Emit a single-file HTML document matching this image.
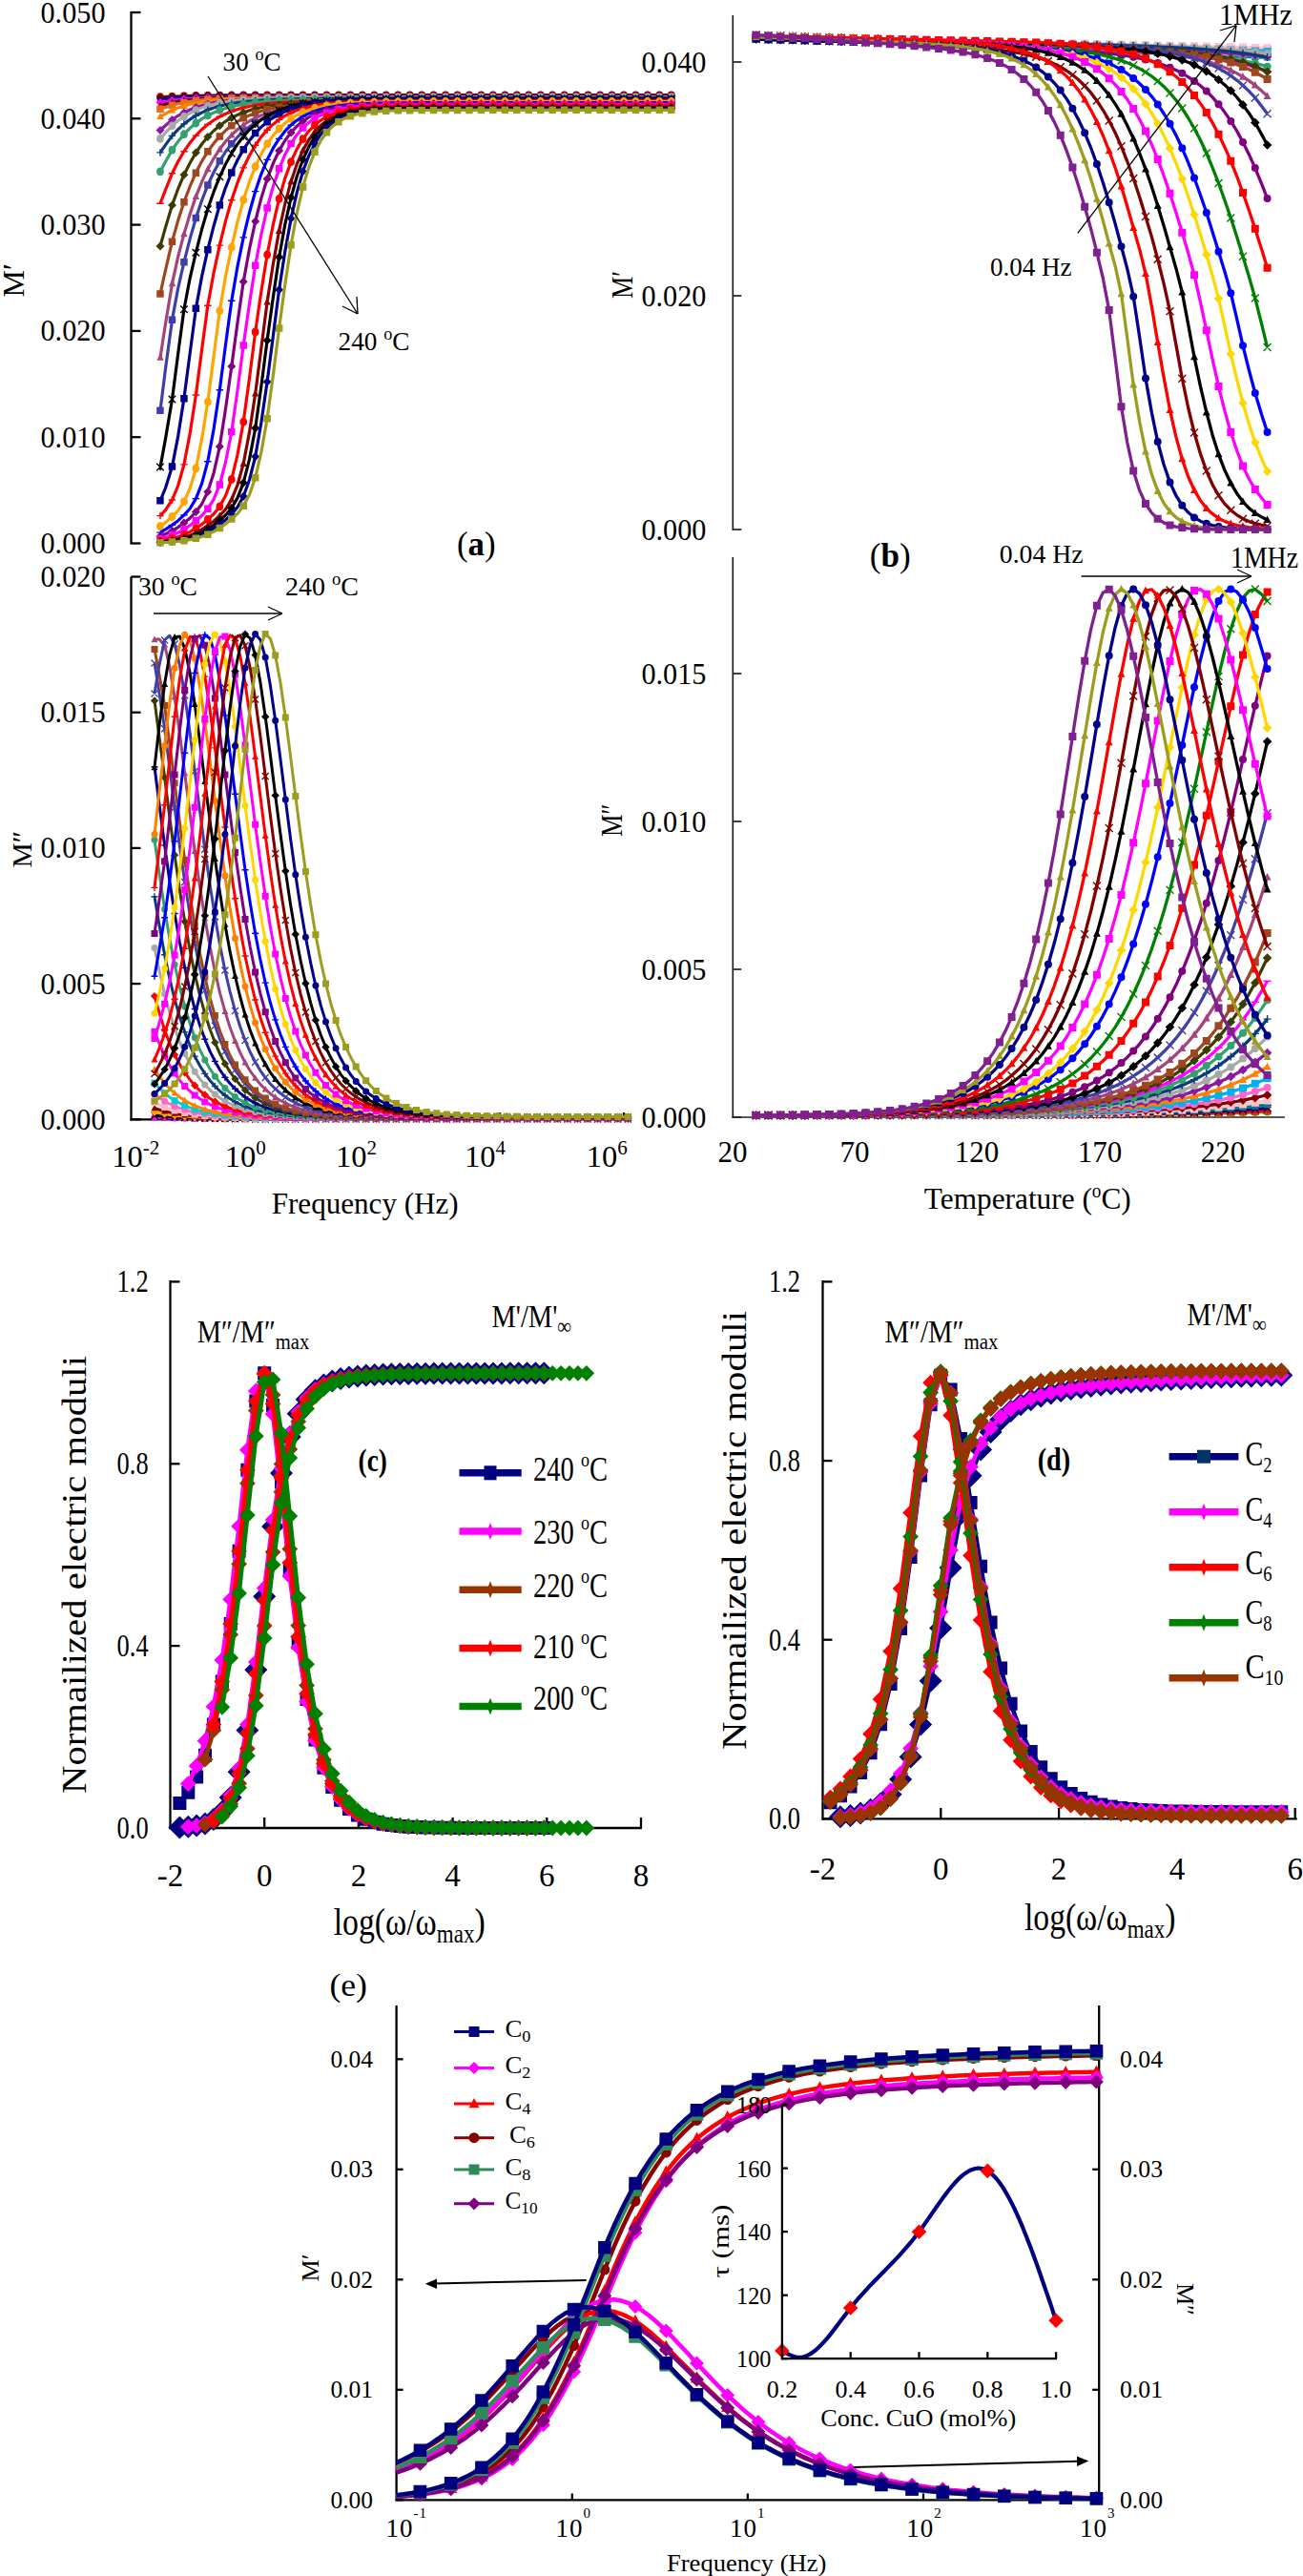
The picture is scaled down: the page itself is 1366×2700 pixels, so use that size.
<!DOCTYPE html>
<html><head><meta charset="utf-8"><title>Electric modulus figure</title>
<style>html,body{margin:0;padding:0;background:#fff;}svg{display:block;}text{font-family:"Liberation Serif", serif;}</style>
</head><body>
<svg width="1366" height="2700" viewBox="0 0 1366 2700" font-family='"Liberation Serif", serif'>
<rect width="1366" height="2700" fill="#fff"/>
<path d="M168 100.9l5.5 -0.2 7 -0.2 6.2 -0.1 6.2 -0.1 6.3 -0.1 6.2 -0.1 6.2 0 6.2 -0.1 6.3 0 6.2 -0.1 6.2 0 6.3 0 6.2 0 6.2 0 6.3 0 6.2 -0.1 6.2 0 6.2 0 6.3 0 6.2 0 6.2 0 6.3 0 6.2 0 6.2 0 6.3 0 6.2 0 6.2 0 6.2 0 6.3 0 6.2 0 6.2 0 6.3 0 6.2 0 6.2 0 6.3 0 6.2 0 6.2 0 6.2 0 6.3 0 6.2 0 6.2 0 6.3 0 6.2 0 6.2 0 6.3 0 6.2 0 6.2 0 6.3 0 6.2 0 6.2 0 6.2 0 6.3 0 6.2 0 6.2 0 6.3 0 6.2 0 6.2 0 6.3 0 6.2 0 6.2 0 6.2 0 6.3 0 6.2 0 6.2 0 6.3 0 6.2 0 6.2 0 6.3 0 6.2 0 6.2 0 6.2 0 6.3 0 6.2 0 6.2 0 6.3 0 6.2 0 6.2 0 6.3 0 6.2 0 6.2 0 6.2 0 6.3 0 6.2 0 6.2 0 7 0 5.5 0" fill="none" stroke="#FFC896" stroke-width="3.2" stroke-linejoin="round"/>
<path d="M164.2 97.2h7.5v7.5h-7.5zM176.7 96.8h7.5v7.5h-7.5zM189.2 96.5h7.5v7.5h-7.5zM201.6 96.4h7.5v7.5h-7.5zM214.1 96.3h7.5v7.5h-7.5zM226.6 96.2h7.5v7.5h-7.5zM239 96.1h7.5v7.5h-7.5zM251.5 96.1h7.5v7.5h-7.5zM263.9 96.1h7.5v7.5h-7.5zM276.4 96.1h7.5v7.5h-7.5zM288.9 96.1h7.5v7.5h-7.5zM301.3 96.1h7.5v7.5h-7.5zM313.8 96.1h7.5v7.5h-7.5zM326.2 96.1h7.5v7.5h-7.5zM338.7 96.1h7.5v7.5h-7.5zM351.2 96.1h7.5v7.5h-7.5zM363.6 96.1h7.5v7.5h-7.5zM376.1 96.1h7.5v7.5h-7.5zM388.5 96.1h7.5v7.5h-7.5zM401 96.1h7.5v7.5h-7.5zM413.5 96.1h7.5v7.5h-7.5zM425.9 96.1h7.5v7.5h-7.5zM438.4 96.1h7.5v7.5h-7.5zM450.8 96.1h7.5v7.5h-7.5zM463.3 96.1h7.5v7.5h-7.5zM475.8 96.1h7.5v7.5h-7.5zM488.2 96.1h7.5v7.5h-7.5zM500.7 96.1h7.5v7.5h-7.5zM513.1 96.1h7.5v7.5h-7.5zM525.6 96.1h7.5v7.5h-7.5zM538.1 96.1h7.5v7.5h-7.5zM550.5 96.1h7.5v7.5h-7.5zM563 96.1h7.5v7.5h-7.5zM575.4 96.1h7.5v7.5h-7.5zM587.9 96.1h7.5v7.5h-7.5zM600.4 96.1h7.5v7.5h-7.5zM612.8 96.1h7.5v7.5h-7.5zM625.3 96.1h7.5v7.5h-7.5zM637.7 96.1h7.5v7.5h-7.5zM650.2 96.1h7.5v7.5h-7.5zM662.7 96.1h7.5v7.5h-7.5zM675.1 96.1h7.5v7.5h-7.5zM687.6 96.1h7.5v7.5h-7.5zM700 96.1h7.5v7.5h-7.5z" fill="#FFC896"/>
<path d="M168 102l5.5 -0.3 7 -0.4 6.2 -0.3 6.2 -0.2 6.3 -0.2 6.2 -0.2 6.2 -0.1 6.2 -0.1 6.3 -0.1 6.2 0 6.2 -0.1 6.3 0 6.2 0 6.2 -0.1 6.3 0 6.2 0 6.2 0 6.2 0 6.3 0 6.2 -0.1 6.2 0 6.3 0 6.2 0 6.2 0 6.3 0 6.2 0 6.2 0 6.2 0 6.3 0 6.2 0 6.2 0 6.3 0 6.2 0 6.2 0 6.3 0 6.2 0 6.2 0 6.2 0 6.3 0 6.2 0 6.2 0 6.3 0 6.2 0 6.2 0 6.3 0 6.2 0 6.2 0 6.3 0 6.2 0 6.2 0 6.2 0 6.3 0 6.2 0 6.2 0 6.3 0 6.2 0 6.2 0 6.3 0 6.2 0 6.2 0 6.2 0 6.3 0 6.2 0 6.2 0 6.3 0 6.2 0 6.2 0 6.3 0 6.2 0 6.2 0 6.2 0 6.3 0 6.2 0 6.2 0 6.3 0 6.2 0 6.2 0 6.3 0 6.2 0 6.2 0 6.2 0 6.3 0 6.2 0 6.2 0 7 0 5.5 0" fill="none" stroke="#800000" stroke-width="3.2" stroke-linejoin="round"/>
<path d="M164.2 102a3.8 3.8 0 1 0 7.5 0a3.8 3.8 0 1 0 -7.5 0M176.7 101.3a3.8 3.8 0 1 0 7.5 0a3.8 3.8 0 1 0 -7.5 0M189.2 100.8a3.8 3.8 0 1 0 7.5 0a3.8 3.8 0 1 0 -7.5 0M201.6 100.4a3.8 3.8 0 1 0 7.5 0a3.8 3.8 0 1 0 -7.5 0M214.1 100.2a3.8 3.8 0 1 0 7.5 0a3.8 3.8 0 1 0 -7.5 0M226.6 100.1a3.8 3.8 0 1 0 7.5 0a3.8 3.8 0 1 0 -7.5 0M239 100a3.8 3.8 0 1 0 7.5 0a3.8 3.8 0 1 0 -7.5 0M251.5 99.9a3.8 3.8 0 1 0 7.5 0a3.8 3.8 0 1 0 -7.5 0M263.9 99.9a3.8 3.8 0 1 0 7.5 0a3.8 3.8 0 1 0 -7.5 0M276.4 99.9a3.8 3.8 0 1 0 7.5 0a3.8 3.8 0 1 0 -7.5 0M288.9 99.8a3.8 3.8 0 1 0 7.5 0a3.8 3.8 0 1 0 -7.5 0M301.3 99.8a3.8 3.8 0 1 0 7.5 0a3.8 3.8 0 1 0 -7.5 0M313.8 99.8a3.8 3.8 0 1 0 7.5 0a3.8 3.8 0 1 0 -7.5 0M326.2 99.8a3.8 3.8 0 1 0 7.5 0a3.8 3.8 0 1 0 -7.5 0M338.7 99.8a3.8 3.8 0 1 0 7.5 0a3.8 3.8 0 1 0 -7.5 0M351.2 99.8a3.8 3.8 0 1 0 7.5 0a3.8 3.8 0 1 0 -7.5 0M363.6 99.8a3.8 3.8 0 1 0 7.5 0a3.8 3.8 0 1 0 -7.5 0M376.1 99.8a3.8 3.8 0 1 0 7.5 0a3.8 3.8 0 1 0 -7.5 0M388.5 99.8a3.8 3.8 0 1 0 7.5 0a3.8 3.8 0 1 0 -7.5 0M401 99.8a3.8 3.8 0 1 0 7.5 0a3.8 3.8 0 1 0 -7.5 0M413.5 99.8a3.8 3.8 0 1 0 7.5 0a3.8 3.8 0 1 0 -7.5 0M425.9 99.8a3.8 3.8 0 1 0 7.5 0a3.8 3.8 0 1 0 -7.5 0M438.4 99.8a3.8 3.8 0 1 0 7.5 0a3.8 3.8 0 1 0 -7.5 0M450.8 99.8a3.8 3.8 0 1 0 7.5 0a3.8 3.8 0 1 0 -7.5 0M463.3 99.8a3.8 3.8 0 1 0 7.5 0a3.8 3.8 0 1 0 -7.5 0M475.8 99.8a3.8 3.8 0 1 0 7.5 0a3.8 3.8 0 1 0 -7.5 0M488.2 99.8a3.8 3.8 0 1 0 7.5 0a3.8 3.8 0 1 0 -7.5 0M500.7 99.8a3.8 3.8 0 1 0 7.5 0a3.8 3.8 0 1 0 -7.5 0M513.1 99.8a3.8 3.8 0 1 0 7.5 0a3.8 3.8 0 1 0 -7.5 0M525.6 99.8a3.8 3.8 0 1 0 7.5 0a3.8 3.8 0 1 0 -7.5 0M538.1 99.8a3.8 3.8 0 1 0 7.5 0a3.8 3.8 0 1 0 -7.5 0M550.5 99.8a3.8 3.8 0 1 0 7.5 0a3.8 3.8 0 1 0 -7.5 0M563 99.8a3.8 3.8 0 1 0 7.5 0a3.8 3.8 0 1 0 -7.5 0M575.4 99.8a3.8 3.8 0 1 0 7.5 0a3.8 3.8 0 1 0 -7.5 0M587.9 99.8a3.8 3.8 0 1 0 7.5 0a3.8 3.8 0 1 0 -7.5 0M600.4 99.8a3.8 3.8 0 1 0 7.5 0a3.8 3.8 0 1 0 -7.5 0M612.8 99.8a3.8 3.8 0 1 0 7.5 0a3.8 3.8 0 1 0 -7.5 0M625.3 99.8a3.8 3.8 0 1 0 7.5 0a3.8 3.8 0 1 0 -7.5 0M637.7 99.8a3.8 3.8 0 1 0 7.5 0a3.8 3.8 0 1 0 -7.5 0M650.2 99.8a3.8 3.8 0 1 0 7.5 0a3.8 3.8 0 1 0 -7.5 0M662.7 99.8a3.8 3.8 0 1 0 7.5 0a3.8 3.8 0 1 0 -7.5 0M675.1 99.8a3.8 3.8 0 1 0 7.5 0a3.8 3.8 0 1 0 -7.5 0M687.6 99.8a3.8 3.8 0 1 0 7.5 0a3.8 3.8 0 1 0 -7.5 0M700 99.8a3.8 3.8 0 1 0 7.5 0a3.8 3.8 0 1 0 -7.5 0" fill="#800000"/>
<path d="M168 104.3l5.5 -0.7 7 -0.9 6.2 -0.5 6.2 -0.5 6.3 -0.3 6.2 -0.3 6.2 -0.3 6.2 -0.2 6.3 -0.1 6.2 -0.2 6.2 -0.1 6.3 0 6.2 -0.1 6.2 -0.1 6.3 0 6.2 0 6.2 -0.1 6.2 0 6.3 0 6.2 0 6.2 0 6.3 0 6.2 -0.1 6.2 0 6.3 0 6.2 0 6.2 0 6.2 0 6.3 0 6.2 0 6.2 0 6.3 0 6.2 0 6.2 0 6.3 0 6.2 0 6.2 0 6.2 0 6.3 0 6.2 0 6.2 0 6.3 0 6.2 0 6.2 0 6.3 0 6.2 0 6.2 0 6.3 0 6.2 0 6.2 0 6.2 0 6.3 0 6.2 0 6.2 0 6.3 0 6.2 0 6.2 0 6.3 0 6.2 0 6.2 0 6.2 0 6.3 0 6.2 0 6.2 0 6.3 0 6.2 0 6.2 0 6.3 0 6.2 0 6.2 0 6.2 0 6.3 0 6.2 0 6.2 0 6.3 0 6.2 0 6.2 0 6.3 0 6.2 0 6.2 0 6.2 0 6.3 0 6.2 0 6.2 0 7 0 5.5 0" fill="none" stroke="#000080" stroke-width="3.2" stroke-linejoin="round"/>
<path d="M168 100.1l3.8 7.1h-7.5zM180.5 98.6l3.8 7.1h-7.5zM192.9 97.6l3.8 7.1h-7.5zM205.4 96.9l3.8 7.1h-7.5zM217.8 96.5l3.8 7.1h-7.5zM230.3 96.2l3.8 7.1h-7.5zM242.8 96l3.8 7.1h-7.5zM255.2 95.9l3.8 7.1h-7.5zM267.7 95.8l3.8 7.1h-7.5zM280.1 95.8l3.8 7.1h-7.5zM292.6 95.8l3.8 7.1h-7.5zM305.1 95.7l3.8 7.1h-7.5zM317.5 95.7l3.8 7.1h-7.5zM330 95.7l3.8 7.1h-7.5zM342.4 95.7l3.8 7.1h-7.5zM354.9 95.7l3.8 7.1h-7.5zM367.4 95.7l3.8 7.1h-7.5zM379.8 95.7l3.8 7.1h-7.5zM392.3 95.7l3.8 7.1h-7.5zM404.7 95.7l3.8 7.1h-7.5zM417.2 95.7l3.8 7.1h-7.5zM429.7 95.7l3.8 7.1h-7.5zM442.1 95.7l3.8 7.1h-7.5zM454.6 95.7l3.8 7.1h-7.5zM467.1 95.7l3.8 7.1h-7.5zM479.5 95.7l3.8 7.1h-7.5zM492 95.7l3.8 7.1h-7.5zM504.4 95.7l3.8 7.1h-7.5zM516.9 95.7l3.8 7.1h-7.5zM529.4 95.7l3.8 7.1h-7.5zM541.8 95.7l3.8 7.1h-7.5zM554.3 95.7l3.8 7.1h-7.5zM566.7 95.7l3.8 7.1h-7.5zM579.2 95.7l3.8 7.1h-7.5zM591.7 95.7l3.8 7.1h-7.5zM604.1 95.7l3.8 7.1h-7.5zM616.6 95.7l3.8 7.1h-7.5zM629 95.7l3.8 7.1h-7.5zM641.5 95.7l3.8 7.1h-7.5zM654 95.7l3.8 7.1h-7.5zM666.4 95.7l3.8 7.1h-7.5zM678.9 95.7l3.8 7.1h-7.5zM691.3 95.7l3.8 7.1h-7.5zM703.8 95.7l3.8 7.1h-7.5z" fill="#000080"/>
<path d="M168 107.6l5.5 -1 7 -1.3 6.2 -0.8 6.2 -0.7 6.3 -0.5 6.2 -0.5 6.2 -0.3 6.2 -0.3 6.3 -0.3 6.2 -0.2 6.2 -0.1 6.3 -0.1 6.2 -0.1 6.2 -0.1 6.3 -0.1 6.2 0 6.2 -0.1 6.2 0 6.3 -0.1 6.2 0 6.2 0 6.3 0 6.2 0 6.2 0 6.3 0 6.2 0 6.2 -0.1 6.2 0 6.3 0 6.2 0 6.2 0 6.3 0 6.2 0 6.2 0 6.3 0 6.2 0 6.2 0 6.2 0 6.3 0 6.2 0 6.2 0 6.3 0 6.2 0 6.2 0 6.3 0 6.2 0 6.2 0 6.3 0 6.2 0 6.2 0 6.2 0 6.3 0 6.2 0 6.2 0 6.3 0 6.2 0 6.2 0 6.3 0 6.2 0 6.2 0 6.2 0 6.3 0 6.2 0 6.2 0 6.3 0 6.2 0 6.2 0 6.3 0 6.2 0 6.2 0 6.2 0 6.3 0 6.2 0 6.2 0 6.3 0 6.2 0 6.2 0 6.3 0 6.2 0 6.2 0 6.2 0 6.3 0 6.2 0 6.2 0 7 0 5.5 0" fill="none" stroke="#FF00FF" stroke-width="3.2" stroke-linejoin="round"/>
<path d="M168 103.1l4.5 4.5l-4.5 4.5l-4.5 -4.5zM180.5 100.8l4.5 4.5l-4.5 4.5l-4.5 -4.5zM192.9 99.3l4.5 4.5l-4.5 4.5l-4.5 -4.5zM205.4 98.3l4.5 4.5l-4.5 4.5l-4.5 -4.5zM217.8 97.7l4.5 4.5l-4.5 4.5l-4.5 -4.5zM230.3 97.2l4.5 4.5l-4.5 4.5l-4.5 -4.5zM242.8 97l4.5 4.5l-4.5 4.5l-4.5 -4.5zM255.2 96.8l4.5 4.5l-4.5 4.5l-4.5 -4.5zM267.7 96.7l4.5 4.5l-4.5 4.5l-4.5 -4.5zM280.1 96.6l4.5 4.5l-4.5 4.5l-4.5 -4.5zM292.6 96.5l4.5 4.5l-4.5 4.5l-4.5 -4.5zM305.1 96.5l4.5 4.5l-4.5 4.5l-4.5 -4.5zM317.5 96.5l4.5 4.5l-4.5 4.5l-4.5 -4.5zM330 96.5l4.5 4.5l-4.5 4.5l-4.5 -4.5zM342.4 96.4l4.5 4.5l-4.5 4.5l-4.5 -4.5zM354.9 96.4l4.5 4.5l-4.5 4.5l-4.5 -4.5zM367.4 96.4l4.5 4.5l-4.5 4.5l-4.5 -4.5zM379.8 96.4l4.5 4.5l-4.5 4.5l-4.5 -4.5zM392.3 96.4l4.5 4.5l-4.5 4.5l-4.5 -4.5zM404.7 96.4l4.5 4.5l-4.5 4.5l-4.5 -4.5zM417.2 96.4l4.5 4.5l-4.5 4.5l-4.5 -4.5zM429.7 96.4l4.5 4.5l-4.5 4.5l-4.5 -4.5zM442.1 96.4l4.5 4.5l-4.5 4.5l-4.5 -4.5zM454.6 96.4l4.5 4.5l-4.5 4.5l-4.5 -4.5zM467.1 96.4l4.5 4.5l-4.5 4.5l-4.5 -4.5zM479.5 96.4l4.5 4.5l-4.5 4.5l-4.5 -4.5zM492 96.4l4.5 4.5l-4.5 4.5l-4.5 -4.5zM504.4 96.4l4.5 4.5l-4.5 4.5l-4.5 -4.5zM516.9 96.4l4.5 4.5l-4.5 4.5l-4.5 -4.5zM529.4 96.4l4.5 4.5l-4.5 4.5l-4.5 -4.5zM541.8 96.4l4.5 4.5l-4.5 4.5l-4.5 -4.5zM554.3 96.4l4.5 4.5l-4.5 4.5l-4.5 -4.5zM566.7 96.4l4.5 4.5l-4.5 4.5l-4.5 -4.5zM579.2 96.4l4.5 4.5l-4.5 4.5l-4.5 -4.5zM591.7 96.4l4.5 4.5l-4.5 4.5l-4.5 -4.5zM604.1 96.4l4.5 4.5l-4.5 4.5l-4.5 -4.5zM616.6 96.4l4.5 4.5l-4.5 4.5l-4.5 -4.5zM629 96.4l4.5 4.5l-4.5 4.5l-4.5 -4.5zM641.5 96.4l4.5 4.5l-4.5 4.5l-4.5 -4.5zM654 96.4l4.5 4.5l-4.5 4.5l-4.5 -4.5zM666.4 96.4l4.5 4.5l-4.5 4.5l-4.5 -4.5zM678.9 96.4l4.5 4.5l-4.5 4.5l-4.5 -4.5zM691.3 96.4l4.5 4.5l-4.5 4.5l-4.5 -4.5zM703.8 96.4l4.5 4.5l-4.5 4.5l-4.5 -4.5z" fill="#FF00FF"/>
<path d="M168 110.9l5.5 -1.5 7 -1.8 6.2 -1.3 6.2 -1 6.3 -0.8 6.2 -0.7 6.2 -0.5 6.2 -0.5 6.3 -0.3 6.2 -0.3 6.2 -0.3 6.3 -0.2 6.2 -0.1 6.2 -0.1 6.3 -0.2 6.2 0 6.2 -0.1 6.2 -0.1 6.3 0 6.2 0 6.2 -0.1 6.3 0 6.2 0 6.2 0 6.3 0 6.2 0 6.2 0 6.2 0 6.3 -0.1 6.2 0 6.2 0 6.3 0 6.2 0 6.2 0 6.3 0 6.2 0 6.2 0 6.2 0 6.3 0 6.2 0 6.2 0 6.3 0 6.2 0 6.2 0 6.3 0 6.2 0 6.2 0 6.3 0 6.2 0 6.2 0 6.2 0 6.3 0 6.2 0 6.2 0 6.3 0 6.2 0 6.2 0 6.3 0 6.2 0 6.2 0 6.2 0 6.3 0 6.2 0 6.2 0 6.3 0 6.2 0 6.2 0 6.3 0 6.2 0 6.2 0 6.2 0 6.3 0 6.2 0 6.2 0 6.3 0 6.2 0 6.2 0 6.3 0 6.2 0 6.2 0 6.2 0 6.3 0 6.2 0 6.2 0 7 0 5.5 0" fill="none" stroke="#6A0000" stroke-width="3.2" stroke-linejoin="round"/>
<path d="M168 106.8l3.8 7.1h-7.5zM180.5 103.4l3.8 7.1h-7.5zM192.9 101.2l3.8 7.1h-7.5zM205.4 99.7l3.8 7.1h-7.5zM217.8 98.7l3.8 7.1h-7.5zM230.3 98l3.8 7.1h-7.5zM242.8 97.6l3.8 7.1h-7.5zM255.2 97.3l3.8 7.1h-7.5zM267.7 97.1l3.8 7.1h-7.5zM280.1 97l3.8 7.1h-7.5zM292.6 96.9l3.8 7.1h-7.5zM305.1 96.9l3.8 7.1h-7.5zM317.5 96.9l3.8 7.1h-7.5zM330 96.8l3.8 7.1h-7.5zM342.4 96.8l3.8 7.1h-7.5zM354.9 96.8l3.8 7.1h-7.5zM367.4 96.8l3.8 7.1h-7.5zM379.8 96.8l3.8 7.1h-7.5zM392.3 96.8l3.8 7.1h-7.5zM404.7 96.8l3.8 7.1h-7.5zM417.2 96.8l3.8 7.1h-7.5zM429.7 96.8l3.8 7.1h-7.5zM442.1 96.8l3.8 7.1h-7.5zM454.6 96.8l3.8 7.1h-7.5zM467.1 96.8l3.8 7.1h-7.5zM479.5 96.8l3.8 7.1h-7.5zM492 96.8l3.8 7.1h-7.5zM504.4 96.8l3.8 7.1h-7.5zM516.9 96.8l3.8 7.1h-7.5zM529.4 96.8l3.8 7.1h-7.5zM541.8 96.8l3.8 7.1h-7.5zM554.3 96.8l3.8 7.1h-7.5zM566.7 96.8l3.8 7.1h-7.5zM579.2 96.8l3.8 7.1h-7.5zM591.7 96.8l3.8 7.1h-7.5zM604.1 96.8l3.8 7.1h-7.5zM616.6 96.8l3.8 7.1h-7.5zM629 96.8l3.8 7.1h-7.5zM641.5 96.8l3.8 7.1h-7.5zM654 96.8l3.8 7.1h-7.5zM666.4 96.8l3.8 7.1h-7.5zM678.9 96.8l3.8 7.1h-7.5zM691.3 96.8l3.8 7.1h-7.5zM703.8 96.8l3.8 7.1h-7.5z" fill="#6A0000"/>
<path d="M168 114.3l5.5 -1.9 7 -2.2 6.2 -1.5 6.2 -1.3 6.3 -1 6.2 -0.8 6.2 -0.7 6.2 -0.5 6.3 -0.5 6.2 -0.3 6.2 -0.3 6.3 -0.3 6.2 -0.2 6.2 -0.1 6.3 -0.1 6.2 -0.1 6.2 -0.1 6.2 -0.1 6.3 0 6.2 -0.1 6.2 0 6.3 0 6.2 -0.1 6.2 0 6.3 0 6.2 0 6.2 0 6.2 0 6.3 0 6.2 0 6.2 0 6.3 0 6.2 0 6.2 -0.1 6.3 0 6.2 0 6.2 0 6.2 0 6.3 0 6.2 0 6.2 0 6.3 0 6.2 0 6.2 0 6.3 0 6.2 0 6.2 0 6.3 0 6.2 0 6.2 0 6.2 0 6.3 0 6.2 0 6.2 0 6.3 0 6.2 0 6.2 0 6.3 0 6.2 0 6.2 0 6.2 0 6.3 0 6.2 0 6.2 0 6.3 0 6.2 0 6.2 0 6.3 0 6.2 0 6.2 0 6.2 0 6.3 0 6.2 0 6.2 0 6.3 0 6.2 0 6.2 0 6.3 0 6.2 0 6.2 0 6.2 0 6.3 0 6.2 0 6.2 0 7 0 5.5 0" fill="none" stroke="#E07020" stroke-width="3.2" stroke-linejoin="round"/>
<path d="M164.2 110.5h7.5v7.5h-7.5zM176.7 106.4h7.5v7.5h-7.5zM189.2 103.7h7.5v7.5h-7.5zM201.6 101.8h7.5v7.5h-7.5zM214.1 100.6h7.5v7.5h-7.5zM226.6 99.8h7.5v7.5h-7.5zM239 99.3h7.5v7.5h-7.5zM251.5 98.9h7.5v7.5h-7.5zM263.9 98.7h7.5v7.5h-7.5zM276.4 98.6h7.5v7.5h-7.5zM288.9 98.5h7.5v7.5h-7.5zM301.3 98.4h7.5v7.5h-7.5zM313.8 98.4h7.5v7.5h-7.5zM326.2 98.3h7.5v7.5h-7.5zM338.7 98.3h7.5v7.5h-7.5zM351.2 98.3h7.5v7.5h-7.5zM363.6 98.3h7.5v7.5h-7.5zM376.1 98.3h7.5v7.5h-7.5zM388.5 98.3h7.5v7.5h-7.5zM401 98.3h7.5v7.5h-7.5zM413.5 98.3h7.5v7.5h-7.5zM425.9 98.3h7.5v7.5h-7.5zM438.4 98.3h7.5v7.5h-7.5zM450.8 98.3h7.5v7.5h-7.5zM463.3 98.3h7.5v7.5h-7.5zM475.8 98.3h7.5v7.5h-7.5zM488.2 98.3h7.5v7.5h-7.5zM500.7 98.3h7.5v7.5h-7.5zM513.1 98.3h7.5v7.5h-7.5zM525.6 98.3h7.5v7.5h-7.5zM538.1 98.3h7.5v7.5h-7.5zM550.5 98.3h7.5v7.5h-7.5zM563 98.3h7.5v7.5h-7.5zM575.4 98.3h7.5v7.5h-7.5zM587.9 98.3h7.5v7.5h-7.5zM600.4 98.3h7.5v7.5h-7.5zM612.8 98.3h7.5v7.5h-7.5zM625.3 98.3h7.5v7.5h-7.5zM637.7 98.3h7.5v7.5h-7.5zM650.2 98.3h7.5v7.5h-7.5zM662.7 98.3h7.5v7.5h-7.5zM675.1 98.3h7.5v7.5h-7.5zM687.6 98.3h7.5v7.5h-7.5zM700 98.3h7.5v7.5h-7.5z" fill="#E07020"/>
<path d="M168 122.1l5.5 -3 7 -3.6 6.2 -2.5 6.2 -2 6.3 -1.7 6.2 -1.3 6.2 -1.1 6.2 -0.9 6.3 -0.8 6.2 -0.6 6.2 -0.5 6.3 -0.4 6.2 -0.3 6.2 -0.3 6.3 -0.2 6.2 -0.1 6.2 -0.2 6.2 -0.1 6.3 -0.1 6.2 -0.1 6.2 0 6.3 -0.1 6.2 0 6.2 0 6.3 -0.1 6.2 0 6.2 0 6.2 0 6.3 0 6.2 0 6.2 0 6.3 0 6.2 0 6.2 0 6.3 0 6.2 -0.1 6.2 0 6.2 0 6.3 0 6.2 0 6.2 0 6.3 0 6.2 0 6.2 0 6.3 0 6.2 0 6.2 0 6.3 0 6.2 0 6.2 0 6.2 0 6.3 0 6.2 0 6.2 0 6.3 0 6.2 0 6.2 0 6.3 0 6.2 0 6.2 0 6.2 0 6.3 0 6.2 0 6.2 0 6.3 0 6.2 0 6.2 0 6.3 0 6.2 0 6.2 0 6.2 0 6.3 0 6.2 0 6.2 0 6.3 0 6.2 0 6.2 0 6.3 0 6.2 0 6.2 0 6.2 0 6.3 0 6.2 0 6.2 0 7 0 5.5 0" fill="none" stroke="#FF7F00" stroke-width="3.2" stroke-linejoin="round"/>
<path d="M168 117.9l3.8 7.1h-7.5zM180.5 111.4l3.8 7.1h-7.5zM192.9 106.9l3.8 7.1h-7.5zM205.4 103.8l3.8 7.1h-7.5zM217.8 101.8l3.8 7.1h-7.5zM230.3 100.5l3.8 7.1h-7.5zM242.8 99.6l3.8 7.1h-7.5zM255.2 99l3.8 7.1h-7.5zM267.7 98.6l3.8 7.1h-7.5zM280.1 98.4l3.8 7.1h-7.5zM292.6 98.2l3.8 7.1h-7.5zM305.1 98.1l3.8 7.1h-7.5zM317.5 98l3.8 7.1h-7.5zM330 98l3.8 7.1h-7.5zM342.4 98l3.8 7.1h-7.5zM354.9 98l3.8 7.1h-7.5zM367.4 97.9l3.8 7.1h-7.5zM379.8 97.9l3.8 7.1h-7.5zM392.3 97.9l3.8 7.1h-7.5zM404.7 97.9l3.8 7.1h-7.5zM417.2 97.9l3.8 7.1h-7.5zM429.7 97.9l3.8 7.1h-7.5zM442.1 97.9l3.8 7.1h-7.5zM454.6 97.9l3.8 7.1h-7.5zM467.1 97.9l3.8 7.1h-7.5zM479.5 97.9l3.8 7.1h-7.5zM492 97.9l3.8 7.1h-7.5zM504.4 97.9l3.8 7.1h-7.5zM516.9 97.9l3.8 7.1h-7.5zM529.4 97.9l3.8 7.1h-7.5zM541.8 97.9l3.8 7.1h-7.5zM554.3 97.9l3.8 7.1h-7.5zM566.7 97.9l3.8 7.1h-7.5zM579.2 97.9l3.8 7.1h-7.5zM591.7 97.9l3.8 7.1h-7.5zM604.1 97.9l3.8 7.1h-7.5zM616.6 97.9l3.8 7.1h-7.5zM629 97.9l3.8 7.1h-7.5zM641.5 97.9l3.8 7.1h-7.5zM654 97.9l3.8 7.1h-7.5zM666.4 97.9l3.8 7.1h-7.5zM678.9 97.9l3.8 7.1h-7.5zM691.3 97.9l3.8 7.1h-7.5zM703.8 97.9l3.8 7.1h-7.5z" fill="#FF7F00"/>
<path d="M168 136.5l5.5 -5 7 -6 6.2 -4.2 6.2 -3.4 6.3 -2.9 6.2 -2.4 6.2 -2 6.2 -1.5 6.3 -1.4 6.2 -1 6.2 -0.9 6.3 -0.7 6.2 -0.6 6.2 -0.5 6.3 -0.3 6.2 -0.4 6.2 -0.2 6.2 -0.2 6.3 -0.2 6.2 -0.1 6.2 -0.1 6.3 -0.1 6.2 -0.1 6.2 0 6.3 -0.1 6.2 0 6.2 0 6.2 -0.1 6.3 0 6.2 0 6.2 0 6.3 0 6.2 0 6.2 0 6.3 0 6.2 0 6.2 0 6.2 0 6.3 -0.1 6.2 0 6.2 0 6.3 0 6.2 0 6.2 0 6.3 0 6.2 0 6.2 0 6.3 0 6.2 0 6.2 0 6.2 0 6.3 0 6.2 0 6.2 0 6.3 0 6.2 0 6.2 0 6.3 0 6.2 0 6.2 0 6.2 0 6.3 0 6.2 0 6.2 0 6.3 0 6.2 0 6.2 0 6.3 0 6.2 0 6.2 0 6.2 0 6.3 0 6.2 0 6.2 0 6.3 0 6.2 0 6.2 0 6.3 0 6.2 0 6.2 0 6.2 0 6.3 0 6.2 0 6.2 0 7 0 5.5 0" fill="none" stroke="#8A1AA0" stroke-width="3.2" stroke-linejoin="round"/>
<path d="M168 132l4.5 4.5l-4.5 4.5l-4.5 -4.5zM180.5 121l4.5 4.5l-4.5 4.5l-4.5 -4.5zM192.9 113.4l4.5 4.5l-4.5 4.5l-4.5 -4.5zM205.4 108.1l4.5 4.5l-4.5 4.5l-4.5 -4.5zM217.8 104.6l4.5 4.5l-4.5 4.5l-4.5 -4.5zM230.3 102.2l4.5 4.5l-4.5 4.5l-4.5 -4.5zM242.8 100.6l4.5 4.5l-4.5 4.5l-4.5 -4.5zM255.2 99.5l4.5 4.5l-4.5 4.5l-4.5 -4.5zM267.7 98.8l4.5 4.5l-4.5 4.5l-4.5 -4.5zM280.1 98.4l4.5 4.5l-4.5 4.5l-4.5 -4.5zM292.6 98.1l4.5 4.5l-4.5 4.5l-4.5 -4.5zM305.1 97.9l4.5 4.5l-4.5 4.5l-4.5 -4.5zM317.5 97.8l4.5 4.5l-4.5 4.5l-4.5 -4.5zM330 97.7l4.5 4.5l-4.5 4.5l-4.5 -4.5zM342.4 97.6l4.5 4.5l-4.5 4.5l-4.5 -4.5zM354.9 97.6l4.5 4.5l-4.5 4.5l-4.5 -4.5zM367.4 97.6l4.5 4.5l-4.5 4.5l-4.5 -4.5zM379.8 97.6l4.5 4.5l-4.5 4.5l-4.5 -4.5zM392.3 97.6l4.5 4.5l-4.5 4.5l-4.5 -4.5zM404.7 97.6l4.5 4.5l-4.5 4.5l-4.5 -4.5zM417.2 97.5l4.5 4.5l-4.5 4.5l-4.5 -4.5zM429.7 97.5l4.5 4.5l-4.5 4.5l-4.5 -4.5zM442.1 97.5l4.5 4.5l-4.5 4.5l-4.5 -4.5zM454.6 97.5l4.5 4.5l-4.5 4.5l-4.5 -4.5zM467.1 97.5l4.5 4.5l-4.5 4.5l-4.5 -4.5zM479.5 97.5l4.5 4.5l-4.5 4.5l-4.5 -4.5zM492 97.5l4.5 4.5l-4.5 4.5l-4.5 -4.5zM504.4 97.5l4.5 4.5l-4.5 4.5l-4.5 -4.5zM516.9 97.5l4.5 4.5l-4.5 4.5l-4.5 -4.5zM529.4 97.5l4.5 4.5l-4.5 4.5l-4.5 -4.5zM541.8 97.5l4.5 4.5l-4.5 4.5l-4.5 -4.5zM554.3 97.5l4.5 4.5l-4.5 4.5l-4.5 -4.5zM566.7 97.5l4.5 4.5l-4.5 4.5l-4.5 -4.5zM579.2 97.5l4.5 4.5l-4.5 4.5l-4.5 -4.5zM591.7 97.5l4.5 4.5l-4.5 4.5l-4.5 -4.5zM604.1 97.5l4.5 4.5l-4.5 4.5l-4.5 -4.5zM616.6 97.5l4.5 4.5l-4.5 4.5l-4.5 -4.5zM629 97.5l4.5 4.5l-4.5 4.5l-4.5 -4.5zM641.5 97.5l4.5 4.5l-4.5 4.5l-4.5 -4.5zM654 97.5l4.5 4.5l-4.5 4.5l-4.5 -4.5zM666.4 97.5l4.5 4.5l-4.5 4.5l-4.5 -4.5zM678.9 97.5l4.5 4.5l-4.5 4.5l-4.5 -4.5zM691.3 97.5l4.5 4.5l-4.5 4.5l-4.5 -4.5zM703.8 97.5l4.5 4.5l-4.5 4.5l-4.5 -4.5z" fill="#8A1AA0"/>
<path d="M168 145.4l5.5 -6.2 7 -7.4 6.2 -5.3 6.2 -4.3 6.3 -3.6 6.2 -3 6.2 -2.5 6.2 -2.1 6.3 -1.6 6.2 -1.4 6.2 -1.1 6.3 -0.9 6.2 -0.8 6.2 -0.6 6.3 -0.5 6.2 -0.4 6.2 -0.3 6.2 -0.3 6.3 -0.2 6.2 -0.1 6.2 -0.2 6.3 -0.1 6.2 -0.1 6.2 -0.1 6.3 0 6.2 -0.1 6.2 0 6.2 0 6.3 -0.1 6.2 0 6.2 0 6.3 0 6.2 0 6.2 0 6.3 0 6.2 0 6.2 0 6.2 0 6.3 0 6.2 -0.1 6.2 0 6.3 0 6.2 0 6.2 0 6.3 0 6.2 0 6.2 0 6.3 0 6.2 0 6.2 0 6.2 0 6.3 0 6.2 0 6.2 0 6.3 0 6.2 0 6.2 0 6.3 0 6.2 0 6.2 0 6.2 0 6.3 0 6.2 0 6.2 0 6.3 0 6.2 0 6.2 0 6.3 0 6.2 0 6.2 0 6.2 0 6.3 0 6.2 0 6.2 0 6.3 0 6.2 0 6.2 0 6.3 0 6.2 0 6.2 0 6.2 0 6.3 0 6.2 0 6.2 0 7 0 5.5 0" fill="none" stroke="#A8A8A8" stroke-width="3.2" stroke-linejoin="round"/>
<path d="M164.2 145.4a3.8 3.8 0 1 0 7.5 0a3.8 3.8 0 1 0 -7.5 0M176.7 131.8a3.8 3.8 0 1 0 7.5 0a3.8 3.8 0 1 0 -7.5 0M189.2 122.2a3.8 3.8 0 1 0 7.5 0a3.8 3.8 0 1 0 -7.5 0M201.6 115.6a3.8 3.8 0 1 0 7.5 0a3.8 3.8 0 1 0 -7.5 0M214.1 111a3.8 3.8 0 1 0 7.5 0a3.8 3.8 0 1 0 -7.5 0M226.6 108a3.8 3.8 0 1 0 7.5 0a3.8 3.8 0 1 0 -7.5 0M239 106a3.8 3.8 0 1 0 7.5 0a3.8 3.8 0 1 0 -7.5 0M251.5 104.6a3.8 3.8 0 1 0 7.5 0a3.8 3.8 0 1 0 -7.5 0M263.9 103.7a3.8 3.8 0 1 0 7.5 0a3.8 3.8 0 1 0 -7.5 0M276.4 103.1a3.8 3.8 0 1 0 7.5 0a3.8 3.8 0 1 0 -7.5 0M288.9 102.8a3.8 3.8 0 1 0 7.5 0a3.8 3.8 0 1 0 -7.5 0M301.3 102.5a3.8 3.8 0 1 0 7.5 0a3.8 3.8 0 1 0 -7.5 0M313.8 102.3a3.8 3.8 0 1 0 7.5 0a3.8 3.8 0 1 0 -7.5 0M326.2 102.2a3.8 3.8 0 1 0 7.5 0a3.8 3.8 0 1 0 -7.5 0M338.7 102.2a3.8 3.8 0 1 0 7.5 0a3.8 3.8 0 1 0 -7.5 0M351.2 102.1a3.8 3.8 0 1 0 7.5 0a3.8 3.8 0 1 0 -7.5 0M363.6 102.1a3.8 3.8 0 1 0 7.5 0a3.8 3.8 0 1 0 -7.5 0M376.1 102.1a3.8 3.8 0 1 0 7.5 0a3.8 3.8 0 1 0 -7.5 0M388.5 102.1a3.8 3.8 0 1 0 7.5 0a3.8 3.8 0 1 0 -7.5 0M401 102.1a3.8 3.8 0 1 0 7.5 0a3.8 3.8 0 1 0 -7.5 0M413.5 102a3.8 3.8 0 1 0 7.5 0a3.8 3.8 0 1 0 -7.5 0M425.9 102a3.8 3.8 0 1 0 7.5 0a3.8 3.8 0 1 0 -7.5 0M438.4 102a3.8 3.8 0 1 0 7.5 0a3.8 3.8 0 1 0 -7.5 0M450.8 102a3.8 3.8 0 1 0 7.5 0a3.8 3.8 0 1 0 -7.5 0M463.3 102a3.8 3.8 0 1 0 7.5 0a3.8 3.8 0 1 0 -7.5 0M475.8 102a3.8 3.8 0 1 0 7.5 0a3.8 3.8 0 1 0 -7.5 0M488.2 102a3.8 3.8 0 1 0 7.5 0a3.8 3.8 0 1 0 -7.5 0M500.7 102a3.8 3.8 0 1 0 7.5 0a3.8 3.8 0 1 0 -7.5 0M513.1 102a3.8 3.8 0 1 0 7.5 0a3.8 3.8 0 1 0 -7.5 0M525.6 102a3.8 3.8 0 1 0 7.5 0a3.8 3.8 0 1 0 -7.5 0M538.1 102a3.8 3.8 0 1 0 7.5 0a3.8 3.8 0 1 0 -7.5 0M550.5 102a3.8 3.8 0 1 0 7.5 0a3.8 3.8 0 1 0 -7.5 0M563 102a3.8 3.8 0 1 0 7.5 0a3.8 3.8 0 1 0 -7.5 0M575.4 102a3.8 3.8 0 1 0 7.5 0a3.8 3.8 0 1 0 -7.5 0M587.9 102a3.8 3.8 0 1 0 7.5 0a3.8 3.8 0 1 0 -7.5 0M600.4 102a3.8 3.8 0 1 0 7.5 0a3.8 3.8 0 1 0 -7.5 0M612.8 102a3.8 3.8 0 1 0 7.5 0a3.8 3.8 0 1 0 -7.5 0M625.3 102a3.8 3.8 0 1 0 7.5 0a3.8 3.8 0 1 0 -7.5 0M637.7 102a3.8 3.8 0 1 0 7.5 0a3.8 3.8 0 1 0 -7.5 0M650.2 102a3.8 3.8 0 1 0 7.5 0a3.8 3.8 0 1 0 -7.5 0M662.7 102a3.8 3.8 0 1 0 7.5 0a3.8 3.8 0 1 0 -7.5 0M675.1 102a3.8 3.8 0 1 0 7.5 0a3.8 3.8 0 1 0 -7.5 0M687.6 102a3.8 3.8 0 1 0 7.5 0a3.8 3.8 0 1 0 -7.5 0M700 102a3.8 3.8 0 1 0 7.5 0a3.8 3.8 0 1 0 -7.5 0" fill="#A8A8A8"/>
<path d="M168 159.9l5.5 -8 7 -9.5 6.2 -6.8 6.2 -5.7 6.3 -4.7 6.2 -4 6.2 -3.2 6.2 -2.7 6.3 -2.3 6.2 -1.8 6.2 -1.5 6.3 -1.2 6.2 -1 6.2 -0.8 6.3 -0.7 6.2 -0.5 6.2 -0.5 6.2 -0.3 6.3 -0.3 6.2 -0.3 6.2 -0.2 6.3 -0.1 6.2 -0.1 6.2 -0.1 6.3 -0.1 6.2 -0.1 6.2 0 6.2 -0.1 6.3 0 6.2 0 6.2 -0.1 6.3 0 6.2 0 6.2 0 6.3 0 6.2 0 6.2 0 6.2 0 6.3 0 6.2 0 6.2 0 6.3 0 6.2 0 6.2 0 6.3 0 6.2 0 6.2 0 6.3 0 6.2 0 6.2 0 6.2 0 6.3 0 6.2 0 6.2 0 6.3 0 6.2 0 6.2 0 6.3 0 6.2 0 6.2 0 6.2 0 6.3 0 6.2 0 6.2 0 6.3 0 6.2 0 6.2 0 6.3 0 6.2 0 6.2 0 6.2 0 6.3 0 6.2 0 6.2 0 6.3 0 6.2 0 6.2 0 6.3 0 6.2 0 6.2 0 6.2 0 6.3 0 6.2 0 6.2 0 7 0 5.5 0" fill="none" stroke="#0A3C7C" stroke-width="3.2" stroke-linejoin="round"/>
<path d="M164.2 159.9h7.5M168 156.2v7.5M176.7 142.4h7.5M180.5 138.6v7.5M189.2 129.9h7.5M192.9 126.2v7.5M201.6 121.2h7.5M205.4 117.5v7.5M214.1 115.3h7.5M217.8 111.5v7.5M226.6 111.2h7.5M230.3 107.5v7.5M239 108.5h7.5M242.8 104.7v7.5M251.5 106.7h7.5M255.2 102.9v7.5M263.9 105.5h7.5M267.7 101.7v7.5M276.4 104.7h7.5M280.1 100.9v7.5M288.9 104.1h7.5M292.6 100.4v7.5M301.3 103.8h7.5M305.1 100v7.5M313.8 103.6h7.5M317.5 99.8v7.5M326.2 103.4h7.5M330 99.7v7.5M338.7 103.3h7.5M342.4 99.6v7.5M351.2 103.3h7.5M354.9 99.5v7.5M363.6 103.2h7.5M367.4 99.5v7.5M376.1 103.2h7.5M379.8 99.5v7.5M388.5 103.2h7.5M392.3 99.4v7.5M401 103.2h7.5M404.7 99.4v7.5M413.5 103.2h7.5M417.2 99.4v7.5M425.9 103.2h7.5M429.7 99.4v7.5M438.4 103.2h7.5M442.1 99.4v7.5M450.8 103.2h7.5M454.6 99.4v7.5M463.3 103.2h7.5M467.1 99.4v7.5M475.8 103.2h7.5M479.5 99.4v7.5M488.2 103.2h7.5M492 99.4v7.5M500.7 103.2h7.5M504.4 99.4v7.5M513.1 103.2h7.5M516.9 99.4v7.5M525.6 103.2h7.5M529.4 99.4v7.5M538.1 103.2h7.5M541.8 99.4v7.5M550.5 103.2h7.5M554.3 99.4v7.5M563 103.2h7.5M566.7 99.4v7.5M575.4 103.2h7.5M579.2 99.4v7.5M587.9 103.2h7.5M591.7 99.4v7.5M600.4 103.2h7.5M604.1 99.4v7.5M612.8 103.2h7.5M616.6 99.4v7.5M625.3 103.2h7.5M629 99.4v7.5M637.7 103.2h7.5M641.5 99.4v7.5M650.2 103.2h7.5M654 99.4v7.5M662.7 103.2h7.5M666.4 99.4v7.5M675.1 103.2h7.5M678.9 99.4v7.5M687.6 103.2h7.5M691.3 99.4v7.5M700 103.2h7.5M703.8 99.4v7.5" stroke="#0A3C7C" stroke-width="1.4" fill="none"/>
<path d="M168 180l5.5 -10.5 7 -12.4 6.2 -8.9 6.2 -7.5 6.3 -6.4 6.2 -5.2 6.2 -4.5 6.2 -3.6 6.3 -3 6.2 -2.5 6.2 -2.1 6.3 -1.7 6.2 -1.4 6.2 -1.1 6.3 -1 6.2 -0.7 6.2 -0.6 6.2 -0.5 6.3 -0.4 6.2 -0.3 6.2 -0.3 6.3 -0.2 6.2 -0.2 6.2 -0.1 6.3 -0.2 6.2 0 6.2 -0.1 6.2 -0.1 6.3 0 6.2 -0.1 6.2 0 6.3 0 6.2 0 6.2 -0.1 6.3 0 6.2 0 6.2 0 6.2 0 6.3 0 6.2 0 6.2 0 6.3 0 6.2 0 6.2 0 6.3 0 6.2 0 6.2 0 6.3 0 6.2 0 6.2 0 6.2 0 6.3 0 6.2 0 6.2 0 6.3 0 6.2 0 6.2 0 6.3 0 6.2 0 6.2 0 6.2 0 6.3 0 6.2 0 6.2 0 6.3 0 6.2 0 6.2 0 6.3 0 6.2 0 6.2 0 6.2 0 6.3 0 6.2 0 6.2 0 6.3 0 6.2 0 6.2 0 6.3 0 6.2 0 6.2 0 6.2 0 6.3 0 6.2 0 6.2 0 7 0 5.5 0" fill="none" stroke="#33A070" stroke-width="3.2" stroke-linejoin="round"/>
<path d="M164.2 179.9a3.8 3.8 0 1 0 7.5 0a3.8 3.8 0 1 0 -7.5 0M176.7 157.1a3.8 3.8 0 1 0 7.5 0a3.8 3.8 0 1 0 -7.5 0M189.2 140.7a3.8 3.8 0 1 0 7.5 0a3.8 3.8 0 1 0 -7.5 0M201.6 129.1a3.8 3.8 0 1 0 7.5 0a3.8 3.8 0 1 0 -7.5 0M214.1 121a3.8 3.8 0 1 0 7.5 0a3.8 3.8 0 1 0 -7.5 0M226.6 115.5a3.8 3.8 0 1 0 7.5 0a3.8 3.8 0 1 0 -7.5 0M239 111.7a3.8 3.8 0 1 0 7.5 0a3.8 3.8 0 1 0 -7.5 0M251.5 109.2a3.8 3.8 0 1 0 7.5 0a3.8 3.8 0 1 0 -7.5 0M263.9 107.5a3.8 3.8 0 1 0 7.5 0a3.8 3.8 0 1 0 -7.5 0M276.4 106.4a3.8 3.8 0 1 0 7.5 0a3.8 3.8 0 1 0 -7.5 0M288.9 105.7a3.8 3.8 0 1 0 7.5 0a3.8 3.8 0 1 0 -7.5 0M301.3 105.2a3.8 3.8 0 1 0 7.5 0a3.8 3.8 0 1 0 -7.5 0M313.8 104.9a3.8 3.8 0 1 0 7.5 0a3.8 3.8 0 1 0 -7.5 0M326.2 104.7a3.8 3.8 0 1 0 7.5 0a3.8 3.8 0 1 0 -7.5 0M338.7 104.5a3.8 3.8 0 1 0 7.5 0a3.8 3.8 0 1 0 -7.5 0M351.2 104.4a3.8 3.8 0 1 0 7.5 0a3.8 3.8 0 1 0 -7.5 0M363.6 104.4a3.8 3.8 0 1 0 7.5 0a3.8 3.8 0 1 0 -7.5 0M376.1 104.3a3.8 3.8 0 1 0 7.5 0a3.8 3.8 0 1 0 -7.5 0M388.5 104.3a3.8 3.8 0 1 0 7.5 0a3.8 3.8 0 1 0 -7.5 0M401 104.3a3.8 3.8 0 1 0 7.5 0a3.8 3.8 0 1 0 -7.5 0M413.5 104.3a3.8 3.8 0 1 0 7.5 0a3.8 3.8 0 1 0 -7.5 0M425.9 104.3a3.8 3.8 0 1 0 7.5 0a3.8 3.8 0 1 0 -7.5 0M438.4 104.3a3.8 3.8 0 1 0 7.5 0a3.8 3.8 0 1 0 -7.5 0M450.8 104.3a3.8 3.8 0 1 0 7.5 0a3.8 3.8 0 1 0 -7.5 0M463.3 104.3a3.8 3.8 0 1 0 7.5 0a3.8 3.8 0 1 0 -7.5 0M475.8 104.3a3.8 3.8 0 1 0 7.5 0a3.8 3.8 0 1 0 -7.5 0M488.2 104.3a3.8 3.8 0 1 0 7.5 0a3.8 3.8 0 1 0 -7.5 0M500.7 104.3a3.8 3.8 0 1 0 7.5 0a3.8 3.8 0 1 0 -7.5 0M513.1 104.3a3.8 3.8 0 1 0 7.5 0a3.8 3.8 0 1 0 -7.5 0M525.6 104.3a3.8 3.8 0 1 0 7.5 0a3.8 3.8 0 1 0 -7.5 0M538.1 104.3a3.8 3.8 0 1 0 7.5 0a3.8 3.8 0 1 0 -7.5 0M550.5 104.3a3.8 3.8 0 1 0 7.5 0a3.8 3.8 0 1 0 -7.5 0M563 104.3a3.8 3.8 0 1 0 7.5 0a3.8 3.8 0 1 0 -7.5 0M575.4 104.3a3.8 3.8 0 1 0 7.5 0a3.8 3.8 0 1 0 -7.5 0M587.9 104.3a3.8 3.8 0 1 0 7.5 0a3.8 3.8 0 1 0 -7.5 0M600.4 104.3a3.8 3.8 0 1 0 7.5 0a3.8 3.8 0 1 0 -7.5 0M612.8 104.3a3.8 3.8 0 1 0 7.5 0a3.8 3.8 0 1 0 -7.5 0M625.3 104.3a3.8 3.8 0 1 0 7.5 0a3.8 3.8 0 1 0 -7.5 0M637.7 104.3a3.8 3.8 0 1 0 7.5 0a3.8 3.8 0 1 0 -7.5 0M650.2 104.3a3.8 3.8 0 1 0 7.5 0a3.8 3.8 0 1 0 -7.5 0M662.7 104.3a3.8 3.8 0 1 0 7.5 0a3.8 3.8 0 1 0 -7.5 0M675.1 104.3a3.8 3.8 0 1 0 7.5 0a3.8 3.8 0 1 0 -7.5 0M687.6 104.3a3.8 3.8 0 1 0 7.5 0a3.8 3.8 0 1 0 -7.5 0M700 104.3a3.8 3.8 0 1 0 7.5 0a3.8 3.8 0 1 0 -7.5 0" fill="#33A070"/>
<path d="M168 213.3l5.5 -14.3 7 -17.3 6.2 -12.5 6.2 -10.5 6.3 -9 6.2 -7.6 6.2 -6.4 6.2 -5.3 6.3 -4.4 6.2 -3.7 6.2 -3.1 6.3 -2.5 6.2 -2.1 6.2 -1.7 6.3 -1.4 6.2 -1.2 6.2 -0.9 6.2 -0.8 6.3 -0.6 6.2 -0.5 6.2 -0.4 6.3 -0.3 6.2 -0.3 6.2 -0.2 6.3 -0.2 6.2 -0.1 6.2 -0.1 6.2 -0.1 6.3 -0.1 6.2 -0.1 6.2 0 6.3 -0.1 6.2 0 6.2 0 6.3 0 6.2 -0.1 6.2 0 6.2 0 6.3 0 6.2 0 6.2 0 6.3 0 6.2 0 6.2 0 6.3 0 6.2 0 6.2 0 6.3 0 6.2 0 6.2 0 6.2 0 6.3 0 6.2 0 6.2 0 6.3 0 6.2 0 6.2 0 6.3 0 6.2 0 6.2 0 6.2 0 6.3 0 6.2 0 6.2 0 6.3 0 6.2 0 6.2 0 6.3 0 6.2 0 6.2 0 6.2 0 6.3 0 6.2 0 6.2 0 6.3 0 6.2 0 6.2 0 6.3 0 6.2 0 6.2 0 6.2 0 6.3 0 6.2 0 6.2 0 7 0 5.5 0" fill="none" stroke="#FF0000" stroke-width="3.2" stroke-linejoin="round"/>
<path d="M164.2 213.3h7.5M176.7 181.7h7.5M189.2 158.7h7.5M201.6 142.1h7.5M214.1 130.4h7.5M226.6 122.3h7.5M239 116.7h7.5M251.5 112.9h7.5M263.9 110.3h7.5M276.4 108.6h7.5M288.9 107.5h7.5M301.3 106.8h7.5M313.8 106.3h7.5M326.2 106h7.5M338.7 105.8h7.5M351.2 105.6h7.5M363.6 105.5h7.5M376.1 105.5h7.5M388.5 105.4h7.5M401 105.4h7.5M413.5 105.4h7.5M425.9 105.4h7.5M438.4 105.4h7.5M450.8 105.4h7.5M463.3 105.4h7.5M475.8 105.4h7.5M488.2 105.4h7.5M500.7 105.4h7.5M513.1 105.4h7.5M525.6 105.4h7.5M538.1 105.4h7.5M550.5 105.4h7.5M563 105.4h7.5M575.4 105.4h7.5M587.9 105.4h7.5M600.4 105.4h7.5M612.8 105.4h7.5M625.3 105.4h7.5M637.7 105.4h7.5M650.2 105.4h7.5M662.7 105.4h7.5M675.1 105.4h7.5M687.6 105.4h7.5M700 105.4h7.5" stroke="#FF0000" stroke-width="1.4" fill="none"/>
<path d="M168 257.9l5.5 -19.5 7 -23.4 6.2 -17.2 6.2 -14.6 6.3 -12.5 6.2 -10.7 6.2 -9 6.2 -7.6 6.3 -6.4 6.2 -5.3 6.2 -4.5 6.3 -3.7 6.2 -3.1 6.2 -2.5 6.3 -2.1 6.2 -1.8 6.2 -1.4 6.2 -1.1 6.3 -1 6.2 -0.7 6.2 -0.6 6.3 -0.6 6.2 -0.4 6.2 -0.3 6.3 -0.3 6.2 -0.2 6.2 -0.2 6.2 -0.1 6.3 -0.1 6.2 -0.1 6.2 -0.1 6.3 -0.1 6.2 0 6.2 0 6.3 -0.1 6.2 0 6.2 0 6.2 0 6.3 -0.1 6.2 0 6.2 0 6.3 0 6.2 0 6.2 0 6.3 0 6.2 0 6.2 0 6.3 0 6.2 0 6.2 0 6.2 0 6.3 0 6.2 0 6.2 0 6.3 0 6.2 0 6.2 0 6.3 0 6.2 0 6.2 0 6.2 0 6.3 0 6.2 0 6.2 0 6.3 0 6.2 0 6.2 0 6.3 0 6.2 0 6.2 0 6.2 0 6.3 0 6.2 0 6.2 0 6.3 0 6.2 0 6.2 0 6.3 0 6.2 0 6.2 0 6.2 0 6.3 0 6.2 0 6.2 0 7 0 5.5 0" fill="none" stroke="#3C3C00" stroke-width="3.2" stroke-linejoin="round"/>
<path d="M168 253.4l4.5 4.5l-4.5 4.5l-4.5 -4.5zM180.5 210.5l4.5 4.5l-4.5 4.5l-4.5 -4.5zM192.9 178.7l4.5 4.5l-4.5 4.5l-4.5 -4.5zM205.4 155.5l4.5 4.5l-4.5 4.5l-4.5 -4.5zM217.8 138.9l4.5 4.5l-4.5 4.5l-4.5 -4.5zM230.3 127.2l4.5 4.5l-4.5 4.5l-4.5 -4.5zM242.8 119l4.5 4.5l-4.5 4.5l-4.5 -4.5zM255.2 113.4l4.5 4.5l-4.5 4.5l-4.5 -4.5zM267.7 109.5l4.5 4.5l-4.5 4.5l-4.5 -4.5zM280.1 107l4.5 4.5l-4.5 4.5l-4.5 -4.5zM292.6 105.3l4.5 4.5l-4.5 4.5l-4.5 -4.5zM305.1 104.1l4.5 4.5l-4.5 4.5l-4.5 -4.5zM317.5 103.4l4.5 4.5l-4.5 4.5l-4.5 -4.5zM330 102.9l4.5 4.5l-4.5 4.5l-4.5 -4.5zM342.4 102.6l4.5 4.5l-4.5 4.5l-4.5 -4.5zM354.9 102.4l4.5 4.5l-4.5 4.5l-4.5 -4.5zM367.4 102.2l4.5 4.5l-4.5 4.5l-4.5 -4.5zM379.8 102.2l4.5 4.5l-4.5 4.5l-4.5 -4.5zM392.3 102.1l4.5 4.5l-4.5 4.5l-4.5 -4.5zM404.7 102.1l4.5 4.5l-4.5 4.5l-4.5 -4.5zM417.2 102l4.5 4.5l-4.5 4.5l-4.5 -4.5zM429.7 102l4.5 4.5l-4.5 4.5l-4.5 -4.5zM442.1 102l4.5 4.5l-4.5 4.5l-4.5 -4.5zM454.6 102l4.5 4.5l-4.5 4.5l-4.5 -4.5zM467.1 102l4.5 4.5l-4.5 4.5l-4.5 -4.5zM479.5 102l4.5 4.5l-4.5 4.5l-4.5 -4.5zM492 102l4.5 4.5l-4.5 4.5l-4.5 -4.5zM504.4 102l4.5 4.5l-4.5 4.5l-4.5 -4.5zM516.9 102l4.5 4.5l-4.5 4.5l-4.5 -4.5zM529.4 102l4.5 4.5l-4.5 4.5l-4.5 -4.5zM541.8 102l4.5 4.5l-4.5 4.5l-4.5 -4.5zM554.3 102l4.5 4.5l-4.5 4.5l-4.5 -4.5zM566.7 102l4.5 4.5l-4.5 4.5l-4.5 -4.5zM579.2 102l4.5 4.5l-4.5 4.5l-4.5 -4.5zM591.7 102l4.5 4.5l-4.5 4.5l-4.5 -4.5zM604.1 102l4.5 4.5l-4.5 4.5l-4.5 -4.5zM616.6 102l4.5 4.5l-4.5 4.5l-4.5 -4.5zM629 102l4.5 4.5l-4.5 4.5l-4.5 -4.5zM641.5 102l4.5 4.5l-4.5 4.5l-4.5 -4.5zM654 102l4.5 4.5l-4.5 4.5l-4.5 -4.5zM666.4 102l4.5 4.5l-4.5 4.5l-4.5 -4.5zM678.9 102l4.5 4.5l-4.5 4.5l-4.5 -4.5zM691.3 102l4.5 4.5l-4.5 4.5l-4.5 -4.5zM703.8 102l4.5 4.5l-4.5 4.5l-4.5 -4.5z" fill="#3C3C00"/>
<path d="M168 307.9l5.5 -24.8 7 -30 6.2 -22.2 6.2 -19.2 6.3 -16.5 6.2 -14.1 6.2 -12 6.2 -10.2 6.3 -8.7 6.2 -7.3 6.2 -6.1 6.3 -5.2 6.2 -4.2 6.2 -3.6 6.3 -2.9 6.2 -2.5 6.2 -2 6.2 -1.6 6.3 -1.3 6.2 -1.1 6.2 -0.9 6.3 -0.8 6.2 -0.6 6.2 -0.4 6.3 -0.4 6.2 -0.4 6.2 -0.2 6.2 -0.2 6.3 -0.2 6.2 -0.1 6.2 -0.1 6.3 -0.1 6.2 -0.1 6.2 -0.1 6.3 0 6.2 0 6.2 -0.1 6.2 0 6.3 0 6.2 0 6.2 0 6.3 -0.1 6.2 0 6.2 0 6.3 0 6.2 0 6.2 0 6.3 0 6.2 0 6.2 0 6.2 0 6.3 0 6.2 0 6.2 0 6.3 0 6.2 0 6.2 0 6.3 0 6.2 0 6.2 0 6.2 0 6.3 0 6.2 0 6.2 0 6.3 0 6.2 0 6.2 0 6.3 0 6.2 0 6.2 0 6.2 0 6.3 0 6.2 0 6.2 0 6.3 0 6.2 0 6.2 0 6.3 0 6.2 0 6.2 0 6.2 0 6.3 0 6.2 0 6.2 0 7 0 5.5 0" fill="none" stroke="#A0461E" stroke-width="3.2" stroke-linejoin="round"/>
<path d="M164.2 304.2h7.5v7.5h-7.5zM176.7 249.4h7.5v7.5h-7.5zM189.2 208h7.5v7.5h-7.5zM201.6 177.4h7.5v7.5h-7.5zM214.1 155.1h7.5v7.5h-7.5zM226.6 139.2h7.5v7.5h-7.5zM239 127.9h7.5v7.5h-7.5zM251.5 120.1h7.5v7.5h-7.5zM263.9 114.7h7.5v7.5h-7.5zM276.4 111.1h7.5v7.5h-7.5zM288.9 108.6h7.5v7.5h-7.5zM301.3 107h7.5v7.5h-7.5zM313.8 105.9h7.5v7.5h-7.5zM326.2 105.2h7.5v7.5h-7.5zM338.7 104.7h7.5v7.5h-7.5zM351.2 104.4h7.5v7.5h-7.5zM363.6 104.2h7.5v7.5h-7.5zM376.1 104.1h7.5v7.5h-7.5zM388.5 104h7.5v7.5h-7.5zM401 104h7.5v7.5h-7.5zM413.5 103.9h7.5v7.5h-7.5zM425.9 103.9h7.5v7.5h-7.5zM438.4 103.9h7.5v7.5h-7.5zM450.8 103.9h7.5v7.5h-7.5zM463.3 103.9h7.5v7.5h-7.5zM475.8 103.9h7.5v7.5h-7.5zM488.2 103.9h7.5v7.5h-7.5zM500.7 103.9h7.5v7.5h-7.5zM513.1 103.9h7.5v7.5h-7.5zM525.6 103.9h7.5v7.5h-7.5zM538.1 103.9h7.5v7.5h-7.5zM550.5 103.9h7.5v7.5h-7.5zM563 103.9h7.5v7.5h-7.5zM575.4 103.9h7.5v7.5h-7.5zM587.9 103.9h7.5v7.5h-7.5zM600.4 103.9h7.5v7.5h-7.5zM612.8 103.9h7.5v7.5h-7.5zM625.3 103.9h7.5v7.5h-7.5zM637.7 103.9h7.5v7.5h-7.5zM650.2 103.9h7.5v7.5h-7.5zM662.7 103.9h7.5v7.5h-7.5zM675.1 103.9h7.5v7.5h-7.5zM687.6 103.9h7.5v7.5h-7.5zM700 103.9h7.5v7.5h-7.5z" fill="#A0461E"/>
<path d="M168 374.7l5.5 -35.5 7 -42 6.2 -28.4 6.2 -23.6 6.3 -21 6.2 -18.1 6.2 -15.5 6.2 -13.3 6.3 -11.3 6.2 -9.6 6.2 -8.1 6.3 -6.8 6.2 -5.7 6.2 -4.8 6.3 -4 6.2 -3.3 6.2 -2.7 6.2 -2.3 6.3 -1.8 6.2 -1.5 6.2 -1.3 6.3 -1 6.2 -0.8 6.2 -0.7 6.3 -0.5 6.2 -0.5 6.2 -0.4 6.2 -0.2 6.3 -0.3 6.2 -0.2 6.2 -0.1 6.3 -0.2 6.2 -0.1 6.2 0 6.3 -0.1 6.2 -0.1 6.2 0 6.2 0 6.3 -0.1 6.2 0 6.2 0 6.3 0 6.2 0 6.2 0 6.3 -0.1 6.2 0 6.2 0 6.3 0 6.2 0 6.2 0 6.2 0 6.3 0 6.2 0 6.2 0 6.3 0 6.2 0 6.2 0 6.3 0 6.2 0 6.2 0 6.2 0 6.3 0 6.2 0 6.2 0 6.3 0 6.2 0 6.2 0 6.3 0 6.2 0 6.2 0 6.2 0 6.3 0 6.2 0 6.2 0 6.3 0 6.2 0 6.2 0 6.3 0 6.2 0 6.2 0 6.2 0 6.3 0 6.2 0 6.2 0 7 0 5.5 0" fill="none" stroke="#A3447A" stroke-width="3.2" stroke-linejoin="round"/>
<path d="M168 370.6l3.8 7.1h-7.5zM180.5 293.1l3.8 7.1h-7.5zM192.9 241.1l3.8 7.1h-7.5zM205.4 202l3.8 7.1h-7.5zM217.8 173.2l3.8 7.1h-7.5zM230.3 152.3l3.8 7.1h-7.5zM242.8 137.4l3.8 7.1h-7.5zM255.2 126.9l3.8 7.1h-7.5zM267.7 119.6l3.8 7.1h-7.5zM280.1 114.6l3.8 7.1h-7.5zM292.6 111.2l3.8 7.1h-7.5zM305.1 109l3.8 7.1h-7.5zM317.5 107.5l3.8 7.1h-7.5zM330 106.5l3.8 7.1h-7.5zM342.4 105.8l3.8 7.1h-7.5zM354.9 105.4l3.8 7.1h-7.5zM367.4 105.1l3.8 7.1h-7.5zM379.8 104.9l3.8 7.1h-7.5zM392.3 104.8l3.8 7.1h-7.5zM404.7 104.7l3.8 7.1h-7.5zM417.2 104.7l3.8 7.1h-7.5zM429.7 104.7l3.8 7.1h-7.5zM442.1 104.6l3.8 7.1h-7.5zM454.6 104.6l3.8 7.1h-7.5zM467.1 104.6l3.8 7.1h-7.5zM479.5 104.6l3.8 7.1h-7.5zM492 104.6l3.8 7.1h-7.5zM504.4 104.6l3.8 7.1h-7.5zM516.9 104.6l3.8 7.1h-7.5zM529.4 104.6l3.8 7.1h-7.5zM541.8 104.6l3.8 7.1h-7.5zM554.3 104.6l3.8 7.1h-7.5zM566.7 104.6l3.8 7.1h-7.5zM579.2 104.6l3.8 7.1h-7.5zM591.7 104.6l3.8 7.1h-7.5zM604.1 104.6l3.8 7.1h-7.5zM616.6 104.6l3.8 7.1h-7.5zM629 104.6l3.8 7.1h-7.5zM641.5 104.6l3.8 7.1h-7.5zM654 104.6l3.8 7.1h-7.5zM666.4 104.6l3.8 7.1h-7.5zM678.9 104.6l3.8 7.1h-7.5zM691.3 104.6l3.8 7.1h-7.5zM703.8 104.6l3.8 7.1h-7.5z" fill="#A3447A"/>
<path d="M168 430.4l5.5 -43.9 7 -51.4 6.2 -33.2 6.2 -27.1 6.3 -24.7 6.2 -21.6 6.2 -18.5 6.2 -15.9 6.3 -13.6 6.2 -11.6 6.2 -9.9 6.3 -8.3 6.2 -7 6.2 -5.9 6.3 -5 6.2 -4.1 6.2 -3.4 6.2 -2.8 6.3 -2.3 6.2 -1.9 6.2 -1.6 6.3 -1.3 6.2 -1 6.2 -0.9 6.3 -0.7 6.2 -0.6 6.2 -0.4 6.2 -0.4 6.3 -0.3 6.2 -0.2 6.2 -0.2 6.3 -0.2 6.2 -0.1 6.2 -0.1 6.3 -0.1 6.2 -0.1 6.2 0 6.2 -0.1 6.3 0 6.2 0 6.2 -0.1 6.3 0 6.2 0 6.2 0 6.3 0 6.2 0 6.2 0 6.3 0 6.2 -0.1 6.2 0 6.2 0 6.3 0 6.2 0 6.2 0 6.3 0 6.2 0 6.2 0 6.3 0 6.2 0 6.2 0 6.2 0 6.3 0 6.2 0 6.2 0 6.3 0 6.2 0 6.2 0 6.3 0 6.2 0 6.2 0 6.2 0 6.3 0 6.2 0 6.2 0 6.3 0 6.2 0 6.2 0 6.3 0 6.2 0 6.2 0 6.2 0 6.3 0 6.2 0 6.2 0 7 0 5.5 0" fill="none" stroke="#3F3FA8" stroke-width="3.2" stroke-linejoin="round"/>
<path d="M164.2 426.6h7.5v7.5h-7.5zM176.7 331.4h7.5v7.5h-7.5zM189.2 271.1h7.5v7.5h-7.5zM201.6 224.8h7.5v7.5h-7.5zM214.1 190.3h7.5v7.5h-7.5zM226.6 165.1h7.5v7.5h-7.5zM239 146.9h7.5v7.5h-7.5zM251.5 134h7.5v7.5h-7.5zM263.9 125h7.5v7.5h-7.5zM276.4 118.8h7.5v7.5h-7.5zM288.9 114.5h7.5v7.5h-7.5zM301.3 111.7h7.5v7.5h-7.5zM313.8 109.8h7.5v7.5h-7.5zM326.2 108.5h7.5v7.5h-7.5zM338.7 107.7h7.5v7.5h-7.5zM351.2 107.1h7.5v7.5h-7.5zM363.6 106.8h7.5v7.5h-7.5zM376.1 106.5h7.5v7.5h-7.5zM388.5 106.4h7.5v7.5h-7.5zM401 106.3h7.5v7.5h-7.5zM413.5 106.2h7.5v7.5h-7.5zM425.9 106.2h7.5v7.5h-7.5zM438.4 106.1h7.5v7.5h-7.5zM450.8 106.1h7.5v7.5h-7.5zM463.3 106.1h7.5v7.5h-7.5zM475.8 106.1h7.5v7.5h-7.5zM488.2 106.1h7.5v7.5h-7.5zM500.7 106.1h7.5v7.5h-7.5zM513.1 106.1h7.5v7.5h-7.5zM525.6 106.1h7.5v7.5h-7.5zM538.1 106.1h7.5v7.5h-7.5zM550.5 106.1h7.5v7.5h-7.5zM563 106.1h7.5v7.5h-7.5zM575.4 106.1h7.5v7.5h-7.5zM587.9 106.1h7.5v7.5h-7.5zM600.4 106.1h7.5v7.5h-7.5zM612.8 106.1h7.5v7.5h-7.5zM625.3 106.1h7.5v7.5h-7.5zM637.7 106.1h7.5v7.5h-7.5zM650.2 106.1h7.5v7.5h-7.5zM662.7 106.1h7.5v7.5h-7.5zM675.1 106.1h7.5v7.5h-7.5zM687.6 106.1h7.5v7.5h-7.5zM700 106.1h7.5v7.5h-7.5z" fill="#3F3FA8"/>
<path d="M168 489.6l5.5 -29.7 7 -41.4 6.2 -47.9 6.2 -46.4 6.3 -32.9 6.2 -26.7 6.2 -24.3 6.2 -21.2 6.3 -18.2 6.2 -15.5 6.2 -13.4 6.3 -11.3 6.2 -9.7 6.2 -8.1 6.3 -6.9 6.2 -5.7 6.2 -4.8 6.2 -4 6.3 -3.3 6.2 -2.7 6.2 -2.3 6.3 -1.9 6.2 -1.5 6.2 -1.2 6.3 -1.1 6.2 -0.8 6.2 -0.7 6.2 -0.5 6.3 -0.5 6.2 -0.3 6.2 -0.3 6.3 -0.2 6.2 -0.2 6.2 -0.2 6.3 -0.1 6.2 -0.1 6.2 -0.1 6.2 -0.1 6.3 0 6.2 -0.1 6.2 0 6.3 0 6.2 -0.1 6.2 0 6.3 0 6.2 0 6.2 0 6.3 0 6.2 0 6.2 0 6.2 0 6.3 0 6.2 0 6.2 0 6.3 0 6.2 0 6.2 0 6.3 0 6.2 0 6.2 0 6.2 0 6.3 0 6.2 0 6.2 0 6.3 0 6.2 0 6.2 0 6.3 0 6.2 0 6.2 0 6.2 0 6.3 0 6.2 0 6.2 0 6.3 0 6.2 0 6.2 0 6.3 0 6.2 0 6.2 0 6.2 0 6.3 0 6.2 0 6.2 0 7 0 5.5 0" fill="none" stroke="#000000" stroke-width="3.2" stroke-linejoin="round"/>
<path d="M164.2 485.8l7.5 7.5m0 -7.5l-7.5 7.5M168 485.8v7.5M176.7 414.8l7.5 7.5m0 -7.5l-7.5 7.5M180.5 414.8v7.5M189.2 320.4l7.5 7.5m0 -7.5l-7.5 7.5M192.9 320.4v7.5M201.6 260.9l7.5 7.5m0 -7.5l-7.5 7.5M205.4 260.9v7.5M214.1 215.4l7.5 7.5m0 -7.5l-7.5 7.5M217.8 215.4v7.5M226.6 181.6l7.5 7.5m0 -7.5l-7.5 7.5M230.3 181.6v7.5M239 156.9l7.5 7.5m0 -7.5l-7.5 7.5M242.8 156.9v7.5M251.5 139.2l7.5 7.5m0 -7.5l-7.5 7.5M255.2 139.2v7.5M263.9 126.6l7.5 7.5m0 -7.5l-7.5 7.5M267.7 126.6v7.5M276.4 117.8l7.5 7.5m0 -7.5l-7.5 7.5M280.1 117.8v7.5M288.9 111.7l7.5 7.5m0 -7.5l-7.5 7.5M292.6 111.7v7.5M301.3 107.6l7.5 7.5m0 -7.5l-7.5 7.5M305.1 107.6v7.5M313.8 104.8l7.5 7.5m0 -7.5l-7.5 7.5M317.5 104.8v7.5M326.2 103l7.5 7.5m0 -7.5l-7.5 7.5M330 103v7.5M338.7 101.7l7.5 7.5m0 -7.5l-7.5 7.5M342.4 101.7v7.5M351.2 100.9l7.5 7.5m0 -7.5l-7.5 7.5M354.9 100.9v7.5M363.6 100.4l7.5 7.5m0 -7.5l-7.5 7.5M367.4 100.4v7.5M376.1 100.1l7.5 7.5m0 -7.5l-7.5 7.5M379.8 100.1v7.5M388.5 99.8l7.5 7.5m0 -7.5l-7.5 7.5M392.3 99.8v7.5M401 99.7l7.5 7.5m0 -7.5l-7.5 7.5M404.7 99.7v7.5M413.5 99.6l7.5 7.5m0 -7.5l-7.5 7.5M417.2 99.6v7.5M425.9 99.5l7.5 7.5m0 -7.5l-7.5 7.5M429.7 99.5v7.5M438.4 99.5l7.5 7.5m0 -7.5l-7.5 7.5M442.1 99.5v7.5M450.8 99.5l7.5 7.5m0 -7.5l-7.5 7.5M454.6 99.5v7.5M463.3 99.4l7.5 7.5m0 -7.5l-7.5 7.5M467.1 99.4v7.5M475.8 99.4l7.5 7.5m0 -7.5l-7.5 7.5M479.5 99.4v7.5M488.2 99.4l7.5 7.5m0 -7.5l-7.5 7.5M492 99.4v7.5M500.7 99.4l7.5 7.5m0 -7.5l-7.5 7.5M504.4 99.4v7.5M513.1 99.4l7.5 7.5m0 -7.5l-7.5 7.5M516.9 99.4v7.5M525.6 99.4l7.5 7.5m0 -7.5l-7.5 7.5M529.4 99.4v7.5M538.1 99.4l7.5 7.5m0 -7.5l-7.5 7.5M541.8 99.4v7.5M550.5 99.4l7.5 7.5m0 -7.5l-7.5 7.5M554.3 99.4v7.5M563 99.4l7.5 7.5m0 -7.5l-7.5 7.5M566.7 99.4v7.5M575.4 99.4l7.5 7.5m0 -7.5l-7.5 7.5M579.2 99.4v7.5M587.9 99.4l7.5 7.5m0 -7.5l-7.5 7.5M591.7 99.4v7.5M600.4 99.4l7.5 7.5m0 -7.5l-7.5 7.5M604.1 99.4v7.5M612.8 99.4l7.5 7.5m0 -7.5l-7.5 7.5M616.6 99.4v7.5M625.3 99.4l7.5 7.5m0 -7.5l-7.5 7.5M629 99.4v7.5M637.7 99.4l7.5 7.5m0 -7.5l-7.5 7.5M641.5 99.4v7.5M650.2 99.4l7.5 7.5m0 -7.5l-7.5 7.5M654 99.4v7.5M662.7 99.4l7.5 7.5m0 -7.5l-7.5 7.5M666.4 99.4v7.5M675.1 99.4l7.5 7.5m0 -7.5l-7.5 7.5M678.9 99.4v7.5M687.6 99.4l7.5 7.5m0 -7.5l-7.5 7.5M691.3 99.4v7.5M700 99.4l7.5 7.5m0 -7.5l-7.5 7.5M703.8 99.4v7.5" stroke="#000000" stroke-width="1.4" fill="none"/>
<path d="M168 524.9l5.5 -13.4 7 -22.4 6.2 -32 6.2 -39.4 6.3 -47.8 6.2 -46.5 6.2 -33.8 6.2 -27.9 6.3 -25 6.2 -21.7 6.2 -18.4 6.3 -15.6 6.2 -13.3 6.2 -11.1 6.3 -9.3 6.2 -7.8 6.2 -6.4 6.2 -5.4 6.3 -4.4 6.2 -3.6 6.2 -2.9 6.3 -2.4 6.2 -2 6.2 -1.6 6.3 -1.3 6.2 -1 6.2 -0.8 6.2 -0.7 6.3 -0.6 6.2 -0.4 6.2 -0.3 6.3 -0.3 6.2 -0.2 6.2 -0.2 6.3 -0.2 6.2 -0.1 6.2 -0.1 6.2 0 6.3 -0.1 6.2 -0.1 6.2 0 6.3 0 6.2 0 6.2 -0.1 6.3 0 6.2 0 6.2 0 6.3 0 6.2 0 6.2 0 6.2 0 6.3 0 6.2 0 6.2 0 6.3 0 6.2 0 6.2 0 6.3 0 6.2 0 6.2 0 6.2 0 6.3 0 6.2 0 6.2 0 6.3 0 6.2 0 6.2 0 6.3 0 6.2 0 6.2 0 6.2 0 6.3 0 6.2 0 6.2 0 6.3 0 6.2 0 6.2 0 6.3 0 6.2 0 6.2 0 6.2 0 6.3 0 6.2 0 6.2 0 7 0 5.5 0" fill="none" stroke="#00008B" stroke-width="3.2" stroke-linejoin="round"/>
<path d="M164.2 521.1h7.5v7.5h-7.5zM176.7 485.3h7.5v7.5h-7.5zM189.2 414h7.5v7.5h-7.5zM201.6 319.6h7.5v7.5h-7.5zM214.1 258h7.5v7.5h-7.5zM226.6 211.3h7.5v7.5h-7.5zM239 177.2h7.5v7.5h-7.5zM251.5 152.9h7.5v7.5h-7.5zM263.9 135.8h7.5v7.5h-7.5zM276.4 124h7.5v7.5h-7.5zM288.9 116h7.5v7.5h-7.5zM301.3 110.6h7.5v7.5h-7.5zM313.8 107.1h7.5v7.5h-7.5zM326.2 104.7h7.5v7.5h-7.5zM338.7 103.2h7.5v7.5h-7.5zM351.2 102.3h7.5v7.5h-7.5zM363.6 101.6h7.5v7.5h-7.5zM376.1 101.2h7.5v7.5h-7.5zM388.5 101h7.5v7.5h-7.5zM401 100.8h7.5v7.5h-7.5zM413.5 100.7h7.5v7.5h-7.5zM425.9 100.6h7.5v7.5h-7.5zM438.4 100.6h7.5v7.5h-7.5zM450.8 100.6h7.5v7.5h-7.5zM463.3 100.5h7.5v7.5h-7.5zM475.8 100.5h7.5v7.5h-7.5zM488.2 100.5h7.5v7.5h-7.5zM500.7 100.5h7.5v7.5h-7.5zM513.1 100.5h7.5v7.5h-7.5zM525.6 100.5h7.5v7.5h-7.5zM538.1 100.5h7.5v7.5h-7.5zM550.5 100.5h7.5v7.5h-7.5zM563 100.5h7.5v7.5h-7.5zM575.4 100.5h7.5v7.5h-7.5zM587.9 100.5h7.5v7.5h-7.5zM600.4 100.5h7.5v7.5h-7.5zM612.8 100.5h7.5v7.5h-7.5zM625.3 100.5h7.5v7.5h-7.5zM637.7 100.5h7.5v7.5h-7.5zM650.2 100.5h7.5v7.5h-7.5zM662.7 100.5h7.5v7.5h-7.5zM675.1 100.5h7.5v7.5h-7.5zM687.6 100.5h7.5v7.5h-7.5zM700 100.5h7.5v7.5h-7.5z" fill="#00008B"/>
<path d="M168 540.6l5.5 -6 7 -10.6 6.2 -15 6.2 -22.1 6.3 -32.9 6.2 -40 6.2 -47.5 6.2 -46.3 6.3 -34.5 6.2 -28.6 6.2 -25.5 6.3 -21.8 6.2 -18.4 6.2 -15.5 6.3 -12.9 6.2 -10.7 6.2 -8.9 6.2 -7.2 6.3 -6 6.2 -4.8 6.2 -4 6.3 -3.2 6.2 -2.6 6.2 -2 6.3 -1.7 6.2 -1.3 6.2 -1.1 6.2 -0.9 6.3 -0.6 6.2 -0.6 6.2 -0.4 6.3 -0.3 6.2 -0.3 6.2 -0.2 6.3 -0.2 6.2 -0.1 6.2 -0.1 6.2 -0.1 6.3 -0.1 6.2 0 6.2 -0.1 6.3 0 6.2 0 6.2 0 6.3 -0.1 6.2 0 6.2 0 6.3 0 6.2 0 6.2 0 6.2 0 6.3 0 6.2 0 6.2 0 6.3 0 6.2 0 6.2 0 6.3 0 6.2 0 6.2 0 6.2 0 6.3 0 6.2 0 6.2 0 6.3 0 6.2 0 6.2 0 6.3 0 6.2 0 6.2 0 6.2 0 6.3 0 6.2 0 6.2 0 6.3 0 6.2 0 6.2 0 6.3 0 6.2 0 6.2 0 6.2 0 6.3 0 6.2 0 6.2 0 7 0 5.5 0" fill="none" stroke="#FF0000" stroke-width="3.2" stroke-linejoin="round"/>
<path d="M164.2 540.6h7.5M168 536.8v7.5M176.7 524h7.5M180.5 520.2v7.5M189.2 486.9h7.5M192.9 483.2v7.5M201.6 414h7.5M205.4 410.2v7.5M214.1 320.2h7.5M217.8 316.5v7.5M226.6 257.1h7.5M230.3 253.3v7.5M239 209.8h7.5M242.8 206v7.5M251.5 175.9h7.5M255.2 172.2v7.5M263.9 152.3h7.5M267.7 148.6v7.5M276.4 136.2h7.5M280.1 132.4v7.5M288.9 125.4h7.5M292.6 121.6v7.5M301.3 118.2h7.5M305.1 114.5v7.5M313.8 113.6h7.5M317.5 109.8v7.5M326.2 110.6h7.5M330 106.8v7.5M338.7 108.6h7.5M342.4 104.9v7.5M351.2 107.4h7.5M354.9 103.7v7.5M363.6 106.7h7.5M367.4 102.9v7.5M376.1 106.2h7.5M379.8 102.4v7.5M388.5 105.9h7.5M392.3 102.1v7.5M401 105.7h7.5M404.7 101.9v7.5M413.5 105.6h7.5M417.2 101.8v7.5M425.9 105.5h7.5M429.7 101.7v7.5M438.4 105.5h7.5M442.1 101.7v7.5M450.8 105.4h7.5M454.6 101.7v7.5M463.3 105.4h7.5M467.1 101.7v7.5M475.8 105.4h7.5M479.5 101.6v7.5M488.2 105.4h7.5M492 101.6v7.5M500.7 105.4h7.5M504.4 101.6v7.5M513.1 105.4h7.5M516.9 101.6v7.5M525.6 105.4h7.5M529.4 101.6v7.5M538.1 105.4h7.5M541.8 101.6v7.5M550.5 105.4h7.5M554.3 101.6v7.5M563 105.4h7.5M566.7 101.6v7.5M575.4 105.4h7.5M579.2 101.6v7.5M587.9 105.4h7.5M591.7 101.6v7.5M600.4 105.4h7.5M604.1 101.6v7.5M612.8 105.4h7.5M616.6 101.6v7.5M625.3 105.4h7.5M629 101.6v7.5M637.7 105.4h7.5M641.5 101.6v7.5M650.2 105.4h7.5M654 101.6v7.5M662.7 105.4h7.5M666.4 101.6v7.5M675.1 105.4h7.5M678.9 101.6v7.5M687.6 105.4h7.5M691.3 101.6v7.5M700 105.4h7.5M703.8 101.6v7.5" stroke="#FF0000" stroke-width="1.4" fill="none"/>
<path d="M168 551.6l5.5 -4 7 -6.1 6.2 -6.3 6.2 -9.4 6.3 -14 6.2 -20.8 6.2 -31.1 6.2 -38.7 6.3 -47.9 6.2 -47.5 6.2 -36.2 6.3 -30.4 6.2 -26.8 6.2 -22.9 6.3 -19.1 6.2 -15.8 6.2 -13.2 6.2 -10.7 6.3 -8.8 6.2 -7.1 6.2 -5.8 6.3 -4.6 6.2 -3.7 6.2 -3 6.3 -2.4 6.2 -1.8 6.2 -1.5 6.2 -1.2 6.3 -0.9 6.2 -0.8 6.2 -0.5 6.3 -0.5 6.2 -0.3 6.2 -0.3 6.3 -0.2 6.2 -0.2 6.2 -0.1 6.2 -0.1 6.3 -0.1 6.2 -0.1 6.2 0 6.3 -0.1 6.2 0 6.2 0 6.3 0 6.2 -0.1 6.2 0 6.3 0 6.2 0 6.2 0 6.2 0 6.3 0 6.2 0 6.2 0 6.3 0 6.2 0 6.2 0 6.3 0 6.2 0 6.2 0 6.2 0 6.3 0 6.2 0 6.2 0 6.3 0 6.2 0 6.2 0 6.3 0 6.2 0 6.2 0 6.2 0 6.3 0 6.2 0 6.2 0 6.3 0 6.2 0 6.2 0 6.3 0 6.2 0 6.2 0 6.2 0 6.3 0 6.2 0 6.2 0 7 0 5.5 0" fill="none" stroke="#FFA500" stroke-width="3.2" stroke-linejoin="round"/>
<path d="M164.2 551.6a3.8 3.8 0 1 0 7.5 0a3.8 3.8 0 1 0 -7.5 0M176.7 541.5a3.8 3.8 0 1 0 7.5 0a3.8 3.8 0 1 0 -7.5 0M189.2 525.8a3.8 3.8 0 1 0 7.5 0a3.8 3.8 0 1 0 -7.5 0M201.6 491a3.8 3.8 0 1 0 7.5 0a3.8 3.8 0 1 0 -7.5 0M214.1 421.2a3.8 3.8 0 1 0 7.5 0a3.8 3.8 0 1 0 -7.5 0M226.6 325.8a3.8 3.8 0 1 0 7.5 0a3.8 3.8 0 1 0 -7.5 0M239 259.2a3.8 3.8 0 1 0 7.5 0a3.8 3.8 0 1 0 -7.5 0M251.5 209.5a3.8 3.8 0 1 0 7.5 0a3.8 3.8 0 1 0 -7.5 0M263.9 174.6a3.8 3.8 0 1 0 7.5 0a3.8 3.8 0 1 0 -7.5 0M276.4 150.7a3.8 3.8 0 1 0 7.5 0a3.8 3.8 0 1 0 -7.5 0M288.9 134.8a3.8 3.8 0 1 0 7.5 0a3.8 3.8 0 1 0 -7.5 0M301.3 124.4a3.8 3.8 0 1 0 7.5 0a3.8 3.8 0 1 0 -7.5 0M313.8 117.7a3.8 3.8 0 1 0 7.5 0a3.8 3.8 0 1 0 -7.5 0M326.2 113.5a3.8 3.8 0 1 0 7.5 0a3.8 3.8 0 1 0 -7.5 0M338.7 110.8a3.8 3.8 0 1 0 7.5 0a3.8 3.8 0 1 0 -7.5 0M351.2 109.1a3.8 3.8 0 1 0 7.5 0a3.8 3.8 0 1 0 -7.5 0M363.6 108.1a3.8 3.8 0 1 0 7.5 0a3.8 3.8 0 1 0 -7.5 0M376.1 107.5a3.8 3.8 0 1 0 7.5 0a3.8 3.8 0 1 0 -7.5 0M388.5 107.1a3.8 3.8 0 1 0 7.5 0a3.8 3.8 0 1 0 -7.5 0M401 106.9a3.8 3.8 0 1 0 7.5 0a3.8 3.8 0 1 0 -7.5 0M413.5 106.7a3.8 3.8 0 1 0 7.5 0a3.8 3.8 0 1 0 -7.5 0M425.9 106.6a3.8 3.8 0 1 0 7.5 0a3.8 3.8 0 1 0 -7.5 0M438.4 106.6a3.8 3.8 0 1 0 7.5 0a3.8 3.8 0 1 0 -7.5 0M450.8 106.5a3.8 3.8 0 1 0 7.5 0a3.8 3.8 0 1 0 -7.5 0M463.3 106.5a3.8 3.8 0 1 0 7.5 0a3.8 3.8 0 1 0 -7.5 0M475.8 106.5a3.8 3.8 0 1 0 7.5 0a3.8 3.8 0 1 0 -7.5 0M488.2 106.5a3.8 3.8 0 1 0 7.5 0a3.8 3.8 0 1 0 -7.5 0M500.7 106.5a3.8 3.8 0 1 0 7.5 0a3.8 3.8 0 1 0 -7.5 0M513.1 106.5a3.8 3.8 0 1 0 7.5 0a3.8 3.8 0 1 0 -7.5 0M525.6 106.5a3.8 3.8 0 1 0 7.5 0a3.8 3.8 0 1 0 -7.5 0M538.1 106.5a3.8 3.8 0 1 0 7.5 0a3.8 3.8 0 1 0 -7.5 0M550.5 106.5a3.8 3.8 0 1 0 7.5 0a3.8 3.8 0 1 0 -7.5 0M563 106.5a3.8 3.8 0 1 0 7.5 0a3.8 3.8 0 1 0 -7.5 0M575.4 106.5a3.8 3.8 0 1 0 7.5 0a3.8 3.8 0 1 0 -7.5 0M587.9 106.5a3.8 3.8 0 1 0 7.5 0a3.8 3.8 0 1 0 -7.5 0M600.4 106.5a3.8 3.8 0 1 0 7.5 0a3.8 3.8 0 1 0 -7.5 0M612.8 106.5a3.8 3.8 0 1 0 7.5 0a3.8 3.8 0 1 0 -7.5 0M625.3 106.5a3.8 3.8 0 1 0 7.5 0a3.8 3.8 0 1 0 -7.5 0M637.7 106.5a3.8 3.8 0 1 0 7.5 0a3.8 3.8 0 1 0 -7.5 0M650.2 106.5a3.8 3.8 0 1 0 7.5 0a3.8 3.8 0 1 0 -7.5 0M662.7 106.5a3.8 3.8 0 1 0 7.5 0a3.8 3.8 0 1 0 -7.5 0M675.1 106.5a3.8 3.8 0 1 0 7.5 0a3.8 3.8 0 1 0 -7.5 0M687.6 106.5a3.8 3.8 0 1 0 7.5 0a3.8 3.8 0 1 0 -7.5 0M700 106.5a3.8 3.8 0 1 0 7.5 0a3.8 3.8 0 1 0 -7.5 0" fill="#FFA500"/>
<path d="M168 558.1l5.5 -3.2 7 -4.5 6.2 -4.7 6.2 -5.8 6.3 -6.9 6.2 -10.4 6.2 -15.8 6.2 -23.1 6.3 -34.1 6.2 -40.9 6.2 -47.3 6.3 -46.2 6.2 -36 6.2 -30.3 6.3 -26.2 6.2 -22.1 6.2 -18.3 6.2 -14.9 6.3 -12.2 6.2 -9.8 6.2 -8 6.3 -6.3 6.2 -5 6.2 -4 6.3 -3.2 6.2 -2.4 6.2 -2 6.2 -1.5 6.3 -1.2 6.2 -1 6.2 -0.7 6.3 -0.6 6.2 -0.4 6.2 -0.3 6.3 -0.3 6.2 -0.2 6.2 -0.2 6.2 -0.1 6.3 -0.1 6.2 -0.1 6.2 0 6.3 -0.1 6.2 0 6.2 0 6.3 0 6.2 0 6.2 -0.1 6.3 0 6.2 0 6.2 0 6.2 0 6.3 0 6.2 0 6.2 0 6.3 0 6.2 0 6.2 0 6.3 0 6.2 0 6.2 0 6.2 0 6.3 0 6.2 0 6.2 0 6.3 0 6.2 0 6.2 0 6.3 0 6.2 0 6.2 0 6.2 0 6.3 0 6.2 0 6.2 0 6.3 0 6.2 0 6.2 0 6.3 0 6.2 0 6.2 0 6.2 0 6.3 0 6.2 0 6.2 0 7 0 5.5 0" fill="none" stroke="#0000FF" stroke-width="3.2" stroke-linejoin="round"/>
<path d="M164.2 558.1h7.5M176.7 550.4h7.5M189.2 539.9h7.5M201.6 522.6h7.5M214.1 483.7h7.5M226.6 408.7h7.5M239 315.2h7.5M251.5 248.9h7.5M263.9 200.6h7.5M276.4 167.4h7.5M288.9 145.4h7.5M301.3 131.1h7.5M313.8 122.1h7.5M326.2 116.5h7.5M338.7 113h7.5M351.2 110.8h7.5M363.6 109.5h7.5M376.1 108.8h7.5M388.5 108.3h7.5M401 108h7.5M413.5 107.8h7.5M425.9 107.7h7.5M438.4 107.7h7.5M450.8 107.7h7.5M463.3 107.6h7.5M475.8 107.6h7.5M488.2 107.6h7.5M500.7 107.6h7.5M513.1 107.6h7.5M525.6 107.6h7.5M538.1 107.6h7.5M550.5 107.6h7.5M563 107.6h7.5M575.4 107.6h7.5M587.9 107.6h7.5M600.4 107.6h7.5M612.8 107.6h7.5M625.3 107.6h7.5M637.7 107.6h7.5M650.2 107.6h7.5M662.7 107.6h7.5M675.1 107.6h7.5M687.6 107.6h7.5M700 107.6h7.5" stroke="#0000FF" stroke-width="1.4" fill="none"/>
<path d="M168 562.1l5.5 -2.3 7 -3.4 6.2 -3.8 6.2 -4.6 6.3 -5 6.2 -6.5 6.2 -8.3 6.2 -12.8 6.3 -19.7 6.2 -27.6 6.2 -39.6 6.3 -44.6 6.2 -45.6 6.2 -43 6.3 -34.4 6.2 -28.9 6.2 -24.4 6.2 -20.1 6.3 -16.4 6.2 -13.2 6.2 -10.6 6.3 -8.4 6.2 -6.7 6.2 -5.2 6.3 -4.1 6.2 -3.2 6.2 -2.6 6.2 -1.9 6.3 -1.5 6.2 -1.1 6.2 -0.9 6.3 -0.7 6.2 -0.6 6.2 -0.4 6.3 -0.3 6.2 -0.2 6.2 -0.2 6.2 -0.1 6.3 -0.1 6.2 -0.1 6.2 -0.1 6.3 0 6.2 -0.1 6.2 0 6.3 0 6.2 0 6.2 0 6.3 -0.1 6.2 0 6.2 0 6.2 0 6.3 0 6.2 0 6.2 0 6.3 0 6.2 0 6.2 0 6.3 0 6.2 0 6.2 0 6.2 0 6.3 0 6.2 0 6.2 0 6.3 0 6.2 0 6.2 0 6.3 0 6.2 0 6.2 0 6.2 0 6.3 0 6.2 0 6.2 0 6.3 0 6.2 0 6.2 0 6.3 0 6.2 0 6.2 0 6.2 0 6.3 0 6.2 0 6.2 0 7 0 5.5 0" fill="none" stroke="#800080" stroke-width="3.2" stroke-linejoin="round"/>
<path d="M168 557.6l4.5 4.5l-4.5 4.5l-4.5 -4.5zM180.5 551.9l4.5 4.5l-4.5 4.5l-4.5 -4.5zM192.9 543.5l4.5 4.5l-4.5 4.5l-4.5 -4.5zM205.4 532l4.5 4.5l-4.5 4.5l-4.5 -4.5zM217.8 510.9l4.5 4.5l-4.5 4.5l-4.5 -4.5zM230.3 463.6l4.5 4.5l-4.5 4.5l-4.5 -4.5zM242.8 379.4l4.5 4.5l-4.5 4.5l-4.5 -4.5zM255.2 290.8l4.5 4.5l-4.5 4.5l-4.5 -4.5zM267.7 227.5l4.5 4.5l-4.5 4.5l-4.5 -4.5zM280.1 183l4.5 4.5l-4.5 4.5l-4.5 -4.5zM292.6 153.4l4.5 4.5l-4.5 4.5l-4.5 -4.5zM305.1 134.4l4.5 4.5l-4.5 4.5l-4.5 -4.5zM317.5 122.5l4.5 4.5l-4.5 4.5l-4.5 -4.5zM330 115.2l4.5 4.5l-4.5 4.5l-4.5 -4.5zM342.4 110.7l4.5 4.5l-4.5 4.5l-4.5 -4.5zM354.9 108.1l4.5 4.5l-4.5 4.5l-4.5 -4.5zM367.4 106.5l4.5 4.5l-4.5 4.5l-4.5 -4.5zM379.8 105.5l4.5 4.5l-4.5 4.5l-4.5 -4.5zM392.3 105l4.5 4.5l-4.5 4.5l-4.5 -4.5zM404.7 104.7l4.5 4.5l-4.5 4.5l-4.5 -4.5zM417.2 104.5l4.5 4.5l-4.5 4.5l-4.5 -4.5zM429.7 104.4l4.5 4.5l-4.5 4.5l-4.5 -4.5zM442.1 104.3l4.5 4.5l-4.5 4.5l-4.5 -4.5zM454.6 104.3l4.5 4.5l-4.5 4.5l-4.5 -4.5zM467.1 104.2l4.5 4.5l-4.5 4.5l-4.5 -4.5zM479.5 104.2l4.5 4.5l-4.5 4.5l-4.5 -4.5zM492 104.2l4.5 4.5l-4.5 4.5l-4.5 -4.5zM504.4 104.2l4.5 4.5l-4.5 4.5l-4.5 -4.5zM516.9 104.2l4.5 4.5l-4.5 4.5l-4.5 -4.5zM529.4 104.2l4.5 4.5l-4.5 4.5l-4.5 -4.5zM541.8 104.2l4.5 4.5l-4.5 4.5l-4.5 -4.5zM554.3 104.2l4.5 4.5l-4.5 4.5l-4.5 -4.5zM566.7 104.2l4.5 4.5l-4.5 4.5l-4.5 -4.5zM579.2 104.2l4.5 4.5l-4.5 4.5l-4.5 -4.5zM591.7 104.2l4.5 4.5l-4.5 4.5l-4.5 -4.5zM604.1 104.2l4.5 4.5l-4.5 4.5l-4.5 -4.5zM616.6 104.2l4.5 4.5l-4.5 4.5l-4.5 -4.5zM629 104.2l4.5 4.5l-4.5 4.5l-4.5 -4.5zM641.5 104.2l4.5 4.5l-4.5 4.5l-4.5 -4.5zM654 104.2l4.5 4.5l-4.5 4.5l-4.5 -4.5zM666.4 104.2l4.5 4.5l-4.5 4.5l-4.5 -4.5zM678.9 104.2l4.5 4.5l-4.5 4.5l-4.5 -4.5zM691.3 104.2l4.5 4.5l-4.5 4.5l-4.5 -4.5zM703.8 104.2l4.5 4.5l-4.5 4.5l-4.5 -4.5z" fill="#800080"/>
<path d="M168 564.9l5.5 -1.5 7 -2.3 6.2 -2.8 6.2 -3.5 6.3 -4.1 6.2 -4.9 6.2 -5.3 6.2 -7.3 6.3 -9.9 6.2 -15.3 6.2 -23.5 6.3 -31.7 6.2 -43.7 6.2 -47.2 6.3 -43.7 6.2 -39.9 6.2 -32.8 6.2 -27.5 6.3 -22.7 6.2 -18.4 6.2 -14.8 6.3 -11.6 6.2 -9.3 6.2 -7.2 6.3 -5.6 6.2 -4.3 6.2 -3.4 6.2 -2.6 6.3 -1.9 6.2 -1.6 6.2 -1.1 6.3 -0.9 6.2 -0.7 6.2 -0.5 6.3 -0.4 6.2 -0.3 6.2 -0.2 6.2 -0.2 6.3 -0.1 6.2 -0.1 6.2 0 6.3 -0.1 6.2 0 6.2 -0.1 6.3 0 6.2 0 6.2 0 6.3 0 6.2 0 6.2 -0.1 6.2 0 6.3 0 6.2 0 6.2 0 6.3 0 6.2 0 6.2 0 6.3 0 6.2 0 6.2 0 6.2 0 6.3 0 6.2 0 6.2 0 6.3 0 6.2 0 6.2 0 6.3 0 6.2 0 6.2 0 6.2 0 6.3 0 6.2 0 6.2 0 6.3 0 6.2 0 6.2 0 6.3 0 6.2 0 6.2 0 6.2 0 6.3 0 6.2 0 6.2 0 7 0 5.5 0" fill="none" stroke="#FF00FF" stroke-width="3.2" stroke-linejoin="round"/>
<path d="M164.2 561.1h7.5v7.5h-7.5zM176.7 557.3h7.5v7.5h-7.5zM189.2 551.1h7.5v7.5h-7.5zM201.6 542.1h7.5v7.5h-7.5zM214.1 529.5h7.5v7.5h-7.5zM226.6 504.2h7.5v7.5h-7.5zM239 449.1h7.5v7.5h-7.5zM251.5 358.2h7.5v7.5h-7.5zM263.9 274.5h7.5v7.5h-7.5zM276.4 214.2h7.5v7.5h-7.5zM288.9 173.1h7.5v7.5h-7.5zM301.3 146.7h7.5v7.5h-7.5zM313.8 130.3h7.5v7.5h-7.5zM326.2 120.3h7.5v7.5h-7.5zM338.7 114.4h7.5v7.5h-7.5zM351.2 110.9h7.5v7.5h-7.5zM363.6 108.9h7.5v7.5h-7.5zM376.1 107.7h7.5v7.5h-7.5zM388.5 107h7.5v7.5h-7.5zM401 106.6h7.5v7.5h-7.5zM413.5 106.4h7.5v7.5h-7.5zM425.9 106.2h7.5v7.5h-7.5zM438.4 106.2h7.5v7.5h-7.5zM450.8 106.1h7.5v7.5h-7.5zM463.3 106.1h7.5v7.5h-7.5zM475.8 106.1h7.5v7.5h-7.5zM488.2 106.1h7.5v7.5h-7.5zM500.7 106.1h7.5v7.5h-7.5zM513.1 106.1h7.5v7.5h-7.5zM525.6 106.1h7.5v7.5h-7.5zM538.1 106.1h7.5v7.5h-7.5zM550.5 106.1h7.5v7.5h-7.5zM563 106.1h7.5v7.5h-7.5zM575.4 106.1h7.5v7.5h-7.5zM587.9 106.1h7.5v7.5h-7.5zM600.4 106.1h7.5v7.5h-7.5zM612.8 106.1h7.5v7.5h-7.5zM625.3 106.1h7.5v7.5h-7.5zM637.7 106.1h7.5v7.5h-7.5zM650.2 106.1h7.5v7.5h-7.5zM662.7 106.1h7.5v7.5h-7.5zM675.1 106.1h7.5v7.5h-7.5zM687.6 106.1h7.5v7.5h-7.5zM700 106.1h7.5v7.5h-7.5z" fill="#FF00FF"/>
<path d="M168 566.8l5.5 -0.9 7 -1.4 6.2 -1.8 6.2 -2.3 6.3 -3 6.2 -3.7 6.2 -4.2 6.2 -5.1 6.3 -5.6 6.2 -7.9 6.2 -11.3 6.3 -17.1 6.2 -26 6.2 -34.3 6.3 -45.9 6.2 -48.4 6.2 -42.7 6.2 -38.2 6.3 -31.9 6.2 -26.7 6.2 -21.5 6.3 -17.2 6.2 -13.6 6.2 -10.5 6.3 -8.3 6.2 -6.3 6.2 -4.9 6.2 -3.6 6.3 -2.9 6.2 -2.1 6.2 -1.6 6.3 -1.3 6.2 -0.9 6.2 -0.7 6.3 -0.5 6.2 -0.4 6.2 -0.3 6.2 -0.2 6.3 -0.2 6.2 -0.1 6.2 -0.1 6.3 -0.1 6.2 0 6.2 0 6.3 -0.1 6.2 0 6.2 0 6.3 0 6.2 0 6.2 0 6.2 0 6.3 0 6.2 0 6.2 -0.1 6.3 0 6.2 0 6.2 0 6.3 0 6.2 0 6.2 0 6.2 0 6.3 0 6.2 0 6.2 0 6.3 0 6.2 0 6.2 0 6.3 0 6.2 0 6.2 0 6.2 0 6.3 0 6.2 0 6.2 0 6.3 0 6.2 0 6.2 0 6.3 0 6.2 0 6.2 0 6.2 0 6.3 0 6.2 0 6.2 0 7 0 5.5 0" fill="none" stroke="#FF0000" stroke-width="3.2" stroke-linejoin="round"/>
<path d="M164.2 566.8a3.8 3.8 0 1 0 7.5 0a3.8 3.8 0 1 0 -7.5 0M176.7 564.5a3.8 3.8 0 1 0 7.5 0a3.8 3.8 0 1 0 -7.5 0M189.2 560.4a3.8 3.8 0 1 0 7.5 0a3.8 3.8 0 1 0 -7.5 0M201.6 553.7a3.8 3.8 0 1 0 7.5 0a3.8 3.8 0 1 0 -7.5 0M214.1 544.4a3.8 3.8 0 1 0 7.5 0a3.8 3.8 0 1 0 -7.5 0M226.6 530.9a3.8 3.8 0 1 0 7.5 0a3.8 3.8 0 1 0 -7.5 0M239 502.5a3.8 3.8 0 1 0 7.5 0a3.8 3.8 0 1 0 -7.5 0M251.5 442.2a3.8 3.8 0 1 0 7.5 0a3.8 3.8 0 1 0 -7.5 0M263.9 347.9a3.8 3.8 0 1 0 7.5 0a3.8 3.8 0 1 0 -7.5 0M276.4 267a3.8 3.8 0 1 0 7.5 0a3.8 3.8 0 1 0 -7.5 0M288.9 208.4a3.8 3.8 0 1 0 7.5 0a3.8 3.8 0 1 0 -7.5 0M301.3 169.7a3.8 3.8 0 1 0 7.5 0a3.8 3.8 0 1 0 -7.5 0M313.8 145.6a3.8 3.8 0 1 0 7.5 0a3.8 3.8 0 1 0 -7.5 0M326.2 131a3.8 3.8 0 1 0 7.5 0a3.8 3.8 0 1 0 -7.5 0M338.7 122.5a3.8 3.8 0 1 0 7.5 0a3.8 3.8 0 1 0 -7.5 0M351.2 117.5a3.8 3.8 0 1 0 7.5 0a3.8 3.8 0 1 0 -7.5 0M363.6 114.6a3.8 3.8 0 1 0 7.5 0a3.8 3.8 0 1 0 -7.5 0M376.1 113a3.8 3.8 0 1 0 7.5 0a3.8 3.8 0 1 0 -7.5 0M388.5 112.1a3.8 3.8 0 1 0 7.5 0a3.8 3.8 0 1 0 -7.5 0M401 111.6a3.8 3.8 0 1 0 7.5 0a3.8 3.8 0 1 0 -7.5 0M413.5 111.3a3.8 3.8 0 1 0 7.5 0a3.8 3.8 0 1 0 -7.5 0M425.9 111.1a3.8 3.8 0 1 0 7.5 0a3.8 3.8 0 1 0 -7.5 0M438.4 111.1a3.8 3.8 0 1 0 7.5 0a3.8 3.8 0 1 0 -7.5 0M450.8 111a3.8 3.8 0 1 0 7.5 0a3.8 3.8 0 1 0 -7.5 0M463.3 111a3.8 3.8 0 1 0 7.5 0a3.8 3.8 0 1 0 -7.5 0M475.8 111a3.8 3.8 0 1 0 7.5 0a3.8 3.8 0 1 0 -7.5 0M488.2 111a3.8 3.8 0 1 0 7.5 0a3.8 3.8 0 1 0 -7.5 0M500.7 110.9a3.8 3.8 0 1 0 7.5 0a3.8 3.8 0 1 0 -7.5 0M513.1 110.9a3.8 3.8 0 1 0 7.5 0a3.8 3.8 0 1 0 -7.5 0M525.6 110.9a3.8 3.8 0 1 0 7.5 0a3.8 3.8 0 1 0 -7.5 0M538.1 110.9a3.8 3.8 0 1 0 7.5 0a3.8 3.8 0 1 0 -7.5 0M550.5 110.9a3.8 3.8 0 1 0 7.5 0a3.8 3.8 0 1 0 -7.5 0M563 110.9a3.8 3.8 0 1 0 7.5 0a3.8 3.8 0 1 0 -7.5 0M575.4 110.9a3.8 3.8 0 1 0 7.5 0a3.8 3.8 0 1 0 -7.5 0M587.9 110.9a3.8 3.8 0 1 0 7.5 0a3.8 3.8 0 1 0 -7.5 0M600.4 110.9a3.8 3.8 0 1 0 7.5 0a3.8 3.8 0 1 0 -7.5 0M612.8 110.9a3.8 3.8 0 1 0 7.5 0a3.8 3.8 0 1 0 -7.5 0M625.3 110.9a3.8 3.8 0 1 0 7.5 0a3.8 3.8 0 1 0 -7.5 0M637.7 110.9a3.8 3.8 0 1 0 7.5 0a3.8 3.8 0 1 0 -7.5 0M650.2 110.9a3.8 3.8 0 1 0 7.5 0a3.8 3.8 0 1 0 -7.5 0M662.7 110.9a3.8 3.8 0 1 0 7.5 0a3.8 3.8 0 1 0 -7.5 0M675.1 110.9a3.8 3.8 0 1 0 7.5 0a3.8 3.8 0 1 0 -7.5 0M687.6 110.9a3.8 3.8 0 1 0 7.5 0a3.8 3.8 0 1 0 -7.5 0M700 110.9a3.8 3.8 0 1 0 7.5 0a3.8 3.8 0 1 0 -7.5 0" fill="#FF0000"/>
<path d="M168 567.7l5.5 -0.6 7 -0.9 6.2 -1.3 6.2 -1.6 6.3 -2.1 6.2 -2.8 6.2 -3.5 6.2 -4.1 6.3 -4.6 6.2 -5.7 6.2 -6.7 6.3 -10.1 6.2 -15.4 6.2 -22.3 6.3 -33.1 6.2 -40.3 6.2 -48 6.2 -48 6.3 -40.1 6.2 -34.6 6.2 -28.4 6.3 -23.3 6.2 -18.3 6.2 -14.3 6.3 -11.1 6.2 -8.5 6.2 -6.4 6.2 -4.9 6.3 -3.7 6.2 -2.8 6.2 -2.1 6.3 -1.5 6.2 -1.2 6.2 -0.9 6.3 -0.6 6.2 -0.5 6.2 -0.3 6.2 -0.3 6.3 -0.2 6.2 -0.1 6.2 -0.1 6.3 -0.1 6.2 -0.1 6.2 0 6.3 -0.1 6.2 0 6.2 0 6.3 0 6.2 0 6.2 0 6.2 0 6.3 0 6.2 0 6.2 0 6.3 0 6.2 0 6.2 0 6.3 0 6.2 0 6.2 0 6.2 0 6.3 0 6.2 0 6.2 0 6.3 0 6.2 0 6.2 0 6.3 0 6.2 0 6.2 0 6.2 0 6.3 0 6.2 0 6.2 0 6.3 0 6.2 0 6.2 0 6.3 0 6.2 0 6.2 0 6.2 0 6.3 0 6.2 0 6.2 0 7 0 5.5 0" fill="none" stroke="#8B0000" stroke-width="3.2" stroke-linejoin="round"/>
<path d="M168 563.6l3.8 7.1h-7.5zM180.5 562l3.8 7.1h-7.5zM192.9 559.2l3.8 7.1h-7.5zM205.4 554.3l3.8 7.1h-7.5zM217.8 546.7l3.8 7.1h-7.5zM230.3 536.4l3.8 7.1h-7.5zM242.8 519.5l3.8 7.1h-7.5zM255.2 481.8l3.8 7.1h-7.5zM267.7 408.4l3.8 7.1h-7.5zM280.1 312.4l3.8 7.1h-7.5zM292.6 237.8l3.8 7.1h-7.5zM305.1 186.1l3.8 7.1h-7.5zM317.5 153.5l3.8 7.1h-7.5zM330 133.9l3.8 7.1h-7.5zM342.4 122.6l3.8 7.1h-7.5zM354.9 116.1l3.8 7.1h-7.5zM367.4 112.4l3.8 7.1h-7.5zM379.8 110.4l3.8 7.1h-7.5zM392.3 109.3l3.8 7.1h-7.5zM404.7 108.7l3.8 7.1h-7.5zM417.2 108.3l3.8 7.1h-7.5zM429.7 108.1l3.8 7.1h-7.5zM442.1 108l3.8 7.1h-7.5zM454.6 108l3.8 7.1h-7.5zM467.1 108l3.8 7.1h-7.5zM479.5 108l3.8 7.1h-7.5zM492 107.9l3.8 7.1h-7.5zM504.4 107.9l3.8 7.1h-7.5zM516.9 107.9l3.8 7.1h-7.5zM529.4 107.9l3.8 7.1h-7.5zM541.8 107.9l3.8 7.1h-7.5zM554.3 107.9l3.8 7.1h-7.5zM566.7 107.9l3.8 7.1h-7.5zM579.2 107.9l3.8 7.1h-7.5zM591.7 107.9l3.8 7.1h-7.5zM604.1 107.9l3.8 7.1h-7.5zM616.6 107.9l3.8 7.1h-7.5zM629 107.9l3.8 7.1h-7.5zM641.5 107.9l3.8 7.1h-7.5zM654 107.9l3.8 7.1h-7.5zM666.4 107.9l3.8 7.1h-7.5zM678.9 107.9l3.8 7.1h-7.5zM691.3 107.9l3.8 7.1h-7.5zM703.8 107.9l3.8 7.1h-7.5z" fill="#8B0000"/>
<path d="M168 568.1l5.5 -0.4 7 -0.8 6.2 -0.9 6.2 -1.3 6.3 -1.7 6.2 -2.2 6.2 -2.9 6.2 -3.5 6.3 -4.1 6.2 -5 6.2 -5.3 6.3 -7.6 6.2 -10.5 6.2 -16 6.3 -24.5 6.2 -32.7 6.2 -44.1 6.2 -47.9 6.3 -45.4 6.2 -41.7 6.2 -34.2 6.3 -28.3 6.2 -22.3 6.2 -17.6 6.3 -13.5 6.2 -10.2 6.2 -7.8 6.2 -5.8 6.3 -4.4 6.2 -3.2 6.2 -2.4 6.3 -1.8 6.2 -1.3 6.2 -1 6.3 -0.7 6.2 -0.5 6.2 -0.4 6.2 -0.3 6.3 -0.2 6.2 -0.1 6.2 -0.1 6.3 -0.1 6.2 -0.1 6.2 0 6.3 0 6.2 -0.1 6.2 0 6.3 0 6.2 0 6.2 0 6.2 0 6.3 0 6.2 0 6.2 0 6.3 0 6.2 0 6.2 0 6.3 0 6.2 0 6.2 0 6.2 0 6.3 0 6.2 0 6.2 0 6.3 0 6.2 0 6.2 0 6.3 0 6.2 0 6.2 0 6.2 0 6.3 0 6.2 0 6.2 0 6.3 0 6.2 0 6.2 0 6.3 0 6.2 0 6.2 0 6.2 0 6.3 0 6.2 0 6.2 0 7 0 5.5 0" fill="none" stroke="#000000" stroke-width="3.2" stroke-linejoin="round"/>
<path d="M168 563.6l4.5 4.5l-4.5 4.5l-4.5 -4.5zM180.5 562.4l4.5 4.5l-4.5 4.5l-4.5 -4.5zM192.9 560.2l4.5 4.5l-4.5 4.5l-4.5 -4.5zM205.4 556.3l4.5 4.5l-4.5 4.5l-4.5 -4.5zM217.8 549.9l4.5 4.5l-4.5 4.5l-4.5 -4.5zM230.3 540.8l4.5 4.5l-4.5 4.5l-4.5 -4.5zM242.8 527.9l4.5 4.5l-4.5 4.5l-4.5 -4.5zM255.2 501.4l4.5 4.5l-4.5 4.5l-4.5 -4.5zM267.7 444.2l4.5 4.5l-4.5 4.5l-4.5 -4.5zM280.1 352.2l4.5 4.5l-4.5 4.5l-4.5 -4.5zM292.6 265.1l4.5 4.5l-4.5 4.5l-4.5 -4.5zM305.1 202.6l4.5 4.5l-4.5 4.5l-4.5 -4.5zM317.5 162.7l4.5 4.5l-4.5 4.5l-4.5 -4.5zM330 139l4.5 4.5l-4.5 4.5l-4.5 -4.5zM342.4 125.4l4.5 4.5l-4.5 4.5l-4.5 -4.5zM354.9 117.8l4.5 4.5l-4.5 4.5l-4.5 -4.5zM367.4 113.6l4.5 4.5l-4.5 4.5l-4.5 -4.5zM379.8 111.3l4.5 4.5l-4.5 4.5l-4.5 -4.5zM392.3 110.1l4.5 4.5l-4.5 4.5l-4.5 -4.5zM404.7 109.4l4.5 4.5l-4.5 4.5l-4.5 -4.5zM417.2 109.1l4.5 4.5l-4.5 4.5l-4.5 -4.5zM429.7 108.9l4.5 4.5l-4.5 4.5l-4.5 -4.5zM442.1 108.8l4.5 4.5l-4.5 4.5l-4.5 -4.5zM454.6 108.7l4.5 4.5l-4.5 4.5l-4.5 -4.5zM467.1 108.7l4.5 4.5l-4.5 4.5l-4.5 -4.5zM479.5 108.7l4.5 4.5l-4.5 4.5l-4.5 -4.5zM492 108.7l4.5 4.5l-4.5 4.5l-4.5 -4.5zM504.4 108.7l4.5 4.5l-4.5 4.5l-4.5 -4.5zM516.9 108.7l4.5 4.5l-4.5 4.5l-4.5 -4.5zM529.4 108.7l4.5 4.5l-4.5 4.5l-4.5 -4.5zM541.8 108.7l4.5 4.5l-4.5 4.5l-4.5 -4.5zM554.3 108.7l4.5 4.5l-4.5 4.5l-4.5 -4.5zM566.7 108.7l4.5 4.5l-4.5 4.5l-4.5 -4.5zM579.2 108.7l4.5 4.5l-4.5 4.5l-4.5 -4.5zM591.7 108.7l4.5 4.5l-4.5 4.5l-4.5 -4.5zM604.1 108.7l4.5 4.5l-4.5 4.5l-4.5 -4.5zM616.6 108.7l4.5 4.5l-4.5 4.5l-4.5 -4.5zM629 108.7l4.5 4.5l-4.5 4.5l-4.5 -4.5zM641.5 108.7l4.5 4.5l-4.5 4.5l-4.5 -4.5zM654 108.7l4.5 4.5l-4.5 4.5l-4.5 -4.5zM666.4 108.7l4.5 4.5l-4.5 4.5l-4.5 -4.5zM678.9 108.7l4.5 4.5l-4.5 4.5l-4.5 -4.5zM691.3 108.7l4.5 4.5l-4.5 4.5l-4.5 -4.5zM703.8 108.7l4.5 4.5l-4.5 4.5l-4.5 -4.5z" fill="#000000"/>
<path d="M168 568.5l5.5 -0.4 7 -0.5 6.2 -0.8 6.2 -0.9 6.3 -1.3 6.2 -1.8 6.2 -2.3 6.2 -2.9 6.3 -3.7 6.2 -4.3 6.2 -4.7 6.3 -6 6.2 -7.4 6.2 -11.2 6.3 -17.3 6.2 -24.6 6.2 -35.7 6.2 -42.5 6.3 -48.4 6.2 -48 6.2 -40.3 6.3 -34.4 6.2 -27.5 6.2 -21.8 6.3 -16.7 6.2 -12.7 6.2 -9.5 6.2 -7 6.3 -5.3 6.2 -3.9 6.2 -2.8 6.3 -2.1 6.2 -1.5 6.2 -1.1 6.3 -0.8 6.2 -0.6 6.2 -0.4 6.2 -0.3 6.3 -0.2 6.2 -0.2 6.2 -0.1 6.3 -0.1 6.2 -0.1 6.2 0 6.3 0 6.2 -0.1 6.2 0 6.3 0 6.2 0 6.2 0 6.2 0 6.3 0 6.2 0 6.2 0 6.3 0 6.2 0 6.2 0 6.3 0 6.2 0 6.2 0 6.2 0 6.3 0 6.2 0 6.2 0 6.3 0 6.2 0 6.2 0 6.3 0 6.2 0 6.2 0 6.2 0 6.3 0 6.2 0 6.2 0 6.3 0 6.2 0 6.2 0 6.3 0 6.2 0 6.2 0 6.2 0 6.3 0 6.2 0 6.2 0 7 0 5.5 0" fill="none" stroke="#00008B" stroke-width="3.2" stroke-linejoin="round"/>
<path d="M168 564l4.5 4.5l-4.5 4.5l-4.5 -4.5zM180.5 563.1l4.5 4.5l-4.5 4.5l-4.5 -4.5zM192.9 561.4l4.5 4.5l-4.5 4.5l-4.5 -4.5zM205.4 558.3l4.5 4.5l-4.5 4.5l-4.5 -4.5zM217.8 553.1l4.5 4.5l-4.5 4.5l-4.5 -4.5zM230.3 545.1l4.5 4.5l-4.5 4.5l-4.5 -4.5zM242.8 534.4l4.5 4.5l-4.5 4.5l-4.5 -4.5zM255.2 515.8l4.5 4.5l-4.5 4.5l-4.5 -4.5zM267.7 473.9l4.5 4.5l-4.5 4.5l-4.5 -4.5zM280.1 395.7l4.5 4.5l-4.5 4.5l-4.5 -4.5zM292.6 299.3l4.5 4.5l-4.5 4.5l-4.5 -4.5zM305.1 224.6l4.5 4.5l-4.5 4.5l-4.5 -4.5zM317.5 175.3l4.5 4.5l-4.5 4.5l-4.5 -4.5zM330 145.9l4.5 4.5l-4.5 4.5l-4.5 -4.5zM342.4 129.4l4.5 4.5l-4.5 4.5l-4.5 -4.5zM354.9 120.2l4.5 4.5l-4.5 4.5l-4.5 -4.5zM367.4 115.3l4.5 4.5l-4.5 4.5l-4.5 -4.5zM379.8 112.7l4.5 4.5l-4.5 4.5l-4.5 -4.5zM392.3 111.3l4.5 4.5l-4.5 4.5l-4.5 -4.5zM404.7 110.6l4.5 4.5l-4.5 4.5l-4.5 -4.5zM417.2 110.2l4.5 4.5l-4.5 4.5l-4.5 -4.5zM429.7 110l4.5 4.5l-4.5 4.5l-4.5 -4.5zM442.1 109.9l4.5 4.5l-4.5 4.5l-4.5 -4.5zM454.6 109.8l4.5 4.5l-4.5 4.5l-4.5 -4.5zM467.1 109.8l4.5 4.5l-4.5 4.5l-4.5 -4.5zM479.5 109.8l4.5 4.5l-4.5 4.5l-4.5 -4.5zM492 109.8l4.5 4.5l-4.5 4.5l-4.5 -4.5zM504.4 109.8l4.5 4.5l-4.5 4.5l-4.5 -4.5zM516.9 109.8l4.5 4.5l-4.5 4.5l-4.5 -4.5zM529.4 109.8l4.5 4.5l-4.5 4.5l-4.5 -4.5zM541.8 109.8l4.5 4.5l-4.5 4.5l-4.5 -4.5zM554.3 109.8l4.5 4.5l-4.5 4.5l-4.5 -4.5zM566.7 109.8l4.5 4.5l-4.5 4.5l-4.5 -4.5zM579.2 109.8l4.5 4.5l-4.5 4.5l-4.5 -4.5zM591.7 109.8l4.5 4.5l-4.5 4.5l-4.5 -4.5zM604.1 109.8l4.5 4.5l-4.5 4.5l-4.5 -4.5zM616.6 109.8l4.5 4.5l-4.5 4.5l-4.5 -4.5zM629 109.8l4.5 4.5l-4.5 4.5l-4.5 -4.5zM641.5 109.8l4.5 4.5l-4.5 4.5l-4.5 -4.5zM654 109.8l4.5 4.5l-4.5 4.5l-4.5 -4.5zM666.4 109.8l4.5 4.5l-4.5 4.5l-4.5 -4.5zM678.9 109.8l4.5 4.5l-4.5 4.5l-4.5 -4.5zM691.3 109.8l4.5 4.5l-4.5 4.5l-4.5 -4.5zM703.8 109.8l4.5 4.5l-4.5 4.5l-4.5 -4.5z" fill="#00008B"/>
<path d="M168 568.7l5.5 -0.2 7 -0.5 6.2 -0.5 6.2 -0.8 6.3 -1 6.2 -1.3 6.2 -1.9 6.2 -2.3 6.3 -3.1 6.2 -3.7 6.2 -4.2 6.3 -5.2 6.2 -5.6 6.2 -8.2 6.3 -11.7 6.2 -17.8 6.2 -26.8 6.2 -35.1 6.3 -45.8 6.2 -48.9 6.2 -45.8 6.3 -41.6 6.2 -33.5 6.2 -27.2 6.3 -20.8 6.2 -15.9 6.2 -11.9 6.2 -8.7 6.3 -6.4 6.2 -4.7 6.2 -3.4 6.3 -2.5 6.2 -1.8 6.2 -1.2 6.3 -1 6.2 -0.6 6.2 -0.5 6.2 -0.4 6.3 -0.2 6.2 -0.2 6.2 -0.1 6.3 -0.1 6.2 0 6.2 -0.1 6.3 0 6.2 0 6.2 -0.1 6.3 0 6.2 0 6.2 0 6.2 0 6.3 0 6.2 0 6.2 0 6.3 0 6.2 0 6.2 0 6.3 0 6.2 0 6.2 0 6.2 0 6.3 0 6.2 0 6.2 0 6.3 0 6.2 0 6.2 0 6.3 0 6.2 0 6.2 0 6.2 0 6.3 0 6.2 0 6.2 0 6.3 0 6.2 0 6.2 0 6.3 0 6.2 0 6.2 0 6.2 0 6.3 0 6.2 0 6.2 0 7 0 5.5 0" fill="none" stroke="#9C9C1E" stroke-width="3.2" stroke-linejoin="round"/>
<path d="M164.2 565h7.5v7.5h-7.5zM176.7 564.3h7.5v7.5h-7.5zM189.2 563h7.5v7.5h-7.5zM201.6 560.6h7.5v7.5h-7.5zM214.1 556.4h7.5v7.5h-7.5zM226.6 549.7h7.5v7.5h-7.5zM239 540.3h7.5v7.5h-7.5zM251.5 526.5h7.5v7.5h-7.5zM263.9 497h7.5v7.5h-7.5zM276.4 435.1h7.5v7.5h-7.5zM288.9 340.3h7.5v7.5h-7.5zM301.3 253h7.5v7.5h-7.5zM313.8 192.3h7.5v7.5h-7.5zM326.2 155.6h7.5v7.5h-7.5zM338.7 135h7.5v7.5h-7.5zM351.2 123.9h7.5v7.5h-7.5zM363.6 118h7.5v7.5h-7.5zM376.1 114.9h7.5v7.5h-7.5zM388.5 113.3h7.5v7.5h-7.5zM401 112.5h7.5v7.5h-7.5zM413.5 112.1h7.5v7.5h-7.5zM425.9 111.9h7.5v7.5h-7.5zM438.4 111.8h7.5v7.5h-7.5zM450.8 111.7h7.5v7.5h-7.5zM463.3 111.7h7.5v7.5h-7.5zM475.8 111.7h7.5v7.5h-7.5zM488.2 111.7h7.5v7.5h-7.5zM500.7 111.6h7.5v7.5h-7.5zM513.1 111.6h7.5v7.5h-7.5zM525.6 111.6h7.5v7.5h-7.5zM538.1 111.6h7.5v7.5h-7.5zM550.5 111.6h7.5v7.5h-7.5zM563 111.6h7.5v7.5h-7.5zM575.4 111.6h7.5v7.5h-7.5zM587.9 111.6h7.5v7.5h-7.5zM600.4 111.6h7.5v7.5h-7.5zM612.8 111.6h7.5v7.5h-7.5zM625.3 111.6h7.5v7.5h-7.5zM637.7 111.6h7.5v7.5h-7.5zM650.2 111.6h7.5v7.5h-7.5zM662.7 111.6h7.5v7.5h-7.5zM675.1 111.6h7.5v7.5h-7.5zM687.6 111.6h7.5v7.5h-7.5zM700 111.6h7.5v7.5h-7.5z" fill="#9C9C1E"/>
<line x1="137.5" y1="12" x2="137.5" y2="570.5" stroke="#000" stroke-width="2.3"/>
<line x1="137.5" y1="13" x2="147.5" y2="13" stroke="#000" stroke-width="2.3"/>
<text x="110.5" y="23.5" font-size="32" text-anchor="end" textLength="68" lengthAdjust="spacingAndGlyphs">0.050</text>
<line x1="137.5" y1="124.3" x2="147.5" y2="124.3" stroke="#000" stroke-width="2.3"/>
<text x="110.5" y="134.8" font-size="32" text-anchor="end" textLength="68" lengthAdjust="spacingAndGlyphs">0.040</text>
<line x1="137.5" y1="235.6" x2="147.5" y2="235.6" stroke="#000" stroke-width="2.3"/>
<text x="110.5" y="246.1" font-size="32" text-anchor="end" textLength="68" lengthAdjust="spacingAndGlyphs">0.030</text>
<line x1="137.5" y1="346.9" x2="147.5" y2="346.9" stroke="#000" stroke-width="2.3"/>
<text x="110.5" y="357.4" font-size="32" text-anchor="end" textLength="68" lengthAdjust="spacingAndGlyphs">0.020</text>
<line x1="137.5" y1="458.2" x2="147.5" y2="458.2" stroke="#000" stroke-width="2.3"/>
<text x="110.5" y="468.7" font-size="32" text-anchor="end" textLength="68" lengthAdjust="spacingAndGlyphs">0.010</text>
<line x1="137.5" y1="569.5" x2="147.5" y2="569.5" stroke="#000" stroke-width="2.3"/>
<text x="110.5" y="580" font-size="32" text-anchor="end" textLength="68" lengthAdjust="spacingAndGlyphs">0.000</text>
<text x="24.5" y="311.5" font-size="32" transform="rotate(-90 24.5 311.5)">M&#8242;</text>
<text x="233.6" y="73.5" font-size="27" textLength="61" lengthAdjust="spacingAndGlyphs">30 <tspan font-size="18" dy="-11">o</tspan><tspan dy="11">C</tspan></text>
<text x="354.5" y="366.5" font-size="27" textLength="75" lengthAdjust="spacingAndGlyphs">240 <tspan font-size="18" dy="-11">o</tspan><tspan dy="11">C</tspan></text>
<line x1="218" y1="80" x2="375" y2="329" stroke="#000" stroke-width="1.3"/>
<line x1="375" y1="329" x2="359" y2="321" stroke="#000" stroke-width="1.3"/>
<line x1="375" y1="329" x2="374" y2="311" stroke="#000" stroke-width="1.3"/>
<text x="479" y="582" font-size="35" textLength="40.6" lengthAdjust="spacingAndGlyphs">(<tspan font-weight="bold">a</tspan>)</text>
<line x1="137.5" y1="604.5" x2="137.5" y2="1174.5" stroke="#000" stroke-width="2.3"/>
<line x1="136.5" y1="1173.4" x2="658" y2="1173.4" stroke="#000" stroke-width="2.3"/>
<line x1="137.5" y1="604.5" x2="147.5" y2="604.5" stroke="#000" stroke-width="2.3"/>
<text x="110.5" y="615" font-size="32" text-anchor="end" textLength="68" lengthAdjust="spacingAndGlyphs">0.020</text>
<line x1="137.5" y1="746.7" x2="147.5" y2="746.7" stroke="#000" stroke-width="2.3"/>
<text x="110.5" y="757.2" font-size="32" text-anchor="end" textLength="68" lengthAdjust="spacingAndGlyphs">0.015</text>
<line x1="137.5" y1="888.9" x2="147.5" y2="888.9" stroke="#000" stroke-width="2.3"/>
<text x="110.5" y="899.4" font-size="32" text-anchor="end" textLength="68" lengthAdjust="spacingAndGlyphs">0.010</text>
<line x1="137.5" y1="1031.1" x2="147.5" y2="1031.1" stroke="#000" stroke-width="2.3"/>
<text x="110.5" y="1041.6" font-size="32" text-anchor="end" textLength="68" lengthAdjust="spacingAndGlyphs">0.005</text>
<line x1="137.5" y1="1173.3" x2="147.5" y2="1173.3" stroke="#000" stroke-width="2.3"/>
<text x="110.5" y="1183.8" font-size="32" text-anchor="end" textLength="68" lengthAdjust="spacingAndGlyphs">0.000</text>
<line x1="264" y1="1173.4" x2="264" y2="1166" stroke="#000" stroke-width="2.3"/>
<line x1="394" y1="1173.4" x2="394" y2="1166" stroke="#000" stroke-width="2.3"/>
<line x1="524" y1="1173.4" x2="524" y2="1166" stroke="#000" stroke-width="2.3"/>
<line x1="654" y1="1173.4" x2="654" y2="1166" stroke="#000" stroke-width="2.3"/>
<path d="M162 1171l4.6 0.2 6 0.4 5.2 0.2 5.3 0.2 5.3 0.2 5.3 0.1 5.3 0.1 5.2 0.1 5.3 0.1 5.3 0.1 5.3 0.1 5.3 0 5.2 0.1 5.3 0 5.3 0 5.3 0.1 5.3 0 5.2 0 5.3 0 5.3 0 5.3 0 5.3 0.1 5.2 0 5.3 0 5.3 0 5.3 0 5.2 0 5.3 0 5.3 0 5.3 0 5.3 0 5.2 0 5.3 0 5.3 0 5.3 0 5.3 0 5.2 0 5.3 0 5.3 0 5.3 0 5.3 0 5.2 0 5.3 0 5.3 0 5.3 0 5.3 0 5.2 0 5.3 0 5.3 0 5.3 0 5.3 0 5.2 0 5.3 0 5.3 0 5.3 0 5.3 0 5.2 0 5.3 0 5.3 0 5.3 0 5.3 0 5.2 0 5.3 0 5.3 0 5.3 0 5.3 0 5.2 0 5.3 0 5.3 0 5.3 0 5.2 0 5.3 0 5.3 0 5.3 0 5.3 0 5.2 0 5.3 0 5.3 0 5.3 0 5.3 0 5.2 0 5.3 0 5.3 0 5.3 0 5.3 0 5.2 0 5.3 0 5.3 0 5.3 0 5.3 0 5.2 0 5.3 0 6 0 4.6 0" fill="none" stroke="#FF00FF" stroke-width="3.0" stroke-linejoin="round"/>
<path d="M158.5 1171a3.5 3.5 0 1 0 7 0a3.5 3.5 0 1 0 -7 0M169.1 1171.6a3.5 3.5 0 1 0 7 0a3.5 3.5 0 1 0 -7 0M179.6 1172a3.5 3.5 0 1 0 7 0a3.5 3.5 0 1 0 -7 0M190.2 1172.3a3.5 3.5 0 1 0 7 0a3.5 3.5 0 1 0 -7 0M200.7 1172.5a3.5 3.5 0 1 0 7 0a3.5 3.5 0 1 0 -7 0M211.3 1172.7a3.5 3.5 0 1 0 7 0a3.5 3.5 0 1 0 -7 0M221.9 1172.8a3.5 3.5 0 1 0 7 0a3.5 3.5 0 1 0 -7 0M232.4 1172.9a3.5 3.5 0 1 0 7 0a3.5 3.5 0 1 0 -7 0M243 1173a3.5 3.5 0 1 0 7 0a3.5 3.5 0 1 0 -7 0M253.5 1173a3.5 3.5 0 1 0 7 0a3.5 3.5 0 1 0 -7 0M264.1 1173a3.5 3.5 0 1 0 7 0a3.5 3.5 0 1 0 -7 0M274.7 1173.1a3.5 3.5 0 1 0 7 0a3.5 3.5 0 1 0 -7 0M285.2 1173.1a3.5 3.5 0 1 0 7 0a3.5 3.5 0 1 0 -7 0M295.8 1173.1a3.5 3.5 0 1 0 7 0a3.5 3.5 0 1 0 -7 0M306.3 1173.1a3.5 3.5 0 1 0 7 0a3.5 3.5 0 1 0 -7 0M316.9 1173.1a3.5 3.5 0 1 0 7 0a3.5 3.5 0 1 0 -7 0M327.4 1173.1a3.5 3.5 0 1 0 7 0a3.5 3.5 0 1 0 -7 0M338 1173.1a3.5 3.5 0 1 0 7 0a3.5 3.5 0 1 0 -7 0M348.6 1173.1a3.5 3.5 0 1 0 7 0a3.5 3.5 0 1 0 -7 0M359.1 1173.1a3.5 3.5 0 1 0 7 0a3.5 3.5 0 1 0 -7 0M369.7 1173.1a3.5 3.5 0 1 0 7 0a3.5 3.5 0 1 0 -7 0M380.2 1173.1a3.5 3.5 0 1 0 7 0a3.5 3.5 0 1 0 -7 0M390.8 1173.1a3.5 3.5 0 1 0 7 0a3.5 3.5 0 1 0 -7 0M401.4 1173.1a3.5 3.5 0 1 0 7 0a3.5 3.5 0 1 0 -7 0M411.9 1173.1a3.5 3.5 0 1 0 7 0a3.5 3.5 0 1 0 -7 0M422.5 1173.1a3.5 3.5 0 1 0 7 0a3.5 3.5 0 1 0 -7 0M433 1173.1a3.5 3.5 0 1 0 7 0a3.5 3.5 0 1 0 -7 0M443.6 1173.1a3.5 3.5 0 1 0 7 0a3.5 3.5 0 1 0 -7 0M454.2 1173.1a3.5 3.5 0 1 0 7 0a3.5 3.5 0 1 0 -7 0M464.7 1173.1a3.5 3.5 0 1 0 7 0a3.5 3.5 0 1 0 -7 0M475.3 1173.1a3.5 3.5 0 1 0 7 0a3.5 3.5 0 1 0 -7 0M485.8 1173.1a3.5 3.5 0 1 0 7 0a3.5 3.5 0 1 0 -7 0M496.4 1173.1a3.5 3.5 0 1 0 7 0a3.5 3.5 0 1 0 -7 0M507 1173.1a3.5 3.5 0 1 0 7 0a3.5 3.5 0 1 0 -7 0M517.5 1173.1a3.5 3.5 0 1 0 7 0a3.5 3.5 0 1 0 -7 0M528.1 1173.1a3.5 3.5 0 1 0 7 0a3.5 3.5 0 1 0 -7 0M538.6 1173.1a3.5 3.5 0 1 0 7 0a3.5 3.5 0 1 0 -7 0M549.2 1173.1a3.5 3.5 0 1 0 7 0a3.5 3.5 0 1 0 -7 0M559.7 1173.1a3.5 3.5 0 1 0 7 0a3.5 3.5 0 1 0 -7 0M570.3 1173.1a3.5 3.5 0 1 0 7 0a3.5 3.5 0 1 0 -7 0M580.9 1173.1a3.5 3.5 0 1 0 7 0a3.5 3.5 0 1 0 -7 0M591.4 1173.1a3.5 3.5 0 1 0 7 0a3.5 3.5 0 1 0 -7 0M602 1173.1a3.5 3.5 0 1 0 7 0a3.5 3.5 0 1 0 -7 0M612.5 1173.1a3.5 3.5 0 1 0 7 0a3.5 3.5 0 1 0 -7 0M623.1 1173.1a3.5 3.5 0 1 0 7 0a3.5 3.5 0 1 0 -7 0M633.7 1173.1a3.5 3.5 0 1 0 7 0a3.5 3.5 0 1 0 -7 0M644.2 1173.1a3.5 3.5 0 1 0 7 0a3.5 3.5 0 1 0 -7 0M654.8 1173.1a3.5 3.5 0 1 0 7 0a3.5 3.5 0 1 0 -7 0" fill="#FF00FF"/>
<path d="M162 1169l4.6 0.5 6 0.7 5.2 0.4 5.3 0.4 5.3 0.3 5.3 0.3 5.3 0.2 5.2 0.2 5.3 0.1 5.3 0.2 5.3 0.1 5.3 0.1 5.2 0.1 5.3 0 5.3 0.1 5.3 0 5.3 0.1 5.2 0 5.3 0.1 5.3 0 5.3 0 5.3 0 5.2 0 5.3 0.1 5.3 0 5.3 0 5.2 0 5.3 0 5.3 0 5.3 0 5.3 0 5.2 0 5.3 0 5.3 0 5.3 0 5.3 0 5.2 0 5.3 0 5.3 0 5.3 0 5.3 0 5.2 0 5.3 0 5.3 0 5.3 0 5.3 0 5.2 0 5.3 0 5.3 0 5.3 0 5.3 0 5.2 0 5.3 0 5.3 0 5.3 0 5.3 0 5.2 0 5.3 0 5.3 0 5.3 0 5.3 0 5.2 0 5.3 0 5.3 0 5.3 0 5.3 0 5.2 0 5.3 0 5.3 0 5.3 0 5.2 0 5.3 0 5.3 0 5.3 0 5.3 0 5.2 0 5.3 0 5.3 0 5.3 0 5.3 0 5.2 0 5.3 0 5.3 0 5.3 0 5.3 0 5.2 0 5.3 0 5.3 0 5.3 0 5.3 0 5.2 0 5.3 0 6 0 4.6 0" fill="none" stroke="#000000" stroke-width="3.0" stroke-linejoin="round"/>
<path d="M158.5 1165.5l7 7m0 -7l-7 7M169.1 1166.7l7 7m0 -7l-7 7M179.6 1167.5l7 7m0 -7l-7 7M190.2 1168.1l7 7m0 -7l-7 7M200.7 1168.5l7 7m0 -7l-7 7M211.3 1168.8l7 7m0 -7l-7 7M221.9 1169l7 7m0 -7l-7 7M232.4 1169.1l7 7m0 -7l-7 7M243 1169.2l7 7m0 -7l-7 7M253.5 1169.3l7 7m0 -7l-7 7M264.1 1169.4l7 7m0 -7l-7 7M274.7 1169.4l7 7m0 -7l-7 7M285.2 1169.5l7 7m0 -7l-7 7M295.8 1169.5l7 7m0 -7l-7 7M306.3 1169.5l7 7m0 -7l-7 7M316.9 1169.5l7 7m0 -7l-7 7M327.4 1169.5l7 7m0 -7l-7 7M338 1169.5l7 7m0 -7l-7 7M348.6 1169.5l7 7m0 -7l-7 7M359.1 1169.5l7 7m0 -7l-7 7M369.7 1169.5l7 7m0 -7l-7 7M380.2 1169.5l7 7m0 -7l-7 7M390.8 1169.5l7 7m0 -7l-7 7M401.4 1169.5l7 7m0 -7l-7 7M411.9 1169.5l7 7m0 -7l-7 7M422.5 1169.5l7 7m0 -7l-7 7M433 1169.5l7 7m0 -7l-7 7M443.6 1169.5l7 7m0 -7l-7 7M454.2 1169.5l7 7m0 -7l-7 7M464.7 1169.5l7 7m0 -7l-7 7M475.3 1169.5l7 7m0 -7l-7 7M485.8 1169.5l7 7m0 -7l-7 7M496.4 1169.5l7 7m0 -7l-7 7M507 1169.5l7 7m0 -7l-7 7M517.5 1169.5l7 7m0 -7l-7 7M528.1 1169.5l7 7m0 -7l-7 7M538.6 1169.5l7 7m0 -7l-7 7M549.2 1169.5l7 7m0 -7l-7 7M559.7 1169.5l7 7m0 -7l-7 7M570.3 1169.5l7 7m0 -7l-7 7M580.9 1169.5l7 7m0 -7l-7 7M591.4 1169.5l7 7m0 -7l-7 7M602 1169.5l7 7m0 -7l-7 7M612.5 1169.5l7 7m0 -7l-7 7M623.1 1169.5l7 7m0 -7l-7 7M633.7 1169.5l7 7m0 -7l-7 7M644.2 1169.5l7 7m0 -7l-7 7M654.8 1169.5l7 7m0 -7l-7 7" stroke="#000000" stroke-width="1.4" fill="none"/>
<path d="M162 1165.6l4.6 0.9 6 1.1 5.2 0.9 5.3 0.6 5.3 0.6 5.3 0.5 5.3 0.4 5.2 0.4 5.3 0.3 5.3 0.2 5.3 0.3 5.3 0.1 5.2 0.2 5.3 0.1 5.3 0.1 5.3 0.1 5.3 0.1 5.2 0.1 5.3 0 5.3 0.1 5.3 0 5.3 0.1 5.2 0 5.3 0 5.3 0 5.3 0 5.2 0.1 5.3 0 5.3 0 5.3 0 5.3 0 5.2 0 5.3 0 5.3 0 5.3 0 5.3 0 5.2 0 5.3 0 5.3 0 5.3 0 5.3 0 5.2 0 5.3 0 5.3 0 5.3 0 5.3 0 5.2 0 5.3 0 5.3 0 5.3 0 5.3 0 5.2 0 5.3 0 5.3 0 5.3 0 5.3 0 5.2 0 5.3 0 5.3 0 5.3 0 5.3 0 5.2 0 5.3 0 5.3 0 5.3 0 5.3 0 5.2 0 5.3 0 5.3 0 5.3 0 5.2 0 5.3 0 5.3 0 5.3 0 5.3 0 5.2 0 5.3 0 5.3 0 5.3 0 5.3 0 5.2 0 5.3 0 5.3 0 5.3 0 5.3 0 5.2 0 5.3 0 5.3 0 5.3 0 5.3 0 5.2 0 5.3 0 6 0 4.6 0" fill="none" stroke="#FFA500" stroke-width="3.0" stroke-linejoin="round"/>
<path d="M162 1161.4l4.2 4.2l-4.2 4.2l-4.2 -4.2zM172.6 1163.4l4.2 4.2l-4.2 4.2l-4.2 -4.2zM183.1 1164.9l4.2 4.2l-4.2 4.2l-4.2 -4.2zM193.7 1166l4.2 4.2l-4.2 4.2l-4.2 -4.2zM204.2 1166.8l4.2 4.2l-4.2 4.2l-4.2 -4.2zM214.8 1167.3l4.2 4.2l-4.2 4.2l-4.2 -4.2zM225.4 1167.7l4.2 4.2l-4.2 4.2l-4.2 -4.2zM235.9 1168l4.2 4.2l-4.2 4.2l-4.2 -4.2zM246.5 1168.2l4.2 4.2l-4.2 4.2l-4.2 -4.2zM257 1168.4l4.2 4.2l-4.2 4.2l-4.2 -4.2zM267.6 1168.5l4.2 4.2l-4.2 4.2l-4.2 -4.2zM278.2 1168.6l4.2 4.2l-4.2 4.2l-4.2 -4.2zM288.7 1168.6l4.2 4.2l-4.2 4.2l-4.2 -4.2zM299.3 1168.6l4.2 4.2l-4.2 4.2l-4.2 -4.2zM309.8 1168.7l4.2 4.2l-4.2 4.2l-4.2 -4.2zM320.4 1168.7l4.2 4.2l-4.2 4.2l-4.2 -4.2zM330.9 1168.7l4.2 4.2l-4.2 4.2l-4.2 -4.2zM341.5 1168.7l4.2 4.2l-4.2 4.2l-4.2 -4.2zM352.1 1168.7l4.2 4.2l-4.2 4.2l-4.2 -4.2zM362.6 1168.7l4.2 4.2l-4.2 4.2l-4.2 -4.2zM373.2 1168.7l4.2 4.2l-4.2 4.2l-4.2 -4.2zM383.7 1168.7l4.2 4.2l-4.2 4.2l-4.2 -4.2zM394.3 1168.7l4.2 4.2l-4.2 4.2l-4.2 -4.2zM404.9 1168.7l4.2 4.2l-4.2 4.2l-4.2 -4.2zM415.4 1168.7l4.2 4.2l-4.2 4.2l-4.2 -4.2zM426 1168.7l4.2 4.2l-4.2 4.2l-4.2 -4.2zM436.5 1168.7l4.2 4.2l-4.2 4.2l-4.2 -4.2zM447.1 1168.7l4.2 4.2l-4.2 4.2l-4.2 -4.2zM457.7 1168.7l4.2 4.2l-4.2 4.2l-4.2 -4.2zM468.2 1168.7l4.2 4.2l-4.2 4.2l-4.2 -4.2zM478.8 1168.7l4.2 4.2l-4.2 4.2l-4.2 -4.2zM489.3 1168.7l4.2 4.2l-4.2 4.2l-4.2 -4.2zM499.9 1168.7l4.2 4.2l-4.2 4.2l-4.2 -4.2zM510.5 1168.7l4.2 4.2l-4.2 4.2l-4.2 -4.2zM521 1168.7l4.2 4.2l-4.2 4.2l-4.2 -4.2zM531.6 1168.7l4.2 4.2l-4.2 4.2l-4.2 -4.2zM542.1 1168.7l4.2 4.2l-4.2 4.2l-4.2 -4.2zM552.7 1168.7l4.2 4.2l-4.2 4.2l-4.2 -4.2zM563.2 1168.7l4.2 4.2l-4.2 4.2l-4.2 -4.2zM573.8 1168.7l4.2 4.2l-4.2 4.2l-4.2 -4.2zM584.4 1168.7l4.2 4.2l-4.2 4.2l-4.2 -4.2zM594.9 1168.7l4.2 4.2l-4.2 4.2l-4.2 -4.2zM605.5 1168.7l4.2 4.2l-4.2 4.2l-4.2 -4.2zM616 1168.7l4.2 4.2l-4.2 4.2l-4.2 -4.2zM626.6 1168.7l4.2 4.2l-4.2 4.2l-4.2 -4.2zM637.2 1168.7l4.2 4.2l-4.2 4.2l-4.2 -4.2zM647.7 1168.7l4.2 4.2l-4.2 4.2l-4.2 -4.2zM658.3 1168.7l4.2 4.2l-4.2 4.2l-4.2 -4.2z" fill="#FFA500"/>
<path d="M162 1161.5l4.6 1.5 6 1.7 5.2 1.2 5.3 1.1 5.3 0.9 5.3 0.8 5.3 0.6 5.2 0.5 5.3 0.5 5.3 0.4 5.3 0.3 5.3 0.3 5.2 0.2 5.3 0.2 5.3 0.2 5.3 0.2 5.3 0.1 5.2 0.1 5.3 0.1 5.3 0 5.3 0.1 5.3 0.1 5.2 0 5.3 0 5.3 0.1 5.3 0 5.2 0 5.3 0 5.3 0.1 5.3 0 5.3 0 5.2 0 5.3 0 5.3 0 5.3 0 5.3 0 5.2 0 5.3 0 5.3 0 5.3 0 5.3 0 5.2 0 5.3 0.1 5.3 0 5.3 0 5.3 0 5.2 0 5.3 0 5.3 0 5.3 0 5.3 0 5.2 0 5.3 0 5.3 0 5.3 0 5.3 0 5.2 0 5.3 0 5.3 0 5.3 0 5.3 0 5.2 0 5.3 0 5.3 0 5.3 0 5.3 0 5.2 0 5.3 0 5.3 0 5.3 0 5.2 0 5.3 0 5.3 0 5.3 0 5.3 0 5.2 0 5.3 0 5.3 0 5.3 0 5.3 0 5.2 0 5.3 0 5.3 0 5.3 0 5.3 0 5.2 0 5.3 0 5.3 0 5.3 0 5.3 0 5.2 0 5.3 0 6 0 4.6 0" fill="none" stroke="#800000" stroke-width="3.0" stroke-linejoin="round"/>
<path d="M162 1157.6l3.5 6.6h-7zM172.6 1160.9l3.5 6.6h-7zM183.1 1163.2l3.5 6.6h-7zM193.7 1164.8l3.5 6.6h-7zM204.2 1166l3.5 6.6h-7zM214.8 1166.8l3.5 6.6h-7zM225.4 1167.5l3.5 6.6h-7zM235.9 1167.9l3.5 6.6h-7zM246.5 1168.2l3.5 6.6h-7zM257 1168.4l3.5 6.6h-7zM267.6 1168.6l3.5 6.6h-7zM278.2 1168.7l3.5 6.6h-7zM288.7 1168.8l3.5 6.6h-7zM299.3 1168.9l3.5 6.6h-7zM309.8 1168.9l3.5 6.6h-7zM320.4 1168.9l3.5 6.6h-7zM330.9 1169l3.5 6.6h-7zM341.5 1169l3.5 6.6h-7zM352.1 1169l3.5 6.6h-7zM362.6 1169l3.5 6.6h-7zM373.2 1169l3.5 6.6h-7zM383.7 1169l3.5 6.6h-7zM394.3 1169l3.5 6.6h-7zM404.9 1169l3.5 6.6h-7zM415.4 1169l3.5 6.6h-7zM426 1169l3.5 6.6h-7zM436.5 1169l3.5 6.6h-7zM447.1 1169l3.5 6.6h-7zM457.7 1169l3.5 6.6h-7zM468.2 1169l3.5 6.6h-7zM478.8 1169l3.5 6.6h-7zM489.3 1169l3.5 6.6h-7zM499.9 1169l3.5 6.6h-7zM510.5 1169l3.5 6.6h-7zM521 1169l3.5 6.6h-7zM531.6 1169l3.5 6.6h-7zM542.1 1169l3.5 6.6h-7zM552.7 1169l3.5 6.6h-7zM563.2 1169l3.5 6.6h-7zM573.8 1169l3.5 6.6h-7zM584.4 1169l3.5 6.6h-7zM594.9 1169l3.5 6.6h-7zM605.5 1169l3.5 6.6h-7zM616 1169l3.5 6.6h-7zM626.6 1169l3.5 6.6h-7zM637.2 1169l3.5 6.6h-7zM647.7 1169l3.5 6.6h-7zM658.3 1169l3.5 6.6h-7z" fill="#800000"/>
<path d="M162 1155.7l4.6 2.2 6 2.6 5.2 1.9 5.3 1.5 5.3 1.4 5.3 1.1 5.3 1 5.2 0.8 5.3 0.7 5.3 0.6 5.3 0.5 5.3 0.4 5.2 0.4 5.3 0.3 5.3 0.2 5.3 0.3 5.3 0.2 5.2 0.1 5.3 0.1 5.3 0.2 5.3 0 5.3 0.1 5.2 0.1 5.3 0.1 5.3 0 5.3 0 5.2 0.1 5.3 0 5.3 0 5.3 0.1 5.3 0 5.2 0 5.3 0 5.3 0 5.3 0 5.3 0 5.2 0 5.3 0 5.3 0 5.3 0.1 5.3 0 5.2 0 5.3 0 5.3 0 5.3 0 5.3 0 5.2 0 5.3 0 5.3 0 5.3 0 5.3 0 5.2 0 5.3 0 5.3 0 5.3 0 5.3 0 5.2 0 5.3 0 5.3 0 5.3 0 5.3 0 5.2 0 5.3 0 5.3 0 5.3 0 5.3 0 5.2 0 5.3 0 5.3 0 5.3 0 5.2 0 5.3 0 5.3 0 5.3 0 5.3 0 5.2 0 5.3 0 5.3 0 5.3 0 5.3 0 5.2 0 5.3 0 5.3 0 5.3 0 5.3 0 5.2 0 5.3 0 5.3 0 5.3 0 5.3 0 5.2 0 5.3 0 6 0 4.6 0" fill="none" stroke="#FFB6C1" stroke-width="3.0" stroke-linejoin="round"/>
<path d="M158.5 1152.2h7v7h-7zM169.1 1157h7v7h-7zM179.6 1160.4h7v7h-7zM190.2 1162.9h7v7h-7zM200.7 1164.7h7v7h-7zM211.3 1166h7v7h-7zM221.9 1166.9h7v7h-7zM232.4 1167.6h7v7h-7zM243 1168.1h7v7h-7zM253.5 1168.4h7v7h-7zM264.1 1168.7h7v7h-7zM274.7 1168.8h7v7h-7zM285.2 1169h7v7h-7zM295.8 1169h7v7h-7zM306.3 1169.1h7v7h-7zM316.9 1169.2h7v7h-7zM327.4 1169.2h7v7h-7zM338 1169.2h7v7h-7zM348.6 1169.2h7v7h-7zM359.1 1169.2h7v7h-7zM369.7 1169.3h7v7h-7zM380.2 1169.3h7v7h-7zM390.8 1169.3h7v7h-7zM401.4 1169.3h7v7h-7zM411.9 1169.3h7v7h-7zM422.5 1169.3h7v7h-7zM433 1169.3h7v7h-7zM443.6 1169.3h7v7h-7zM454.2 1169.3h7v7h-7zM464.7 1169.3h7v7h-7zM475.3 1169.3h7v7h-7zM485.8 1169.3h7v7h-7zM496.4 1169.3h7v7h-7zM507 1169.3h7v7h-7zM517.5 1169.3h7v7h-7zM528.1 1169.3h7v7h-7zM538.6 1169.3h7v7h-7zM549.2 1169.3h7v7h-7zM559.7 1169.3h7v7h-7zM570.3 1169.3h7v7h-7zM580.9 1169.3h7v7h-7zM591.4 1169.3h7v7h-7zM602 1169.3h7v7h-7zM612.5 1169.3h7v7h-7zM623.1 1169.3h7v7h-7zM633.7 1169.3h7v7h-7zM644.2 1169.3h7v7h-7zM654.8 1169.3h7v7h-7z" fill="#FFB6C1"/>
<path d="M162 1146.9l4.6 3.3 6 4 5.2 2.8 5.3 2.4 5.3 2 5.3 1.7 5.3 1.5 5.2 1.2 5.3 1.1 5.3 0.9 5.3 0.7 5.3 0.7 5.2 0.5 5.3 0.5 5.3 0.3 5.3 0.4 5.3 0.2 5.2 0.3 5.3 0.2 5.3 0.2 5.3 0.1 5.3 0.1 5.2 0.1 5.3 0.1 5.3 0.1 5.3 0 5.2 0.1 5.3 0 5.3 0.1 5.3 0 5.3 0 5.2 0.1 5.3 0 5.3 0 5.3 0 5.3 0 5.2 0 5.3 0 5.3 0 5.3 0.1 5.3 0 5.2 0 5.3 0 5.3 0 5.3 0 5.3 0 5.2 0 5.3 0 5.3 0 5.3 0 5.3 0 5.2 0 5.3 0 5.3 0 5.3 0 5.3 0 5.2 0 5.3 0 5.3 0 5.3 0 5.3 0 5.2 0 5.3 0 5.3 0 5.3 0 5.3 0 5.2 0 5.3 0 5.3 0 5.3 0 5.2 0 5.3 0 5.3 0 5.3 0 5.3 0 5.2 0 5.3 0 5.3 0 5.3 0 5.3 0 5.2 0 5.3 0 5.3 0 5.3 0 5.3 0 5.2 0 5.3 0 5.3 0 5.3 0 5.3 0 5.2 0 5.3 0 6 0 4.6 0" fill="none" stroke="#FF66CC" stroke-width="3.0" stroke-linejoin="round"/>
<path d="M158.5 1146.9a3.5 3.5 0 1 0 7 0a3.5 3.5 0 1 0 -7 0M169.1 1154.2a3.5 3.5 0 1 0 7 0a3.5 3.5 0 1 0 -7 0M179.6 1159.4a3.5 3.5 0 1 0 7 0a3.5 3.5 0 1 0 -7 0M190.2 1163.1a3.5 3.5 0 1 0 7 0a3.5 3.5 0 1 0 -7 0M200.7 1165.8a3.5 3.5 0 1 0 7 0a3.5 3.5 0 1 0 -7 0M211.3 1167.8a3.5 3.5 0 1 0 7 0a3.5 3.5 0 1 0 -7 0M221.9 1169.2a3.5 3.5 0 1 0 7 0a3.5 3.5 0 1 0 -7 0M232.4 1170.2a3.5 3.5 0 1 0 7 0a3.5 3.5 0 1 0 -7 0M243 1170.9a3.5 3.5 0 1 0 7 0a3.5 3.5 0 1 0 -7 0M253.5 1171.4a3.5 3.5 0 1 0 7 0a3.5 3.5 0 1 0 -7 0M264.1 1171.8a3.5 3.5 0 1 0 7 0a3.5 3.5 0 1 0 -7 0M274.7 1172a3.5 3.5 0 1 0 7 0a3.5 3.5 0 1 0 -7 0M285.2 1172.2a3.5 3.5 0 1 0 7 0a3.5 3.5 0 1 0 -7 0M295.8 1172.3a3.5 3.5 0 1 0 7 0a3.5 3.5 0 1 0 -7 0M306.3 1172.4a3.5 3.5 0 1 0 7 0a3.5 3.5 0 1 0 -7 0M316.9 1172.5a3.5 3.5 0 1 0 7 0a3.5 3.5 0 1 0 -7 0M327.4 1172.6a3.5 3.5 0 1 0 7 0a3.5 3.5 0 1 0 -7 0M338 1172.6a3.5 3.5 0 1 0 7 0a3.5 3.5 0 1 0 -7 0M348.6 1172.6a3.5 3.5 0 1 0 7 0a3.5 3.5 0 1 0 -7 0M359.1 1172.6a3.5 3.5 0 1 0 7 0a3.5 3.5 0 1 0 -7 0M369.7 1172.7a3.5 3.5 0 1 0 7 0a3.5 3.5 0 1 0 -7 0M380.2 1172.7a3.5 3.5 0 1 0 7 0a3.5 3.5 0 1 0 -7 0M390.8 1172.7a3.5 3.5 0 1 0 7 0a3.5 3.5 0 1 0 -7 0M401.4 1172.7a3.5 3.5 0 1 0 7 0a3.5 3.5 0 1 0 -7 0M411.9 1172.7a3.5 3.5 0 1 0 7 0a3.5 3.5 0 1 0 -7 0M422.5 1172.7a3.5 3.5 0 1 0 7 0a3.5 3.5 0 1 0 -7 0M433 1172.7a3.5 3.5 0 1 0 7 0a3.5 3.5 0 1 0 -7 0M443.6 1172.7a3.5 3.5 0 1 0 7 0a3.5 3.5 0 1 0 -7 0M454.2 1172.7a3.5 3.5 0 1 0 7 0a3.5 3.5 0 1 0 -7 0M464.7 1172.7a3.5 3.5 0 1 0 7 0a3.5 3.5 0 1 0 -7 0M475.3 1172.7a3.5 3.5 0 1 0 7 0a3.5 3.5 0 1 0 -7 0M485.8 1172.7a3.5 3.5 0 1 0 7 0a3.5 3.5 0 1 0 -7 0M496.4 1172.7a3.5 3.5 0 1 0 7 0a3.5 3.5 0 1 0 -7 0M507 1172.7a3.5 3.5 0 1 0 7 0a3.5 3.5 0 1 0 -7 0M517.5 1172.7a3.5 3.5 0 1 0 7 0a3.5 3.5 0 1 0 -7 0M528.1 1172.7a3.5 3.5 0 1 0 7 0a3.5 3.5 0 1 0 -7 0M538.6 1172.7a3.5 3.5 0 1 0 7 0a3.5 3.5 0 1 0 -7 0M549.2 1172.7a3.5 3.5 0 1 0 7 0a3.5 3.5 0 1 0 -7 0M559.7 1172.7a3.5 3.5 0 1 0 7 0a3.5 3.5 0 1 0 -7 0M570.3 1172.7a3.5 3.5 0 1 0 7 0a3.5 3.5 0 1 0 -7 0M580.9 1172.7a3.5 3.5 0 1 0 7 0a3.5 3.5 0 1 0 -7 0M591.4 1172.7a3.5 3.5 0 1 0 7 0a3.5 3.5 0 1 0 -7 0M602 1172.7a3.5 3.5 0 1 0 7 0a3.5 3.5 0 1 0 -7 0M612.5 1172.7a3.5 3.5 0 1 0 7 0a3.5 3.5 0 1 0 -7 0M623.1 1172.7a3.5 3.5 0 1 0 7 0a3.5 3.5 0 1 0 -7 0M633.7 1172.7a3.5 3.5 0 1 0 7 0a3.5 3.5 0 1 0 -7 0M644.2 1172.7a3.5 3.5 0 1 0 7 0a3.5 3.5 0 1 0 -7 0M654.8 1172.7a3.5 3.5 0 1 0 7 0a3.5 3.5 0 1 0 -7 0" fill="#FF66CC"/>
<path d="M162 1135.3l4.6 4.8 6 5.7 5.2 4.1 5.3 3.5 5.3 2.9 5.3 2.5 5.3 2.1 5.2 1.8 5.3 1.5 5.3 1.3 5.3 1.1 5.3 0.9 5.2 0.8 5.3 0.6 5.3 0.6 5.3 0.5 5.3 0.4 5.2 0.3 5.3 0.3 5.3 0.2 5.3 0.3 5.3 0.1 5.2 0.2 5.3 0.1 5.3 0.1 5.3 0.1 5.2 0.1 5.3 0 5.3 0.1 5.3 0 5.3 0.1 5.2 0 5.3 0 5.3 0.1 5.3 0 5.3 0 5.2 0 5.3 0 5.3 0 5.3 0.1 5.3 0 5.2 0 5.3 0 5.3 0 5.3 0 5.3 0 5.2 0 5.3 0 5.3 0 5.3 0 5.3 0 5.2 0 5.3 0 5.3 0 5.3 0 5.3 0 5.2 0 5.3 0 5.3 0 5.3 0 5.3 0 5.2 0 5.3 0 5.3 0 5.3 0 5.3 0 5.2 0 5.3 0 5.3 0 5.3 0 5.2 0 5.3 0 5.3 0 5.3 0 5.3 0 5.2 0 5.3 0 5.3 0 5.3 0 5.3 0 5.2 0 5.3 0 5.3 0 5.3 0 5.3 0 5.2 0 5.3 0 5.3 0 5.3 0 5.3 0 5.2 0 5.3 0 6 0 4.6 0" fill="none" stroke="#00CED1" stroke-width="3.0" stroke-linejoin="round"/>
<path d="M158.5 1131.8h7v7h-7zM169.1 1142.3h7v7h-7zM179.6 1149.9h7v7h-7zM190.2 1155.3h7v7h-7zM200.7 1159.2h7v7h-7zM211.3 1162h7v7h-7zM221.9 1164h7v7h-7zM232.4 1165.4h7v7h-7zM243 1166.5h7v7h-7zM253.5 1167.2h7v7h-7zM264.1 1167.7h7v7h-7zM274.7 1168.1h7v7h-7zM285.2 1168.4h7v7h-7zM295.8 1168.6h7v7h-7zM306.3 1168.7h7v7h-7zM316.9 1168.8h7v7h-7zM327.4 1168.9h7v7h-7zM338 1169h7v7h-7zM348.6 1169h7v7h-7zM359.1 1169h7v7h-7zM369.7 1169.1h7v7h-7zM380.2 1169.1h7v7h-7zM390.8 1169.1h7v7h-7zM401.4 1169.1h7v7h-7zM411.9 1169.1h7v7h-7zM422.5 1169.1h7v7h-7zM433 1169.1h7v7h-7zM443.6 1169.1h7v7h-7zM454.2 1169.1h7v7h-7zM464.7 1169.1h7v7h-7zM475.3 1169.1h7v7h-7zM485.8 1169.1h7v7h-7zM496.4 1169.1h7v7h-7zM507 1169.1h7v7h-7zM517.5 1169.1h7v7h-7zM528.1 1169.1h7v7h-7zM538.6 1169.1h7v7h-7zM549.2 1169.1h7v7h-7zM559.7 1169.1h7v7h-7zM570.3 1169.1h7v7h-7zM580.9 1169.1h7v7h-7zM591.4 1169.1h7v7h-7zM602 1169.1h7v7h-7zM612.5 1169.1h7v7h-7zM623.1 1169.1h7v7h-7zM633.7 1169.1h7v7h-7zM644.2 1169.1h7v7h-7zM654.8 1169.1h7v7h-7z" fill="#00CED1"/>
<path d="M162 1120.8l4.6 6.7 6 7.9 5.2 5.6 5.3 4.8 5.3 4.1 5.3 3.5 5.3 2.9 5.2 2.5 5.3 2.1 5.3 1.7 5.3 1.6 5.3 1.2 5.2 1.1 5.3 0.9 5.3 0.8 5.3 0.7 5.3 0.5 5.2 0.5 5.3 0.4 5.3 0.3 5.3 0.3 5.3 0.3 5.2 0.2 5.3 0.1 5.3 0.2 5.3 0.1 5.2 0.1 5.3 0.1 5.3 0.1 5.3 0.1 5.3 0 5.2 0.1 5.3 0 5.3 0 5.3 0.1 5.3 0 5.2 0 5.3 0 5.3 0 5.3 0 5.3 0.1 5.2 0 5.3 0 5.3 0 5.3 0 5.3 0 5.2 0 5.3 0 5.3 0 5.3 0 5.3 0 5.2 0 5.3 0 5.3 0 5.3 0 5.3 0 5.2 0 5.3 0 5.3 0 5.3 0 5.3 0 5.2 0 5.3 0 5.3 0 5.3 0 5.3 0 5.2 0 5.3 0 5.3 0 5.3 0 5.2 0 5.3 0 5.3 0 5.3 0 5.3 0 5.2 0 5.3 0 5.3 0 5.3 0 5.3 0 5.2 0 5.3 0 5.3 0 5.3 0 5.3 0 5.2 0 5.3 0 5.3 0 5.3 0 5.3 0 5.2 0 5.3 0 6 0 4.6 0" fill="none" stroke="#FF7F00" stroke-width="3.0" stroke-linejoin="round"/>
<path d="M162 1117l3.5 6.6h-7zM172.6 1131.5l3.5 6.6h-7zM183.1 1142l3.5 6.6h-7zM193.7 1149.5l3.5 6.6h-7zM204.2 1154.9l3.5 6.6h-7zM214.8 1158.8l3.5 6.6h-7zM225.4 1161.6l3.5 6.6h-7zM235.9 1163.6l3.5 6.6h-7zM246.5 1165l3.5 6.6h-7zM257 1166l3.5 6.6h-7zM267.6 1166.8l3.5 6.6h-7zM278.2 1167.3l3.5 6.6h-7zM288.7 1167.7l3.5 6.6h-7zM299.3 1168l3.5 6.6h-7zM309.8 1168.2l3.5 6.6h-7zM320.4 1168.3l3.5 6.6h-7zM330.9 1168.4l3.5 6.6h-7zM341.5 1168.5l3.5 6.6h-7zM352.1 1168.5l3.5 6.6h-7zM362.6 1168.6l3.5 6.6h-7zM373.2 1168.6l3.5 6.6h-7zM383.7 1168.6l3.5 6.6h-7zM394.3 1168.6l3.5 6.6h-7zM404.9 1168.6l3.5 6.6h-7zM415.4 1168.7l3.5 6.6h-7zM426 1168.7l3.5 6.6h-7zM436.5 1168.7l3.5 6.6h-7zM447.1 1168.7l3.5 6.6h-7zM457.7 1168.7l3.5 6.6h-7zM468.2 1168.7l3.5 6.6h-7zM478.8 1168.7l3.5 6.6h-7zM489.3 1168.7l3.5 6.6h-7zM499.9 1168.7l3.5 6.6h-7zM510.5 1168.7l3.5 6.6h-7zM521 1168.7l3.5 6.6h-7zM531.6 1168.7l3.5 6.6h-7zM542.1 1168.7l3.5 6.6h-7zM552.7 1168.7l3.5 6.6h-7zM563.2 1168.7l3.5 6.6h-7zM573.8 1168.7l3.5 6.6h-7zM584.4 1168.7l3.5 6.6h-7zM594.9 1168.7l3.5 6.6h-7zM605.5 1168.7l3.5 6.6h-7zM616 1168.7l3.5 6.6h-7zM626.6 1168.7l3.5 6.6h-7zM637.2 1168.7l3.5 6.6h-7zM647.7 1168.7l3.5 6.6h-7zM658.3 1168.7l3.5 6.6h-7z" fill="#FF7F00"/>
<path d="M162 1081.2l4.6 11.6 6 13.9 5.2 10 5.3 8.4 5.3 7.2 5.3 6.1 5.3 5.2 5.2 4.4 5.3 3.8 5.3 3.1 5.3 2.7 5.3 2.2 5.2 2 5.3 1.6 5.3 1.4 5.3 1.1 5.3 1 5.2 0.9 5.3 0.7 5.3 0.6 5.3 0.5 5.3 0.4 5.2 0.4 5.3 0.3 5.3 0.3 5.3 0.2 5.2 0.2 5.3 0.1 5.3 0.2 5.3 0.1 5.3 0.1 5.2 0.1 5.3 0 5.3 0.1 5.3 0.1 5.3 0 5.2 0 5.3 0.1 5.3 0 5.3 0 5.3 0 5.2 0 5.3 0.1 5.3 0 5.3 0 5.3 0 5.2 0 5.3 0 5.3 0 5.3 0 5.3 0 5.2 0 5.3 0 5.3 0 5.3 0 5.3 0 5.2 0 5.3 0 5.3 0 5.3 0 5.3 0 5.2 0 5.3 0 5.3 0 5.3 0 5.3 0 5.2 0 5.3 0 5.3 0 5.3 0 5.2 0 5.3 0 5.3 0 5.3 0 5.3 0 5.2 0 5.3 0 5.3 0 5.3 0 5.3 0 5.2 0 5.3 0 5.3 0 5.3 0 5.3 0 5.2 0 5.3 0 5.3 0 5.3 0 5.3 0 5.2 0 5.3 0 6 0 4.6 0" fill="none" stroke="#FF00FF" stroke-width="3.0" stroke-linejoin="round"/>
<path d="M158.5 1077.7h7v7h-7zM169.1 1103.2h7v7h-7zM179.6 1121.6h7v7h-7zM190.2 1134.9h7v7h-7zM200.7 1144.5h7v7h-7zM211.3 1151.4h7v7h-7zM221.9 1156.3h7v7h-7zM232.4 1159.9h7v7h-7zM243 1162.4h7v7h-7zM253.5 1164.3h7v7h-7zM264.1 1165.6h7v7h-7zM274.7 1166.5h7v7h-7zM285.2 1167.2h7v7h-7zM295.8 1167.7h7v7h-7zM306.3 1168h7v7h-7zM316.9 1168.3h7v7h-7zM327.4 1168.5h7v7h-7zM338 1168.6h7v7h-7zM348.6 1168.7h7v7h-7zM359.1 1168.8h7v7h-7zM369.7 1168.8h7v7h-7zM380.2 1168.8h7v7h-7zM390.8 1168.9h7v7h-7zM401.4 1168.9h7v7h-7zM411.9 1168.9h7v7h-7zM422.5 1168.9h7v7h-7zM433 1168.9h7v7h-7zM443.6 1168.9h7v7h-7zM454.2 1168.9h7v7h-7zM464.7 1168.9h7v7h-7zM475.3 1168.9h7v7h-7zM485.8 1168.9h7v7h-7zM496.4 1168.9h7v7h-7zM507 1168.9h7v7h-7zM517.5 1168.9h7v7h-7zM528.1 1168.9h7v7h-7zM538.6 1168.9h7v7h-7zM549.2 1168.9h7v7h-7zM559.7 1168.9h7v7h-7zM570.3 1168.9h7v7h-7zM580.9 1168.9h7v7h-7zM591.4 1168.9h7v7h-7zM602 1168.9h7v7h-7zM612.5 1168.9h7v7h-7zM623.1 1168.9h7v7h-7zM633.7 1168.9h7v7h-7zM644.2 1168.9h7v7h-7zM654.8 1168.9h7v7h-7z" fill="#FF00FF"/>
<path d="M162 1044.1l4.6 16.1 6 19.4 5.2 14 5.3 11.9 5.3 10.1 5.3 8.6 5.3 7.4 5.2 6.2 5.3 5.3 5.3 4.4 5.3 3.8 5.3 3.2 5.2 2.7 5.3 2.3 5.3 2 5.3 1.7 5.3 1.4 5.2 1.2 5.3 1 5.3 0.8 5.3 0.7 5.3 0.6 5.2 0.6 5.3 0.4 5.3 0.4 5.3 0.3 5.2 0.3 5.3 0.2 5.3 0.2 5.3 0.1 5.3 0.2 5.2 0.1 5.3 0.1 5.3 0.1 5.3 0.1 5.3 0 5.2 0.1 5.3 0 5.3 0 5.3 0.1 5.3 0 5.2 0 5.3 0 5.3 0.1 5.3 0 5.3 0 5.2 0 5.3 0 5.3 0 5.3 0 5.3 0 5.2 0 5.3 0 5.3 0 5.3 0 5.3 0 5.2 0 5.3 0 5.3 0 5.3 0 5.3 0 5.2 0 5.3 0 5.3 0 5.3 0 5.3 0 5.2 0 5.3 0 5.3 0 5.3 0 5.2 0 5.3 0 5.3 0 5.3 0 5.3 0 5.2 0 5.3 0 5.3 0 5.3 0 5.3 0 5.2 0 5.3 0 5.3 0 5.3 0 5.3 0 5.2 0 5.3 0 5.3 0 5.3 0 5.3 0 5.2 0 5.3 0 6 0 4.6 0" fill="none" stroke="#FF0000" stroke-width="3.0" stroke-linejoin="round"/>
<path d="M162 1039.9l4.2 4.2l-4.2 4.2l-4.2 -4.2zM172.6 1075.4l4.2 4.2l-4.2 4.2l-4.2 -4.2zM183.1 1101.3l4.2 4.2l-4.2 4.2l-4.2 -4.2zM193.7 1120l4.2 4.2l-4.2 4.2l-4.2 -4.2zM204.2 1133.6l4.2 4.2l-4.2 4.2l-4.2 -4.2zM214.8 1143.3l4.2 4.2l-4.2 4.2l-4.2 -4.2zM225.4 1150.3l4.2 4.2l-4.2 4.2l-4.2 -4.2zM235.9 1155.3l4.2 4.2l-4.2 4.2l-4.2 -4.2zM246.5 1159l4.2 4.2l-4.2 4.2l-4.2 -4.2zM257 1161.6l4.2 4.2l-4.2 4.2l-4.2 -4.2zM267.6 1163.4l4.2 4.2l-4.2 4.2l-4.2 -4.2zM278.2 1164.7l4.2 4.2l-4.2 4.2l-4.2 -4.2zM288.7 1165.7l4.2 4.2l-4.2 4.2l-4.2 -4.2zM299.3 1166.4l4.2 4.2l-4.2 4.2l-4.2 -4.2zM309.8 1166.9l4.2 4.2l-4.2 4.2l-4.2 -4.2zM320.4 1167.2l4.2 4.2l-4.2 4.2l-4.2 -4.2zM330.9 1167.5l4.2 4.2l-4.2 4.2l-4.2 -4.2zM341.5 1167.7l4.2 4.2l-4.2 4.2l-4.2 -4.2zM352.1 1167.8l4.2 4.2l-4.2 4.2l-4.2 -4.2zM362.6 1167.9l4.2 4.2l-4.2 4.2l-4.2 -4.2zM373.2 1168l4.2 4.2l-4.2 4.2l-4.2 -4.2zM383.7 1168l4.2 4.2l-4.2 4.2l-4.2 -4.2zM394.3 1168.1l4.2 4.2l-4.2 4.2l-4.2 -4.2zM404.9 1168.1l4.2 4.2l-4.2 4.2l-4.2 -4.2zM415.4 1168.1l4.2 4.2l-4.2 4.2l-4.2 -4.2zM426 1168.1l4.2 4.2l-4.2 4.2l-4.2 -4.2zM436.5 1168.1l4.2 4.2l-4.2 4.2l-4.2 -4.2zM447.1 1168.1l4.2 4.2l-4.2 4.2l-4.2 -4.2zM457.7 1168.1l4.2 4.2l-4.2 4.2l-4.2 -4.2zM468.2 1168.1l4.2 4.2l-4.2 4.2l-4.2 -4.2zM478.8 1168.1l4.2 4.2l-4.2 4.2l-4.2 -4.2zM489.3 1168.1l4.2 4.2l-4.2 4.2l-4.2 -4.2zM499.9 1168.1l4.2 4.2l-4.2 4.2l-4.2 -4.2zM510.5 1168.1l4.2 4.2l-4.2 4.2l-4.2 -4.2zM521 1168.1l4.2 4.2l-4.2 4.2l-4.2 -4.2zM531.6 1168.1l4.2 4.2l-4.2 4.2l-4.2 -4.2zM542.1 1168.1l4.2 4.2l-4.2 4.2l-4.2 -4.2zM552.7 1168.1l4.2 4.2l-4.2 4.2l-4.2 -4.2zM563.2 1168.1l4.2 4.2l-4.2 4.2l-4.2 -4.2zM573.8 1168.1l4.2 4.2l-4.2 4.2l-4.2 -4.2zM584.4 1168.1l4.2 4.2l-4.2 4.2l-4.2 -4.2zM594.9 1168.1l4.2 4.2l-4.2 4.2l-4.2 -4.2zM605.5 1168.1l4.2 4.2l-4.2 4.2l-4.2 -4.2zM616 1168.1l4.2 4.2l-4.2 4.2l-4.2 -4.2zM626.6 1168.1l4.2 4.2l-4.2 4.2l-4.2 -4.2zM637.2 1168.1l4.2 4.2l-4.2 4.2l-4.2 -4.2zM647.7 1168.1l4.2 4.2l-4.2 4.2l-4.2 -4.2zM658.3 1168.1l4.2 4.2l-4.2 4.2l-4.2 -4.2z" fill="#FF0000"/>
<path d="M162 993.5l4.6 22 6 26.4 5.2 19.4 5.3 16.6 5.3 14.2 5.3 12.2 5.3 10.3 5.2 8.7 5.3 7.5 5.3 6.3 5.3 5.4 5.3 4.5 5.2 3.9 5.3 3.2 5.3 2.8 5.3 2.3 5.3 2 5.2 1.7 5.3 1.4 5.3 1.3 5.3 1 5.3 0.8 5.2 0.8 5.3 0.6 5.3 0.5 5.3 0.5 5.2 0.4 5.3 0.3 5.3 0.3 5.3 0.2 5.3 0.2 5.2 0.1 5.3 0.2 5.3 0.1 5.3 0.1 5.3 0.1 5.2 0.1 5.3 0 5.3 0.1 5.3 0 5.3 0.1 5.2 0 5.3 0 5.3 0 5.3 0.1 5.3 0 5.2 0 5.3 0 5.3 0 5.3 0 5.3 0 5.2 0 5.3 0 5.3 0 5.3 0 5.3 0 5.2 0 5.3 0.1 5.3 0 5.3 0 5.3 0 5.2 0 5.3 0 5.3 0 5.3 0 5.3 0 5.2 0 5.3 0 5.3 0 5.3 0 5.2 0 5.3 0 5.3 0 5.3 0 5.3 0 5.2 0 5.3 0 5.3 0 5.3 0 5.3 0 5.2 0 5.3 0 5.3 0 5.3 0 5.3 0 5.2 0 5.3 0 5.3 0 5.3 0 5.3 0 5.2 0 5.3 0 6 0 4.6 0" fill="none" stroke="#A8A8A8" stroke-width="3.0" stroke-linejoin="round"/>
<path d="M158.5 993.5a3.5 3.5 0 1 0 7 0a3.5 3.5 0 1 0 -7 0M169.1 1041.9a3.5 3.5 0 1 0 7 0a3.5 3.5 0 1 0 -7 0M179.6 1077.9a3.5 3.5 0 1 0 7 0a3.5 3.5 0 1 0 -7 0M190.2 1104.3a3.5 3.5 0 1 0 7 0a3.5 3.5 0 1 0 -7 0M200.7 1123.3a3.5 3.5 0 1 0 7 0a3.5 3.5 0 1 0 -7 0M211.3 1137.1a3.5 3.5 0 1 0 7 0a3.5 3.5 0 1 0 -7 0M221.9 1147a3.5 3.5 0 1 0 7 0a3.5 3.5 0 1 0 -7 0M232.4 1154.1a3.5 3.5 0 1 0 7 0a3.5 3.5 0 1 0 -7 0M243 1159.2a3.5 3.5 0 1 0 7 0a3.5 3.5 0 1 0 -7 0M253.5 1162.9a3.5 3.5 0 1 0 7 0a3.5 3.5 0 1 0 -7 0M264.1 1165.6a3.5 3.5 0 1 0 7 0a3.5 3.5 0 1 0 -7 0M274.7 1167.4a3.5 3.5 0 1 0 7 0a3.5 3.5 0 1 0 -7 0M285.2 1168.8a3.5 3.5 0 1 0 7 0a3.5 3.5 0 1 0 -7 0M295.8 1169.8a3.5 3.5 0 1 0 7 0a3.5 3.5 0 1 0 -7 0M306.3 1170.5a3.5 3.5 0 1 0 7 0a3.5 3.5 0 1 0 -7 0M316.9 1171a3.5 3.5 0 1 0 7 0a3.5 3.5 0 1 0 -7 0M327.4 1171.3a3.5 3.5 0 1 0 7 0a3.5 3.5 0 1 0 -7 0M338 1171.6a3.5 3.5 0 1 0 7 0a3.5 3.5 0 1 0 -7 0M348.6 1171.8a3.5 3.5 0 1 0 7 0a3.5 3.5 0 1 0 -7 0M359.1 1171.9a3.5 3.5 0 1 0 7 0a3.5 3.5 0 1 0 -7 0M369.7 1172a3.5 3.5 0 1 0 7 0a3.5 3.5 0 1 0 -7 0M380.2 1172.1a3.5 3.5 0 1 0 7 0a3.5 3.5 0 1 0 -7 0M390.8 1172.1a3.5 3.5 0 1 0 7 0a3.5 3.5 0 1 0 -7 0M401.4 1172.2a3.5 3.5 0 1 0 7 0a3.5 3.5 0 1 0 -7 0M411.9 1172.2a3.5 3.5 0 1 0 7 0a3.5 3.5 0 1 0 -7 0M422.5 1172.2a3.5 3.5 0 1 0 7 0a3.5 3.5 0 1 0 -7 0M433 1172.2a3.5 3.5 0 1 0 7 0a3.5 3.5 0 1 0 -7 0M443.6 1172.2a3.5 3.5 0 1 0 7 0a3.5 3.5 0 1 0 -7 0M454.2 1172.2a3.5 3.5 0 1 0 7 0a3.5 3.5 0 1 0 -7 0M464.7 1172.3a3.5 3.5 0 1 0 7 0a3.5 3.5 0 1 0 -7 0M475.3 1172.3a3.5 3.5 0 1 0 7 0a3.5 3.5 0 1 0 -7 0M485.8 1172.3a3.5 3.5 0 1 0 7 0a3.5 3.5 0 1 0 -7 0M496.4 1172.3a3.5 3.5 0 1 0 7 0a3.5 3.5 0 1 0 -7 0M507 1172.3a3.5 3.5 0 1 0 7 0a3.5 3.5 0 1 0 -7 0M517.5 1172.3a3.5 3.5 0 1 0 7 0a3.5 3.5 0 1 0 -7 0M528.1 1172.3a3.5 3.5 0 1 0 7 0a3.5 3.5 0 1 0 -7 0M538.6 1172.3a3.5 3.5 0 1 0 7 0a3.5 3.5 0 1 0 -7 0M549.2 1172.3a3.5 3.5 0 1 0 7 0a3.5 3.5 0 1 0 -7 0M559.7 1172.3a3.5 3.5 0 1 0 7 0a3.5 3.5 0 1 0 -7 0M570.3 1172.3a3.5 3.5 0 1 0 7 0a3.5 3.5 0 1 0 -7 0M580.9 1172.3a3.5 3.5 0 1 0 7 0a3.5 3.5 0 1 0 -7 0M591.4 1172.3a3.5 3.5 0 1 0 7 0a3.5 3.5 0 1 0 -7 0M602 1172.3a3.5 3.5 0 1 0 7 0a3.5 3.5 0 1 0 -7 0M612.5 1172.3a3.5 3.5 0 1 0 7 0a3.5 3.5 0 1 0 -7 0M623.1 1172.3a3.5 3.5 0 1 0 7 0a3.5 3.5 0 1 0 -7 0M633.7 1172.3a3.5 3.5 0 1 0 7 0a3.5 3.5 0 1 0 -7 0M644.2 1172.3a3.5 3.5 0 1 0 7 0a3.5 3.5 0 1 0 -7 0M654.8 1172.3a3.5 3.5 0 1 0 7 0a3.5 3.5 0 1 0 -7 0" fill="#A8A8A8"/>
<path d="M162 939.8l4.6 27.6 6 33.3 5.2 25 5.3 21.6 5.3 18.6 5.3 16 5.3 13.6 5.2 11.6 5.3 9.9 5.3 8.4 5.3 7.1 5.3 6 5.2 5.2 5.3 4.3 5.3 3.7 5.3 3.1 5.3 2.7 5.2 2.2 5.3 1.9 5.3 1.6 5.3 1.4 5.3 1.2 5.2 0.9 5.3 0.9 5.3 0.7 5.3 0.6 5.2 0.5 5.3 0.4 5.3 0.4 5.3 0.3 5.3 0.2 5.2 0.3 5.3 0.1 5.3 0.2 5.3 0.1 5.3 0.1 5.2 0.1 5.3 0.1 5.3 0.1 5.3 0.1 5.3 0 5.2 0 5.3 0.1 5.3 0 5.3 0 5.3 0.1 5.2 0 5.3 0 5.3 0 5.3 0 5.3 0 5.2 0 5.3 0 5.3 0 5.3 0.1 5.3 0 5.2 0 5.3 0 5.3 0 5.3 0 5.3 0 5.2 0 5.3 0 5.3 0 5.3 0 5.3 0 5.2 0 5.3 0 5.3 0 5.3 0 5.2 0 5.3 0 5.3 0 5.3 0 5.3 0 5.2 0 5.3 0 5.3 0 5.3 0 5.3 0 5.2 0 5.3 0 5.3 0 5.3 0 5.3 0 5.2 0 5.3 0 5.3 0 5.3 0 5.3 0 5.2 0 5.3 0 6 0 4.6 0" fill="none" stroke="#0A3C7C" stroke-width="3.0" stroke-linejoin="round"/>
<path d="M158.5 939.8h7M162 936.3v7M169.1 1000.7h7M172.6 997.2v7M179.6 1047.3h7M183.1 1043.8v7M190.2 1081.9h7M193.7 1078.4v7M200.7 1107.1h7M204.2 1103.6v7M211.3 1125.4h7M214.8 1121.9v7M221.9 1138.5h7M225.4 1135v7M232.4 1148h7M235.9 1144.5v7M243 1154.8h7M246.5 1151.3v7M253.5 1159.7h7M257 1156.2v7M264.1 1163.2h7M267.6 1159.7v7M274.7 1165.8h7M278.2 1162.3v7M285.2 1167.6h7M288.7 1164.1v7M295.8 1168.9h7M299.3 1165.4v7M306.3 1169.8h7M309.8 1166.3v7M316.9 1170.5h7M320.4 1167v7M327.4 1171h7M330.9 1167.5v7M338 1171.3h7M341.5 1167.8v7M348.6 1171.5h7M352.1 1168v7M359.1 1171.7h7M362.6 1168.2v7M369.7 1171.9h7M373.2 1168.4v7M380.2 1171.9h7M383.7 1168.4v7M390.8 1172h7M394.3 1168.5v7M401.4 1172.1h7M404.9 1168.6v7M411.9 1172.1h7M415.4 1168.6v7M422.5 1172.1h7M426 1168.6v7M433 1172.1h7M436.5 1168.6v7M443.6 1172.1h7M447.1 1168.6v7M454.2 1172.2h7M457.7 1168.7v7M464.7 1172.2h7M468.2 1168.7v7M475.3 1172.2h7M478.8 1168.7v7M485.8 1172.2h7M489.3 1168.7v7M496.4 1172.2h7M499.9 1168.7v7M507 1172.2h7M510.5 1168.7v7M517.5 1172.2h7M521 1168.7v7M528.1 1172.2h7M531.6 1168.7v7M538.6 1172.2h7M542.1 1168.7v7M549.2 1172.2h7M552.7 1168.7v7M559.7 1172.2h7M563.2 1168.7v7M570.3 1172.2h7M573.8 1168.7v7M580.9 1172.2h7M584.4 1168.7v7M591.4 1172.2h7M594.9 1168.7v7M602 1172.2h7M605.5 1168.7v7M612.5 1172.2h7M616 1168.7v7M623.1 1172.2h7M626.6 1168.7v7M633.7 1172.2h7M637.2 1168.7v7M644.2 1172.2h7M647.7 1168.7v7M654.8 1172.2h7M658.3 1168.7v7" stroke="#0A3C7C" stroke-width="1.4" fill="none"/>
<path d="M162 880.2l4.6 32.7 6 40 5.2 30.8 5.3 27.2 5.3 23.6 5.3 20.4 5.3 17.5 5.2 15 5.3 12.8 5.3 10.9 5.3 9.3 5.3 7.8 5.2 6.7 5.3 5.7 5.3 4.8 5.3 4.1 5.3 3.4 5.2 2.9 5.3 2.5 5.3 2.1 5.3 1.8 5.3 1.5 5.2 1.3 5.3 1.1 5.3 0.9 5.3 0.8 5.2 0.6 5.3 0.6 5.3 0.5 5.3 0.4 5.3 0.3 5.2 0.3 5.3 0.2 5.3 0.2 5.3 0.2 5.3 0.2 5.2 0.1 5.3 0.1 5.3 0.1 5.3 0.1 5.3 0 5.2 0.1 5.3 0 5.3 0.1 5.3 0 5.3 0 5.2 0.1 5.3 0 5.3 0 5.3 0 5.3 0 5.2 0 5.3 0 5.3 0.1 5.3 0 5.3 0 5.2 0 5.3 0 5.3 0 5.3 0 5.3 0 5.2 0 5.3 0 5.3 0 5.3 0 5.3 0 5.2 0 5.3 0 5.3 0 5.3 0 5.2 0 5.3 0 5.3 0 5.3 0 5.3 0 5.2 0 5.3 0 5.3 0 5.3 0 5.3 0 5.2 0 5.3 0 5.3 0 5.3 0 5.3 0 5.2 0 5.3 0 5.3 0 5.3 0 5.3 0 5.2 0 5.3 0 6 0 4.6 0" fill="none" stroke="#33A070" stroke-width="3.0" stroke-linejoin="round"/>
<path d="M158.5 880.2a3.5 3.5 0 1 0 7 0a3.5 3.5 0 1 0 -7 0M169.1 952.9a3.5 3.5 0 1 0 7 0a3.5 3.5 0 1 0 -7 0M179.6 1010.9a3.5 3.5 0 1 0 7 0a3.5 3.5 0 1 0 -7 0M190.2 1054.9a3.5 3.5 0 1 0 7 0a3.5 3.5 0 1 0 -7 0M200.7 1087.4a3.5 3.5 0 1 0 7 0a3.5 3.5 0 1 0 -7 0M211.3 1111.1a3.5 3.5 0 1 0 7 0a3.5 3.5 0 1 0 -7 0M221.9 1128.2a3.5 3.5 0 1 0 7 0a3.5 3.5 0 1 0 -7 0M232.4 1140.6a3.5 3.5 0 1 0 7 0a3.5 3.5 0 1 0 -7 0M243 1149.5a3.5 3.5 0 1 0 7 0a3.5 3.5 0 1 0 -7 0M253.5 1155.8a3.5 3.5 0 1 0 7 0a3.5 3.5 0 1 0 -7 0M264.1 1160.4a3.5 3.5 0 1 0 7 0a3.5 3.5 0 1 0 -7 0M274.7 1163.7a3.5 3.5 0 1 0 7 0a3.5 3.5 0 1 0 -7 0M285.2 1166.1a3.5 3.5 0 1 0 7 0a3.5 3.5 0 1 0 -7 0M295.8 1167.8a3.5 3.5 0 1 0 7 0a3.5 3.5 0 1 0 -7 0M306.3 1169a3.5 3.5 0 1 0 7 0a3.5 3.5 0 1 0 -7 0M316.9 1169.9a3.5 3.5 0 1 0 7 0a3.5 3.5 0 1 0 -7 0M327.4 1170.5a3.5 3.5 0 1 0 7 0a3.5 3.5 0 1 0 -7 0M338 1170.9a3.5 3.5 0 1 0 7 0a3.5 3.5 0 1 0 -7 0M348.6 1171.3a3.5 3.5 0 1 0 7 0a3.5 3.5 0 1 0 -7 0M359.1 1171.5a3.5 3.5 0 1 0 7 0a3.5 3.5 0 1 0 -7 0M369.7 1171.7a3.5 3.5 0 1 0 7 0a3.5 3.5 0 1 0 -7 0M380.2 1171.8a3.5 3.5 0 1 0 7 0a3.5 3.5 0 1 0 -7 0M390.8 1171.9a3.5 3.5 0 1 0 7 0a3.5 3.5 0 1 0 -7 0M401.4 1171.9a3.5 3.5 0 1 0 7 0a3.5 3.5 0 1 0 -7 0M411.9 1172a3.5 3.5 0 1 0 7 0a3.5 3.5 0 1 0 -7 0M422.5 1172a3.5 3.5 0 1 0 7 0a3.5 3.5 0 1 0 -7 0M433 1172a3.5 3.5 0 1 0 7 0a3.5 3.5 0 1 0 -7 0M443.6 1172.1a3.5 3.5 0 1 0 7 0a3.5 3.5 0 1 0 -7 0M454.2 1172.1a3.5 3.5 0 1 0 7 0a3.5 3.5 0 1 0 -7 0M464.7 1172.1a3.5 3.5 0 1 0 7 0a3.5 3.5 0 1 0 -7 0M475.3 1172.1a3.5 3.5 0 1 0 7 0a3.5 3.5 0 1 0 -7 0M485.8 1172.1a3.5 3.5 0 1 0 7 0a3.5 3.5 0 1 0 -7 0M496.4 1172.1a3.5 3.5 0 1 0 7 0a3.5 3.5 0 1 0 -7 0M507 1172.1a3.5 3.5 0 1 0 7 0a3.5 3.5 0 1 0 -7 0M517.5 1172.1a3.5 3.5 0 1 0 7 0a3.5 3.5 0 1 0 -7 0M528.1 1172.1a3.5 3.5 0 1 0 7 0a3.5 3.5 0 1 0 -7 0M538.6 1172.1a3.5 3.5 0 1 0 7 0a3.5 3.5 0 1 0 -7 0M549.2 1172.1a3.5 3.5 0 1 0 7 0a3.5 3.5 0 1 0 -7 0M559.7 1172.1a3.5 3.5 0 1 0 7 0a3.5 3.5 0 1 0 -7 0M570.3 1172.1a3.5 3.5 0 1 0 7 0a3.5 3.5 0 1 0 -7 0M580.9 1172.1a3.5 3.5 0 1 0 7 0a3.5 3.5 0 1 0 -7 0M591.4 1172.1a3.5 3.5 0 1 0 7 0a3.5 3.5 0 1 0 -7 0M602 1172.1a3.5 3.5 0 1 0 7 0a3.5 3.5 0 1 0 -7 0M612.5 1172.1a3.5 3.5 0 1 0 7 0a3.5 3.5 0 1 0 -7 0M623.1 1172.1a3.5 3.5 0 1 0 7 0a3.5 3.5 0 1 0 -7 0M633.7 1172.1a3.5 3.5 0 1 0 7 0a3.5 3.5 0 1 0 -7 0M644.2 1172.1a3.5 3.5 0 1 0 7 0a3.5 3.5 0 1 0 -7 0M654.8 1172.1a3.5 3.5 0 1 0 7 0a3.5 3.5 0 1 0 -7 0" fill="#33A070"/>
<path d="M162 803.7l4.6 36.6 6 45.6 5.2 37.3 5.3 34.3 5.3 30.2 5.3 26.7 5.3 23.1 5.2 20 5.3 17.1 5.3 14.7 5.3 12.5 5.3 10.6 5.2 9.1 5.3 7.7 5.3 6.5 5.3 5.5 5.3 4.7 5.2 4 5.3 3.4 5.3 2.8 5.3 2.5 5.3 2 5.2 1.8 5.3 1.4 5.3 1.3 5.3 1 5.2 0.9 5.3 0.8 5.3 0.6 5.3 0.6 5.3 0.4 5.2 0.4 5.3 0.4 5.3 0.2 5.3 0.3 5.3 0.2 5.2 0.2 5.3 0.1 5.3 0.1 5.3 0.1 5.3 0.1 5.2 0.1 5.3 0.1 5.3 0 5.3 0.1 5.3 0 5.2 0 5.3 0.1 5.3 0 5.3 0 5.3 0 5.2 0 5.3 0 5.3 0 5.3 0.1 5.3 0 5.2 0 5.3 0 5.3 0 5.3 0 5.3 0 5.2 0 5.3 0 5.3 0 5.3 0 5.3 0 5.2 0 5.3 0 5.3 0 5.3 0 5.2 0 5.3 0 5.3 0 5.3 0 5.3 0 5.2 0 5.3 0 5.3 0 5.3 0 5.3 0 5.2 0 5.3 0 5.3 0 5.3 0 5.3 0 5.2 0 5.3 0 5.3 0 5.3 0 5.3 0 5.2 0 5.3 0 6 0 4.6 0" fill="none" stroke="#00008B" stroke-width="3.0" stroke-linejoin="round"/>
<path d="M158.5 803.7h7M162 800.2v7M169.1 885.9h7M172.6 882.4v7M179.6 957.5h7M183.1 954v7M190.2 1014.4h7M193.7 1010.9v7M200.7 1057.5h7M204.2 1054v7M211.3 1089.3h7M214.8 1085.8v7M221.9 1112.4h7M225.4 1108.9v7M232.4 1129.2h7M235.9 1125.7v7M243 1141.2h7M246.5 1137.7v7M253.5 1149.9h7M257 1146.4v7M264.1 1156.1h7M267.6 1152.6v7M274.7 1160.6h7M278.2 1157.1v7M285.2 1163.8h7M288.7 1160.3v7M295.8 1166.1h7M299.3 1162.6v7M306.3 1167.8h7M309.8 1164.3v7M316.9 1169h7M320.4 1165.5v7M327.4 1169.8h7M330.9 1166.3v7M338 1170.4h7M341.5 1166.9v7M348.6 1170.9h7M352.1 1167.4v7M359.1 1171.2h7M362.6 1167.7v7M369.7 1171.4h7M373.2 1167.9v7M380.2 1171.6h7M383.7 1168.1v7M390.8 1171.7h7M394.3 1168.2v7M401.4 1171.8h7M404.9 1168.3v7M411.9 1171.9h7M415.4 1168.4v7M422.5 1171.9h7M426 1168.4v7M433 1171.9h7M436.5 1168.4v7M443.6 1171.9h7M447.1 1168.4v7M454.2 1172h7M457.7 1168.5v7M464.7 1172h7M468.2 1168.5v7M475.3 1172h7M478.8 1168.5v7M485.8 1172h7M489.3 1168.5v7M496.4 1172h7M499.9 1168.5v7M507 1172h7M510.5 1168.5v7M517.5 1172h7M521 1168.5v7M528.1 1172h7M531.6 1168.5v7M538.6 1172h7M542.1 1168.5v7M549.2 1172h7M552.7 1168.5v7M559.7 1172h7M563.2 1168.5v7M570.3 1172h7M573.8 1168.5v7M580.9 1172h7M584.4 1168.5v7M591.4 1172h7M594.9 1168.5v7M602 1172h7M605.5 1168.5v7M612.5 1172h7M616 1168.5v7M623.1 1172h7M626.6 1168.5v7M633.7 1172h7M637.2 1168.5v7M644.2 1172h7M647.7 1168.5v7M654.8 1172h7M658.3 1168.5v7" stroke="#00008B" stroke-width="1.4" fill="none"/>
<path d="M162 734.4l4.6 35.2 6 45.3 5.2 41.3 5.3 40 5.3 36.5 5.3 33.2 5.3 29.3 5.2 25.7 5.3 22.2 5.3 19.2 5.3 16.4 5.3 14.1 5.2 11.9 5.3 10.2 5.3 8.7 5.3 7.3 5.3 6.3 5.2 5.3 5.3 4.5 5.3 3.8 5.3 3.2 5.3 2.7 5.2 2.4 5.3 1.9 5.3 1.7 5.3 1.4 5.2 1.2 5.3 1 5.3 0.9 5.3 0.7 5.3 0.6 5.2 0.5 5.3 0.5 5.3 0.3 5.3 0.4 5.3 0.2 5.2 0.3 5.3 0.2 5.3 0.1 5.3 0.2 5.3 0.1 5.2 0.1 5.3 0.1 5.3 0 5.3 0.1 5.3 0 5.2 0.1 5.3 0 5.3 0 5.3 0.1 5.3 0 5.2 0 5.3 0 5.3 0 5.3 0.1 5.3 0 5.2 0 5.3 0 5.3 0 5.3 0 5.3 0 5.2 0 5.3 0 5.3 0 5.3 0 5.3 0 5.2 0 5.3 0 5.3 0 5.3 0 5.2 0 5.3 0 5.3 0 5.3 0 5.3 0 5.2 0 5.3 0 5.3 0 5.3 0 5.3 0 5.2 0 5.3 0 5.3 0 5.3 0 5.3 0 5.2 0 5.3 0 5.3 0 5.3 0 5.3 0 5.2 0 5.3 0 6 0 4.6 0" fill="none" stroke="#3C3C00" stroke-width="3.0" stroke-linejoin="round"/>
<path d="M162 730.2l4.2 4.2l-4.2 4.2l-4.2 -4.2zM172.6 810.7l4.2 4.2l-4.2 4.2l-4.2 -4.2zM183.1 892l4.2 4.2l-4.2 4.2l-4.2 -4.2zM193.7 961.7l4.2 4.2l-4.2 4.2l-4.2 -4.2zM204.2 1016.7l4.2 4.2l-4.2 4.2l-4.2 -4.2zM214.8 1058.1l4.2 4.2l-4.2 4.2l-4.2 -4.2zM225.4 1088.6l4.2 4.2l-4.2 4.2l-4.2 -4.2zM235.9 1110.7l4.2 4.2l-4.2 4.2l-4.2 -4.2zM246.5 1126.7l4.2 4.2l-4.2 4.2l-4.2 -4.2zM257 1138.3l4.2 4.2l-4.2 4.2l-4.2 -4.2zM267.6 1146.6l4.2 4.2l-4.2 4.2l-4.2 -4.2zM278.2 1152.5l4.2 4.2l-4.2 4.2l-4.2 -4.2zM288.7 1156.8l4.2 4.2l-4.2 4.2l-4.2 -4.2zM299.3 1159.9l4.2 4.2l-4.2 4.2l-4.2 -4.2zM309.8 1162.1l4.2 4.2l-4.2 4.2l-4.2 -4.2zM320.4 1163.7l4.2 4.2l-4.2 4.2l-4.2 -4.2zM330.9 1164.8l4.2 4.2l-4.2 4.2l-4.2 -4.2zM341.5 1165.6l4.2 4.2l-4.2 4.2l-4.2 -4.2zM352.1 1166.2l4.2 4.2l-4.2 4.2l-4.2 -4.2zM362.6 1166.7l4.2 4.2l-4.2 4.2l-4.2 -4.2zM373.2 1167l4.2 4.2l-4.2 4.2l-4.2 -4.2zM383.7 1167.2l4.2 4.2l-4.2 4.2l-4.2 -4.2zM394.3 1167.3l4.2 4.2l-4.2 4.2l-4.2 -4.2zM404.9 1167.4l4.2 4.2l-4.2 4.2l-4.2 -4.2zM415.4 1167.5l4.2 4.2l-4.2 4.2l-4.2 -4.2zM426 1167.6l4.2 4.2l-4.2 4.2l-4.2 -4.2zM436.5 1167.6l4.2 4.2l-4.2 4.2l-4.2 -4.2zM447.1 1167.6l4.2 4.2l-4.2 4.2l-4.2 -4.2zM457.7 1167.7l4.2 4.2l-4.2 4.2l-4.2 -4.2zM468.2 1167.7l4.2 4.2l-4.2 4.2l-4.2 -4.2zM478.8 1167.7l4.2 4.2l-4.2 4.2l-4.2 -4.2zM489.3 1167.7l4.2 4.2l-4.2 4.2l-4.2 -4.2zM499.9 1167.7l4.2 4.2l-4.2 4.2l-4.2 -4.2zM510.5 1167.7l4.2 4.2l-4.2 4.2l-4.2 -4.2zM521 1167.7l4.2 4.2l-4.2 4.2l-4.2 -4.2zM531.6 1167.7l4.2 4.2l-4.2 4.2l-4.2 -4.2zM542.1 1167.7l4.2 4.2l-4.2 4.2l-4.2 -4.2zM552.7 1167.7l4.2 4.2l-4.2 4.2l-4.2 -4.2zM563.2 1167.7l4.2 4.2l-4.2 4.2l-4.2 -4.2zM573.8 1167.7l4.2 4.2l-4.2 4.2l-4.2 -4.2zM584.4 1167.7l4.2 4.2l-4.2 4.2l-4.2 -4.2zM594.9 1167.7l4.2 4.2l-4.2 4.2l-4.2 -4.2zM605.5 1167.7l4.2 4.2l-4.2 4.2l-4.2 -4.2zM616 1167.7l4.2 4.2l-4.2 4.2l-4.2 -4.2zM626.6 1167.7l4.2 4.2l-4.2 4.2l-4.2 -4.2zM637.2 1167.7l4.2 4.2l-4.2 4.2l-4.2 -4.2zM647.7 1167.7l4.2 4.2l-4.2 4.2l-4.2 -4.2zM658.3 1167.7l4.2 4.2l-4.2 4.2l-4.2 -4.2z" fill="#3C3C00"/>
<path d="M162 694.9l4.6 29.2 6 39.6 5.2 40.9 5.3 42 5.3 40.1 5.3 37.7 5.3 33.8 5.2 30.3 5.3 26.5 5.3 23 5.3 19.9 5.3 17.1 5.2 14.6 5.3 12.4 5.3 10.6 5.3 9 5.3 7.6 5.2 6.5 5.3 5.5 5.3 4.7 5.3 4 5.3 3.3 5.2 2.9 5.3 2.4 5.3 2 5.3 1.7 5.2 1.5 5.3 1.2 5.3 1.1 5.3 0.9 5.3 0.7 5.2 0.7 5.3 0.5 5.3 0.5 5.3 0.4 5.3 0.3 5.2 0.3 5.3 0.2 5.3 0.2 5.3 0.2 5.3 0.1 5.2 0.2 5.3 0.1 5.3 0 5.3 0.1 5.3 0.1 5.2 0 5.3 0.1 5.3 0 5.3 0.1 5.3 0 5.2 0 5.3 0 5.3 0 5.3 0.1 5.3 0 5.2 0 5.3 0 5.3 0 5.3 0 5.3 0 5.2 0 5.3 0 5.3 0 5.3 0 5.3 0 5.2 0 5.3 0 5.3 0 5.3 0 5.2 0 5.3 0 5.3 0 5.3 0 5.3 0 5.2 0 5.3 0 5.3 0 5.3 0 5.3 0 5.2 0 5.3 0 5.3 0 5.3 0 5.3 0 5.2 0 5.3 0 5.3 0 5.3 0 5.3 0 5.2 0 5.3 0 6 0 4.6 0" fill="none" stroke="#4040A8" stroke-width="3.0" stroke-linejoin="round"/>
<path d="M158.5 691.4l7 7m0 -7l-7 7M169.1 760.2l7 7m0 -7l-7 7M179.6 843.1l7 7m0 -7l-7 7M190.2 920.9l7 7m0 -7l-7 7M200.7 985l7 7m0 -7l-7 7M211.3 1034.5l7 7m0 -7l-7 7M221.9 1071.5l7 7m0 -7l-7 7M232.4 1098.5l7 7m0 -7l-7 7M243 1118.1l7 7m0 -7l-7 7M253.5 1132.2l7 7m0 -7l-7 7M264.1 1142.4l7 7m0 -7l-7 7M274.7 1149.7l7 7m0 -7l-7 7M285.2 1155l7 7m0 -7l-7 7M295.8 1158.7l7 7m0 -7l-7 7M306.3 1161.4l7 7m0 -7l-7 7M316.9 1163.4l7 7m0 -7l-7 7M327.4 1164.8l7 7m0 -7l-7 7M338 1165.8l7 7m0 -7l-7 7M348.6 1166.5l7 7m0 -7l-7 7M359.1 1167l7 7m0 -7l-7 7M369.7 1167.4l7 7m0 -7l-7 7M380.2 1167.7l7 7m0 -7l-7 7M390.8 1167.8l7 7m0 -7l-7 7M401.4 1168l7 7m0 -7l-7 7M411.9 1168.1l7 7m0 -7l-7 7M422.5 1168.2l7 7m0 -7l-7 7M433 1168.2l7 7m0 -7l-7 7M443.6 1168.2l7 7m0 -7l-7 7M454.2 1168.3l7 7m0 -7l-7 7M464.7 1168.3l7 7m0 -7l-7 7M475.3 1168.3l7 7m0 -7l-7 7M485.8 1168.3l7 7m0 -7l-7 7M496.4 1168.3l7 7m0 -7l-7 7M507 1168.3l7 7m0 -7l-7 7M517.5 1168.3l7 7m0 -7l-7 7M528.1 1168.3l7 7m0 -7l-7 7M538.6 1168.3l7 7m0 -7l-7 7M549.2 1168.3l7 7m0 -7l-7 7M559.7 1168.3l7 7m0 -7l-7 7M570.3 1168.3l7 7m0 -7l-7 7M580.9 1168.3l7 7m0 -7l-7 7M591.4 1168.3l7 7m0 -7l-7 7M602 1168.3l7 7m0 -7l-7 7M612.5 1168.3l7 7m0 -7l-7 7M623.1 1168.3l7 7m0 -7l-7 7M633.7 1168.3l7 7m0 -7l-7 7M644.2 1168.3l7 7m0 -7l-7 7M654.8 1168.3l7 7m0 -7l-7 7" stroke="#4040A8" stroke-width="1.4" fill="none"/>
<path d="M162 680.5l4.6 24.5 6 34.6 5.2 39.2 5.3 42 5.3 41.1 5.3 39.6 5.3 36 5.2 32.7 5.3 28.7 5.3 25.2 5.3 21.8 5.3 18.7 5.2 16.1 5.3 13.7 5.3 11.8 5.3 9.9 5.3 8.5 5.2 7.1 5.3 6.1 5.3 5.2 5.3 4.4 5.3 3.7 5.2 3.2 5.3 2.6 5.3 2.3 5.3 1.9 5.2 1.6 5.3 1.4 5.3 1.2 5.3 1 5.3 0.8 5.2 0.7 5.3 0.6 5.3 0.5 5.3 0.5 5.3 0.3 5.2 0.3 5.3 0.3 5.3 0.2 5.3 0.2 5.3 0.2 5.2 0.1 5.3 0.1 5.3 0.1 5.3 0.1 5.3 0.1 5.2 0 5.3 0.1 5.3 0 5.3 0.1 5.3 0 5.2 0 5.3 0 5.3 0 5.3 0.1 5.3 0 5.2 0 5.3 0 5.3 0 5.3 0 5.3 0 5.2 0 5.3 0 5.3 0 5.3 0 5.3 0 5.2 0 5.3 0 5.3 0 5.3 0 5.2 0 5.3 0 5.3 0 5.3 0 5.3 0 5.2 0 5.3 0 5.3 0 5.3 0 5.3 0 5.2 0 5.3 0 5.3 0 5.3 0 5.3 0 5.2 0 5.3 0.1 5.3 0 5.3 0 5.3 0 5.2 0 5.3 0 6 0 4.6 0" fill="none" stroke="#A0461E" stroke-width="3.0" stroke-linejoin="round"/>
<path d="M158.5 677h7v7h-7zM169.1 736.1h7v7h-7zM179.6 817.3h7v7h-7zM190.2 898h7v7h-7zM200.7 966.7h7v7h-7zM211.3 1020.6h7v7h-7zM221.9 1061.1h7v7h-7zM232.4 1090.9h7v7h-7zM243 1112.6h7v7h-7zM253.5 1128.2h7v7h-7zM264.1 1139.5h7v7h-7zM274.7 1147.6h7v7h-7zM285.2 1153.4h7v7h-7zM295.8 1157.6h7v7h-7zM306.3 1160.6h7v7h-7zM316.9 1162.8h7v7h-7zM327.4 1164.3h7v7h-7zM338 1165.4h7v7h-7zM348.6 1166.2h7v7h-7zM359.1 1166.8h7v7h-7zM369.7 1167.2h7v7h-7zM380.2 1167.5h7v7h-7zM390.8 1167.7h7v7h-7zM401.4 1167.9h7v7h-7zM411.9 1168h7v7h-7zM422.5 1168.1h7v7h-7zM433 1168.1h7v7h-7zM443.6 1168.1h7v7h-7zM454.2 1168.2h7v7h-7zM464.7 1168.2h7v7h-7zM475.3 1168.2h7v7h-7zM485.8 1168.2h7v7h-7zM496.4 1168.2h7v7h-7zM507 1168.2h7v7h-7zM517.5 1168.2h7v7h-7zM528.1 1168.2h7v7h-7zM538.6 1168.2h7v7h-7zM549.2 1168.2h7v7h-7zM559.7 1168.2h7v7h-7zM570.3 1168.2h7v7h-7zM580.9 1168.2h7v7h-7zM591.4 1168.2h7v7h-7zM602 1168.2h7v7h-7zM612.5 1168.2h7v7h-7zM623.1 1168.3h7v7h-7zM633.7 1168.3h7v7h-7zM644.2 1168.3h7v7h-7zM654.8 1168.3h7v7h-7z" fill="#A0461E"/>
<path d="M162 670.4l4.6 -0.6 6 6.2 5.2 22.7 5.3 32 5.3 38.2 5.3 41.6 5.3 41.4 5.2 40.3 5.3 36.8 5.3 33.6 5.3 29.6 5.3 26.1 5.2 22.5 5.3 19.5 5.3 16.7 5.3 14.2 5.3 12.2 5.2 10.3 5.3 8.9 5.3 7.4 5.3 6.4 5.3 5.3 5.2 4.6 5.3 3.9 5.3 3.3 5.3 2.7 5.2 2.4 5.3 2 5.3 1.7 5.3 1.4 5.3 1.2 5.2 1.1 5.3 0.8 5.3 0.8 5.3 0.6 5.3 0.5 5.2 0.5 5.3 0.4 5.3 0.3 5.3 0.2 5.3 0.3 5.2 0.2 5.3 0.1 5.3 0.2 5.3 0.1 5.3 0.1 5.2 0.1 5.3 0.1 5.3 0 5.3 0.1 5.3 0 5.2 0.1 5.3 0 5.3 0 5.3 0 5.3 0.1 5.2 0 5.3 0 5.3 0 5.3 0 5.3 0 5.2 0 5.3 0 5.3 0 5.3 0 5.3 0 5.2 0 5.3 0.1 5.3 0 5.3 0 5.2 0 5.3 0 5.3 0 5.3 0 5.3 0 5.2 0 5.3 0 5.3 0 5.3 0 5.3 0 5.2 0 5.3 0 5.3 0 5.3 0 5.3 0 5.2 0 5.3 0 5.3 0 5.3 0 5.3 0 5.2 0 5.3 0 6 0 4.6 0" fill="none" stroke="#A3447A" stroke-width="3.0" stroke-linejoin="round"/>
<path d="M162 666.6l3.5 6.6h-7zM172.6 672.1l3.5 6.6h-7zM183.1 726.8l3.5 6.6h-7zM193.7 806.7l3.5 6.6h-7zM204.2 888.3l3.5 6.6h-7zM214.8 958.8l3.5 6.6h-7zM225.4 1014.4l3.5 6.6h-7zM235.9 1056.4l3.5 6.6h-7zM246.5 1087.4l3.5 6.6h-7zM257 1109.9l3.5 6.6h-7zM267.6 1126.2l3.5 6.6h-7zM278.2 1137.9l3.5 6.6h-7zM288.7 1146.3l3.5 6.6h-7zM299.3 1152.4l3.5 6.6h-7zM309.8 1156.7l3.5 6.6h-7zM320.4 1159.9l3.5 6.6h-7zM330.9 1162.1l3.5 6.6h-7zM341.5 1163.7l3.5 6.6h-7zM352.1 1164.9l3.5 6.6h-7zM362.6 1165.7l3.5 6.6h-7zM373.2 1166.3l3.5 6.6h-7zM383.7 1166.7l3.5 6.6h-7zM394.3 1167l3.5 6.6h-7zM404.9 1167.3l3.5 6.6h-7zM415.4 1167.4l3.5 6.6h-7zM426 1167.5l3.5 6.6h-7zM436.5 1167.6l3.5 6.6h-7zM447.1 1167.7l3.5 6.6h-7zM457.7 1167.7l3.5 6.6h-7zM468.2 1167.7l3.5 6.6h-7zM478.8 1167.8l3.5 6.6h-7zM489.3 1167.8l3.5 6.6h-7zM499.9 1167.8l3.5 6.6h-7zM510.5 1167.8l3.5 6.6h-7zM521 1167.8l3.5 6.6h-7zM531.6 1167.8l3.5 6.6h-7zM542.1 1167.8l3.5 6.6h-7zM552.7 1167.8l3.5 6.6h-7zM563.2 1167.8l3.5 6.6h-7zM573.8 1167.8l3.5 6.6h-7zM584.4 1167.8l3.5 6.6h-7zM594.9 1167.8l3.5 6.6h-7zM605.5 1167.8l3.5 6.6h-7zM616 1167.8l3.5 6.6h-7zM626.6 1167.8l3.5 6.6h-7zM637.2 1167.8l3.5 6.6h-7zM647.7 1167.8l3.5 6.6h-7zM658.3 1167.8l3.5 6.6h-7z" fill="#A3447A"/>
<path d="M162 727.1l4.6 -28.3 6 -27.9 5.2 -4.7 5.3 8.9 5.3 22.2 5.3 31.6 5.3 38.1 5.2 41.5 5.3 41.5 5.3 40.3 5.3 37 5.3 33.8 5.2 29.8 5.3 26.2 5.3 22.7 5.3 19.6 5.3 16.8 5.2 14.3 5.3 12.3 5.3 10.4 5.3 8.9 5.3 7.5 5.2 6.4 5.3 5.4 5.3 4.6 5.3 3.9 5.2 3.3 5.3 2.8 5.3 2.4 5.3 2 5.3 1.7 5.2 1.5 5.3 1.2 5.3 1 5.3 0.9 5.3 0.8 5.2 0.6 5.3 0.5 5.3 0.5 5.3 0.4 5.3 0.3 5.2 0.3 5.3 0.2 5.3 0.2 5.3 0.2 5.3 0.1 5.2 0.1 5.3 0.1 5.3 0.1 5.3 0.1 5.3 0 5.2 0.1 5.3 0 5.3 0.1 5.3 0 5.3 0 5.2 0.1 5.3 0 5.3 0 5.3 0 5.3 0 5.2 0 5.3 0 5.3 0 5.3 0 5.3 0.1 5.2 0 5.3 0 5.3 0 5.3 0 5.2 0 5.3 0 5.3 0 5.3 0 5.3 0 5.2 0 5.3 0 5.3 0 5.3 0 5.3 0 5.2 0 5.3 0 5.3 0 5.3 0 5.3 0 5.2 0 5.3 0 5.3 0 5.3 0 5.3 0 5.2 0 5.3 0 6 0 4.6 0" fill="none" stroke="#4040A8" stroke-width="3.0" stroke-linejoin="round"/>
<path d="M158.5 723.6l7 7m0 -7l-7 7M169.1 667.4l7 7m0 -7l-7 7M179.6 671.6l7 7m0 -7l-7 7M190.2 725.4l7 7m0 -7l-7 7M200.7 805l7 7m0 -7l-7 7M211.3 886.8l7 7m0 -7l-7 7M221.9 957.6l7 7m0 -7l-7 7M232.4 1013.6l7 7m0 -7l-7 7M243 1055.9l7 7m0 -7l-7 7M253.5 1087l7 7m0 -7l-7 7M264.1 1109.7l7 7m0 -7l-7 7M274.7 1126.1l7 7m0 -7l-7 7M285.2 1137.9l7 7m0 -7l-7 7M295.8 1146.4l7 7m0 -7l-7 7M306.3 1152.5l7 7m0 -7l-7 7M316.9 1156.9l7 7m0 -7l-7 7M327.4 1160.1l7 7m0 -7l-7 7M338 1162.3l7 7m0 -7l-7 7M348.6 1164l7 7m0 -7l-7 7M359.1 1165.1l7 7m0 -7l-7 7M369.7 1166l7 7m0 -7l-7 7M380.2 1166.6l7 7m0 -7l-7 7M390.8 1167l7 7m0 -7l-7 7M401.4 1167.3l7 7m0 -7l-7 7M411.9 1167.5l7 7m0 -7l-7 7M422.5 1167.7l7 7m0 -7l-7 7M433 1167.8l7 7m0 -7l-7 7M443.6 1167.9l7 7m0 -7l-7 7M454.2 1167.9l7 7m0 -7l-7 7M464.7 1168l7 7m0 -7l-7 7M475.3 1168l7 7m0 -7l-7 7M485.8 1168l7 7m0 -7l-7 7M496.4 1168l7 7m0 -7l-7 7M507 1168.1l7 7m0 -7l-7 7M517.5 1168.1l7 7m0 -7l-7 7M528.1 1168.1l7 7m0 -7l-7 7M538.6 1168.1l7 7m0 -7l-7 7M549.2 1168.1l7 7m0 -7l-7 7M559.7 1168.1l7 7m0 -7l-7 7M570.3 1168.1l7 7m0 -7l-7 7M580.9 1168.1l7 7m0 -7l-7 7M591.4 1168.1l7 7m0 -7l-7 7M602 1168.1l7 7m0 -7l-7 7M612.5 1168.1l7 7m0 -7l-7 7M623.1 1168.1l7 7m0 -7l-7 7M633.7 1168.1l7 7m0 -7l-7 7M644.2 1168.1l7 7m0 -7l-7 7M654.8 1168.1l7 7m0 -7l-7 7" stroke="#4040A8" stroke-width="1.4" fill="none"/>
<path d="M162 804.4l4.6 -40.5 6 -46.8 5.2 -30.8 5.3 -18.4 5.3 -0.9 5.3 12.6 5.3 25 5.2 33.6 5.3 39.2 5.3 41.9 5.3 41.1 5.3 39.7 5.2 36.1 5.3 32.8 5.3 28.9 5.3 25.3 5.3 21.8 5.2 18.9 5.3 16.1 5.3 13.8 5.3 11.8 5.3 10 5.2 8.5 5.3 7.2 5.3 6.1 5.3 5.2 5.2 4.4 5.3 3.7 5.3 3.2 5.3 2.7 5.3 2.3 5.2 1.9 5.3 1.6 5.3 1.4 5.3 1.2 5.3 1 5.2 0.8 5.3 0.7 5.3 0.6 5.3 0.6 5.3 0.4 5.2 0.4 5.3 0.3 5.3 0.2 5.3 0.3 5.3 0.1 5.2 0.2 5.3 0.1 5.3 0.2 5.3 0.1 5.3 0 5.2 0.1 5.3 0.1 5.3 0 5.3 0.1 5.3 0 5.2 0 5.3 0.1 5.3 0 5.3 0 5.3 0 5.2 0 5.3 0 5.3 0 5.3 0 5.3 0.1 5.2 0 5.3 0 5.3 0 5.3 0 5.2 0 5.3 0 5.3 0 5.3 0 5.3 0 5.2 0 5.3 0 5.3 0 5.3 0 5.3 0 5.2 0 5.3 0 5.3 0 5.3 0 5.3 0 5.2 0 5.3 0 5.3 0 5.3 0 5.3 0 5.2 0 5.3 0 6 0 4.6 0" fill="none" stroke="#000000" stroke-width="3.0" stroke-linejoin="round"/>
<path d="M162 800.6l3.5 6.6h-7zM172.6 713.3l3.5 6.6h-7zM183.1 664l3.5 6.6h-7zM193.7 675.8l3.5 6.6h-7zM204.2 734.4l3.5 6.6h-7zM214.8 815.4l3.5 6.6h-7zM225.4 896.3l3.5 6.6h-7zM235.9 965.2l3.5 6.6h-7zM246.5 1019.3l3.5 6.6h-7zM257 1060l3.5 6.6h-7zM267.6 1090l3.5 6.6h-7zM278.2 1111.7l3.5 6.6h-7zM288.7 1127.4l3.5 6.6h-7zM299.3 1138.8l3.5 6.6h-7zM309.8 1146.9l3.5 6.6h-7zM320.4 1152.7l3.5 6.6h-7zM330.9 1157l3.5 6.6h-7zM341.5 1160l3.5 6.6h-7zM352.1 1162.1l3.5 6.6h-7zM362.6 1163.7l3.5 6.6h-7zM373.2 1164.8l3.5 6.6h-7zM383.7 1165.6l3.5 6.6h-7zM394.3 1166.2l3.5 6.6h-7zM404.9 1166.6l3.5 6.6h-7zM415.4 1166.9l3.5 6.6h-7zM426 1167.1l3.5 6.6h-7zM436.5 1167.3l3.5 6.6h-7zM447.1 1167.4l3.5 6.6h-7zM457.7 1167.4l3.5 6.6h-7zM468.2 1167.5l3.5 6.6h-7zM478.8 1167.5l3.5 6.6h-7zM489.3 1167.6l3.5 6.6h-7zM499.9 1167.6l3.5 6.6h-7zM510.5 1167.6l3.5 6.6h-7zM521 1167.6l3.5 6.6h-7zM531.6 1167.6l3.5 6.6h-7zM542.1 1167.6l3.5 6.6h-7zM552.7 1167.6l3.5 6.6h-7zM563.2 1167.6l3.5 6.6h-7zM573.8 1167.6l3.5 6.6h-7zM584.4 1167.6l3.5 6.6h-7zM594.9 1167.6l3.5 6.6h-7zM605.5 1167.6l3.5 6.6h-7zM616 1167.6l3.5 6.6h-7zM626.6 1167.6l3.5 6.6h-7zM637.2 1167.6l3.5 6.6h-7zM647.7 1167.6l3.5 6.6h-7zM658.3 1167.6l3.5 6.6h-7z" fill="#000000"/>
<path d="M162 874.6l4.6 -41.4 6 -51.5 5.2 -44.4 5.3 -37.1 5.3 -24.1 5.3 -10.9 5.3 6.2 5.2 18.8 5.3 29.7 5.3 36.8 5.3 40.6 5.3 42.1 5.2 40.4 5.3 38.2 5.3 34.5 5.3 30.9 5.3 27.1 5.2 23.6 5.3 20.3 5.3 17.5 5.3 15 5.3 12.8 5.2 10.8 5.3 9.3 5.3 7.8 5.3 6.7 5.2 5.7 5.3 4.7 5.3 4.1 5.3 3.5 5.3 2.9 5.2 2.5 5.3 2.1 5.3 1.7 5.3 1.6 5.3 1.2 5.2 1.1 5.3 0.9 5.3 0.8 5.3 0.7 5.3 0.5 5.2 0.5 5.3 0.4 5.3 0.3 5.3 0.3 5.3 0.3 5.2 0.2 5.3 0.1 5.3 0.2 5.3 0.1 5.3 0.1 5.2 0.1 5.3 0.1 5.3 0.1 5.3 0 5.3 0.1 5.2 0 5.3 0 5.3 0.1 5.3 0 5.3 0 5.2 0 5.3 0 5.3 0 5.3 0.1 5.3 0 5.2 0 5.3 0 5.3 0 5.3 0 5.2 0 5.3 0 5.3 0 5.3 0 5.3 0 5.2 0 5.3 0 5.3 0 5.3 0 5.3 0 5.2 0 5.3 0 5.3 0 5.3 0 5.3 0 5.2 0 5.3 0 5.3 0 5.3 0 5.3 0 5.2 0 5.3 0 6 0 4.6 0" fill="none" stroke="#FF7F00" stroke-width="3.0" stroke-linejoin="round"/>
<path d="M158.5 874.6a3.5 3.5 0 1 0 7 0a3.5 3.5 0 1 0 -7 0M169.1 781.7a3.5 3.5 0 1 0 7 0a3.5 3.5 0 1 0 -7 0M179.6 700.2a3.5 3.5 0 1 0 7 0a3.5 3.5 0 1 0 -7 0M190.2 665.2a3.5 3.5 0 1 0 7 0a3.5 3.5 0 1 0 -7 0M200.7 690.2a3.5 3.5 0 1 0 7 0a3.5 3.5 0 1 0 -7 0M211.3 756.7a3.5 3.5 0 1 0 7 0a3.5 3.5 0 1 0 -7 0M221.9 839.4a3.5 3.5 0 1 0 7 0a3.5 3.5 0 1 0 -7 0M232.4 918a3.5 3.5 0 1 0 7 0a3.5 3.5 0 1 0 -7 0M243 983.4a3.5 3.5 0 1 0 7 0a3.5 3.5 0 1 0 -7 0M253.5 1034.1a3.5 3.5 0 1 0 7 0a3.5 3.5 0 1 0 -7 0M264.1 1071.9a3.5 3.5 0 1 0 7 0a3.5 3.5 0 1 0 -7 0M274.7 1099.7a3.5 3.5 0 1 0 7 0a3.5 3.5 0 1 0 -7 0M285.2 1119.8a3.5 3.5 0 1 0 7 0a3.5 3.5 0 1 0 -7 0M295.8 1134.3a3.5 3.5 0 1 0 7 0a3.5 3.5 0 1 0 -7 0M306.3 1144.7a3.5 3.5 0 1 0 7 0a3.5 3.5 0 1 0 -7 0M316.9 1152.3a3.5 3.5 0 1 0 7 0a3.5 3.5 0 1 0 -7 0M327.4 1157.7a3.5 3.5 0 1 0 7 0a3.5 3.5 0 1 0 -7 0M338 1161.5a3.5 3.5 0 1 0 7 0a3.5 3.5 0 1 0 -7 0M348.6 1164.3a3.5 3.5 0 1 0 7 0a3.5 3.5 0 1 0 -7 0M359.1 1166.3a3.5 3.5 0 1 0 7 0a3.5 3.5 0 1 0 -7 0M369.7 1167.8a3.5 3.5 0 1 0 7 0a3.5 3.5 0 1 0 -7 0M380.2 1168.8a3.5 3.5 0 1 0 7 0a3.5 3.5 0 1 0 -7 0M390.8 1169.5a3.5 3.5 0 1 0 7 0a3.5 3.5 0 1 0 -7 0M401.4 1170.1a3.5 3.5 0 1 0 7 0a3.5 3.5 0 1 0 -7 0M411.9 1170.4a3.5 3.5 0 1 0 7 0a3.5 3.5 0 1 0 -7 0M422.5 1170.7a3.5 3.5 0 1 0 7 0a3.5 3.5 0 1 0 -7 0M433 1170.9a3.5 3.5 0 1 0 7 0a3.5 3.5 0 1 0 -7 0M443.6 1171.1a3.5 3.5 0 1 0 7 0a3.5 3.5 0 1 0 -7 0M454.2 1171.2a3.5 3.5 0 1 0 7 0a3.5 3.5 0 1 0 -7 0M464.7 1171.2a3.5 3.5 0 1 0 7 0a3.5 3.5 0 1 0 -7 0M475.3 1171.3a3.5 3.5 0 1 0 7 0a3.5 3.5 0 1 0 -7 0M485.8 1171.3a3.5 3.5 0 1 0 7 0a3.5 3.5 0 1 0 -7 0M496.4 1171.3a3.5 3.5 0 1 0 7 0a3.5 3.5 0 1 0 -7 0M507 1171.4a3.5 3.5 0 1 0 7 0a3.5 3.5 0 1 0 -7 0M517.5 1171.4a3.5 3.5 0 1 0 7 0a3.5 3.5 0 1 0 -7 0M528.1 1171.4a3.5 3.5 0 1 0 7 0a3.5 3.5 0 1 0 -7 0M538.6 1171.4a3.5 3.5 0 1 0 7 0a3.5 3.5 0 1 0 -7 0M549.2 1171.4a3.5 3.5 0 1 0 7 0a3.5 3.5 0 1 0 -7 0M559.7 1171.4a3.5 3.5 0 1 0 7 0a3.5 3.5 0 1 0 -7 0M570.3 1171.4a3.5 3.5 0 1 0 7 0a3.5 3.5 0 1 0 -7 0M580.9 1171.4a3.5 3.5 0 1 0 7 0a3.5 3.5 0 1 0 -7 0M591.4 1171.4a3.5 3.5 0 1 0 7 0a3.5 3.5 0 1 0 -7 0M602 1171.4a3.5 3.5 0 1 0 7 0a3.5 3.5 0 1 0 -7 0M612.5 1171.4a3.5 3.5 0 1 0 7 0a3.5 3.5 0 1 0 -7 0M623.1 1171.4a3.5 3.5 0 1 0 7 0a3.5 3.5 0 1 0 -7 0M633.7 1171.4a3.5 3.5 0 1 0 7 0a3.5 3.5 0 1 0 -7 0M644.2 1171.4a3.5 3.5 0 1 0 7 0a3.5 3.5 0 1 0 -7 0M654.8 1171.4a3.5 3.5 0 1 0 7 0a3.5 3.5 0 1 0 -7 0" fill="#FF7F00"/>
<path d="M162 930.4l4.6 -37.6 6 -49.1 5.2 -47.3 5.3 -45.2 5.3 -39.8 5.3 -29.9 5.3 -13.9 5.2 0.1 5.3 15.2 5.3 26.2 5.3 34.8 5.3 40 5.2 41.6 5.3 41.5 5.3 38.7 5.3 36 5.3 31.9 5.2 28.4 5.3 24.7 5.3 21.3 5.3 18.4 5.3 15.8 5.2 13.4 5.3 11.5 5.3 9.7 5.3 8.3 5.2 7.1 5.3 5.9 5.3 5.1 5.3 4.3 5.3 3.6 5.2 3.1 5.3 2.6 5.3 2.2 5.3 1.9 5.3 1.6 5.2 1.3 5.3 1.2 5.3 1 5.3 0.8 5.3 0.7 5.2 0.6 5.3 0.5 5.3 0.4 5.3 0.3 5.3 0.3 5.2 0.3 5.3 0.2 5.3 0.2 5.3 0.2 5.3 0.1 5.2 0.1 5.3 0.1 5.3 0.1 5.3 0 5.3 0.1 5.2 0.1 5.3 0 5.3 0 5.3 0.1 5.3 0 5.2 0 5.3 0 5.3 0 5.3 0.1 5.3 0 5.2 0 5.3 0 5.3 0 5.3 0 5.2 0 5.3 0 5.3 0 5.3 0 5.3 0 5.2 0 5.3 0 5.3 0 5.3 0 5.3 0 5.2 0 5.3 0 5.3 0 5.3 0 5.3 0 5.2 0 5.3 0 5.3 0 5.3 0 5.3 0 5.2 0 5.3 0 6 0 4.6 0" fill="none" stroke="#FF0000" stroke-width="3.0" stroke-linejoin="round"/>
<path d="M158.5 930.4h7M162 926.9v7M169.1 843.7h7M172.6 840.2v7M179.6 751.2h7M183.1 747.7v7M190.2 681.5h7M193.7 678v7M200.7 667.7h7M204.2 664.2v7M211.3 709.1h7M214.8 705.6v7M221.9 783.9h7M225.4 780.4v7M232.4 867h7M235.9 863.5v7M243 941.7h7M246.5 938.2v7M253.5 1002h7M257 998.5v7M264.1 1048h7M267.6 1044.5v7M274.7 1082.2h7M278.2 1078.7v7M285.2 1107.1h7M288.7 1103.6v7M295.8 1125.1h7M299.3 1121.6v7M306.3 1138.1h7M309.8 1134.6v7M316.9 1147.5h7M320.4 1144v7M327.4 1154.2h7M330.9 1150.7v7M338 1159h7M341.5 1155.5v7M348.6 1162.5h7M352.1 1159v7M359.1 1165h7M362.6 1161.5v7M369.7 1166.8h7M373.2 1163.3v7M380.2 1168.1h7M383.7 1164.6v7M390.8 1169h7M394.3 1165.5v7M401.4 1169.6h7M404.9 1166.1v7M411.9 1170.1h7M415.4 1166.6v7M422.5 1170.5h7M426 1167v7M433 1170.7h7M436.5 1167.2v7M443.6 1170.9h7M447.1 1167.4v7M454.2 1171h7M457.7 1167.5v7M464.7 1171.1h7M468.2 1167.6v7M475.3 1171.2h7M478.8 1167.7v7M485.8 1171.2h7M489.3 1167.7v7M496.4 1171.2h7M499.9 1167.7v7M507 1171.3h7M510.5 1167.8v7M517.5 1171.3h7M521 1167.8v7M528.1 1171.3h7M531.6 1167.8v7M538.6 1171.3h7M542.1 1167.8v7M549.2 1171.3h7M552.7 1167.8v7M559.7 1171.3h7M563.2 1167.8v7M570.3 1171.3h7M573.8 1167.8v7M580.9 1171.3h7M584.4 1167.8v7M591.4 1171.3h7M594.9 1167.8v7M602 1171.3h7M605.5 1167.8v7M612.5 1171.3h7M616 1167.8v7M623.1 1171.3h7M626.6 1167.8v7M633.7 1171.3h7M637.2 1167.8v7M644.2 1171.3h7M647.7 1167.8v7M654.8 1171.3h7M658.3 1167.8v7" stroke="#FF0000" stroke-width="1.4" fill="none"/>
<path d="M162 978.5l4.6 -32.2 6 -43.5 5.2 -44.6 5.3 -46.2 5.3 -46.7 5.3 -42.1 5.3 -32.9 5.2 -20.9 5.3 -3.4 5.3 10.3 5.3 23.2 5.3 32.4 5.2 38.4 5.3 41.7 5.3 41.4 5.3 40.1 5.3 36.7 5.2 33.4 5.3 29.4 5.3 25.9 5.3 22.4 5.3 19.4 5.2 16.5 5.3 14.2 5.3 12.1 5.3 10.2 5.2 8.8 5.3 7.4 5.3 6.3 5.3 5.3 5.3 4.6 5.2 3.8 5.3 3.3 5.3 2.7 5.3 2.4 5.3 1.9 5.2 1.7 5.3 1.4 5.3 1.3 5.3 1 5.3 0.8 5.2 0.8 5.3 0.6 5.3 0.5 5.3 0.5 5.3 0.3 5.2 0.4 5.3 0.2 5.3 0.3 5.3 0.2 5.3 0.1 5.2 0.2 5.3 0.1 5.3 0.1 5.3 0.1 5.3 0 5.2 0.1 5.3 0.1 5.3 0 5.3 0 5.3 0.1 5.2 0 5.3 0 5.3 0 5.3 0 5.3 0.1 5.2 0 5.3 0 5.3 0 5.3 0 5.2 0 5.3 0 5.3 0 5.3 0 5.3 0 5.2 0 5.3 0 5.3 0 5.3 0 5.3 0 5.2 0 5.3 0 5.3 0 5.3 0 5.3 0 5.2 0 5.3 0 5.3 0 5.3 0 5.3 0 5.2 0 5.3 0 6 0 4.6 0" fill="none" stroke="#800080" stroke-width="3.0" stroke-linejoin="round"/>
<path d="M158.5 975h7v7h-7zM169.1 899.3h7v7h-7zM179.6 808.5h7v7h-7zM190.2 719.7h7v7h-7zM200.7 665.9h7v7h-7zM211.3 672.8h7v7h-7zM221.9 728.4h7v7h-7zM232.4 808.5h7v7h-7zM243 890h7v7h-7zM253.5 960.1h7v7h-7zM264.1 1015.4h7v7h-7zM274.7 1057.2h7v7h-7zM285.2 1087.9h7v7h-7zM295.8 1110.2h7v7h-7zM306.3 1126.4h7v7h-7zM316.9 1138h7v7h-7zM327.4 1146.4h7v7h-7zM338 1152.4h7v7h-7zM348.6 1156.7h7v7h-7zM359.1 1159.8h7v7h-7zM369.7 1162.1h7v7h-7zM380.2 1163.7h7v7h-7zM390.8 1164.8h7v7h-7zM401.4 1165.6h7v7h-7zM411.9 1166.2h7v7h-7zM422.5 1166.7h7v7h-7zM433 1167h7v7h-7zM443.6 1167.2h7v7h-7zM454.2 1167.3h7v7h-7zM464.7 1167.5h7v7h-7zM475.3 1167.5h7v7h-7zM485.8 1167.6h7v7h-7zM496.4 1167.6h7v7h-7zM507 1167.7h7v7h-7zM517.5 1167.7h7v7h-7zM528.1 1167.7h7v7h-7zM538.6 1167.7h7v7h-7zM549.2 1167.7h7v7h-7zM559.7 1167.7h7v7h-7zM570.3 1167.7h7v7h-7zM580.9 1167.7h7v7h-7zM591.4 1167.7h7v7h-7zM602 1167.7h7v7h-7zM612.5 1167.7h7v7h-7zM623.1 1167.7h7v7h-7zM633.7 1167.7h7v7h-7zM644.2 1167.7h7v7h-7zM654.8 1167.7h7v7h-7z" fill="#800080"/>
<path d="M162 1023.3l4.6 -25.8 6 -35.7 5.2 -38.1 5.3 -42 5.3 -46 5.3 -46.5 5.3 -45.1 5.2 -38.6 5.3 -26.6 5.3 -13.5 5.3 3.8 5.3 16.8 5.2 28.1 5.3 35.8 5.3 40.2 5.3 42.1 5.3 40.7 5.2 38.8 5.3 35 5.3 31.6 5.3 27.6 5.3 24.2 5.2 20.9 5.3 17.9 5.3 15.4 5.3 13.1 5.2 11.2 5.3 9.5 5.3 8.1 5.3 6.8 5.3 5.8 5.2 4.9 5.3 4.2 5.3 3.6 5.3 3 5.3 2.5 5.2 2.2 5.3 1.8 5.3 1.6 5.3 1.3 5.3 1.1 5.2 0.9 5.3 0.8 5.3 0.7 5.3 0.6 5.3 0.5 5.2 0.4 5.3 0.3 5.3 0.3 5.3 0.3 5.3 0.2 5.2 0.2 5.3 0.1 5.3 0.1 5.3 0.1 5.3 0.1 5.2 0.1 5.3 0.1 5.3 0 5.3 0.1 5.3 0 5.2 0.1 5.3 0 5.3 0 5.3 0 5.3 0.1 5.2 0 5.3 0 5.3 0 5.3 0 5.2 0 5.3 0 5.3 0 5.3 0 5.3 0 5.2 0 5.3 0 5.3 0 5.3 0 5.3 0 5.2 0 5.3 0 5.3 0 5.3 0 5.3 0 5.2 0 5.3 0.1 5.3 0 5.3 0 5.3 0 5.2 0 5.3 0 6 0 4.6 0" fill="none" stroke="#0000FF" stroke-width="3.0" stroke-linejoin="round"/>
<path d="M158.5 1023.3h7M162 1019.8v7M169.1 961.8h7M172.6 958.3v7M179.6 881.7h7M183.1 878.2v7M190.2 789.2h7M193.7 785.7v7M200.7 705.5h7M204.2 702v7M211.3 665.4h7M214.8 661.9v7M221.9 686h7M225.4 682.5v7M232.4 749.9h7M235.9 746.4v7M243 832.2h7M246.5 828.7v7M253.5 911.7h7M257 908.2v7M264.1 978.3h7M267.6 974.8v7M274.7 1030.1h7M278.2 1026.6v7M285.2 1068.9h7M288.7 1065.4v7M295.8 1097.4h7M299.3 1093.9v7M306.3 1118.1h7M309.8 1114.6v7M316.9 1133h7M320.4 1129.5v7M327.4 1143.7h7M330.9 1140.2v7M338 1151.5h7M341.5 1148v7M348.6 1157h7M352.1 1153.5v7M359.1 1161h7M362.6 1157.5v7M369.7 1163.9h7M373.2 1160.4v7M380.2 1165.9h7M383.7 1162.4v7M390.8 1167.4h7M394.3 1163.9v7M401.4 1168.5h7M404.9 1165v7M411.9 1169.2h7M415.4 1165.7v7M422.5 1169.8h7M426 1166.3v7M433 1170.2h7M436.5 1166.7v7M443.6 1170.4h7M447.1 1166.9v7M454.2 1170.6h7M457.7 1167.1v7M464.7 1170.8h7M468.2 1167.3v7M475.3 1170.9h7M478.8 1167.4v7M485.8 1171h7M489.3 1167.5v7M496.4 1171h7M499.9 1167.5v7M507 1171.1h7M510.5 1167.6v7M517.5 1171.1h7M521 1167.6v7M528.1 1171.1h7M531.6 1167.6v7M538.6 1171.1h7M542.1 1167.6v7M549.2 1171.1h7M552.7 1167.6v7M559.7 1171.1h7M563.2 1167.6v7M570.3 1171.1h7M573.8 1167.6v7M580.9 1171.1h7M584.4 1167.6v7M591.4 1171.1h7M594.9 1167.6v7M602 1171.1h7M605.5 1167.6v7M612.5 1171.1h7M616 1167.6v7M623.1 1171.2h7M626.6 1167.7v7M633.7 1171.2h7M637.2 1167.7v7M644.2 1171.2h7M647.7 1167.7v7M654.8 1171.2h7M658.3 1167.7v7" stroke="#0000FF" stroke-width="1.4" fill="none"/>
<path d="M162 1062.3l4.6 -19.5 6 -27.5 5.2 -29.9 5.3 -34.4 5.3 -39.5 5.3 -43 5.3 -46.7 5.2 -46.4 5.3 -43.6 5.3 -35.9 5.3 -22.3 5.3 -8.7 5.2 7.9 5.3 20.4 5.3 30.7 5.3 37.6 5.3 40.8 5.2 42.1 5.3 40.1 5.3 37.8 5.3 34 5.3 30.5 5.2 26.5 5.3 23.2 5.3 20 5.3 17.1 5.2 14.7 5.3 12.5 5.3 10.7 5.3 9 5.3 7.7 5.2 6.5 5.3 5.6 5.3 4.7 5.3 4 5.3 3.3 5.2 2.9 5.3 2.4 5.3 2.1 5.3 1.7 5.3 1.5 5.2 1.2 5.3 1.1 5.3 0.9 5.3 0.8 5.3 0.6 5.2 0.5 5.3 0.5 5.3 0.4 5.3 0.3 5.3 0.3 5.2 0.2 5.3 0.2 5.3 0.2 5.3 0.2 5.3 0.1 5.2 0.1 5.3 0.1 5.3 0.1 5.3 0 5.3 0.1 5.2 0 5.3 0.1 5.3 0 5.3 0 5.3 0 5.2 0.1 5.3 0 5.3 0 5.3 0 5.2 0 5.3 0 5.3 0 5.3 0 5.3 0 5.2 0 5.3 0 5.3 0.1 5.3 0 5.3 0 5.2 0 5.3 0 5.3 0 5.3 0 5.3 0 5.2 0 5.3 0 5.3 0 5.3 0 5.3 0 5.2 0 5.3 0 6 0 4.6 0" fill="none" stroke="#FFD700" stroke-width="3.0" stroke-linejoin="round"/>
<path d="M158.5 1062.3a3.5 3.5 0 1 0 7 0a3.5 3.5 0 1 0 -7 0M169.1 1015.3a3.5 3.5 0 1 0 7 0a3.5 3.5 0 1 0 -7 0M179.6 951a3.5 3.5 0 1 0 7 0a3.5 3.5 0 1 0 -7 0M190.2 868.5a3.5 3.5 0 1 0 7 0a3.5 3.5 0 1 0 -7 0M200.7 775.4a3.5 3.5 0 1 0 7 0a3.5 3.5 0 1 0 -7 0M211.3 695.9a3.5 3.5 0 1 0 7 0a3.5 3.5 0 1 0 -7 0M221.9 664.9a3.5 3.5 0 1 0 7 0a3.5 3.5 0 1 0 -7 0M232.4 693.2a3.5 3.5 0 1 0 7 0a3.5 3.5 0 1 0 -7 0M243 761.5a3.5 3.5 0 1 0 7 0a3.5 3.5 0 1 0 -7 0M253.5 844.4a3.5 3.5 0 1 0 7 0a3.5 3.5 0 1 0 -7 0M264.1 922.3a3.5 3.5 0 1 0 7 0a3.5 3.5 0 1 0 -7 0M274.7 986.8a3.5 3.5 0 1 0 7 0a3.5 3.5 0 1 0 -7 0M285.2 1036.5a3.5 3.5 0 1 0 7 0a3.5 3.5 0 1 0 -7 0M295.8 1073.6a3.5 3.5 0 1 0 7 0a3.5 3.5 0 1 0 -7 0M306.3 1100.8a3.5 3.5 0 1 0 7 0a3.5 3.5 0 1 0 -7 0M316.9 1120.5a3.5 3.5 0 1 0 7 0a3.5 3.5 0 1 0 -7 0M327.4 1134.7a3.5 3.5 0 1 0 7 0a3.5 3.5 0 1 0 -7 0M338 1145a3.5 3.5 0 1 0 7 0a3.5 3.5 0 1 0 -7 0M348.6 1152.3a3.5 3.5 0 1 0 7 0a3.5 3.5 0 1 0 -7 0M359.1 1157.6a3.5 3.5 0 1 0 7 0a3.5 3.5 0 1 0 -7 0M369.7 1161.4a3.5 3.5 0 1 0 7 0a3.5 3.5 0 1 0 -7 0M380.2 1164.1a3.5 3.5 0 1 0 7 0a3.5 3.5 0 1 0 -7 0M390.8 1166.1a3.5 3.5 0 1 0 7 0a3.5 3.5 0 1 0 -7 0M401.4 1167.5a3.5 3.5 0 1 0 7 0a3.5 3.5 0 1 0 -7 0M411.9 1168.5a3.5 3.5 0 1 0 7 0a3.5 3.5 0 1 0 -7 0M422.5 1169.2a3.5 3.5 0 1 0 7 0a3.5 3.5 0 1 0 -7 0M433 1169.7a3.5 3.5 0 1 0 7 0a3.5 3.5 0 1 0 -7 0M443.6 1170.1a3.5 3.5 0 1 0 7 0a3.5 3.5 0 1 0 -7 0M454.2 1170.4a3.5 3.5 0 1 0 7 0a3.5 3.5 0 1 0 -7 0M464.7 1170.6a3.5 3.5 0 1 0 7 0a3.5 3.5 0 1 0 -7 0M475.3 1170.7a3.5 3.5 0 1 0 7 0a3.5 3.5 0 1 0 -7 0M485.8 1170.8a3.5 3.5 0 1 0 7 0a3.5 3.5 0 1 0 -7 0M496.4 1170.9a3.5 3.5 0 1 0 7 0a3.5 3.5 0 1 0 -7 0M507 1170.9a3.5 3.5 0 1 0 7 0a3.5 3.5 0 1 0 -7 0M517.5 1171a3.5 3.5 0 1 0 7 0a3.5 3.5 0 1 0 -7 0M528.1 1171a3.5 3.5 0 1 0 7 0a3.5 3.5 0 1 0 -7 0M538.6 1171a3.5 3.5 0 1 0 7 0a3.5 3.5 0 1 0 -7 0M549.2 1171a3.5 3.5 0 1 0 7 0a3.5 3.5 0 1 0 -7 0M559.7 1171a3.5 3.5 0 1 0 7 0a3.5 3.5 0 1 0 -7 0M570.3 1171.1a3.5 3.5 0 1 0 7 0a3.5 3.5 0 1 0 -7 0M580.9 1171.1a3.5 3.5 0 1 0 7 0a3.5 3.5 0 1 0 -7 0M591.4 1171.1a3.5 3.5 0 1 0 7 0a3.5 3.5 0 1 0 -7 0M602 1171.1a3.5 3.5 0 1 0 7 0a3.5 3.5 0 1 0 -7 0M612.5 1171.1a3.5 3.5 0 1 0 7 0a3.5 3.5 0 1 0 -7 0M623.1 1171.1a3.5 3.5 0 1 0 7 0a3.5 3.5 0 1 0 -7 0M633.7 1171.1a3.5 3.5 0 1 0 7 0a3.5 3.5 0 1 0 -7 0M644.2 1171.1a3.5 3.5 0 1 0 7 0a3.5 3.5 0 1 0 -7 0M654.8 1171.1a3.5 3.5 0 1 0 7 0a3.5 3.5 0 1 0 -7 0" fill="#FFD700"/>
<path d="M162 1088.5l4.6 -15 6 -21.3 5.2 -23.4 5.3 -27.5 5.3 -32.2 5.3 -36.6 5.3 -41.7 5.2 -44.6 5.3 -47.3 5.3 -45.4 5.3 -40.3 5.3 -30.6 5.2 -14.8 5.3 -0.9 5.3 14.4 5.3 25.6 5.3 34.4 5.2 39.8 5.3 41.5 5.3 41.6 5.3 38.9 5.3 36.1 5.2 32.2 5.3 28.6 5.3 24.9 5.3 21.6 5.2 18.5 5.3 15.9 5.3 13.6 5.3 11.6 5.3 9.9 5.2 8.3 5.3 7.1 5.3 6 5.3 5.2 5.3 4.3 5.2 3.7 5.3 3.1 5.3 2.6 5.3 2.3 5.3 1.9 5.2 1.6 5.3 1.3 5.3 1.2 5.3 1 5.3 0.8 5.2 0.7 5.3 0.6 5.3 0.5 5.3 0.4 5.3 0.4 5.2 0.3 5.3 0.2 5.3 0.3 5.3 0.1 5.3 0.2 5.2 0.1 5.3 0.2 5.3 0.1 5.3 0 5.3 0.1 5.2 0.1 5.3 0 5.3 0.1 5.3 0 5.3 0 5.2 0 5.3 0.1 5.3 0 5.3 0 5.2 0 5.3 0 5.3 0 5.3 0 5.3 0 5.2 0.1 5.3 0 5.3 0 5.3 0 5.3 0 5.2 0 5.3 0 5.3 0 5.3 0 5.3 0 5.2 0 5.3 0 5.3 0 5.3 0 5.3 0 5.2 0 5.3 0 6 0 4.6 0" fill="none" stroke="#FF00FF" stroke-width="3.0" stroke-linejoin="round"/>
<path d="M158.5 1085h7v7h-7zM169.1 1048.7h7v7h-7zM179.6 997.8h7v7h-7zM190.2 929h7v7h-7zM200.7 842.7h7v7h-7zM211.3 750h7v7h-7zM221.9 679.1h7v7h-7zM232.4 663.4h7v7h-7zM243 703.4h7v7h-7zM253.5 777.6h7v7h-7zM264.1 860.7h7v7h-7zM274.7 935.7h7v7h-7zM285.2 996.5h7v7h-7zM295.8 1043h7v7h-7zM306.3 1077.4h7v7h-7zM316.9 1102.6h7v7h-7zM327.4 1120.8h7v7h-7zM338 1133.9h7v7h-7zM348.6 1143.4h7v7h-7zM359.1 1150.2h7v7h-7zM369.7 1155.1h7v7h-7zM380.2 1158.6h7v7h-7zM390.8 1161.1h7v7h-7zM401.4 1162.9h7v7h-7zM411.9 1164.2h7v7h-7zM422.5 1165.1h7v7h-7zM433 1165.8h7v7h-7zM443.6 1166.3h7v7h-7zM454.2 1166.6h7v7h-7zM464.7 1166.9h7v7h-7zM475.3 1167h7v7h-7zM485.8 1167.2h7v7h-7zM496.4 1167.3h7v7h-7zM507 1167.3h7v7h-7zM517.5 1167.4h7v7h-7zM528.1 1167.4h7v7h-7zM538.6 1167.4h7v7h-7zM549.2 1167.4h7v7h-7zM559.7 1167.5h7v7h-7zM570.3 1167.5h7v7h-7zM580.9 1167.5h7v7h-7zM591.4 1167.5h7v7h-7zM602 1167.5h7v7h-7zM612.5 1167.5h7v7h-7zM623.1 1167.5h7v7h-7zM633.7 1167.5h7v7h-7zM644.2 1167.5h7v7h-7zM654.8 1167.5h7v7h-7z" fill="#FF00FF"/>
<path d="M162 1110.6l4.6 -11 6 -15.8 5.2 -17.4 5.3 -20.8 5.3 -24.6 5.3 -28.8 5.3 -33.6 5.2 -37.9 5.3 -43 5.3 -45.4 5.3 -47.2 5.3 -44.4 5.2 -37.6 5.3 -27 5.3 -10.2 5.3 3.7 5.3 18.1 5.2 28.5 5.3 36.3 5.3 40.7 5.3 41.6 5.3 41.1 5.2 38.1 5.3 35.1 5.3 31.1 5.3 27.5 5.2 23.8 5.3 20.7 5.3 17.7 5.3 15.2 5.3 13 5.2 11 5.3 9.4 5.3 7.9 5.3 6.8 5.3 5.8 5.2 4.8 5.3 4.2 5.3 3.5 5.3 2.9 5.3 2.5 5.2 2.2 5.3 1.8 5.3 1.5 5.3 1.3 5.3 1.1 5.2 0.9 5.3 0.8 5.3 0.7 5.3 0.6 5.3 0.4 5.2 0.4 5.3 0.4 5.3 0.3 5.3 0.2 5.3 0.2 5.2 0.2 5.3 0.2 5.3 0.1 5.3 0.1 5.3 0.1 5.2 0.1 5.3 0 5.3 0.1 5.3 0 5.3 0.1 5.2 0 5.3 0 5.3 0.1 5.3 0 5.2 0 5.3 0 5.3 0 5.3 0 5.3 0 5.2 0.1 5.3 0 5.3 0 5.3 0 5.3 0 5.2 0 5.3 0 5.3 0 5.3 0 5.3 0 5.2 0 5.3 0 5.3 0 5.3 0 5.3 0 5.2 0 5.3 0 6 0 4.6 0" fill="none" stroke="#FF0000" stroke-width="3.0" stroke-linejoin="round"/>
<path d="M162 1106.8l3.5 6.6h-7zM172.6 1080l3.5 6.6h-7zM183.1 1041.8l3.5 6.6h-7zM193.7 988.4l3.5 6.6h-7zM204.2 916.8l3.5 6.6h-7zM214.8 828.5l3.5 6.6h-7zM225.4 736.9l3.5 6.6h-7zM235.9 672.2l3.5 6.6h-7zM246.5 665.8l3.5 6.6h-7zM257 712.4l3.5 6.6h-7zM267.6 789.4l3.5 6.6h-7zM278.2 872.1l3.5 6.6h-7zM288.7 945.2l3.5 6.6h-7zM299.3 1003.8l3.5 6.6h-7zM309.8 1048.3l3.5 6.6h-7zM320.4 1081.2l3.5 6.6h-7zM330.9 1105.2l3.5 6.6h-7zM341.5 1122.6l3.5 6.6h-7zM352.1 1135.1l3.5 6.6h-7zM362.6 1144.1l3.5 6.6h-7zM373.2 1150.6l3.5 6.6h-7zM383.7 1155.2l3.5 6.6h-7zM394.3 1158.6l3.5 6.6h-7zM404.9 1161l3.5 6.6h-7zM415.4 1162.7l3.5 6.6h-7zM426 1163.9l3.5 6.6h-7zM436.5 1164.8l3.5 6.6h-7zM447.1 1165.4l3.5 6.6h-7zM457.7 1165.9l3.5 6.6h-7zM468.2 1166.2l3.5 6.6h-7zM478.8 1166.4l3.5 6.6h-7zM489.3 1166.6l3.5 6.6h-7zM499.9 1166.7l3.5 6.6h-7zM510.5 1166.8l3.5 6.6h-7zM521 1166.9l3.5 6.6h-7zM531.6 1166.9l3.5 6.6h-7zM542.1 1167l3.5 6.6h-7zM552.7 1167l3.5 6.6h-7zM563.2 1167l3.5 6.6h-7zM573.8 1167l3.5 6.6h-7zM584.4 1167l3.5 6.6h-7zM594.9 1167l3.5 6.6h-7zM605.5 1167l3.5 6.6h-7zM616 1167l3.5 6.6h-7zM626.6 1167l3.5 6.6h-7zM637.2 1167l3.5 6.6h-7zM647.7 1167l3.5 6.6h-7zM658.3 1167l3.5 6.6h-7z" fill="#FF0000"/>
<path d="M162 1125.3l4.6 -8.4 6 -12 5.2 -13.3 5.3 -15.9 5.3 -19 5.3 -22.6 5.3 -26.6 5.2 -31 5.3 -35.9 5.3 -40.1 5.3 -44.8 5.3 -46.2 5.2 -46.6 5.3 -41.8 5.3 -32.4 5.3 -20.2 5.3 -2.7 5.2 10.9 5.3 23.6 5.3 32.8 5.3 38.6 5.3 41.8 5.2 41.3 5.3 40 5.3 36.5 5.3 33.3 5.2 29.2 5.3 25.8 5.3 22.2 5.3 19.2 5.3 16.5 5.2 14 5.3 12.1 5.3 10.1 5.3 8.7 5.3 7.4 5.2 6.2 5.3 5.3 5.3 4.5 5.3 3.8 5.3 3.3 5.2 2.7 5.3 2.3 5.3 2 5.3 1.7 5.3 1.4 5.2 1.2 5.3 1 5.3 0.8 5.3 0.8 5.3 0.6 5.2 0.5 5.3 0.5 5.3 0.3 5.3 0.3 5.3 0.3 5.2 0.2 5.3 0.2 5.3 0.2 5.3 0.1 5.3 0.2 5.2 0.1 5.3 0 5.3 0.1 5.3 0.1 5.3 0 5.2 0.1 5.3 0 5.3 0 5.3 0.1 5.2 0 5.3 0 5.3 0 5.3 0 5.3 0 5.2 0.1 5.3 0 5.3 0 5.3 0 5.3 0 5.2 0 5.3 0 5.3 0 5.3 0 5.3 0 5.2 0 5.3 0 5.3 0 5.3 0 5.3 0 5.2 0 5.3 0 6 0 4.6 0" fill="none" stroke="#800000" stroke-width="3.0" stroke-linejoin="round"/>
<path d="M158.5 1121.8l7 7m0 -7l-7 7M169.1 1101.4l7 7m0 -7l-7 7M179.6 1072.2l7 7m0 -7l-7 7M190.2 1030.6l7 7m0 -7l-7 7M200.7 973l7 7m0 -7l-7 7M211.3 897l7 7m0 -7l-7 7M221.9 806l7 7m0 -7l-7 7M232.4 717.6l7 7m0 -7l-7 7M243 665l7 7m0 -7l-7 7M253.5 673.2l7 7m0 -7l-7 7M264.1 729.6l7 7m0 -7l-7 7M274.7 810l7 7m0 -7l-7 7M285.2 891.3l7 7m0 -7l-7 7M295.8 961.1l7 7m0 -7l-7 7M306.3 1016.1l7 7m0 -7l-7 7M316.9 1057.5l7 7m0 -7l-7 7M327.4 1088l7 7m0 -7l-7 7M338 1110.2l7 7m0 -7l-7 7M348.6 1126.3l7 7m0 -7l-7 7M359.1 1137.8l7 7m0 -7l-7 7M369.7 1146.1l7 7m0 -7l-7 7M380.2 1152.1l7 7m0 -7l-7 7M390.8 1156.4l7 7m0 -7l-7 7M401.4 1159.5l7 7m0 -7l-7 7M411.9 1161.7l7 7m0 -7l-7 7M422.5 1163.3l7 7m0 -7l-7 7M433 1164.4l7 7m0 -7l-7 7M443.6 1165.2l7 7m0 -7l-7 7M454.2 1165.8l7 7m0 -7l-7 7M464.7 1166.2l7 7m0 -7l-7 7M475.3 1166.5l7 7m0 -7l-7 7M485.8 1166.8l7 7m0 -7l-7 7M496.4 1166.9l7 7m0 -7l-7 7M507 1167l7 7m0 -7l-7 7M517.5 1167.1l7 7m0 -7l-7 7M528.1 1167.2l7 7m0 -7l-7 7M538.6 1167.2l7 7m0 -7l-7 7M549.2 1167.2l7 7m0 -7l-7 7M559.7 1167.3l7 7m0 -7l-7 7M570.3 1167.3l7 7m0 -7l-7 7M580.9 1167.3l7 7m0 -7l-7 7M591.4 1167.3l7 7m0 -7l-7 7M602 1167.3l7 7m0 -7l-7 7M612.5 1167.3l7 7m0 -7l-7 7M623.1 1167.3l7 7m0 -7l-7 7M633.7 1167.3l7 7m0 -7l-7 7M644.2 1167.3l7 7m0 -7l-7 7M654.8 1167.3l7 7m0 -7l-7 7" stroke="#800000" stroke-width="1.4" fill="none"/>
<path d="M162 1136.3l4.6 -6.3 6 -9.1 5.2 -10.1 5.3 -12.1 5.3 -14.6 5.3 -17.3 5.3 -20.7 5.2 -24.4 5.3 -28.8 5.3 -33.2 5.3 -38.3 5.3 -42.1 5.2 -46.1 5.3 -46.5 5.3 -45 5.3 -38.2 5.3 -25.9 5.2 -12.8 5.3 4.4 5.3 17.4 5.3 28.5 5.3 36.2 5.2 40.2 5.3 42.2 5.3 40.6 5.3 38.6 5.2 34.9 5.3 31.4 5.3 27.5 5.3 24 5.3 20.7 5.2 17.8 5.3 15.3 5.3 13 5.3 11.1 5.3 9.4 5.2 8.1 5.3 6.8 5.3 5.7 5.3 4.9 5.3 4.2 5.2 3.5 5.3 3 5.3 2.5 5.3 2.1 5.3 1.9 5.2 1.5 5.3 1.3 5.3 1.1 5.3 0.9 5.3 0.8 5.2 0.7 5.3 0.6 5.3 0.5 5.3 0.4 5.3 0.3 5.2 0.3 5.3 0.2 5.3 0.3 5.3 0.1 5.3 0.2 5.2 0.1 5.3 0.1 5.3 0.1 5.3 0.1 5.3 0.1 5.2 0 5.3 0.1 5.3 0 5.3 0 5.2 0.1 5.3 0 5.3 0 5.3 0 5.3 0 5.2 0.1 5.3 0 5.3 0 5.3 0 5.3 0 5.2 0 5.3 0 5.3 0 5.3 0 5.3 0 5.2 0 5.3 0 5.3 0 5.3 0 5.3 0 5.2 0 5.3 0 6 0 4.6 0" fill="none" stroke="#000000" stroke-width="3.0" stroke-linejoin="round"/>
<path d="M162 1132.1l4.2 4.2l-4.2 4.2l-4.2 -4.2zM172.6 1116.7l4.2 4.2l-4.2 4.2l-4.2 -4.2zM183.1 1094.5l4.2 4.2l-4.2 4.2l-4.2 -4.2zM193.7 1062.6l4.2 4.2l-4.2 4.2l-4.2 -4.2zM204.2 1017.5l4.2 4.2l-4.2 4.2l-4.2 -4.2zM214.8 955.5l4.2 4.2l-4.2 4.2l-4.2 -4.2zM225.4 875.1l4.2 4.2l-4.2 4.2l-4.2 -4.2zM235.9 782.5l4.2 4.2l-4.2 4.2l-4.2 -4.2zM246.5 699.3l4.2 4.2l-4.2 4.2l-4.2 -4.2zM257 660.6l4.2 4.2l-4.2 4.2l-4.2 -4.2zM267.6 682.4l4.2 4.2l-4.2 4.2l-4.2 -4.2zM278.2 747.1l4.2 4.2l-4.2 4.2l-4.2 -4.2zM288.7 829.5l4.2 4.2l-4.2 4.2l-4.2 -4.2zM299.3 908.7l4.2 4.2l-4.2 4.2l-4.2 -4.2zM309.8 975l4.2 4.2l-4.2 4.2l-4.2 -4.2zM320.4 1026.5l4.2 4.2l-4.2 4.2l-4.2 -4.2zM330.9 1065l4.2 4.2l-4.2 4.2l-4.2 -4.2zM341.5 1093.3l4.2 4.2l-4.2 4.2l-4.2 -4.2zM352.1 1113.8l4.2 4.2l-4.2 4.2l-4.2 -4.2zM362.6 1128.7l4.2 4.2l-4.2 4.2l-4.2 -4.2zM373.2 1139.3l4.2 4.2l-4.2 4.2l-4.2 -4.2zM383.7 1147l4.2 4.2l-4.2 4.2l-4.2 -4.2zM394.3 1152.5l4.2 4.2l-4.2 4.2l-4.2 -4.2zM404.9 1156.5l4.2 4.2l-4.2 4.2l-4.2 -4.2zM415.4 1159.3l4.2 4.2l-4.2 4.2l-4.2 -4.2zM426 1161.3l4.2 4.2l-4.2 4.2l-4.2 -4.2zM436.5 1162.8l4.2 4.2l-4.2 4.2l-4.2 -4.2zM447.1 1163.9l4.2 4.2l-4.2 4.2l-4.2 -4.2zM457.7 1164.6l4.2 4.2l-4.2 4.2l-4.2 -4.2zM468.2 1165.1l4.2 4.2l-4.2 4.2l-4.2 -4.2zM478.8 1165.5l4.2 4.2l-4.2 4.2l-4.2 -4.2zM489.3 1165.8l4.2 4.2l-4.2 4.2l-4.2 -4.2zM499.9 1166l4.2 4.2l-4.2 4.2l-4.2 -4.2zM510.5 1166.2l4.2 4.2l-4.2 4.2l-4.2 -4.2zM521 1166.3l4.2 4.2l-4.2 4.2l-4.2 -4.2zM531.6 1166.3l4.2 4.2l-4.2 4.2l-4.2 -4.2zM542.1 1166.4l4.2 4.2l-4.2 4.2l-4.2 -4.2zM552.7 1166.4l4.2 4.2l-4.2 4.2l-4.2 -4.2zM563.2 1166.5l4.2 4.2l-4.2 4.2l-4.2 -4.2zM573.8 1166.5l4.2 4.2l-4.2 4.2l-4.2 -4.2zM584.4 1166.5l4.2 4.2l-4.2 4.2l-4.2 -4.2zM594.9 1166.5l4.2 4.2l-4.2 4.2l-4.2 -4.2zM605.5 1166.5l4.2 4.2l-4.2 4.2l-4.2 -4.2zM616 1166.5l4.2 4.2l-4.2 4.2l-4.2 -4.2zM626.6 1166.5l4.2 4.2l-4.2 4.2l-4.2 -4.2zM637.2 1166.5l4.2 4.2l-4.2 4.2l-4.2 -4.2zM647.7 1166.5l4.2 4.2l-4.2 4.2l-4.2 -4.2zM658.3 1166.5l4.2 4.2l-4.2 4.2l-4.2 -4.2z" fill="#000000"/>
<path d="M162 1146.4l4.6 -4.4 6 -6.4 5.2 -7.2 5.3 -8.6 5.3 -10.3 5.3 -12.3 5.3 -14.8 5.2 -17.7 5.3 -21.1 5.3 -24.8 5.3 -29.3 5.3 -33.7 5.2 -38.8 5.3 -42.5 5.3 -46.4 5.3 -46.4 5.3 -44.5 5.2 -37.2 5.3 -24.4 5.3 -11.1 5.3 5.9 5.3 18.7 5.2 29.5 5.3 36.7 5.3 40.6 5.3 42.1 5.2 40.4 5.3 38.3 5.3 34.5 5.3 31 5.3 27.1 5.2 23.7 5.3 20.4 5.3 17.5 5.3 15 5.3 12.8 5.2 10.9 5.3 9.3 5.3 7.9 5.3 6.6 5.3 5.7 5.2 4.8 5.3 4.1 5.3 3.4 5.3 3 5.3 2.5 5.2 2.1 5.3 1.7 5.3 1.6 5.3 1.2 5.3 1.1 5.2 0.9 5.3 0.8 5.3 0.7 5.3 0.5 5.3 0.5 5.2 0.4 5.3 0.4 5.3 0.2 5.3 0.3 5.3 0.2 5.2 0.2 5.3 0.1 5.3 0.1 5.3 0.2 5.3 0 5.2 0.1 5.3 0.1 5.3 0 5.3 0.1 5.2 0 5.3 0.1 5.3 0 5.3 0 5.3 0 5.2 0 5.3 0.1 5.3 0 5.3 0 5.3 0 5.2 0 5.3 0 5.3 0 5.3 0 5.3 0 5.2 0 5.3 0 5.3 0 5.3 0 5.3 0 5.2 0 5.3 0 6 0 4.6 0" fill="none" stroke="#00008B" stroke-width="3.0" stroke-linejoin="round"/>
<path d="M158.5 1146.4a3.5 3.5 0 1 0 7 0a3.5 3.5 0 1 0 -7 0M169.1 1135.6a3.5 3.5 0 1 0 7 0a3.5 3.5 0 1 0 -7 0M179.6 1119.8a3.5 3.5 0 1 0 7 0a3.5 3.5 0 1 0 -7 0M190.2 1097.2a3.5 3.5 0 1 0 7 0a3.5 3.5 0 1 0 -7 0M200.7 1064.7a3.5 3.5 0 1 0 7 0a3.5 3.5 0 1 0 -7 0M211.3 1018.8a3.5 3.5 0 1 0 7 0a3.5 3.5 0 1 0 -7 0M221.9 955.8a3.5 3.5 0 1 0 7 0a3.5 3.5 0 1 0 -7 0M232.4 874.5a3.5 3.5 0 1 0 7 0a3.5 3.5 0 1 0 -7 0M243 781.7a3.5 3.5 0 1 0 7 0a3.5 3.5 0 1 0 -7 0M253.5 700a3.5 3.5 0 1 0 7 0a3.5 3.5 0 1 0 -7 0M264.1 664.5a3.5 3.5 0 1 0 7 0a3.5 3.5 0 1 0 -7 0M274.7 689.1a3.5 3.5 0 1 0 7 0a3.5 3.5 0 1 0 -7 0M285.2 755.3a3.5 3.5 0 1 0 7 0a3.5 3.5 0 1 0 -7 0M295.8 838a3.5 3.5 0 1 0 7 0a3.5 3.5 0 1 0 -7 0M306.3 916.7a3.5 3.5 0 1 0 7 0a3.5 3.5 0 1 0 -7 0M316.9 982.2a3.5 3.5 0 1 0 7 0a3.5 3.5 0 1 0 -7 0M327.4 1033a3.5 3.5 0 1 0 7 0a3.5 3.5 0 1 0 -7 0M338 1070.9a3.5 3.5 0 1 0 7 0a3.5 3.5 0 1 0 -7 0M348.6 1098.7a3.5 3.5 0 1 0 7 0a3.5 3.5 0 1 0 -7 0M359.1 1118.9a3.5 3.5 0 1 0 7 0a3.5 3.5 0 1 0 -7 0M369.7 1133.4a3.5 3.5 0 1 0 7 0a3.5 3.5 0 1 0 -7 0M380.2 1143.9a3.5 3.5 0 1 0 7 0a3.5 3.5 0 1 0 -7 0M390.8 1151.4a3.5 3.5 0 1 0 7 0a3.5 3.5 0 1 0 -7 0M401.4 1156.9a3.5 3.5 0 1 0 7 0a3.5 3.5 0 1 0 -7 0M411.9 1160.7a3.5 3.5 0 1 0 7 0a3.5 3.5 0 1 0 -7 0M422.5 1163.5a3.5 3.5 0 1 0 7 0a3.5 3.5 0 1 0 -7 0M433 1165.5a3.5 3.5 0 1 0 7 0a3.5 3.5 0 1 0 -7 0M443.6 1167a3.5 3.5 0 1 0 7 0a3.5 3.5 0 1 0 -7 0M454.2 1168a3.5 3.5 0 1 0 7 0a3.5 3.5 0 1 0 -7 0M464.7 1168.8a3.5 3.5 0 1 0 7 0a3.5 3.5 0 1 0 -7 0M475.3 1169.3a3.5 3.5 0 1 0 7 0a3.5 3.5 0 1 0 -7 0M485.8 1169.7a3.5 3.5 0 1 0 7 0a3.5 3.5 0 1 0 -7 0M496.4 1169.9a3.5 3.5 0 1 0 7 0a3.5 3.5 0 1 0 -7 0M507 1170.1a3.5 3.5 0 1 0 7 0a3.5 3.5 0 1 0 -7 0M517.5 1170.3a3.5 3.5 0 1 0 7 0a3.5 3.5 0 1 0 -7 0M528.1 1170.4a3.5 3.5 0 1 0 7 0a3.5 3.5 0 1 0 -7 0M538.6 1170.5a3.5 3.5 0 1 0 7 0a3.5 3.5 0 1 0 -7 0M549.2 1170.5a3.5 3.5 0 1 0 7 0a3.5 3.5 0 1 0 -7 0M559.7 1170.5a3.5 3.5 0 1 0 7 0a3.5 3.5 0 1 0 -7 0M570.3 1170.6a3.5 3.5 0 1 0 7 0a3.5 3.5 0 1 0 -7 0M580.9 1170.6a3.5 3.5 0 1 0 7 0a3.5 3.5 0 1 0 -7 0M591.4 1170.6a3.5 3.5 0 1 0 7 0a3.5 3.5 0 1 0 -7 0M602 1170.6a3.5 3.5 0 1 0 7 0a3.5 3.5 0 1 0 -7 0M612.5 1170.6a3.5 3.5 0 1 0 7 0a3.5 3.5 0 1 0 -7 0M623.1 1170.6a3.5 3.5 0 1 0 7 0a3.5 3.5 0 1 0 -7 0M633.7 1170.6a3.5 3.5 0 1 0 7 0a3.5 3.5 0 1 0 -7 0M644.2 1170.6a3.5 3.5 0 1 0 7 0a3.5 3.5 0 1 0 -7 0M654.8 1170.6a3.5 3.5 0 1 0 7 0a3.5 3.5 0 1 0 -7 0" fill="#00008B"/>
<path d="M162 1154.1l4.6 -3 6 -4.4 5.2 -4.8 5.3 -5.9 5.3 -7 5.3 -8.5 5.3 -10.1 5.2 -12.2 5.3 -14.6 5.3 -17.4 5.3 -20.8 5.3 -24.5 5.2 -28.8 5.3 -33.3 5.3 -38.4 5.3 -42.2 5.3 -46.3 5.2 -46.4 5.3 -44.9 5.3 -38 5.3 -25.6 5.3 -12.4 5.2 4.7 5.3 17.7 5.3 28.7 5.3 36.3 5.2 40.3 5.3 42.1 5.3 40.6 5.3 38.5 5.3 34.8 5.2 31.4 5.3 27.4 5.3 23.9 5.3 20.7 5.3 17.7 5.2 15.3 5.3 12.9 5.3 11.1 5.3 9.4 5.3 8 5.2 6.7 5.3 5.8 5.3 4.9 5.3 4.1 5.3 3.5 5.2 3 5.3 2.5 5.3 2.1 5.3 1.8 5.3 1.6 5.2 1.3 5.3 1.1 5.3 0.9 5.3 0.8 5.3 0.6 5.2 0.6 5.3 0.5 5.3 0.4 5.3 0.3 5.3 0.3 5.2 0.3 5.3 0.2 5.3 0.2 5.3 0.1 5.3 0.1 5.2 0.2 5.3 0 5.3 0.1 5.3 0.1 5.2 0 5.3 0.1 5.3 0 5.3 0.1 5.3 0 5.2 0 5.3 0 5.3 0.1 5.3 0 5.3 0 5.2 0 5.3 0 5.3 0 5.3 0 5.3 0 5.2 0 5.3 0 5.3 0 5.3 0 5.3 0 5.2 0 5.3 0 6 0 4.6 0" fill="none" stroke="#9C9C1E" stroke-width="3.0" stroke-linejoin="round"/>
<path d="M158.5 1150.6h7v7h-7zM169.1 1143.2h7v7h-7zM179.6 1132.5h7v7h-7zM190.2 1117h7v7h-7zM200.7 1094.7h7v7h-7zM211.3 1062.7h7v7h-7zM221.9 1017.4h7v7h-7zM232.4 955.3h7v7h-7zM243 874.7h7v7h-7zM253.5 782h7v7h-7zM264.1 699.1h7v7h-7zM274.7 661.1h7v7h-7zM285.2 683.5h7v7h-7zM295.8 748.5h7v7h-7zM306.3 830.9h7v7h-7zM316.9 910h7v7h-7zM327.4 976.2h7v7h-7zM338 1027.5h7v7h-7zM348.6 1065.9h7v7h-7zM359.1 1094.1h7v7h-7zM369.7 1114.6h7v7h-7zM380.2 1129.3h7v7h-7zM390.8 1140h7v7h-7zM401.4 1147.6h7v7h-7zM411.9 1153.1h7v7h-7zM422.5 1157h7v7h-7zM433 1159.9h7v7h-7zM443.6 1161.9h7v7h-7zM454.2 1163.3h7v7h-7zM464.7 1164.4h7v7h-7zM475.3 1165.1h7v7h-7zM485.8 1165.7h7v7h-7zM496.4 1166.1h7v7h-7zM507 1166.3h7v7h-7zM517.5 1166.5h7v7h-7zM528.1 1166.7h7v7h-7zM538.6 1166.8h7v7h-7zM549.2 1166.9h7v7h-7zM559.7 1166.9h7v7h-7zM570.3 1167h7v7h-7zM580.9 1167h7v7h-7zM591.4 1167h7v7h-7zM602 1167h7v7h-7zM612.5 1167h7v7h-7zM623.1 1167h7v7h-7zM633.7 1167h7v7h-7zM644.2 1167h7v7h-7zM654.8 1167h7v7h-7z" fill="#9C9C1E"/>
<text x="33.5" y="909.6" font-size="29.5" transform="rotate(-90 33.5 909.6)">M&#8243;</text>
<text x="117.2" y="1223" font-size="32.5">10<tspan font-size="21" dy="-13">-2</tspan></text>
<text x="235.8" y="1223" font-size="32.5">10<tspan font-size="21" dy="-13">0</tspan></text>
<text x="352.1" y="1223" font-size="32.5">10<tspan font-size="21" dy="-13">2</tspan></text>
<text x="487" y="1223" font-size="32.5">10<tspan font-size="21" dy="-13">4</tspan></text>
<text x="614.8" y="1223" font-size="32.5">10<tspan font-size="21" dy="-13">6</tspan></text>
<text x="284.7" y="1272" font-size="32.5" textLength="196" lengthAdjust="spacingAndGlyphs">Frequency (Hz)</text>
<text x="145" y="624" font-size="27" textLength="62" lengthAdjust="spacingAndGlyphs">30 <tspan font-size="18" dy="-11">o</tspan><tspan dy="11">C</tspan></text>
<text x="299" y="624" font-size="27" textLength="77" lengthAdjust="spacingAndGlyphs">240 <tspan font-size="18" dy="-11">o</tspan><tspan dy="11">C</tspan></text>
<line x1="161" y1="643" x2="296" y2="643" stroke="#000" stroke-width="1.3"/>
<line x1="296" y1="643" x2="281" y2="636" stroke="#000" stroke-width="1.3"/>
<line x1="296" y1="643" x2="281" y2="650" stroke="#000" stroke-width="1.3"/>
<path d="M792.7 41.1l5.6 0.1 7.2 0.1 6.4 0.2 6.3 0.1 6.4 0.1 6.4 0.1 6.4 0.1 6.3 0.2 6.4 0.1 6.4 0.1 6.4 0.1 6.4 0.1 6.3 0.2 6.4 0.1 6.4 0.1 6.4 0.1 6.4 0.2 6.3 0.1 6.4 0.1 6.4 0.1 6.4 0.1 6.4 0.2 6.3 0.1 6.4 0.1 6.4 0.1 6.4 0.2 6.4 0.1 6.3 0.1 6.4 0.1 6.4 0.1 6.4 0.2 6.3 0.1 6.4 0.1 6.4 0.1 6.4 0.1 6.4 0.2 6.3 0.1 6.4 0.1 6.4 0.1 6.4 0.2 6.4 0.1 6.3 0.1 6.4 0.1 6.4 0.1 6.4 0.2 6.4 0.1 6.3 0.1 6.4 0.1 6.4 0.1 6.4 0.2 6.3 0.1 6.4 0.1 6.4 0.1 6.4 0.2 6.4 0.1 6.3 0.1 6.4 0.1 6.4 0.1 6.4 0.2 6.4 0.1 6.3 0.1 6.4 0.1 6.4 0.2 6.4 0.1 6.4 0.1 6.3 0.1 6.4 0.1 6.4 0.2 6.4 0.1 6.4 0.1 6.3 0.1 6.4 0.1 6.4 0.2 6.4 0.1 6.3 0.1 6.4 0.1 6.4 0.2 6.4 0.1 6.4 0.1 6.3 0.1 6.4 0.2 6.4 0.1 7.2 0.1 5.6 0.1" fill="none" stroke="#808000" stroke-width="3.3" stroke-linejoin="round"/>
<path d="M788.7 41.1a4 4 0 1 0 8 0a4 4 0 1 0 -8 0M801.5 41.3a4 4 0 1 0 8 0a4 4 0 1 0 -8 0M814.2 41.6a4 4 0 1 0 8 0a4 4 0 1 0 -8 0M827 41.8a4 4 0 1 0 8 0a4 4 0 1 0 -8 0M839.7 42.1a4 4 0 1 0 8 0a4 4 0 1 0 -8 0M852.5 42.3a4 4 0 1 0 8 0a4 4 0 1 0 -8 0M865.3 42.5a4 4 0 1 0 8 0a4 4 0 1 0 -8 0M878 42.8a4 4 0 1 0 8 0a4 4 0 1 0 -8 0M890.8 43a4 4 0 1 0 8 0a4 4 0 1 0 -8 0M903.5 43.3a4 4 0 1 0 8 0a4 4 0 1 0 -8 0M916.3 43.5a4 4 0 1 0 8 0a4 4 0 1 0 -8 0M929.1 43.8a4 4 0 1 0 8 0a4 4 0 1 0 -8 0M941.8 44a4 4 0 1 0 8 0a4 4 0 1 0 -8 0M954.6 44.3a4 4 0 1 0 8 0a4 4 0 1 0 -8 0M967.3 44.5a4 4 0 1 0 8 0a4 4 0 1 0 -8 0M980.1 44.7a4 4 0 1 0 8 0a4 4 0 1 0 -8 0M992.8 45a4 4 0 1 0 8 0a4 4 0 1 0 -8 0M1005.6 45.2a4 4 0 1 0 8 0a4 4 0 1 0 -8 0M1018.4 45.5a4 4 0 1 0 8 0a4 4 0 1 0 -8 0M1031.1 45.7a4 4 0 1 0 8 0a4 4 0 1 0 -8 0M1043.9 46a4 4 0 1 0 8 0a4 4 0 1 0 -8 0M1056.6 46.2a4 4 0 1 0 8 0a4 4 0 1 0 -8 0M1069.4 46.4a4 4 0 1 0 8 0a4 4 0 1 0 -8 0M1082.2 46.7a4 4 0 1 0 8 0a4 4 0 1 0 -8 0M1094.9 46.9a4 4 0 1 0 8 0a4 4 0 1 0 -8 0M1107.7 47.2a4 4 0 1 0 8 0a4 4 0 1 0 -8 0M1120.4 47.4a4 4 0 1 0 8 0a4 4 0 1 0 -8 0M1133.2 47.7a4 4 0 1 0 8 0a4 4 0 1 0 -8 0M1145.9 47.9a4 4 0 1 0 8 0a4 4 0 1 0 -8 0M1158.7 48.1a4 4 0 1 0 8 0a4 4 0 1 0 -8 0M1171.5 48.4a4 4 0 1 0 8 0a4 4 0 1 0 -8 0M1184.2 48.6a4 4 0 1 0 8 0a4 4 0 1 0 -8 0M1197 48.9a4 4 0 1 0 8 0a4 4 0 1 0 -8 0M1209.7 49.1a4 4 0 1 0 8 0a4 4 0 1 0 -8 0M1222.5 49.4a4 4 0 1 0 8 0a4 4 0 1 0 -8 0M1235.3 49.6a4 4 0 1 0 8 0a4 4 0 1 0 -8 0M1248 49.8a4 4 0 1 0 8 0a4 4 0 1 0 -8 0M1260.8 50.1a4 4 0 1 0 8 0a4 4 0 1 0 -8 0M1273.5 50.3a4 4 0 1 0 8 0a4 4 0 1 0 -8 0M1286.3 50.6a4 4 0 1 0 8 0a4 4 0 1 0 -8 0M1299 50.8a4 4 0 1 0 8 0a4 4 0 1 0 -8 0M1311.8 51.1a4 4 0 1 0 8 0a4 4 0 1 0 -8 0M1324.6 51.3a4 4 0 1 0 8 0a4 4 0 1 0 -8 0" fill="#808000"/>
<path d="M792.7 38.9l5.6 0.2 7.2 0.2 6.4 0.1 6.3 0.2 6.4 0.1 6.4 0.2 6.4 0.2 6.3 0.1 6.4 0.2 6.4 0.2 6.4 0.1 6.4 0.2 6.3 0.2 6.4 0.1 6.4 0.2 6.4 0.1 6.4 0.2 6.3 0.2 6.4 0.1 6.4 0.2 6.4 0.2 6.4 0.1 6.3 0.2 6.4 0.1 6.4 0.2 6.4 0.2 6.4 0.1 6.3 0.2 6.4 0.2 6.4 0.1 6.4 0.2 6.3 0.1 6.4 0.2 6.4 0.2 6.4 0.1 6.4 0.2 6.3 0.2 6.4 0.1 6.4 0.2 6.4 0.1 6.4 0.2 6.3 0.2 6.4 0.1 6.4 0.2 6.4 0.2 6.4 0.1 6.3 0.2 6.4 0.1 6.4 0.2 6.4 0.2 6.3 0.1 6.4 0.2 6.4 0.2 6.4 0.1 6.4 0.2 6.3 0.1 6.4 0.2 6.4 0.2 6.4 0.1 6.4 0.2 6.3 0.2 6.4 0.1 6.4 0.2 6.4 0.2 6.4 0.1 6.3 0.2 6.4 0.1 6.4 0.2 6.4 0.2 6.4 0.1 6.3 0.2 6.4 0.2 6.4 0.1 6.4 0.2 6.3 0.1 6.4 0.2 6.4 0.2 6.4 0.1 6.4 0.2 6.3 0.2 6.4 0.1 6.4 0.2 7.2 0.2 5.6 0.1" fill="none" stroke="#FF0000" stroke-width="3.3" stroke-linejoin="round"/>
<path d="M788.7 34.9l8 8m0 -8l-8 8M792.7 34.9v8M801.5 35.3l8 8m0 -8l-8 8M805.5 35.3v8M814.2 35.6l8 8m0 -8l-8 8M818.2 35.6v8M827 35.9l8 8m0 -8l-8 8M831 35.9v8M839.7 36.2l8 8m0 -8l-8 8M843.7 36.2v8M852.5 36.6l8 8m0 -8l-8 8M856.5 36.6v8M865.3 36.9l8 8m0 -8l-8 8M869.3 36.9v8M878 37.2l8 8m0 -8l-8 8M882 37.2v8M890.8 37.5l8 8m0 -8l-8 8M894.8 37.5v8M903.5 37.9l8 8m0 -8l-8 8M907.5 37.9v8M916.3 38.2l8 8m0 -8l-8 8M920.3 38.2v8M929.1 38.5l8 8m0 -8l-8 8M933.1 38.5v8M941.8 38.8l8 8m0 -8l-8 8M945.8 38.8v8M954.6 39.2l8 8m0 -8l-8 8M958.6 39.2v8M967.3 39.5l8 8m0 -8l-8 8M971.3 39.5v8M980.1 39.8l8 8m0 -8l-8 8M984.1 39.8v8M992.8 40.1l8 8m0 -8l-8 8M996.8 40.1v8M1005.6 40.5l8 8m0 -8l-8 8M1009.6 40.5v8M1018.4 40.8l8 8m0 -8l-8 8M1022.4 40.8v8M1031.1 41.1l8 8m0 -8l-8 8M1035.1 41.1v8M1043.9 41.4l8 8m0 -8l-8 8M1047.9 41.4v8M1056.6 41.8l8 8m0 -8l-8 8M1060.6 41.8v8M1069.4 42.1l8 8m0 -8l-8 8M1073.4 42.1v8M1082.2 42.4l8 8m0 -8l-8 8M1086.2 42.4v8M1094.9 42.7l8 8m0 -8l-8 8M1098.9 42.7v8M1107.7 43.1l8 8m0 -8l-8 8M1111.7 43.1v8M1120.4 43.4l8 8m0 -8l-8 8M1124.4 43.4v8M1133.2 43.7l8 8m0 -8l-8 8M1137.2 43.7v8M1145.9 44l8 8m0 -8l-8 8M1149.9 44v8M1158.7 44.4l8 8m0 -8l-8 8M1162.7 44.4v8M1171.5 44.7l8 8m0 -8l-8 8M1175.5 44.7v8M1184.2 45l8 8m0 -8l-8 8M1188.2 45v8M1197 45.4l8 8m0 -8l-8 8M1201 45.4v8M1209.7 45.7l8 8m0 -8l-8 8M1213.7 45.7v8M1222.5 46l8 8m0 -8l-8 8M1226.5 46v8M1235.3 46.3l8 8m0 -8l-8 8M1239.3 46.3v8M1248 46.7l8 8m0 -8l-8 8M1252 46.7v8M1260.8 47l8 8m0 -8l-8 8M1264.8 47v8M1273.5 47.3l8 8m0 -8l-8 8M1277.5 47.3v8M1286.3 47.6l8 8m0 -8l-8 8M1290.3 47.6v8M1299 48l8 8m0 -8l-8 8M1303 48v8M1311.8 48.3l8 8m0 -8l-8 8M1315.8 48.3v8M1324.6 48.6l8 8m0 -8l-8 8M1328.6 48.6v8" stroke="#FF0000" stroke-width="1.4" fill="none"/>
<path d="M792.7 36.8l5.6 0.2 7.2 0.2 6.4 0.2 6.3 0.2 6.4 0.2 6.4 0.2 6.4 0.2 6.3 0.2 6.4 0.2 6.4 0.2 6.4 0.2 6.4 0.2 6.3 0.2 6.4 0.2 6.4 0.2 6.4 0.2 6.4 0.2 6.3 0.3 6.4 0.2 6.4 0.2 6.4 0.2 6.4 0.2 6.3 0.2 6.4 0.2 6.4 0.2 6.4 0.2 6.4 0.2 6.3 0.2 6.4 0.2 6.4 0.2 6.4 0.2 6.3 0.2 6.4 0.2 6.4 0.2 6.4 0.2 6.4 0.2 6.3 0.2 6.4 0.2 6.4 0.2 6.4 0.2 6.4 0.2 6.3 0.2 6.4 0.2 6.4 0.2 6.4 0.3 6.4 0.2 6.3 0.2 6.4 0.2 6.4 0.2 6.4 0.2 6.3 0.2 6.4 0.2 6.4 0.2 6.4 0.2 6.4 0.2 6.3 0.2 6.4 0.2 6.4 0.2 6.4 0.2 6.4 0.2 6.3 0.2 6.4 0.2 6.4 0.2 6.4 0.2 6.4 0.2 6.3 0.2 6.4 0.2 6.4 0.2 6.4 0.3 6.4 0.2 6.3 0.2 6.4 0.2 6.4 0.2 6.4 0.2 6.3 0.2 6.4 0.2 6.4 0.2 6.4 0.2 6.4 0.2 6.3 0.2 6.4 0.2 6.4 0.2 7.2 0.3 5.6 0.2" fill="none" stroke="#000080" stroke-width="3.3" stroke-linejoin="round"/>
<path d="M788.7 32.8l8 8m0 -8l-8 8M801.5 33.2l8 8m0 -8l-8 8M814.2 33.6l8 8m0 -8l-8 8M827 34l8 8m0 -8l-8 8M839.7 34.4l8 8m0 -8l-8 8M852.5 34.8l8 8m0 -8l-8 8M865.3 35.2l8 8m0 -8l-8 8M878 35.6l8 8m0 -8l-8 8M890.8 36l8 8m0 -8l-8 8M903.5 36.5l8 8m0 -8l-8 8M916.3 36.9l8 8m0 -8l-8 8M929.1 37.3l8 8m0 -8l-8 8M941.8 37.7l8 8m0 -8l-8 8M954.6 38.1l8 8m0 -8l-8 8M967.3 38.5l8 8m0 -8l-8 8M980.1 38.9l8 8m0 -8l-8 8M992.8 39.3l8 8m0 -8l-8 8M1005.6 39.7l8 8m0 -8l-8 8M1018.4 40.1l8 8m0 -8l-8 8M1031.1 40.5l8 8m0 -8l-8 8M1043.9 40.9l8 8m0 -8l-8 8M1056.6 41.3l8 8m0 -8l-8 8M1069.4 41.7l8 8m0 -8l-8 8M1082.2 42.2l8 8m0 -8l-8 8M1094.9 42.6l8 8m0 -8l-8 8M1107.7 43l8 8m0 -8l-8 8M1120.4 43.4l8 8m0 -8l-8 8M1133.2 43.8l8 8m0 -8l-8 8M1145.9 44.2l8 8m0 -8l-8 8M1158.7 44.6l8 8m0 -8l-8 8M1171.5 45l8 8m0 -8l-8 8M1184.2 45.4l8 8m0 -8l-8 8M1197 45.8l8 8m0 -8l-8 8M1209.7 46.2l8 8m0 -8l-8 8M1222.5 46.6l8 8m0 -8l-8 8M1235.3 47.1l8 8m0 -8l-8 8M1248 47.5l8 8m0 -8l-8 8M1260.8 47.9l8 8m0 -8l-8 8M1273.5 48.3l8 8m0 -8l-8 8M1286.3 48.7l8 8m0 -8l-8 8M1299 49.1l8 8m0 -8l-8 8M1311.8 49.5l8 8m0 -8l-8 8M1324.6 50l8 8m0 -8l-8 8" stroke="#000080" stroke-width="1.4" fill="none"/>
<path d="M792.7 39.6l5.6 0.2 7.2 0.3 6.4 0.3 6.3 0.2 6.4 0.3 6.4 0.2 6.4 0.2 6.3 0.3 6.4 0.2 6.4 0.3 6.4 0.2 6.4 0.3 6.3 0.2 6.4 0.3 6.4 0.2 6.4 0.3 6.4 0.2 6.3 0.2 6.4 0.3 6.4 0.2 6.4 0.3 6.4 0.2 6.3 0.3 6.4 0.2 6.4 0.3 6.4 0.2 6.4 0.2 6.3 0.3 6.4 0.2 6.4 0.3 6.4 0.2 6.3 0.3 6.4 0.2 6.4 0.3 6.4 0.2 6.4 0.2 6.3 0.3 6.4 0.2 6.4 0.3 6.4 0.2 6.4 0.3 6.3 0.2 6.4 0.3 6.4 0.2 6.4 0.2 6.4 0.3 6.3 0.2 6.4 0.3 6.4 0.2 6.4 0.3 6.3 0.2 6.4 0.3 6.4 0.2 6.4 0.3 6.4 0.2 6.3 0.2 6.4 0.3 6.4 0.2 6.4 0.3 6.4 0.2 6.3 0.3 6.4 0.2 6.4 0.3 6.4 0.2 6.4 0.3 6.3 0.2 6.4 0.3 6.4 0.2 6.4 0.2 6.4 0.3 6.3 0.2 6.4 0.3 6.4 0.2 6.4 0.3 6.3 0.2 6.4 0.3 6.4 0.2 6.4 0.3 6.4 0.3 6.3 0.2 6.4 0.3 6.4 0.2 7.2 0.3 5.6 0.2" fill="none" stroke="#008080" stroke-width="3.3" stroke-linejoin="round"/>
<path d="M792.7 35.2l4 7.6h-8zM805.5 35.7l4 7.6h-8zM818.2 36.2l4 7.6h-8zM831 36.7l4 7.6h-8zM843.7 37.2l4 7.6h-8zM856.5 37.7l4 7.6h-8zM869.3 38.2l4 7.6h-8zM882 38.7l4 7.6h-8zM894.8 39.2l4 7.6h-8zM907.5 39.6l4 7.6h-8zM920.3 40.1l4 7.6h-8zM933.1 40.6l4 7.6h-8zM945.8 41.1l4 7.6h-8zM958.6 41.6l4 7.6h-8zM971.3 42.1l4 7.6h-8zM984.1 42.6l4 7.6h-8zM996.8 43.1l4 7.6h-8zM1009.6 43.6l4 7.6h-8zM1022.4 44l4 7.6h-8zM1035.1 44.5l4 7.6h-8zM1047.9 45l4 7.6h-8zM1060.6 45.5l4 7.6h-8zM1073.4 46l4 7.6h-8zM1086.2 46.5l4 7.6h-8zM1098.9 47l4 7.6h-8zM1111.7 47.5l4 7.6h-8zM1124.4 48l4 7.6h-8zM1137.2 48.5l4 7.6h-8zM1149.9 48.9l4 7.6h-8zM1162.7 49.4l4 7.6h-8zM1175.5 49.9l4 7.6h-8zM1188.2 50.4l4 7.6h-8zM1201 50.9l4 7.6h-8zM1213.7 51.4l4 7.6h-8zM1226.5 51.9l4 7.6h-8zM1239.3 52.4l4 7.6h-8zM1252 52.9l4 7.6h-8zM1264.8 53.4l4 7.6h-8zM1277.5 53.9l4 7.6h-8zM1290.3 54.4l4 7.6h-8zM1303 54.9l4 7.6h-8zM1315.8 55.4l4 7.6h-8zM1328.6 55.9l4 7.6h-8z" fill="#008080"/>
<path d="M792.7 37.5l5.6 0.1 7.2 0.2 6.4 0.2 6.3 0.1 6.4 0.2 6.4 0.1 6.4 0.2 6.3 0.1 6.4 0.2 6.4 0.1 6.4 0.1 6.4 0.2 6.3 0.1 6.4 0.2 6.4 0.1 6.4 0.2 6.4 0.1 6.3 0.2 6.4 0.1 6.4 0.2 6.4 0.1 6.4 0.2 6.3 0.1 6.4 0.2 6.4 0.1 6.4 0.2 6.4 0.1 6.3 0.2 6.4 0.1 6.4 0.2 6.4 0.1 6.3 0.2 6.4 0.1 6.4 0.2 6.4 0.1 6.4 0.2 6.3 0.1 6.4 0.2 6.4 0.1 6.4 0.2 6.4 0.1 6.3 0.2 6.4 0.1 6.4 0.2 6.4 0.1 6.4 0.2 6.3 0.1 6.4 0.2 6.4 0.1 6.4 0.2 6.3 0.1 6.4 0.2 6.4 0.1 6.4 0.2 6.4 0.1 6.3 0.2 6.4 0.1 6.4 0.2 6.4 0.1 6.4 0.2 6.3 0.1 6.4 0.2 6.4 0.1 6.4 0.2 6.4 0.1 6.3 0.2 6.4 0.1 6.4 0.2 6.4 0.1 6.4 0.2 6.3 0.1 6.4 0.2 6.4 0.2 6.4 0.1 6.3 0.2 6.4 0.1 6.4 0.2 6.4 0.2 6.4 0.1 6.3 0.2 6.4 0.2 6.4 0.1 7.2 0.3 5.6 0.1" fill="none" stroke="#FFC0CB" stroke-width="3.3" stroke-linejoin="round"/>
<path d="M788.7 33.5h8v8h-8zM801.5 33.8h8v8h-8zM814.2 34.1h8v8h-8zM827 34.4h8v8h-8zM839.7 34.7h8v8h-8zM852.5 35h8v8h-8zM865.3 35.3h8v8h-8zM878 35.6h8v8h-8zM890.8 35.9h8v8h-8zM903.5 36.2h8v8h-8zM916.3 36.5h8v8h-8zM929.1 36.8h8v8h-8zM941.8 37.1h8v8h-8zM954.6 37.4h8v8h-8zM967.3 37.7h8v8h-8zM980.1 38h8v8h-8zM992.8 38.3h8v8h-8zM1005.6 38.6h8v8h-8zM1018.4 38.9h8v8h-8zM1031.1 39.2h8v8h-8zM1043.9 39.5h8v8h-8zM1056.6 39.8h8v8h-8zM1069.4 40.1h8v8h-8zM1082.2 40.4h8v8h-8zM1094.9 40.7h8v8h-8zM1107.7 41h8v8h-8zM1120.4 41.3h8v8h-8zM1133.2 41.6h8v8h-8zM1145.9 41.9h8v8h-8zM1158.7 42.2h8v8h-8zM1171.5 42.5h8v8h-8zM1184.2 42.8h8v8h-8zM1197 43.1h8v8h-8zM1209.7 43.4h8v8h-8zM1222.5 43.7h8v8h-8zM1235.3 44h8v8h-8zM1248 44.3h8v8h-8zM1260.8 44.6h8v8h-8zM1273.5 44.9h8v8h-8zM1286.3 45.3h8v8h-8zM1299 45.6h8v8h-8zM1311.8 45.9h8v8h-8zM1324.6 46.3h8v8h-8z" fill="#FFC0CB"/>
<path d="M792.7 40.4l5.6 0.1 7.2 0.2 6.4 0.2 6.3 0.2 6.4 0.2 6.4 0.2 6.4 0.2 6.3 0.2 6.4 0.2 6.4 0.2 6.4 0.2 6.4 0.1 6.3 0.2 6.4 0.2 6.4 0.2 6.4 0.2 6.4 0.2 6.3 0.2 6.4 0.2 6.4 0.2 6.4 0.2 6.4 0.1 6.3 0.2 6.4 0.2 6.4 0.2 6.4 0.2 6.4 0.2 6.3 0.2 6.4 0.2 6.4 0.2 6.4 0.2 6.3 0.1 6.4 0.2 6.4 0.2 6.4 0.2 6.4 0.2 6.3 0.2 6.4 0.2 6.4 0.2 6.4 0.2 6.4 0.2 6.3 0.1 6.4 0.2 6.4 0.2 6.4 0.2 6.4 0.2 6.3 0.2 6.4 0.2 6.4 0.2 6.4 0.2 6.3 0.2 6.4 0.2 6.4 0.1 6.4 0.2 6.4 0.2 6.3 0.2 6.4 0.2 6.4 0.2 6.4 0.2 6.4 0.2 6.3 0.2 6.4 0.2 6.4 0.2 6.4 0.2 6.4 0.2 6.3 0.2 6.4 0.2 6.4 0.2 6.4 0.1 6.4 0.2 6.3 0.3 6.4 0.2 6.4 0.2 6.4 0.2 6.3 0.2 6.4 0.2 6.4 0.2 6.4 0.2 6.4 0.2 6.3 0.3 6.4 0.2 6.4 0.2 7.2 0.3 5.6 0.2" fill="none" stroke="#800000" stroke-width="3.3" stroke-linejoin="round"/>
<path d="M792.7 35.6l4.8 4.8l-4.8 4.8l-4.8 -4.8zM805.5 35.9l4.8 4.8l-4.8 4.8l-4.8 -4.8zM818.2 36.3l4.8 4.8l-4.8 4.8l-4.8 -4.8zM831 36.7l4.8 4.8l-4.8 4.8l-4.8 -4.8zM843.7 37.1l4.8 4.8l-4.8 4.8l-4.8 -4.8zM856.5 37.5l4.8 4.8l-4.8 4.8l-4.8 -4.8zM869.3 37.8l4.8 4.8l-4.8 4.8l-4.8 -4.8zM882 38.2l4.8 4.8l-4.8 4.8l-4.8 -4.8zM894.8 38.6l4.8 4.8l-4.8 4.8l-4.8 -4.8zM907.5 39l4.8 4.8l-4.8 4.8l-4.8 -4.8zM920.3 39.4l4.8 4.8l-4.8 4.8l-4.8 -4.8zM933.1 39.7l4.8 4.8l-4.8 4.8l-4.8 -4.8zM945.8 40.1l4.8 4.8l-4.8 4.8l-4.8 -4.8zM958.6 40.5l4.8 4.8l-4.8 4.8l-4.8 -4.8zM971.3 40.9l4.8 4.8l-4.8 4.8l-4.8 -4.8zM984.1 41.3l4.8 4.8l-4.8 4.8l-4.8 -4.8zM996.8 41.6l4.8 4.8l-4.8 4.8l-4.8 -4.8zM1009.6 42l4.8 4.8l-4.8 4.8l-4.8 -4.8zM1022.4 42.4l4.8 4.8l-4.8 4.8l-4.8 -4.8zM1035.1 42.8l4.8 4.8l-4.8 4.8l-4.8 -4.8zM1047.9 43.2l4.8 4.8l-4.8 4.8l-4.8 -4.8zM1060.6 43.5l4.8 4.8l-4.8 4.8l-4.8 -4.8zM1073.4 43.9l4.8 4.8l-4.8 4.8l-4.8 -4.8zM1086.2 44.3l4.8 4.8l-4.8 4.8l-4.8 -4.8zM1098.9 44.7l4.8 4.8l-4.8 4.8l-4.8 -4.8zM1111.7 45.1l4.8 4.8l-4.8 4.8l-4.8 -4.8zM1124.4 45.5l4.8 4.8l-4.8 4.8l-4.8 -4.8zM1137.2 45.8l4.8 4.8l-4.8 4.8l-4.8 -4.8zM1149.9 46.2l4.8 4.8l-4.8 4.8l-4.8 -4.8zM1162.7 46.6l4.8 4.8l-4.8 4.8l-4.8 -4.8zM1175.5 47l4.8 4.8l-4.8 4.8l-4.8 -4.8zM1188.2 47.4l4.8 4.8l-4.8 4.8l-4.8 -4.8zM1201 47.8l4.8 4.8l-4.8 4.8l-4.8 -4.8zM1213.7 48.2l4.8 4.8l-4.8 4.8l-4.8 -4.8zM1226.5 48.6l4.8 4.8l-4.8 4.8l-4.8 -4.8zM1239.3 48.9l4.8 4.8l-4.8 4.8l-4.8 -4.8zM1252 49.4l4.8 4.8l-4.8 4.8l-4.8 -4.8zM1264.8 49.8l4.8 4.8l-4.8 4.8l-4.8 -4.8zM1277.5 50.2l4.8 4.8l-4.8 4.8l-4.8 -4.8zM1290.3 50.6l4.8 4.8l-4.8 4.8l-4.8 -4.8zM1303 51.1l4.8 4.8l-4.8 4.8l-4.8 -4.8zM1315.8 51.5l4.8 4.8l-4.8 4.8l-4.8 -4.8zM1328.6 52l4.8 4.8l-4.8 4.8l-4.8 -4.8z" fill="#800000"/>
<path d="M792.7 38.2l5.6 0.2 7.2 0.3 6.4 0.2 6.3 0.2 6.4 0.3 6.4 0.2 6.4 0.2 6.3 0.3 6.4 0.2 6.4 0.2 6.4 0.2 6.4 0.3 6.3 0.2 6.4 0.2 6.4 0.3 6.4 0.2 6.4 0.2 6.3 0.3 6.4 0.2 6.4 0.2 6.4 0.3 6.4 0.2 6.3 0.2 6.4 0.3 6.4 0.2 6.4 0.2 6.4 0.2 6.3 0.3 6.4 0.2 6.4 0.2 6.4 0.3 6.3 0.2 6.4 0.2 6.4 0.3 6.4 0.2 6.4 0.2 6.3 0.3 6.4 0.2 6.4 0.2 6.4 0.3 6.4 0.2 6.3 0.2 6.4 0.2 6.4 0.3 6.4 0.2 6.4 0.2 6.3 0.3 6.4 0.2 6.4 0.2 6.4 0.3 6.3 0.2 6.4 0.2 6.4 0.3 6.4 0.2 6.4 0.2 6.3 0.3 6.4 0.2 6.4 0.2 6.4 0.3 6.4 0.2 6.3 0.3 6.4 0.2 6.4 0.2 6.4 0.3 6.4 0.2 6.3 0.2 6.4 0.3 6.4 0.2 6.4 0.3 6.4 0.2 6.3 0.3 6.4 0.2 6.4 0.3 6.4 0.3 6.3 0.2 6.4 0.3 6.4 0.3 6.4 0.3 6.4 0.2 6.3 0.3 6.4 0.3 6.4 0.4 7.2 0.3 5.6 0.3" fill="none" stroke="#FF66CC" stroke-width="3.3" stroke-linejoin="round"/>
<path d="M788.7 38.2a4 4 0 1 0 8 0a4 4 0 1 0 -8 0M801.5 38.7a4 4 0 1 0 8 0a4 4 0 1 0 -8 0M814.2 39.1a4 4 0 1 0 8 0a4 4 0 1 0 -8 0M827 39.6a4 4 0 1 0 8 0a4 4 0 1 0 -8 0M839.7 40.1a4 4 0 1 0 8 0a4 4 0 1 0 -8 0M852.5 40.5a4 4 0 1 0 8 0a4 4 0 1 0 -8 0M865.3 41a4 4 0 1 0 8 0a4 4 0 1 0 -8 0M878 41.4a4 4 0 1 0 8 0a4 4 0 1 0 -8 0M890.8 41.9a4 4 0 1 0 8 0a4 4 0 1 0 -8 0M903.5 42.4a4 4 0 1 0 8 0a4 4 0 1 0 -8 0M916.3 42.8a4 4 0 1 0 8 0a4 4 0 1 0 -8 0M929.1 43.3a4 4 0 1 0 8 0a4 4 0 1 0 -8 0M941.8 43.8a4 4 0 1 0 8 0a4 4 0 1 0 -8 0M954.6 44.2a4 4 0 1 0 8 0a4 4 0 1 0 -8 0M967.3 44.7a4 4 0 1 0 8 0a4 4 0 1 0 -8 0M980.1 45.1a4 4 0 1 0 8 0a4 4 0 1 0 -8 0M992.8 45.6a4 4 0 1 0 8 0a4 4 0 1 0 -8 0M1005.6 46.1a4 4 0 1 0 8 0a4 4 0 1 0 -8 0M1018.4 46.5a4 4 0 1 0 8 0a4 4 0 1 0 -8 0M1031.1 47a4 4 0 1 0 8 0a4 4 0 1 0 -8 0M1043.9 47.5a4 4 0 1 0 8 0a4 4 0 1 0 -8 0M1056.6 47.9a4 4 0 1 0 8 0a4 4 0 1 0 -8 0M1069.4 48.4a4 4 0 1 0 8 0a4 4 0 1 0 -8 0M1082.2 48.8a4 4 0 1 0 8 0a4 4 0 1 0 -8 0M1094.9 49.3a4 4 0 1 0 8 0a4 4 0 1 0 -8 0M1107.7 49.8a4 4 0 1 0 8 0a4 4 0 1 0 -8 0M1120.4 50.2a4 4 0 1 0 8 0a4 4 0 1 0 -8 0M1133.2 50.7a4 4 0 1 0 8 0a4 4 0 1 0 -8 0M1145.9 51.2a4 4 0 1 0 8 0a4 4 0 1 0 -8 0M1158.7 51.6a4 4 0 1 0 8 0a4 4 0 1 0 -8 0M1171.5 52.1a4 4 0 1 0 8 0a4 4 0 1 0 -8 0M1184.2 52.6a4 4 0 1 0 8 0a4 4 0 1 0 -8 0M1197 53.1a4 4 0 1 0 8 0a4 4 0 1 0 -8 0M1209.7 53.5a4 4 0 1 0 8 0a4 4 0 1 0 -8 0M1222.5 54a4 4 0 1 0 8 0a4 4 0 1 0 -8 0M1235.3 54.5a4 4 0 1 0 8 0a4 4 0 1 0 -8 0M1248 55a4 4 0 1 0 8 0a4 4 0 1 0 -8 0M1260.8 55.6a4 4 0 1 0 8 0a4 4 0 1 0 -8 0M1273.5 56.1a4 4 0 1 0 8 0a4 4 0 1 0 -8 0M1286.3 56.7a4 4 0 1 0 8 0a4 4 0 1 0 -8 0M1299 57.2a4 4 0 1 0 8 0a4 4 0 1 0 -8 0M1311.8 57.9a4 4 0 1 0 8 0a4 4 0 1 0 -8 0M1324.6 58.5a4 4 0 1 0 8 0a4 4 0 1 0 -8 0" fill="#FF66CC"/>
<path d="M792.7 41.1l5.6 0.1 7.2 0.2 6.4 0.1 6.3 0.1 6.4 0.2 6.4 0.1 6.4 0.1 6.3 0.2 6.4 0.1 6.4 0.1 6.4 0.2 6.4 0.1 6.3 0.1 6.4 0.2 6.4 0.1 6.4 0.2 6.4 0.1 6.3 0.1 6.4 0.2 6.4 0.1 6.4 0.1 6.4 0.2 6.3 0.1 6.4 0.1 6.4 0.2 6.4 0.1 6.4 0.1 6.3 0.2 6.4 0.1 6.4 0.1 6.4 0.2 6.3 0.1 6.4 0.2 6.4 0.1 6.4 0.1 6.4 0.2 6.3 0.1 6.4 0.1 6.4 0.2 6.4 0.1 6.4 0.1 6.3 0.2 6.4 0.1 6.4 0.1 6.4 0.2 6.4 0.1 6.3 0.2 6.4 0.1 6.4 0.1 6.4 0.2 6.3 0.1 6.4 0.1 6.4 0.2 6.4 0.1 6.4 0.2 6.3 0.1 6.4 0.1 6.4 0.2 6.4 0.1 6.4 0.2 6.3 0.1 6.4 0.2 6.4 0.1 6.4 0.2 6.4 0.1 6.3 0.2 6.4 0.1 6.4 0.2 6.4 0.1 6.4 0.2 6.3 0.2 6.4 0.2 6.4 0.1 6.4 0.2 6.3 0.2 6.4 0.2 6.4 0.2 6.4 0.3 6.4 0.2 6.3 0.2 6.4 0.3 6.4 0.3 7.2 0.3 5.6 0.3" fill="none" stroke="#00B0F0" stroke-width="3.3" stroke-linejoin="round"/>
<path d="M788.7 37.1h8v8h-8zM801.5 37.4h8v8h-8zM814.2 37.6h8v8h-8zM827 37.9h8v8h-8zM839.7 38.2h8v8h-8zM852.5 38.4h8v8h-8zM865.3 38.7h8v8h-8zM878 39h8v8h-8zM890.8 39.3h8v8h-8zM903.5 39.5h8v8h-8zM916.3 39.8h8v8h-8zM929.1 40.1h8v8h-8zM941.8 40.3h8v8h-8zM954.6 40.6h8v8h-8zM967.3 40.9h8v8h-8zM980.1 41.1h8v8h-8zM992.8 41.4h8v8h-8zM1005.6 41.7h8v8h-8zM1018.4 42h8v8h-8zM1031.1 42.2h8v8h-8zM1043.9 42.5h8v8h-8zM1056.6 42.8h8v8h-8zM1069.4 43h8v8h-8zM1082.2 43.3h8v8h-8zM1094.9 43.6h8v8h-8zM1107.7 43.9h8v8h-8zM1120.4 44.1h8v8h-8zM1133.2 44.4h8v8h-8zM1145.9 44.7h8v8h-8zM1158.7 45h8v8h-8zM1171.5 45.3h8v8h-8zM1184.2 45.6h8v8h-8zM1197 45.9h8v8h-8zM1209.7 46.2h8v8h-8zM1222.5 46.5h8v8h-8zM1235.3 46.8h8v8h-8zM1248 47.2h8v8h-8zM1260.8 47.5h8v8h-8zM1273.5 47.9h8v8h-8zM1286.3 48.4h8v8h-8zM1299 48.8h8v8h-8zM1311.8 49.4h8v8h-8zM1324.6 50h8v8h-8z" fill="#00B0F0"/>
<path d="M792.7 38.9l5.6 0.2 7.2 0.2 6.4 0.2 6.3 0.1 6.4 0.2 6.4 0.2 6.4 0.2 6.3 0.1 6.4 0.2 6.4 0.2 6.4 0.2 6.4 0.1 6.3 0.2 6.4 0.2 6.4 0.2 6.4 0.2 6.4 0.1 6.3 0.2 6.4 0.2 6.4 0.2 6.4 0.1 6.4 0.2 6.3 0.2 6.4 0.2 6.4 0.1 6.4 0.2 6.4 0.2 6.3 0.2 6.4 0.1 6.4 0.2 6.4 0.2 6.3 0.2 6.4 0.2 6.4 0.1 6.4 0.2 6.4 0.2 6.3 0.2 6.4 0.1 6.4 0.2 6.4 0.2 6.4 0.2 6.3 0.1 6.4 0.2 6.4 0.2 6.4 0.2 6.4 0.2 6.3 0.1 6.4 0.2 6.4 0.2 6.4 0.2 6.3 0.2 6.4 0.1 6.4 0.2 6.4 0.2 6.4 0.2 6.3 0.2 6.4 0.2 6.4 0.1 6.4 0.2 6.4 0.2 6.3 0.2 6.4 0.2 6.4 0.2 6.4 0.2 6.4 0.2 6.3 0.2 6.4 0.2 6.4 0.2 6.4 0.3 6.4 0.2 6.3 0.2 6.4 0.3 6.4 0.2 6.4 0.3 6.3 0.2 6.4 0.3 6.4 0.3 6.4 0.3 6.4 0.4 6.3 0.4 6.4 0.3 6.4 0.5 7.2 0.5 5.6 0.4" fill="none" stroke="#FF7F00" stroke-width="3.3" stroke-linejoin="round"/>
<path d="M792.7 34.5l4 7.6h-8zM805.5 34.9l4 7.6h-8zM818.2 35.2l4 7.6h-8zM831 35.6l4 7.6h-8zM843.7 35.9l4 7.6h-8zM856.5 36.3l4 7.6h-8zM869.3 36.6l4 7.6h-8zM882 37l4 7.6h-8zM894.8 37.4l4 7.6h-8zM907.5 37.7l4 7.6h-8zM920.3 38.1l4 7.6h-8zM933.1 38.4l4 7.6h-8zM945.8 38.8l4 7.6h-8zM958.6 39.1l4 7.6h-8zM971.3 39.5l4 7.6h-8zM984.1 39.8l4 7.6h-8zM996.8 40.2l4 7.6h-8zM1009.6 40.5l4 7.6h-8zM1022.4 40.9l4 7.6h-8zM1035.1 41.2l4 7.6h-8zM1047.9 41.6l4 7.6h-8zM1060.6 41.9l4 7.6h-8zM1073.4 42.3l4 7.6h-8zM1086.2 42.7l4 7.6h-8zM1098.9 43l4 7.6h-8zM1111.7 43.4l4 7.6h-8zM1124.4 43.7l4 7.6h-8zM1137.2 44.1l4 7.6h-8zM1149.9 44.5l4 7.6h-8zM1162.7 44.8l4 7.6h-8zM1175.5 45.2l4 7.6h-8zM1188.2 45.6l4 7.6h-8zM1201 46l4 7.6h-8zM1213.7 46.4l4 7.6h-8zM1226.5 46.8l4 7.6h-8zM1239.3 47.3l4 7.6h-8zM1252 47.8l4 7.6h-8zM1264.8 48.3l4 7.6h-8zM1277.5 48.8l4 7.6h-8zM1290.3 49.4l4 7.6h-8zM1303 50.2l4 7.6h-8zM1315.8 51l4 7.6h-8zM1328.6 51.9l4 7.6h-8z" fill="#FF7F00"/>
<path d="M792.7 36.8l5.6 0.2 7.2 0.2 6.4 0.2 6.3 0.3 6.4 0.2 6.4 0.2 6.4 0.2 6.3 0.2 6.4 0.2 6.4 0.3 6.4 0.2 6.4 0.2 6.3 0.2 6.4 0.2 6.4 0.2 6.4 0.3 6.4 0.2 6.3 0.2 6.4 0.2 6.4 0.2 6.4 0.2 6.4 0.3 6.3 0.2 6.4 0.2 6.4 0.2 6.4 0.2 6.4 0.3 6.3 0.2 6.4 0.2 6.4 0.2 6.4 0.2 6.3 0.2 6.4 0.3 6.4 0.2 6.4 0.2 6.4 0.2 6.3 0.2 6.4 0.3 6.4 0.2 6.4 0.2 6.4 0.2 6.3 0.2 6.4 0.2 6.4 0.3 6.4 0.2 6.4 0.2 6.3 0.2 6.4 0.2 6.4 0.3 6.4 0.2 6.3 0.2 6.4 0.2 6.4 0.3 6.4 0.2 6.4 0.2 6.3 0.2 6.4 0.3 6.4 0.2 6.4 0.2 6.4 0.3 6.3 0.2 6.4 0.3 6.4 0.2 6.4 0.3 6.4 0.2 6.3 0.3 6.4 0.3 6.4 0.2 6.4 0.3 6.4 0.3 6.3 0.3 6.4 0.3 6.4 0.4 6.4 0.3 6.3 0.4 6.4 0.4 6.4 0.4 6.4 0.4 6.4 0.5 6.3 0.5 6.4 0.6 6.4 0.6 7.2 0.8 5.6 0.6" fill="none" stroke="#8A1AA0" stroke-width="3.3" stroke-linejoin="round"/>
<path d="M792.7 32l4.8 4.8l-4.8 4.8l-4.8 -4.8zM805.5 32.4l4.8 4.8l-4.8 4.8l-4.8 -4.8zM818.2 32.9l4.8 4.8l-4.8 4.8l-4.8 -4.8zM831 33.3l4.8 4.8l-4.8 4.8l-4.8 -4.8zM843.7 33.7l4.8 4.8l-4.8 4.8l-4.8 -4.8zM856.5 34.2l4.8 4.8l-4.8 4.8l-4.8 -4.8zM869.3 34.6l4.8 4.8l-4.8 4.8l-4.8 -4.8zM882 35l4.8 4.8l-4.8 4.8l-4.8 -4.8zM894.8 35.5l4.8 4.8l-4.8 4.8l-4.8 -4.8zM907.5 35.9l4.8 4.8l-4.8 4.8l-4.8 -4.8zM920.3 36.3l4.8 4.8l-4.8 4.8l-4.8 -4.8zM933.1 36.8l4.8 4.8l-4.8 4.8l-4.8 -4.8zM945.8 37.2l4.8 4.8l-4.8 4.8l-4.8 -4.8zM958.6 37.6l4.8 4.8l-4.8 4.8l-4.8 -4.8zM971.3 38.1l4.8 4.8l-4.8 4.8l-4.8 -4.8zM984.1 38.5l4.8 4.8l-4.8 4.8l-4.8 -4.8zM996.8 38.9l4.8 4.8l-4.8 4.8l-4.8 -4.8zM1009.6 39.4l4.8 4.8l-4.8 4.8l-4.8 -4.8zM1022.4 39.8l4.8 4.8l-4.8 4.8l-4.8 -4.8zM1035.1 40.3l4.8 4.8l-4.8 4.8l-4.8 -4.8zM1047.9 40.7l4.8 4.8l-4.8 4.8l-4.8 -4.8zM1060.6 41.1l4.8 4.8l-4.8 4.8l-4.8 -4.8zM1073.4 41.6l4.8 4.8l-4.8 4.8l-4.8 -4.8zM1086.2 42l4.8 4.8l-4.8 4.8l-4.8 -4.8zM1098.9 42.4l4.8 4.8l-4.8 4.8l-4.8 -4.8zM1111.7 42.9l4.8 4.8l-4.8 4.8l-4.8 -4.8zM1124.4 43.3l4.8 4.8l-4.8 4.8l-4.8 -4.8zM1137.2 43.8l4.8 4.8l-4.8 4.8l-4.8 -4.8zM1149.9 44.2l4.8 4.8l-4.8 4.8l-4.8 -4.8zM1162.7 44.7l4.8 4.8l-4.8 4.8l-4.8 -4.8zM1175.5 45.2l4.8 4.8l-4.8 4.8l-4.8 -4.8zM1188.2 45.7l4.8 4.8l-4.8 4.8l-4.8 -4.8zM1201 46.2l4.8 4.8l-4.8 4.8l-4.8 -4.8zM1213.7 46.7l4.8 4.8l-4.8 4.8l-4.8 -4.8zM1226.5 47.2l4.8 4.8l-4.8 4.8l-4.8 -4.8zM1239.3 47.8l4.8 4.8l-4.8 4.8l-4.8 -4.8zM1252 48.4l4.8 4.8l-4.8 4.8l-4.8 -4.8zM1264.8 49.1l4.8 4.8l-4.8 4.8l-4.8 -4.8zM1277.5 49.9l4.8 4.8l-4.8 4.8l-4.8 -4.8zM1290.3 50.7l4.8 4.8l-4.8 4.8l-4.8 -4.8zM1303 51.7l4.8 4.8l-4.8 4.8l-4.8 -4.8zM1315.8 52.9l4.8 4.8l-4.8 4.8l-4.8 -4.8zM1328.6 54.3l4.8 4.8l-4.8 4.8l-4.8 -4.8z" fill="#8A1AA0"/>
<path d="M792.7 39.7l5.6 0.1 7.2 0.1 6.4 0.1 6.3 0.1 6.4 0.2 6.4 0.1 6.4 0.1 6.3 0.1 6.4 0.2 6.4 0.1 6.4 0.1 6.4 0.1 6.3 0.1 6.4 0.2 6.4 0.1 6.4 0.1 6.4 0.1 6.3 0.1 6.4 0.2 6.4 0.1 6.4 0.1 6.4 0.1 6.3 0.2 6.4 0.1 6.4 0.1 6.4 0.1 6.4 0.1 6.3 0.2 6.4 0.1 6.4 0.1 6.4 0.1 6.3 0.2 6.4 0.1 6.4 0.1 6.4 0.1 6.4 0.1 6.3 0.2 6.4 0.1 6.4 0.1 6.4 0.1 6.4 0.2 6.3 0.1 6.4 0.1 6.4 0.1 6.4 0.2 6.4 0.1 6.3 0.1 6.4 0.1 6.4 0.2 6.4 0.1 6.3 0.1 6.4 0.2 6.4 0.1 6.4 0.1 6.4 0.2 6.3 0.1 6.4 0.1 6.4 0.2 6.4 0.1 6.4 0.2 6.3 0.1 6.4 0.2 6.4 0.2 6.4 0.1 6.4 0.2 6.3 0.2 6.4 0.2 6.4 0.2 6.4 0.2 6.4 0.3 6.3 0.2 6.4 0.3 6.4 0.3 6.4 0.3 6.3 0.4 6.4 0.4 6.4 0.4 6.4 0.5 6.4 0.5 6.3 0.6 6.4 0.6 6.4 0.7 7.2 1 5.6 0.8" fill="none" stroke="#A8A8A8" stroke-width="3.3" stroke-linejoin="round"/>
<path d="M788.7 39.7a4 4 0 1 0 8 0a4 4 0 1 0 -8 0M801.5 39.9a4 4 0 1 0 8 0a4 4 0 1 0 -8 0M814.2 40.1a4 4 0 1 0 8 0a4 4 0 1 0 -8 0M827 40.4a4 4 0 1 0 8 0a4 4 0 1 0 -8 0M839.7 40.6a4 4 0 1 0 8 0a4 4 0 1 0 -8 0M852.5 40.9a4 4 0 1 0 8 0a4 4 0 1 0 -8 0M865.3 41.1a4 4 0 1 0 8 0a4 4 0 1 0 -8 0M878 41.4a4 4 0 1 0 8 0a4 4 0 1 0 -8 0M890.8 41.6a4 4 0 1 0 8 0a4 4 0 1 0 -8 0M903.5 41.8a4 4 0 1 0 8 0a4 4 0 1 0 -8 0M916.3 42.1a4 4 0 1 0 8 0a4 4 0 1 0 -8 0M929.1 42.3a4 4 0 1 0 8 0a4 4 0 1 0 -8 0M941.8 42.6a4 4 0 1 0 8 0a4 4 0 1 0 -8 0M954.6 42.8a4 4 0 1 0 8 0a4 4 0 1 0 -8 0M967.3 43.1a4 4 0 1 0 8 0a4 4 0 1 0 -8 0M980.1 43.3a4 4 0 1 0 8 0a4 4 0 1 0 -8 0M992.8 43.6a4 4 0 1 0 8 0a4 4 0 1 0 -8 0M1005.6 43.8a4 4 0 1 0 8 0a4 4 0 1 0 -8 0M1018.4 44a4 4 0 1 0 8 0a4 4 0 1 0 -8 0M1031.1 44.3a4 4 0 1 0 8 0a4 4 0 1 0 -8 0M1043.9 44.5a4 4 0 1 0 8 0a4 4 0 1 0 -8 0M1056.6 44.8a4 4 0 1 0 8 0a4 4 0 1 0 -8 0M1069.4 45a4 4 0 1 0 8 0a4 4 0 1 0 -8 0M1082.2 45.3a4 4 0 1 0 8 0a4 4 0 1 0 -8 0M1094.9 45.5a4 4 0 1 0 8 0a4 4 0 1 0 -8 0M1107.7 45.8a4 4 0 1 0 8 0a4 4 0 1 0 -8 0M1120.4 46.1a4 4 0 1 0 8 0a4 4 0 1 0 -8 0M1133.2 46.3a4 4 0 1 0 8 0a4 4 0 1 0 -8 0M1145.9 46.6a4 4 0 1 0 8 0a4 4 0 1 0 -8 0M1158.7 46.9a4 4 0 1 0 8 0a4 4 0 1 0 -8 0M1171.5 47.2a4 4 0 1 0 8 0a4 4 0 1 0 -8 0M1184.2 47.5a4 4 0 1 0 8 0a4 4 0 1 0 -8 0M1197 47.8a4 4 0 1 0 8 0a4 4 0 1 0 -8 0M1209.7 48.2a4 4 0 1 0 8 0a4 4 0 1 0 -8 0M1222.5 48.6a4 4 0 1 0 8 0a4 4 0 1 0 -8 0M1235.3 49.1a4 4 0 1 0 8 0a4 4 0 1 0 -8 0M1248 49.6a4 4 0 1 0 8 0a4 4 0 1 0 -8 0M1260.8 50.2a4 4 0 1 0 8 0a4 4 0 1 0 -8 0M1273.5 51a4 4 0 1 0 8 0a4 4 0 1 0 -8 0M1286.3 51.9a4 4 0 1 0 8 0a4 4 0 1 0 -8 0M1299 53a4 4 0 1 0 8 0a4 4 0 1 0 -8 0M1311.8 54.3a4 4 0 1 0 8 0a4 4 0 1 0 -8 0M1324.6 56.1a4 4 0 1 0 8 0a4 4 0 1 0 -8 0" fill="#A8A8A8"/>
<path d="M792.7 37.5l5.6 0.1 7.2 0.2 6.4 0.2 6.3 0.2 6.4 0.1 6.4 0.2 6.4 0.1 6.3 0.2 6.4 0.2 6.4 0.1 6.4 0.2 6.4 0.2 6.3 0.1 6.4 0.2 6.4 0.1 6.4 0.2 6.4 0.2 6.3 0.1 6.4 0.2 6.4 0.2 6.4 0.1 6.4 0.2 6.3 0.2 6.4 0.1 6.4 0.2 6.4 0.1 6.4 0.2 6.3 0.2 6.4 0.1 6.4 0.2 6.4 0.2 6.3 0.1 6.4 0.2 6.4 0.1 6.4 0.2 6.4 0.2 6.3 0.1 6.4 0.2 6.4 0.2 6.4 0.1 6.4 0.2 6.3 0.2 6.4 0.1 6.4 0.2 6.4 0.2 6.4 0.1 6.3 0.2 6.4 0.2 6.4 0.1 6.4 0.2 6.3 0.2 6.4 0.2 6.4 0.1 6.4 0.2 6.4 0.2 6.3 0.2 6.4 0.2 6.4 0.2 6.4 0.2 6.4 0.2 6.3 0.2 6.4 0.2 6.4 0.2 6.4 0.3 6.4 0.2 6.3 0.3 6.4 0.3 6.4 0.2 6.4 0.3 6.4 0.4 6.3 0.3 6.4 0.4 6.4 0.4 6.4 0.5 6.3 0.5 6.4 0.5 6.4 0.6 6.4 0.7 6.4 0.8 6.3 0.8 6.4 0.9 6.4 1.1 7.2 1.3 5.6 1.1" fill="none" stroke="#0A3C7C" stroke-width="3.3" stroke-linejoin="round"/>
<path d="M788.7 37.5h8M792.7 33.5v8M801.5 37.8h8M805.5 33.8v8M814.2 38.2h8M818.2 34.2v8M827 38.5h8M831 34.5v8M839.7 38.8h8M843.7 34.8v8M852.5 39.1h8M856.5 35.1v8M865.3 39.5h8M869.3 35.5v8M878 39.8h8M882 35.8v8M890.8 40.1h8M894.8 36.1v8M903.5 40.4h8M907.5 36.4v8M916.3 40.8h8M920.3 36.8v8M929.1 41.1h8M933.1 37.1v8M941.8 41.4h8M945.8 37.4v8M954.6 41.7h8M958.6 37.7v8M967.3 42.1h8M971.3 38.1v8M980.1 42.4h8M984.1 38.4v8M992.8 42.7h8M996.8 38.7v8M1005.6 43h8M1009.6 39v8M1018.4 43.4h8M1022.4 39.4v8M1031.1 43.7h8M1035.1 39.7v8M1043.9 44h8M1047.9 40v8M1056.6 44.4h8M1060.6 40.4v8M1069.4 44.7h8M1073.4 40.7v8M1082.2 45h8M1086.2 41v8M1094.9 45.4h8M1098.9 41.4v8M1107.7 45.7h8M1111.7 41.7v8M1120.4 46.1h8M1124.4 42.1v8M1133.2 46.4h8M1137.2 42.4v8M1145.9 46.8h8M1149.9 42.8v8M1158.7 47.2h8M1162.7 43.2v8M1171.5 47.6h8M1175.5 43.6v8M1184.2 48h8M1188.2 44v8M1197 48.5h8M1201 44.5v8M1209.7 49h8M1213.7 45v8M1222.5 49.5h8M1226.5 45.5v8M1235.3 50.2h8M1239.3 46.2v8M1248 50.9h8M1252 46.9v8M1260.8 51.8h8M1264.8 47.8v8M1273.5 52.8h8M1277.5 48.8v8M1286.3 54.1h8M1290.3 50.1v8M1299 55.7h8M1303 51.7v8M1311.8 57.7h8M1315.8 53.7v8M1324.6 60.1h8M1328.6 56.1v8" stroke="#0A3C7C" stroke-width="1.4" fill="none"/>
<path d="M792.7 40.4l5.6 0.1 7.2 0.3 6.4 0.2 6.3 0.2 6.4 0.2 6.4 0.2 6.4 0.2 6.3 0.2 6.4 0.2 6.4 0.2 6.4 0.2 6.4 0.2 6.3 0.2 6.4 0.2 6.4 0.2 6.4 0.2 6.4 0.2 6.3 0.2 6.4 0.2 6.4 0.2 6.4 0.2 6.4 0.2 6.3 0.2 6.4 0.2 6.4 0.3 6.4 0.2 6.4 0.2 6.3 0.2 6.4 0.2 6.4 0.2 6.4 0.2 6.3 0.2 6.4 0.2 6.4 0.2 6.4 0.2 6.4 0.2 6.3 0.2 6.4 0.2 6.4 0.2 6.4 0.2 6.4 0.2 6.3 0.2 6.4 0.3 6.4 0.2 6.4 0.2 6.4 0.2 6.3 0.2 6.4 0.2 6.4 0.2 6.4 0.2 6.3 0.3 6.4 0.2 6.4 0.2 6.4 0.2 6.4 0.3 6.3 0.2 6.4 0.2 6.4 0.3 6.4 0.2 6.4 0.3 6.3 0.3 6.4 0.2 6.4 0.3 6.4 0.3 6.4 0.3 6.3 0.4 6.4 0.3 6.4 0.4 6.4 0.4 6.4 0.4 6.3 0.5 6.4 0.5 6.4 0.5 6.4 0.6 6.3 0.7 6.4 0.7 6.4 0.8 6.4 0.9 6.4 1 6.3 1.2 6.4 1.2 6.4 1.4 7.2 1.9 5.6 1.5" fill="none" stroke="#33A070" stroke-width="3.3" stroke-linejoin="round"/>
<path d="M788.7 40.4a4 4 0 1 0 8 0a4 4 0 1 0 -8 0M801.5 40.8a4 4 0 1 0 8 0a4 4 0 1 0 -8 0M814.2 41.2a4 4 0 1 0 8 0a4 4 0 1 0 -8 0M827 41.6a4 4 0 1 0 8 0a4 4 0 1 0 -8 0M839.7 42a4 4 0 1 0 8 0a4 4 0 1 0 -8 0M852.5 42.4a4 4 0 1 0 8 0a4 4 0 1 0 -8 0M865.3 42.8a4 4 0 1 0 8 0a4 4 0 1 0 -8 0M878 43.2a4 4 0 1 0 8 0a4 4 0 1 0 -8 0M890.8 43.6a4 4 0 1 0 8 0a4 4 0 1 0 -8 0M903.5 44a4 4 0 1 0 8 0a4 4 0 1 0 -8 0M916.3 44.4a4 4 0 1 0 8 0a4 4 0 1 0 -8 0M929.1 44.8a4 4 0 1 0 8 0a4 4 0 1 0 -8 0M941.8 45.2a4 4 0 1 0 8 0a4 4 0 1 0 -8 0M954.6 45.7a4 4 0 1 0 8 0a4 4 0 1 0 -8 0M967.3 46.1a4 4 0 1 0 8 0a4 4 0 1 0 -8 0M980.1 46.5a4 4 0 1 0 8 0a4 4 0 1 0 -8 0M992.8 46.9a4 4 0 1 0 8 0a4 4 0 1 0 -8 0M1005.6 47.3a4 4 0 1 0 8 0a4 4 0 1 0 -8 0M1018.4 47.7a4 4 0 1 0 8 0a4 4 0 1 0 -8 0M1031.1 48.1a4 4 0 1 0 8 0a4 4 0 1 0 -8 0M1043.9 48.5a4 4 0 1 0 8 0a4 4 0 1 0 -8 0M1056.6 48.9a4 4 0 1 0 8 0a4 4 0 1 0 -8 0M1069.4 49.4a4 4 0 1 0 8 0a4 4 0 1 0 -8 0M1082.2 49.8a4 4 0 1 0 8 0a4 4 0 1 0 -8 0M1094.9 50.2a4 4 0 1 0 8 0a4 4 0 1 0 -8 0M1107.7 50.6a4 4 0 1 0 8 0a4 4 0 1 0 -8 0M1120.4 51.1a4 4 0 1 0 8 0a4 4 0 1 0 -8 0M1133.2 51.5a4 4 0 1 0 8 0a4 4 0 1 0 -8 0M1145.9 52a4 4 0 1 0 8 0a4 4 0 1 0 -8 0M1158.7 52.5a4 4 0 1 0 8 0a4 4 0 1 0 -8 0M1171.5 53a4 4 0 1 0 8 0a4 4 0 1 0 -8 0M1184.2 53.5a4 4 0 1 0 8 0a4 4 0 1 0 -8 0M1197 54.1a4 4 0 1 0 8 0a4 4 0 1 0 -8 0M1209.7 54.8a4 4 0 1 0 8 0a4 4 0 1 0 -8 0M1222.5 55.5a4 4 0 1 0 8 0a4 4 0 1 0 -8 0M1235.3 56.3a4 4 0 1 0 8 0a4 4 0 1 0 -8 0M1248 57.3a4 4 0 1 0 8 0a4 4 0 1 0 -8 0M1260.8 58.4a4 4 0 1 0 8 0a4 4 0 1 0 -8 0M1273.5 59.8a4 4 0 1 0 8 0a4 4 0 1 0 -8 0M1286.3 61.5a4 4 0 1 0 8 0a4 4 0 1 0 -8 0M1299 63.7a4 4 0 1 0 8 0a4 4 0 1 0 -8 0M1311.8 66.3a4 4 0 1 0 8 0a4 4 0 1 0 -8 0M1324.6 69.7a4 4 0 1 0 8 0a4 4 0 1 0 -8 0" fill="#33A070"/>
<path d="M792.7 38.2l5.6 0.2 7.2 0.3 6.4 0.2 6.3 0.3 6.4 0.2 6.4 0.3 6.4 0.2 6.3 0.3 6.4 0.2 6.4 0.3 6.4 0.2 6.4 0.2 6.3 0.3 6.4 0.2 6.4 0.3 6.4 0.2 6.4 0.3 6.3 0.2 6.4 0.3 6.4 0.2 6.4 0.2 6.4 0.3 6.3 0.2 6.4 0.3 6.4 0.2 6.4 0.3 6.4 0.2 6.3 0.3 6.4 0.2 6.4 0.3 6.4 0.2 6.3 0.2 6.4 0.3 6.4 0.2 6.4 0.3 6.4 0.2 6.3 0.3 6.4 0.2 6.4 0.3 6.4 0.2 6.4 0.3 6.3 0.2 6.4 0.3 6.4 0.2 6.4 0.3 6.4 0.2 6.3 0.3 6.4 0.2 6.4 0.3 6.4 0.3 6.3 0.2 6.4 0.3 6.4 0.3 6.4 0.2 6.4 0.3 6.3 0.3 6.4 0.3 6.4 0.3 6.4 0.3 6.4 0.3 6.3 0.3 6.4 0.4 6.4 0.3 6.4 0.4 6.4 0.4 6.3 0.4 6.4 0.4 6.4 0.5 6.4 0.5 6.4 0.5 6.3 0.6 6.4 0.7 6.4 0.7 6.4 0.7 6.3 0.9 6.4 0.9 6.4 1 6.4 1.2 6.4 1.3 6.3 1.5 6.4 1.6 6.4 1.9 7.2 2.4 5.6 2" fill="none" stroke="#FF00FF" stroke-width="3.3" stroke-linejoin="round"/>
<path d="M788.7 38.2h8M801.5 38.7h8M814.2 39.2h8M827 39.7h8M839.7 40.2h8M852.5 40.7h8M865.3 41.1h8M878 41.6h8M890.8 42.1h8M903.5 42.6h8M916.3 43.1h8M929.1 43.6h8M941.8 44.1h8M954.6 44.6h8M967.3 45.1h8M980.1 45.6h8M992.8 46h8M1005.6 46.5h8M1018.4 47h8M1031.1 47.5h8M1043.9 48h8M1056.6 48.5h8M1069.4 49h8M1082.2 49.5h8M1094.9 50h8M1107.7 50.6h8M1120.4 51.1h8M1133.2 51.6h8M1145.9 52.2h8M1158.7 52.8h8M1171.5 53.4h8M1184.2 54.1h8M1197 54.8h8M1209.7 55.6h8M1222.5 56.5h8M1235.3 57.5h8M1248 58.8h8M1260.8 60.2h8M1273.5 62h8M1286.3 64.2h8M1299 67h8M1311.8 70.5h8M1324.6 74.9h8" stroke="#FF00FF" stroke-width="1.4" fill="none"/>
<path d="M792.7 41.1l5.6 0.1 7.2 0.2 6.4 0.1 6.3 0.2 6.4 0.1 6.4 0.2 6.4 0.1 6.3 0.2 6.4 0.1 6.4 0.2 6.4 0.1 6.4 0.2 6.3 0.1 6.4 0.2 6.4 0.1 6.4 0.2 6.4 0.1 6.3 0.2 6.4 0.1 6.4 0.2 6.4 0.1 6.4 0.2 6.3 0.1 6.4 0.2 6.4 0.1 6.4 0.2 6.4 0.1 6.3 0.2 6.4 0.1 6.4 0.2 6.4 0.1 6.3 0.2 6.4 0.1 6.4 0.2 6.4 0.1 6.4 0.2 6.3 0.1 6.4 0.2 6.4 0.1 6.4 0.2 6.4 0.1 6.3 0.2 6.4 0.1 6.4 0.2 6.4 0.2 6.4 0.1 6.3 0.2 6.4 0.1 6.4 0.2 6.4 0.2 6.3 0.2 6.4 0.1 6.4 0.2 6.4 0.2 6.4 0.2 6.3 0.2 6.4 0.2 6.4 0.2 6.4 0.2 6.4 0.3 6.3 0.2 6.4 0.3 6.4 0.3 6.4 0.3 6.4 0.3 6.3 0.4 6.4 0.4 6.4 0.4 6.4 0.5 6.4 0.6 6.3 0.6 6.4 0.6 6.4 0.8 6.4 0.8 6.3 1 6.4 1.1 6.4 1.2 6.4 1.4 6.4 1.6 6.3 1.8 6.4 2 6.4 2.3 7.2 3.2 5.6 2.5" fill="none" stroke="#3C3C00" stroke-width="3.3" stroke-linejoin="round"/>
<path d="M792.7 36.3l4.8 4.8l-4.8 4.8l-4.8 -4.8zM805.5 36.6l4.8 4.8l-4.8 4.8l-4.8 -4.8zM818.2 36.9l4.8 4.8l-4.8 4.8l-4.8 -4.8zM831 37.2l4.8 4.8l-4.8 4.8l-4.8 -4.8zM843.7 37.5l4.8 4.8l-4.8 4.8l-4.8 -4.8zM856.5 37.8l4.8 4.8l-4.8 4.8l-4.8 -4.8zM869.3 38.1l4.8 4.8l-4.8 4.8l-4.8 -4.8zM882 38.4l4.8 4.8l-4.8 4.8l-4.8 -4.8zM894.8 38.7l4.8 4.8l-4.8 4.8l-4.8 -4.8zM907.5 39l4.8 4.8l-4.8 4.8l-4.8 -4.8zM920.3 39.3l4.8 4.8l-4.8 4.8l-4.8 -4.8zM933.1 39.6l4.8 4.8l-4.8 4.8l-4.8 -4.8zM945.8 39.9l4.8 4.8l-4.8 4.8l-4.8 -4.8zM958.6 40.2l4.8 4.8l-4.8 4.8l-4.8 -4.8zM971.3 40.5l4.8 4.8l-4.8 4.8l-4.8 -4.8zM984.1 40.8l4.8 4.8l-4.8 4.8l-4.8 -4.8zM996.8 41.1l4.8 4.8l-4.8 4.8l-4.8 -4.8zM1009.6 41.4l4.8 4.8l-4.8 4.8l-4.8 -4.8zM1022.4 41.7l4.8 4.8l-4.8 4.8l-4.8 -4.8zM1035.1 42l4.8 4.8l-4.8 4.8l-4.8 -4.8zM1047.9 42.3l4.8 4.8l-4.8 4.8l-4.8 -4.8zM1060.6 42.6l4.8 4.8l-4.8 4.8l-4.8 -4.8zM1073.4 42.9l4.8 4.8l-4.8 4.8l-4.8 -4.8zM1086.2 43.2l4.8 4.8l-4.8 4.8l-4.8 -4.8zM1098.9 43.5l4.8 4.8l-4.8 4.8l-4.8 -4.8zM1111.7 43.9l4.8 4.8l-4.8 4.8l-4.8 -4.8zM1124.4 44.2l4.8 4.8l-4.8 4.8l-4.8 -4.8zM1137.2 44.6l4.8 4.8l-4.8 4.8l-4.8 -4.8zM1149.9 45l4.8 4.8l-4.8 4.8l-4.8 -4.8zM1162.7 45.4l4.8 4.8l-4.8 4.8l-4.8 -4.8zM1175.5 45.9l4.8 4.8l-4.8 4.8l-4.8 -4.8zM1188.2 46.4l4.8 4.8l-4.8 4.8l-4.8 -4.8zM1201 47l4.8 4.8l-4.8 4.8l-4.8 -4.8zM1213.7 47.7l4.8 4.8l-4.8 4.8l-4.8 -4.8zM1226.5 48.5l4.8 4.8l-4.8 4.8l-4.8 -4.8zM1239.3 49.6l4.8 4.8l-4.8 4.8l-4.8 -4.8zM1252 50.8l4.8 4.8l-4.8 4.8l-4.8 -4.8zM1264.8 52.4l4.8 4.8l-4.8 4.8l-4.8 -4.8zM1277.5 54.5l4.8 4.8l-4.8 4.8l-4.8 -4.8zM1290.3 57.1l4.8 4.8l-4.8 4.8l-4.8 -4.8zM1303 60.5l4.8 4.8l-4.8 4.8l-4.8 -4.8zM1315.8 64.8l4.8 4.8l-4.8 4.8l-4.8 -4.8zM1328.6 70.5l4.8 4.8l-4.8 4.8l-4.8 -4.8z" fill="#3C3C00"/>
<path d="M792.7 38.9l5.6 0.2 7.2 0.2 6.4 0.2 6.3 0.2 6.4 0.2 6.4 0.2 6.4 0.2 6.3 0.2 6.4 0.1 6.4 0.2 6.4 0.2 6.4 0.2 6.3 0.2 6.4 0.2 6.4 0.2 6.4 0.2 6.4 0.2 6.3 0.2 6.4 0.1 6.4 0.2 6.4 0.2 6.4 0.2 6.3 0.2 6.4 0.2 6.4 0.2 6.4 0.2 6.4 0.2 6.3 0.2 6.4 0.1 6.4 0.2 6.4 0.2 6.3 0.2 6.4 0.2 6.4 0.2 6.4 0.2 6.4 0.2 6.3 0.2 6.4 0.2 6.4 0.2 6.4 0.2 6.4 0.2 6.3 0.2 6.4 0.2 6.4 0.2 6.4 0.2 6.4 0.2 6.3 0.2 6.4 0.2 6.4 0.2 6.4 0.2 6.3 0.2 6.4 0.3 6.4 0.2 6.4 0.2 6.4 0.3 6.3 0.2 6.4 0.3 6.4 0.3 6.4 0.2 6.4 0.3 6.3 0.4 6.4 0.3 6.4 0.4 6.4 0.4 6.4 0.4 6.3 0.5 6.4 0.5 6.4 0.5 6.4 0.7 6.4 0.7 6.3 0.7 6.4 0.9 6.4 1 6.4 1.1 6.3 1.2 6.4 1.4 6.4 1.6 6.4 1.8 6.4 2.1 6.3 2.3 6.4 2.7 6.4 3 7.2 4 5.6 3.4" fill="none" stroke="#A0461E" stroke-width="3.3" stroke-linejoin="round"/>
<path d="M788.7 34.9h8v8h-8zM801.5 35.3h8v8h-8zM814.2 35.7h8v8h-8zM827 36.1h8v8h-8zM839.7 36.5h8v8h-8zM852.5 36.8h8v8h-8zM865.3 37.2h8v8h-8zM878 37.6h8v8h-8zM890.8 38h8v8h-8zM903.5 38.4h8v8h-8zM916.3 38.7h8v8h-8zM929.1 39.1h8v8h-8zM941.8 39.5h8v8h-8zM954.6 39.9h8v8h-8zM967.3 40.3h8v8h-8zM980.1 40.6h8v8h-8zM992.8 41h8v8h-8zM1005.6 41.4h8v8h-8zM1018.4 41.8h8v8h-8zM1031.1 42.2h8v8h-8zM1043.9 42.6h8v8h-8zM1056.6 43h8v8h-8zM1069.4 43.4h8v8h-8zM1082.2 43.8h8v8h-8zM1094.9 44.2h8v8h-8zM1107.7 44.6h8v8h-8zM1120.4 45.1h8v8h-8zM1133.2 45.5h8v8h-8zM1145.9 46h8v8h-8zM1158.7 46.6h8v8h-8zM1171.5 47.1h8v8h-8zM1184.2 47.8h8v8h-8zM1197 48.6h8v8h-8zM1209.7 49.5h8v8h-8zM1222.5 50.5h8v8h-8zM1235.3 51.9h8v8h-8zM1248 53.5h8v8h-8zM1260.8 55.6h8v8h-8zM1273.5 58.2h8v8h-8zM1286.3 61.6h8v8h-8zM1299 66h8v8h-8zM1311.8 71.7h8v8h-8zM1324.6 79.1h8v8h-8z" fill="#A0461E"/>
<path d="M792.7 36.8l5.6 0.2 7.2 0.2 6.4 0.3 6.3 0.2 6.4 0.2 6.4 0.3 6.4 0.2 6.3 0.2 6.4 0.3 6.4 0.2 6.4 0.2 6.4 0.3 6.3 0.2 6.4 0.2 6.4 0.2 6.4 0.3 6.4 0.2 6.3 0.2 6.4 0.3 6.4 0.2 6.4 0.2 6.4 0.3 6.3 0.2 6.4 0.2 6.4 0.3 6.4 0.2 6.4 0.2 6.3 0.3 6.4 0.2 6.4 0.2 6.4 0.3 6.3 0.2 6.4 0.2 6.4 0.3 6.4 0.2 6.4 0.2 6.3 0.3 6.4 0.2 6.4 0.2 6.4 0.3 6.4 0.2 6.3 0.3 6.4 0.2 6.4 0.3 6.4 0.2 6.4 0.3 6.3 0.2 6.4 0.3 6.4 0.2 6.4 0.3 6.3 0.3 6.4 0.3 6.4 0.3 6.4 0.3 6.4 0.3 6.3 0.3 6.4 0.3 6.4 0.4 6.4 0.4 6.4 0.4 6.3 0.4 6.4 0.5 6.4 0.5 6.4 0.6 6.4 0.6 6.3 0.6 6.4 0.8 6.4 0.8 6.4 0.9 6.4 1.1 6.3 1.1 6.4 1.3 6.4 1.5 6.4 1.7 6.3 1.9 6.4 2.2 6.4 2.4 6.4 2.8 6.4 3.3 6.3 3.6 6.4 4.2 6.4 4.7 7.2 6.2 5.6 5.2" fill="none" stroke="#A3447A" stroke-width="3.3" stroke-linejoin="round"/>
<path d="M792.7 32.4l4 7.6h-8zM805.5 32.8l4 7.6h-8zM818.2 33.3l4 7.6h-8zM831 33.8l4 7.6h-8zM843.7 34.2l4 7.6h-8zM856.5 34.7l4 7.6h-8zM869.3 35.2l4 7.6h-8zM882 35.6l4 7.6h-8zM894.8 36.1l4 7.6h-8zM907.5 36.5l4 7.6h-8zM920.3 37l4 7.6h-8zM933.1 37.5l4 7.6h-8zM945.8 37.9l4 7.6h-8zM958.6 38.4l4 7.6h-8zM971.3 38.9l4 7.6h-8zM984.1 39.3l4 7.6h-8zM996.8 39.8l4 7.6h-8zM1009.6 40.3l4 7.6h-8zM1022.4 40.7l4 7.6h-8zM1035.1 41.2l4 7.6h-8zM1047.9 41.7l4 7.6h-8zM1060.6 42.2l4 7.6h-8zM1073.4 42.7l4 7.6h-8zM1086.2 43.2l4 7.6h-8zM1098.9 43.7l4 7.6h-8zM1111.7 44.2l4 7.6h-8zM1124.4 44.8l4 7.6h-8zM1137.2 45.4l4 7.6h-8zM1149.9 46l4 7.6h-8zM1162.7 46.7l4 7.6h-8zM1175.5 47.5l4 7.6h-8zM1188.2 48.4l4 7.6h-8zM1201 49.5l4 7.6h-8zM1213.7 50.7l4 7.6h-8zM1226.5 52.3l4 7.6h-8zM1239.3 54.3l4 7.6h-8zM1252 56.7l4 7.6h-8zM1264.8 59.9l4 7.6h-8zM1277.5 64l4 7.6h-8zM1290.3 69.2l4 7.6h-8zM1303 76.1l4 7.6h-8zM1315.8 85l4 7.6h-8zM1328.6 96.4l4 7.6h-8z" fill="#A3447A"/>
<path d="M792.7 39.7l5.6 0.1 7.2 0.1 6.4 0.2 6.3 0.1 6.4 0.1 6.4 0.2 6.4 0.1 6.3 0.1 6.4 0.2 6.4 0.1 6.4 0.1 6.4 0.2 6.3 0.1 6.4 0.2 6.4 0.1 6.4 0.1 6.4 0.2 6.3 0.1 6.4 0.1 6.4 0.2 6.4 0.1 6.4 0.1 6.3 0.2 6.4 0.1 6.4 0.1 6.4 0.2 6.4 0.1 6.3 0.2 6.4 0.1 6.4 0.1 6.4 0.2 6.3 0.1 6.4 0.1 6.4 0.2 6.4 0.1 6.4 0.2 6.3 0.1 6.4 0.2 6.4 0.1 6.4 0.2 6.4 0.1 6.3 0.2 6.4 0.1 6.4 0.2 6.4 0.1 6.4 0.2 6.3 0.2 6.4 0.1 6.4 0.2 6.4 0.2 6.3 0.2 6.4 0.2 6.4 0.3 6.4 0.2 6.4 0.3 6.3 0.2 6.4 0.3 6.4 0.4 6.4 0.3 6.4 0.4 6.3 0.5 6.4 0.5 6.4 0.6 6.4 0.6 6.4 0.7 6.3 0.8 6.4 0.9 6.4 1.1 6.4 1.2 6.4 1.4 6.3 1.5 6.4 1.9 6.4 2 6.4 2.4 6.3 2.8 6.4 3.1 6.4 3.6 6.4 4.2 6.4 4.7 6.3 5.4 6.4 6.1 6.4 6.9 7.2 9.2 5.6 7.5" fill="none" stroke="#4040A8" stroke-width="3.3" stroke-linejoin="round"/>
<path d="M788.7 35.7l8 8m0 -8l-8 8M801.5 35.9l8 8m0 -8l-8 8M814.2 36.2l8 8m0 -8l-8 8M827 36.5l8 8m0 -8l-8 8M839.7 36.7l8 8m0 -8l-8 8M852.5 37l8 8m0 -8l-8 8M865.3 37.3l8 8m0 -8l-8 8M878 37.6l8 8m0 -8l-8 8M890.8 37.8l8 8m0 -8l-8 8M903.5 38.1l8 8m0 -8l-8 8M916.3 38.4l8 8m0 -8l-8 8M929.1 38.6l8 8m0 -8l-8 8M941.8 38.9l8 8m0 -8l-8 8M954.6 39.2l8 8m0 -8l-8 8M967.3 39.5l8 8m0 -8l-8 8M980.1 39.7l8 8m0 -8l-8 8M992.8 40l8 8m0 -8l-8 8M1005.6 40.3l8 8m0 -8l-8 8M1018.4 40.6l8 8m0 -8l-8 8M1031.1 40.9l8 8m0 -8l-8 8M1043.9 41.2l8 8m0 -8l-8 8M1056.6 41.5l8 8m0 -8l-8 8M1069.4 41.8l8 8m0 -8l-8 8M1082.2 42.1l8 8m0 -8l-8 8M1094.9 42.4l8 8m0 -8l-8 8M1107.7 42.8l8 8m0 -8l-8 8M1120.4 43.2l8 8m0 -8l-8 8M1133.2 43.7l8 8m0 -8l-8 8M1145.9 44.2l8 8m0 -8l-8 8M1158.7 44.9l8 8m0 -8l-8 8M1171.5 45.6l8 8m0 -8l-8 8M1184.2 46.6l8 8m0 -8l-8 8M1197 47.8l8 8m0 -8l-8 8M1209.7 49.3l8 8m0 -8l-8 8M1222.5 51.3l8 8m0 -8l-8 8M1235.3 53.9l8 8m0 -8l-8 8M1248 57.3l8 8m0 -8l-8 8M1260.8 61.7l8 8m0 -8l-8 8M1273.5 67.6l8 8m0 -8l-8 8M1286.3 75.4l8 8m0 -8l-8 8M1299 85.5l8 8m0 -8l-8 8M1311.8 98.5l8 8m0 -8l-8 8M1324.6 115.2l8 8m0 -8l-8 8" stroke="#4040A8" stroke-width="1.4" fill="none"/>
<path d="M792.7 37.5l5.6 0.2 7.2 0.2 6.4 0.1 6.3 0.2 6.4 0.2 6.4 0.2 6.4 0.1 6.3 0.2 6.4 0.2 6.4 0.2 6.4 0.1 6.4 0.2 6.3 0.2 6.4 0.2 6.4 0.2 6.4 0.1 6.4 0.2 6.3 0.2 6.4 0.2 6.4 0.1 6.4 0.2 6.4 0.2 6.3 0.2 6.4 0.1 6.4 0.2 6.4 0.2 6.4 0.2 6.3 0.2 6.4 0.1 6.4 0.2 6.4 0.2 6.3 0.2 6.4 0.2 6.4 0.1 6.4 0.2 6.4 0.2 6.3 0.2 6.4 0.2 6.4 0.2 6.4 0.2 6.4 0.2 6.3 0.2 6.4 0.2 6.4 0.2 6.4 0.2 6.4 0.2 6.3 0.2 6.4 0.3 6.4 0.2 6.4 0.3 6.3 0.3 6.4 0.2 6.4 0.4 6.4 0.3 6.4 0.3 6.3 0.4 6.4 0.5 6.4 0.4 6.4 0.5 6.4 0.6 6.3 0.7 6.4 0.7 6.4 0.8 6.4 0.9 6.4 1.1 6.3 1.2 6.4 1.3 6.4 1.6 6.4 1.8 6.4 2.1 6.3 2.3 6.4 2.7 6.4 3.2 6.4 3.5 6.3 4.1 6.4 4.7 6.4 5.4 6.4 6.1 6.4 7 6.3 7.9 6.4 8.8 6.4 9.9 7.2 12.9 5.6 10.5" fill="none" stroke="#000000" stroke-width="3.3" stroke-linejoin="round"/>
<path d="M792.7 32.7l4.8 4.8l-4.8 4.8l-4.8 -4.8zM805.5 33.1l4.8 4.8l-4.8 4.8l-4.8 -4.8zM818.2 33.4l4.8 4.8l-4.8 4.8l-4.8 -4.8zM831 33.8l4.8 4.8l-4.8 4.8l-4.8 -4.8zM843.7 34.1l4.8 4.8l-4.8 4.8l-4.8 -4.8zM856.5 34.5l4.8 4.8l-4.8 4.8l-4.8 -4.8zM869.3 34.8l4.8 4.8l-4.8 4.8l-4.8 -4.8zM882 35.2l4.8 4.8l-4.8 4.8l-4.8 -4.8zM894.8 35.5l4.8 4.8l-4.8 4.8l-4.8 -4.8zM907.5 35.9l4.8 4.8l-4.8 4.8l-4.8 -4.8zM920.3 36.2l4.8 4.8l-4.8 4.8l-4.8 -4.8zM933.1 36.6l4.8 4.8l-4.8 4.8l-4.8 -4.8zM945.8 36.9l4.8 4.8l-4.8 4.8l-4.8 -4.8zM958.6 37.3l4.8 4.8l-4.8 4.8l-4.8 -4.8zM971.3 37.7l4.8 4.8l-4.8 4.8l-4.8 -4.8zM984.1 38l4.8 4.8l-4.8 4.8l-4.8 -4.8zM996.8 38.4l4.8 4.8l-4.8 4.8l-4.8 -4.8zM1009.6 38.7l4.8 4.8l-4.8 4.8l-4.8 -4.8zM1022.4 39.1l4.8 4.8l-4.8 4.8l-4.8 -4.8zM1035.1 39.5l4.8 4.8l-4.8 4.8l-4.8 -4.8zM1047.9 39.9l4.8 4.8l-4.8 4.8l-4.8 -4.8zM1060.6 40.3l4.8 4.8l-4.8 4.8l-4.8 -4.8zM1073.4 40.7l4.8 4.8l-4.8 4.8l-4.8 -4.8zM1086.2 41.1l4.8 4.8l-4.8 4.8l-4.8 -4.8zM1098.9 41.6l4.8 4.8l-4.8 4.8l-4.8 -4.8zM1111.7 42.1l4.8 4.8l-4.8 4.8l-4.8 -4.8zM1124.4 42.6l4.8 4.8l-4.8 4.8l-4.8 -4.8zM1137.2 43.3l4.8 4.8l-4.8 4.8l-4.8 -4.8zM1149.9 44l4.8 4.8l-4.8 4.8l-4.8 -4.8zM1162.7 44.9l4.8 4.8l-4.8 4.8l-4.8 -4.8zM1175.5 46l4.8 4.8l-4.8 4.8l-4.8 -4.8zM1188.2 47.4l4.8 4.8l-4.8 4.8l-4.8 -4.8zM1201 49.1l4.8 4.8l-4.8 4.8l-4.8 -4.8zM1213.7 51.4l4.8 4.8l-4.8 4.8l-4.8 -4.8zM1226.5 54.3l4.8 4.8l-4.8 4.8l-4.8 -4.8zM1239.3 58.2l4.8 4.8l-4.8 4.8l-4.8 -4.8zM1252 63.2l4.8 4.8l-4.8 4.8l-4.8 -4.8zM1264.8 69.9l4.8 4.8l-4.8 4.8l-4.8 -4.8zM1277.5 78.7l4.8 4.8l-4.8 4.8l-4.8 -4.8zM1290.3 90.2l4.8 4.8l-4.8 4.8l-4.8 -4.8zM1303 105.1l4.8 4.8l-4.8 4.8l-4.8 -4.8zM1315.8 123.8l4.8 4.8l-4.8 4.8l-4.8 -4.8zM1328.6 147.2l4.8 4.8l-4.8 4.8l-4.8 -4.8z" fill="#000000"/>
<path d="M792.7 40.4l5.6 0.1 7.2 0.3 6.4 0.2 6.3 0.2 6.4 0.2 6.4 0.3 6.4 0.2 6.3 0.2 6.4 0.2 6.4 0.2 6.4 0.2 6.4 0.3 6.3 0.2 6.4 0.2 6.4 0.2 6.4 0.2 6.4 0.3 6.3 0.2 6.4 0.2 6.4 0.2 6.4 0.2 6.4 0.2 6.3 0.3 6.4 0.2 6.4 0.2 6.4 0.2 6.4 0.2 6.3 0.3 6.4 0.2 6.4 0.2 6.4 0.2 6.3 0.3 6.4 0.2 6.4 0.2 6.4 0.2 6.4 0.3 6.3 0.2 6.4 0.2 6.4 0.3 6.4 0.2 6.4 0.3 6.3 0.2 6.4 0.3 6.4 0.3 6.4 0.2 6.4 0.3 6.3 0.3 6.4 0.3 6.4 0.3 6.4 0.4 6.3 0.4 6.4 0.4 6.4 0.4 6.4 0.5 6.4 0.5 6.3 0.5 6.4 0.6 6.4 0.7 6.4 0.8 6.4 0.9 6.3 0.9 6.4 1.1 6.4 1.3 6.4 1.4 6.4 1.7 6.3 1.8 6.4 2.2 6.4 2.5 6.4 2.8 6.4 3.3 6.3 3.8 6.4 4.3 6.4 4.9 6.4 5.7 6.3 6.4 6.4 7.4 6.4 8.3 6.4 9.3 6.4 10.5 6.3 11.6 6.4 12.9 6.4 14.2 7.2 17.6 5.6 14.3" fill="none" stroke="#800080" stroke-width="3.3" stroke-linejoin="round"/>
<path d="M788.7 40.4a4 4 0 1 0 8 0a4 4 0 1 0 -8 0M801.5 40.8a4 4 0 1 0 8 0a4 4 0 1 0 -8 0M814.2 41.2a4 4 0 1 0 8 0a4 4 0 1 0 -8 0M827 41.7a4 4 0 1 0 8 0a4 4 0 1 0 -8 0M839.7 42.1a4 4 0 1 0 8 0a4 4 0 1 0 -8 0M852.5 42.5a4 4 0 1 0 8 0a4 4 0 1 0 -8 0M865.3 43a4 4 0 1 0 8 0a4 4 0 1 0 -8 0M878 43.4a4 4 0 1 0 8 0a4 4 0 1 0 -8 0M890.8 43.8a4 4 0 1 0 8 0a4 4 0 1 0 -8 0M903.5 44.3a4 4 0 1 0 8 0a4 4 0 1 0 -8 0M916.3 44.7a4 4 0 1 0 8 0a4 4 0 1 0 -8 0M929.1 45.1a4 4 0 1 0 8 0a4 4 0 1 0 -8 0M941.8 45.6a4 4 0 1 0 8 0a4 4 0 1 0 -8 0M954.6 46a4 4 0 1 0 8 0a4 4 0 1 0 -8 0M967.3 46.5a4 4 0 1 0 8 0a4 4 0 1 0 -8 0M980.1 46.9a4 4 0 1 0 8 0a4 4 0 1 0 -8 0M992.8 47.4a4 4 0 1 0 8 0a4 4 0 1 0 -8 0M1005.6 47.8a4 4 0 1 0 8 0a4 4 0 1 0 -8 0M1018.4 48.3a4 4 0 1 0 8 0a4 4 0 1 0 -8 0M1031.1 48.7a4 4 0 1 0 8 0a4 4 0 1 0 -8 0M1043.9 49.2a4 4 0 1 0 8 0a4 4 0 1 0 -8 0M1056.6 49.7a4 4 0 1 0 8 0a4 4 0 1 0 -8 0M1069.4 50.3a4 4 0 1 0 8 0a4 4 0 1 0 -8 0M1082.2 50.8a4 4 0 1 0 8 0a4 4 0 1 0 -8 0M1094.9 51.4a4 4 0 1 0 8 0a4 4 0 1 0 -8 0M1107.7 52.1a4 4 0 1 0 8 0a4 4 0 1 0 -8 0M1120.4 52.9a4 4 0 1 0 8 0a4 4 0 1 0 -8 0M1133.2 53.8a4 4 0 1 0 8 0a4 4 0 1 0 -8 0M1145.9 54.8a4 4 0 1 0 8 0a4 4 0 1 0 -8 0M1158.7 56.1a4 4 0 1 0 8 0a4 4 0 1 0 -8 0M1171.5 57.8a4 4 0 1 0 8 0a4 4 0 1 0 -8 0M1184.2 59.8a4 4 0 1 0 8 0a4 4 0 1 0 -8 0M1197 62.5a4 4 0 1 0 8 0a4 4 0 1 0 -8 0M1209.7 66a4 4 0 1 0 8 0a4 4 0 1 0 -8 0M1222.5 70.7a4 4 0 1 0 8 0a4 4 0 1 0 -8 0M1235.3 76.8a4 4 0 1 0 8 0a4 4 0 1 0 -8 0M1248 84.9a4 4 0 1 0 8 0a4 4 0 1 0 -8 0M1260.8 95.5a4 4 0 1 0 8 0a4 4 0 1 0 -8 0M1273.5 109.3a4 4 0 1 0 8 0a4 4 0 1 0 -8 0M1286.3 126.9a4 4 0 1 0 8 0a4 4 0 1 0 -8 0M1299 149a4 4 0 1 0 8 0a4 4 0 1 0 -8 0M1311.8 176.1a4 4 0 1 0 8 0a4 4 0 1 0 -8 0M1324.6 208a4 4 0 1 0 8 0a4 4 0 1 0 -8 0" fill="#800080"/>
<path d="M792.7 38.2l5.6 0.1 7.2 0.2 6.4 0.1 6.3 0.1 6.4 0.1 6.4 0.2 6.4 0.1 6.3 0.1 6.4 0.1 6.4 0.1 6.4 0.2 6.4 0.1 6.3 0.1 6.4 0.1 6.4 0.2 6.4 0.1 6.4 0.1 6.3 0.1 6.4 0.1 6.4 0.2 6.4 0.1 6.4 0.1 6.3 0.1 6.4 0.2 6.4 0.1 6.4 0.1 6.4 0.1 6.3 0.2 6.4 0.1 6.4 0.1 6.4 0.2 6.3 0.1 6.4 0.1 6.4 0.2 6.4 0.1 6.4 0.2 6.3 0.1 6.4 0.2 6.4 0.1 6.4 0.2 6.4 0.2 6.3 0.2 6.4 0.1 6.4 0.3 6.4 0.2 6.4 0.2 6.3 0.3 6.4 0.3 6.4 0.3 6.4 0.4 6.3 0.4 6.4 0.4 6.4 0.5 6.4 0.6 6.4 0.7 6.3 0.7 6.4 0.9 6.4 1 6.4 1.1 6.4 1.3 6.3 1.6 6.4 1.7 6.4 2.1 6.4 2.4 6.4 2.7 6.3 3.3 6.4 3.7 6.4 4.3 6.4 4.9 6.4 5.7 6.3 6.5 6.4 7.5 6.4 8.5 6.4 9.5 6.3 10.8 6.4 12.1 6.4 13.4 6.4 14.6 6.4 16 6.3 17.3 6.4 18.4 6.4 19.3 7.2 22.8 5.6 18.1" fill="none" stroke="#FF0000" stroke-width="3.3" stroke-linejoin="round"/>
<path d="M788.7 34.2h8v8h-8zM801.5 34.5h8v8h-8zM814.2 34.7h8v8h-8zM827 35h8v8h-8zM839.7 35.2h8v8h-8zM852.5 35.4h8v8h-8zM865.3 35.7h8v8h-8zM878 35.9h8v8h-8zM890.8 36.2h8v8h-8zM903.5 36.4h8v8h-8zM916.3 36.7h8v8h-8zM929.1 36.9h8v8h-8zM941.8 37.2h8v8h-8zM954.6 37.4h8v8h-8zM967.3 37.7h8v8h-8zM980.1 37.9h8v8h-8zM992.8 38.2h8v8h-8zM1005.6 38.5h8v8h-8zM1018.4 38.8h8v8h-8zM1031.1 39.1h8v8h-8zM1043.9 39.4h8v8h-8zM1056.6 39.8h8v8h-8zM1069.4 40.2h8v8h-8zM1082.2 40.6h8v8h-8zM1094.9 41.2h8v8h-8zM1107.7 41.9h8v8h-8zM1120.4 42.7h8v8h-8zM1133.2 43.8h8v8h-8zM1145.9 45.2h8v8h-8zM1158.7 47.1h8v8h-8zM1171.5 49.5h8v8h-8zM1184.2 52.8h8v8h-8zM1197 57.3h8v8h-8zM1209.7 63.3h8v8h-8zM1222.5 71.3h8v8h-8zM1235.3 81.9h8v8h-8zM1248 95.9h8v8h-8zM1260.8 113.9h8v8h-8zM1273.5 136.8h8v8h-8zM1286.3 164.8h8v8h-8zM1299 198.1h8v8h-8zM1311.8 235.8h8v8h-8zM1324.6 276.7h8v8h-8z" fill="#FF0000"/>
<path d="M792.7 41.1l5.6 0.1 7.2 0.2 6.4 0.2 6.3 0.1 6.4 0.2 6.4 0.2 6.4 0.1 6.3 0.2 6.4 0.1 6.4 0.2 6.4 0.2 6.4 0.1 6.3 0.2 6.4 0.2 6.4 0.1 6.4 0.2 6.4 0.2 6.3 0.1 6.4 0.2 6.4 0.1 6.4 0.2 6.4 0.2 6.3 0.1 6.4 0.2 6.4 0.2 6.4 0.2 6.4 0.1 6.3 0.2 6.4 0.2 6.4 0.1 6.4 0.2 6.3 0.2 6.4 0.2 6.4 0.2 6.4 0.2 6.4 0.2 6.3 0.2 6.4 0.2 6.4 0.2 6.4 0.2 6.4 0.3 6.3 0.2 6.4 0.3 6.4 0.3 6.4 0.3 6.4 0.4 6.3 0.4 6.4 0.4 6.4 0.5 6.4 0.5 6.3 0.6 6.4 0.7 6.4 0.7 6.4 0.9 6.4 1 6.3 1.2 6.4 1.3 6.4 1.6 6.4 1.8 6.4 2 6.3 2.4 6.4 2.8 6.4 3.3 6.4 3.7 6.4 4.4 6.3 5 6.4 5.7 6.4 6.7 6.4 7.6 6.4 8.6 6.3 9.9 6.4 11 6.4 12.3 6.4 13.7 6.3 15.1 6.4 16.4 6.4 17.7 6.4 18.8 6.4 19.7 6.3 20.6 6.4 21.1 6.4 22.6 7.2 28.6 5.6 23" fill="none" stroke="#008000" stroke-width="3.3" stroke-linejoin="round"/>
<path d="M788.7 37.1l8 8m0 -8l-8 8M801.5 37.4l8 8m0 -8l-8 8M814.2 37.7l8 8m0 -8l-8 8M827 38.1l8 8m0 -8l-8 8M839.7 38.4l8 8m0 -8l-8 8M852.5 38.7l8 8m0 -8l-8 8M865.3 39l8 8m0 -8l-8 8M878 39.4l8 8m0 -8l-8 8M890.8 39.7l8 8m0 -8l-8 8M903.5 40l8 8m0 -8l-8 8M916.3 40.3l8 8m0 -8l-8 8M929.1 40.7l8 8m0 -8l-8 8M941.8 41l8 8m0 -8l-8 8M954.6 41.4l8 8m0 -8l-8 8M967.3 41.7l8 8m0 -8l-8 8M980.1 42l8 8m0 -8l-8 8M992.8 42.4l8 8m0 -8l-8 8M1005.6 42.8l8 8m0 -8l-8 8M1018.4 43.2l8 8m0 -8l-8 8M1031.1 43.6l8 8m0 -8l-8 8M1043.9 44l8 8m0 -8l-8 8M1056.6 44.5l8 8m0 -8l-8 8M1069.4 45.1l8 8m0 -8l-8 8M1082.2 45.8l8 8m0 -8l-8 8M1094.9 46.6l8 8m0 -8l-8 8M1107.7 47.6l8 8m0 -8l-8 8M1120.4 48.9l8 8m0 -8l-8 8M1133.2 50.5l8 8m0 -8l-8 8M1145.9 52.7l8 8m0 -8l-8 8M1158.7 55.6l8 8m0 -8l-8 8M1171.5 59.4l8 8m0 -8l-8 8M1184.2 64.6l8 8m0 -8l-8 8M1197 71.6l8 8m0 -8l-8 8M1209.7 81l8 8m0 -8l-8 8M1222.5 93.4l8 8m0 -8l-8 8M1235.3 109.6l8 8m0 -8l-8 8M1248 130.5l8 8m0 -8l-8 8M1260.8 156.5l8 8m0 -8l-8 8M1273.5 188l8 8m0 -8l-8 8M1286.3 224.5l8 8m0 -8l-8 8M1299 264.8l8 8m0 -8l-8 8M1311.8 308.5l8 8m0 -8l-8 8M1324.6 360.1l8 8m0 -8l-8 8" stroke="#008000" stroke-width="1.4" fill="none"/>
<path d="M792.7 38.9l5.6 0.2 7.2 0.2 6.4 0.2 6.3 0.2 6.4 0.2 6.4 0.3 6.4 0.2 6.3 0.2 6.4 0.2 6.4 0.2 6.4 0.2 6.4 0.2 6.3 0.2 6.4 0.2 6.4 0.2 6.4 0.2 6.4 0.2 6.3 0.2 6.4 0.2 6.4 0.2 6.4 0.2 6.4 0.2 6.3 0.3 6.4 0.2 6.4 0.2 6.4 0.2 6.4 0.2 6.3 0.2 6.4 0.2 6.4 0.3 6.4 0.2 6.3 0.2 6.4 0.3 6.4 0.2 6.4 0.3 6.4 0.2 6.3 0.3 6.4 0.3 6.4 0.3 6.4 0.3 6.4 0.4 6.3 0.3 6.4 0.4 6.4 0.5 6.4 0.4 6.4 0.6 6.3 0.5 6.4 0.7 6.4 0.7 6.4 0.9 6.3 1 6.4 1.1 6.4 1.2 6.4 1.5 6.4 1.7 6.3 1.9 6.4 2.3 6.4 2.6 6.4 3.1 6.4 3.5 6.3 4.1 6.4 4.8 6.4 5.5 6.4 6.4 6.4 7.2 6.3 8.4 6.4 9.5 6.4 10.7 6.4 12.1 6.4 13.5 6.3 14.9 6.4 16.3 6.4 17.7 6.4 18.8 6.3 19.9 6.4 20.8 6.4 20.9 6.4 22.6 6.4 27.2 6.3 27.9 6.4 25.7 6.4 24 7.2 23.7 5.6 17.4" fill="none" stroke="#0000FF" stroke-width="3.3" stroke-linejoin="round"/>
<path d="M788.7 38.9a4 4 0 1 0 8 0a4 4 0 1 0 -8 0M801.5 39.3a4 4 0 1 0 8 0a4 4 0 1 0 -8 0M814.2 39.7a4 4 0 1 0 8 0a4 4 0 1 0 -8 0M827 40.2a4 4 0 1 0 8 0a4 4 0 1 0 -8 0M839.7 40.6a4 4 0 1 0 8 0a4 4 0 1 0 -8 0M852.5 41a4 4 0 1 0 8 0a4 4 0 1 0 -8 0M865.3 41.4a4 4 0 1 0 8 0a4 4 0 1 0 -8 0M878 41.8a4 4 0 1 0 8 0a4 4 0 1 0 -8 0M890.8 42.2a4 4 0 1 0 8 0a4 4 0 1 0 -8 0M903.5 42.6a4 4 0 1 0 8 0a4 4 0 1 0 -8 0M916.3 43a4 4 0 1 0 8 0a4 4 0 1 0 -8 0M929.1 43.4a4 4 0 1 0 8 0a4 4 0 1 0 -8 0M941.8 43.9a4 4 0 1 0 8 0a4 4 0 1 0 -8 0M954.6 44.3a4 4 0 1 0 8 0a4 4 0 1 0 -8 0M967.3 44.7a4 4 0 1 0 8 0a4 4 0 1 0 -8 0M980.1 45.2a4 4 0 1 0 8 0a4 4 0 1 0 -8 0M992.8 45.6a4 4 0 1 0 8 0a4 4 0 1 0 -8 0M1005.6 46.1a4 4 0 1 0 8 0a4 4 0 1 0 -8 0M1018.4 46.6a4 4 0 1 0 8 0a4 4 0 1 0 -8 0M1031.1 47.2a4 4 0 1 0 8 0a4 4 0 1 0 -8 0M1043.9 47.8a4 4 0 1 0 8 0a4 4 0 1 0 -8 0M1056.6 48.5a4 4 0 1 0 8 0a4 4 0 1 0 -8 0M1069.4 49.4a4 4 0 1 0 8 0a4 4 0 1 0 -8 0M1082.2 50.4a4 4 0 1 0 8 0a4 4 0 1 0 -8 0M1094.9 51.6a4 4 0 1 0 8 0a4 4 0 1 0 -8 0M1107.7 53.2a4 4 0 1 0 8 0a4 4 0 1 0 -8 0M1120.4 55.3a4 4 0 1 0 8 0a4 4 0 1 0 -8 0M1133.2 58a4 4 0 1 0 8 0a4 4 0 1 0 -8 0M1145.9 61.6a4 4 0 1 0 8 0a4 4 0 1 0 -8 0M1158.7 66.5a4 4 0 1 0 8 0a4 4 0 1 0 -8 0M1171.5 73.1a4 4 0 1 0 8 0a4 4 0 1 0 -8 0M1184.2 82a4 4 0 1 0 8 0a4 4 0 1 0 -8 0M1197 93.9a4 4 0 1 0 8 0a4 4 0 1 0 -8 0M1209.7 109.5a4 4 0 1 0 8 0a4 4 0 1 0 -8 0M1222.5 129.7a4 4 0 1 0 8 0a4 4 0 1 0 -8 0M1235.3 155.3a4 4 0 1 0 8 0a4 4 0 1 0 -8 0M1248 186.5a4 4 0 1 0 8 0a4 4 0 1 0 -8 0M1260.8 223a4 4 0 1 0 8 0a4 4 0 1 0 -8 0M1273.5 263.7a4 4 0 1 0 8 0a4 4 0 1 0 -8 0M1286.3 307.2a4 4 0 1 0 8 0a4 4 0 1 0 -8 0M1299 362.3a4 4 0 1 0 8 0a4 4 0 1 0 -8 0M1311.8 412a4 4 0 1 0 8 0a4 4 0 1 0 -8 0M1324.6 453.1a4 4 0 1 0 8 0a4 4 0 1 0 -8 0" fill="#0000FF"/>
<path d="M792.7 36.8l5.6 0.2 7.2 0.3 6.4 0.2 6.3 0.3 6.4 0.2 6.4 0.2 6.4 0.3 6.3 0.2 6.4 0.3 6.4 0.2 6.4 0.3 6.4 0.2 6.3 0.3 6.4 0.2 6.4 0.3 6.4 0.2 6.4 0.3 6.3 0.2 6.4 0.2 6.4 0.3 6.4 0.2 6.4 0.3 6.3 0.3 6.4 0.2 6.4 0.3 6.4 0.2 6.4 0.3 6.3 0.2 6.4 0.3 6.4 0.3 6.4 0.3 6.3 0.2 6.4 0.3 6.4 0.3 6.4 0.3 6.4 0.4 6.3 0.3 6.4 0.3 6.4 0.4 6.4 0.4 6.4 0.4 6.3 0.5 6.4 0.5 6.4 0.5 6.4 0.6 6.4 0.7 6.3 0.8 6.4 0.8 6.4 1 6.4 1.1 6.3 1.3 6.4 1.4 6.4 1.7 6.4 2 6.4 2.2 6.3 2.6 6.4 3.1 6.4 3.5 6.4 4.1 6.4 4.8 6.3 5.6 6.4 6.4 6.4 7.3 6.4 8.5 6.4 9.7 6.3 10.9 6.4 12.4 6.4 13.7 6.4 15.3 6.4 16.7 6.3 18.2 6.4 19.3 6.4 20.4 6.4 21.4 6.3 22 6.4 24 6.4 28.8 6.4 29.4 6.4 26.8 6.3 24.6 6.4 21.9 6.4 19.3 7.2 17.8 5.6 12.7" fill="none" stroke="#FFD700" stroke-width="3.3" stroke-linejoin="round"/>
<path d="M792.7 32l4.8 4.8l-4.8 4.8l-4.8 -4.8zM805.5 32.5l4.8 4.8l-4.8 4.8l-4.8 -4.8zM818.2 33l4.8 4.8l-4.8 4.8l-4.8 -4.8zM831 33.4l4.8 4.8l-4.8 4.8l-4.8 -4.8zM843.7 33.9l4.8 4.8l-4.8 4.8l-4.8 -4.8zM856.5 34.4l4.8 4.8l-4.8 4.8l-4.8 -4.8zM869.3 34.9l4.8 4.8l-4.8 4.8l-4.8 -4.8zM882 35.4l4.8 4.8l-4.8 4.8l-4.8 -4.8zM894.8 35.9l4.8 4.8l-4.8 4.8l-4.8 -4.8zM907.5 36.4l4.8 4.8l-4.8 4.8l-4.8 -4.8zM920.3 36.9l4.8 4.8l-4.8 4.8l-4.8 -4.8zM933.1 37.4l4.8 4.8l-4.8 4.8l-4.8 -4.8zM945.8 37.9l4.8 4.8l-4.8 4.8l-4.8 -4.8zM958.6 38.4l4.8 4.8l-4.8 4.8l-4.8 -4.8zM971.3 38.9l4.8 4.8l-4.8 4.8l-4.8 -4.8zM984.1 39.5l4.8 4.8l-4.8 4.8l-4.8 -4.8zM996.8 40l4.8 4.8l-4.8 4.8l-4.8 -4.8zM1009.6 40.6l4.8 4.8l-4.8 4.8l-4.8 -4.8zM1022.4 41.3l4.8 4.8l-4.8 4.8l-4.8 -4.8zM1035.1 41.9l4.8 4.8l-4.8 4.8l-4.8 -4.8zM1047.9 42.7l4.8 4.8l-4.8 4.8l-4.8 -4.8zM1060.6 43.6l4.8 4.8l-4.8 4.8l-4.8 -4.8zM1073.4 44.6l4.8 4.8l-4.8 4.8l-4.8 -4.8zM1086.2 45.9l4.8 4.8l-4.8 4.8l-4.8 -4.8zM1098.9 47.5l4.8 4.8l-4.8 4.8l-4.8 -4.8zM1111.7 49.6l4.8 4.8l-4.8 4.8l-4.8 -4.8zM1124.4 52.3l4.8 4.8l-4.8 4.8l-4.8 -4.8zM1137.2 56l4.8 4.8l-4.8 4.8l-4.8 -4.8zM1149.9 60.8l4.8 4.8l-4.8 4.8l-4.8 -4.8zM1162.7 67.4l4.8 4.8l-4.8 4.8l-4.8 -4.8zM1175.5 76.3l4.8 4.8l-4.8 4.8l-4.8 -4.8zM1188.2 88.3l4.8 4.8l-4.8 4.8l-4.8 -4.8zM1201 104.1l4.8 4.8l-4.8 4.8l-4.8 -4.8zM1213.7 124.7l4.8 4.8l-4.8 4.8l-4.8 -4.8zM1226.5 150.8l4.8 4.8l-4.8 4.8l-4.8 -4.8zM1239.3 182.8l4.8 4.8l-4.8 4.8l-4.8 -4.8zM1252 220.3l4.8 4.8l-4.8 4.8l-4.8 -4.8zM1264.8 262.1l4.8 4.8l-4.8 4.8l-4.8 -4.8zM1277.5 308.1l4.8 4.8l-4.8 4.8l-4.8 -4.8zM1290.3 366.3l4.8 4.8l-4.8 4.8l-4.8 -4.8zM1303 417.7l4.8 4.8l-4.8 4.8l-4.8 -4.8zM1315.8 458.9l4.8 4.8l-4.8 4.8l-4.8 -4.8zM1328.6 489.4l4.8 4.8l-4.8 4.8l-4.8 -4.8z" fill="#FFD700"/>
<path d="M792.7 39.7l5.6 0.1 7.2 0.2 6.4 0.1 6.3 0.2 6.4 0.1 6.4 0.2 6.4 0.1 6.3 0.1 6.4 0.2 6.4 0.1 6.4 0.2 6.4 0.2 6.3 0.1 6.4 0.2 6.4 0.1 6.4 0.2 6.4 0.1 6.3 0.2 6.4 0.1 6.4 0.2 6.4 0.1 6.4 0.2 6.3 0.1 6.4 0.2 6.4 0.2 6.4 0.1 6.4 0.2 6.3 0.2 6.4 0.2 6.4 0.2 6.4 0.2 6.3 0.2 6.4 0.2 6.4 0.2 6.4 0.3 6.4 0.2 6.3 0.3 6.4 0.3 6.4 0.4 6.4 0.3 6.4 0.5 6.3 0.5 6.4 0.5 6.4 0.6 6.4 0.8 6.4 0.8 6.3 1 6.4 1.1 6.4 1.3 6.4 1.5 6.3 1.8 6.4 2.1 6.4 2.5 6.4 2.9 6.4 3.3 6.3 4 6.4 4.6 6.4 5.5 6.4 6.3 6.4 7.3 6.3 8.4 6.4 9.7 6.4 11 6.4 12.5 6.4 14 6.3 15.5 6.4 17.2 6.4 18.5 6.4 20 6.4 21 6.3 21.2 6.4 23.3 6.4 28.2 6.4 29.9 6.3 30.1 6.4 28.7 6.4 25.5 6.4 22.5 6.4 19.2 6.3 16.3 6.4 13.4 6.4 11 7.2 9.5 5.6 6.5" fill="none" stroke="#FF00FF" stroke-width="3.3" stroke-linejoin="round"/>
<path d="M788.7 35.7h8v8h-8zM801.5 36h8v8h-8zM814.2 36.3h8v8h-8zM827 36.6h8v8h-8zM839.7 36.8h8v8h-8zM852.5 37.1h8v8h-8zM865.3 37.5h8v8h-8zM878 37.8h8v8h-8zM890.8 38.1h8v8h-8zM903.5 38.4h8v8h-8zM916.3 38.7h8v8h-8zM929.1 39h8v8h-8zM941.8 39.3h8v8h-8zM954.6 39.6h8v8h-8zM967.3 40h8v8h-8zM980.1 40.4h8v8h-8zM992.8 40.8h8v8h-8zM1005.6 41.2h8v8h-8zM1018.4 41.7h8v8h-8zM1031.1 42.3h8v8h-8zM1043.9 43h8v8h-8zM1056.6 44h8v8h-8zM1069.4 45.1h8v8h-8zM1082.2 46.7h8v8h-8zM1094.9 48.8h8v8h-8zM1107.7 51.6h8v8h-8zM1120.4 55.5h8v8h-8zM1133.2 60.9h8v8h-8zM1145.9 68.2h8v8h-8zM1158.7 78.3h8v8h-8zM1171.5 91.9h8v8h-8zM1184.2 110h8v8h-8zM1197 133.5h8v8h-8zM1209.7 163h8v8h-8zM1222.5 198.7h8v8h-8zM1235.3 239.7h8v8h-8zM1248 284.2h8v8h-8zM1260.8 342.3h8v8h-8zM1273.5 401.1h8v8h-8zM1286.3 449.1h8v8h-8zM1299 484.6h8v8h-8zM1311.8 509h8v8h-8zM1324.6 525h8v8h-8z" fill="#FF00FF"/>
<path d="M792.7 37.5l5.6 0.2 7.2 0.2 6.4 0.2 6.3 0.2 6.4 0.2 6.4 0.1 6.4 0.2 6.3 0.2 6.4 0.2 6.4 0.2 6.4 0.2 6.4 0.2 6.3 0.2 6.4 0.2 6.4 0.2 6.4 0.2 6.4 0.2 6.3 0.2 6.4 0.2 6.4 0.2 6.4 0.2 6.4 0.2 6.3 0.2 6.4 0.2 6.4 0.2 6.4 0.2 6.4 0.2 6.3 0.3 6.4 0.2 6.4 0.2 6.4 0.3 6.3 0.3 6.4 0.3 6.4 0.3 6.4 0.3 6.4 0.3 6.3 0.4 6.4 0.5 6.4 0.4 6.4 0.6 6.4 0.6 6.3 0.7 6.4 0.8 6.4 0.9 6.4 1 6.4 1.2 6.3 1.5 6.4 1.6 6.4 2 6.4 2.3 6.3 2.6 6.4 3.2 6.4 3.7 6.4 4.3 6.4 5.1 6.3 6 6.4 6.9 6.4 8 6.4 9.3 6.4 10.6 6.3 12.1 6.4 13.6 6.4 15.3 6.4 16.8 6.4 18.5 6.3 19.9 6.4 21.1 6.4 22.3 6.4 22.1 6.4 25.2 6.3 33.2 6.4 34.5 6.4 30.5 6.4 27.6 6.3 23.7 6.4 20.2 6.4 16.7 6.4 13.6 6.4 10.8 6.3 8.6 6.4 6.8 6.4 5.2 7.2 4.3 5.6 2.8" fill="none" stroke="#000000" stroke-width="3.3" stroke-linejoin="round"/>
<path d="M792.7 33.1l4 7.6h-8zM805.5 33.5l4 7.6h-8zM818.2 33.9l4 7.6h-8zM831 34.2l4 7.6h-8zM843.7 34.6l4 7.6h-8zM856.5 35l4 7.6h-8zM869.3 35.4l4 7.6h-8zM882 35.8l4 7.6h-8zM894.8 36.2l4 7.6h-8zM907.5 36.6l4 7.6h-8zM920.3 37l4 7.6h-8zM933.1 37.4l4 7.6h-8zM945.8 37.8l4 7.6h-8zM958.6 38.2l4 7.6h-8zM971.3 38.7l4 7.6h-8zM984.1 39.1l4 7.6h-8zM996.8 39.7l4 7.6h-8zM1009.6 40.3l4 7.6h-8zM1022.4 40.9l4 7.6h-8zM1035.1 41.8l4 7.6h-8zM1047.9 42.8l4 7.6h-8zM1060.6 44.1l4 7.6h-8zM1073.4 45.8l4 7.6h-8zM1086.2 48l4 7.6h-8zM1098.9 51.1l4 7.6h-8zM1111.7 55.4l4 7.6h-8zM1124.4 61.2l4 7.6h-8zM1137.2 69.2l4 7.6h-8zM1149.9 80.3l4 7.6h-8zM1162.7 95.2l4 7.6h-8zM1175.5 115.1l4 7.6h-8zM1188.2 140.8l4 7.6h-8zM1201 172.9l4 7.6h-8zM1213.7 211.3l4 7.6h-8zM1226.5 254.7l4 7.6h-8zM1239.3 302l4 7.6h-8zM1252 369.7l4 7.6h-8zM1264.8 427.8l4 7.6h-8zM1277.5 471.7l4 7.6h-8zM1290.3 502l4 7.6h-8zM1303 521.4l4 7.6h-8zM1315.8 533.4l4 7.6h-8zM1328.6 540.5l4 7.6h-8z" fill="#000000"/>
<path d="M792.7 40.4l5.6 0.2 7.2 0.2 6.4 0.2 6.3 0.3 6.4 0.2 6.4 0.2 6.4 0.3 6.3 0.2 6.4 0.2 6.4 0.3 6.4 0.2 6.4 0.2 6.3 0.3 6.4 0.2 6.4 0.2 6.4 0.3 6.4 0.2 6.3 0.3 6.4 0.2 6.4 0.2 6.4 0.3 6.4 0.2 6.3 0.3 6.4 0.2 6.4 0.3 6.4 0.3 6.4 0.2 6.3 0.3 6.4 0.3 6.4 0.3 6.4 0.4 6.3 0.3 6.4 0.4 6.4 0.3 6.4 0.5 6.4 0.4 6.3 0.5 6.4 0.6 6.4 0.7 6.4 0.7 6.4 0.8 6.3 0.9 6.4 1.1 6.4 1.3 6.4 1.5 6.4 1.7 6.3 2 6.4 2.3 6.4 2.8 6.4 3.3 6.3 3.8 6.4 4.5 6.4 5.3 6.4 6.2 6.4 7.2 6.3 8.4 6.4 9.7 6.4 11.1 6.4 12.6 6.4 14.3 6.3 16 6.4 17.7 6.4 19.2 6.4 20.7 6.4 21.5 6.3 23.3 6.4 25.7 6.4 28.9 6.4 35.1 6.4 35.3 6.3 30.3 6.4 26.5 6.4 22 6.4 18.1 6.3 14.4 6.4 11.3 6.4 8.8 6.4 6.6 6.4 5.1 6.3 3.9 6.4 2.9 6.4 2.1 7.2 1.7 5.6 1.1" fill="none" stroke="#800000" stroke-width="3.3" stroke-linejoin="round"/>
<path d="M788.7 36.4l8 8m0 -8l-8 8M801.5 36.8l8 8m0 -8l-8 8M814.2 37.3l8 8m0 -8l-8 8M827 37.7l8 8m0 -8l-8 8M839.7 38.2l8 8m0 -8l-8 8M852.5 38.7l8 8m0 -8l-8 8M865.3 39.1l8 8m0 -8l-8 8M878 39.6l8 8m0 -8l-8 8M890.8 40.1l8 8m0 -8l-8 8M903.5 40.6l8 8m0 -8l-8 8M916.3 41l8 8m0 -8l-8 8M929.1 41.5l8 8m0 -8l-8 8M941.8 42l8 8m0 -8l-8 8M954.6 42.6l8 8m0 -8l-8 8M967.3 43.1l8 8m0 -8l-8 8M980.1 43.7l8 8m0 -8l-8 8M992.8 44.4l8 8m0 -8l-8 8M1005.6 45.1l8 8m0 -8l-8 8M1018.4 46l8 8m0 -8l-8 8M1031.1 47.1l8 8m0 -8l-8 8M1043.9 48.5l8 8m0 -8l-8 8M1056.6 50.2l8 8m0 -8l-8 8M1069.4 52.6l8 8m0 -8l-8 8M1082.2 55.8l8 8m0 -8l-8 8M1094.9 60.1l8 8m0 -8l-8 8M1107.7 66.2l8 8m0 -8l-8 8M1120.4 74.5l8 8m0 -8l-8 8M1133.2 86l8 8m0 -8l-8 8M1145.9 101.6l8 8m0 -8l-8 8M1158.7 122.4l8 8m0 -8l-8 8M1171.5 149.3l8 8m0 -8l-8 8M1184.2 183l8 8m0 -8l-8 8M1197 222.9l8 8m0 -8l-8 8M1209.7 267.7l8 8m0 -8l-8 8M1222.5 322.3l8 8m0 -8l-8 8M1235.3 392.7l8 8m0 -8l-8 8M1248 449.5l8 8m0 -8l-8 8M1260.8 489.6l8 8m0 -8l-8 8M1273.5 515.3l8 8m0 -8l-8 8M1286.3 530.7l8 8m0 -8l-8 8M1299 539.7l8 8m0 -8l-8 8M1311.8 544.7l8 8m0 -8l-8 8M1324.6 547.5l8 8m0 -8l-8 8" stroke="#800000" stroke-width="1.4" fill="none"/>
<path d="M792.7 38.2l5.6 0.1 7.2 0.2 6.4 0.1 6.3 0.2 6.4 0.1 6.4 0.1 6.4 0.2 6.3 0.1 6.4 0.2 6.4 0.1 6.4 0.1 6.4 0.2 6.3 0.1 6.4 0.2 6.4 0.1 6.4 0.1 6.4 0.2 6.3 0.1 6.4 0.2 6.4 0.1 6.4 0.2 6.4 0.1 6.3 0.2 6.4 0.2 6.4 0.2 6.4 0.2 6.4 0.2 6.3 0.2 6.4 0.2 6.4 0.2 6.4 0.3 6.3 0.3 6.4 0.4 6.4 0.3 6.4 0.5 6.4 0.5 6.3 0.6 6.4 0.6 6.4 0.8 6.4 0.9 6.4 1.1 6.3 1.3 6.4 1.5 6.4 1.7 6.4 2.1 6.4 2.6 6.3 2.9 6.4 3.6 6.4 4.2 6.4 5 6.3 5.8 6.4 7 6.4 8 6.4 9.5 6.4 10.9 6.3 12.5 6.4 14.2 6.4 16 6.4 17.8 6.4 19.5 6.3 21.2 6.4 22.4 6.4 22.2 6.4 25.7 6.4 34.6 6.3 37.5 6.4 36.7 6.4 34.2 6.4 28.1 6.4 23.2 6.3 18.4 6.4 14.2 6.4 10.9 6.4 8.1 6.3 6 6.4 4.4 6.4 3.3 6.4 2.4 6.4 1.7 6.3 1.2 6.4 0.9 6.4 0.7 7.2 0.5 5.6 0.3" fill="none" stroke="#FF0000" stroke-width="3.3" stroke-linejoin="round"/>
<path d="M792.7 33.8l4 7.6h-8zM805.5 34.1l4 7.6h-8zM818.2 34.4l4 7.6h-8zM831 34.6l4 7.6h-8zM843.7 34.9l4 7.6h-8zM856.5 35.2l4 7.6h-8zM869.3 35.5l4 7.6h-8zM882 35.8l4 7.6h-8zM894.8 36l4 7.6h-8zM907.5 36.3l4 7.6h-8zM920.3 36.6l4 7.6h-8zM933.1 36.9l4 7.6h-8zM945.8 37.3l4 7.6h-8zM958.6 37.7l4 7.6h-8zM971.3 38.1l4 7.6h-8zM984.1 38.5l4 7.6h-8zM996.8 39.1l4 7.6h-8zM1009.6 39.8l4 7.6h-8zM1022.4 40.8l4 7.6h-8zM1035.1 42l4 7.6h-8zM1047.9 43.7l4 7.6h-8zM1060.6 46.1l4 7.6h-8zM1073.4 49.3l4 7.6h-8zM1086.2 54l4 7.6h-8zM1098.9 60.5l4 7.6h-8zM1111.7 69.7l4 7.6h-8zM1124.4 82.5l4 7.6h-8zM1137.2 100l4 7.6h-8zM1149.9 123.4l4 7.6h-8zM1162.7 153.6l4 7.6h-8zM1175.5 190.9l4 7.6h-8zM1188.2 234.5l4 7.6h-8zM1201 282.4l4 7.6h-8zM1213.7 354.5l4 7.6h-8zM1226.5 425.4l4 7.6h-8zM1239.3 476.7l4 7.6h-8zM1252 509.3l4 7.6h-8zM1264.8 528.3l4 7.6h-8zM1277.5 538.7l4 7.6h-8zM1290.3 544.4l4 7.6h-8zM1303 547.3l4 7.6h-8zM1315.8 548.9l4 7.6h-8zM1328.6 549.7l4 7.6h-8z" fill="#FF0000"/>
<path d="M792.7 41.1l5.6 0.1 7.2 0.2 6.4 0.2 6.3 0.2 6.4 0.2 6.4 0.1 6.4 0.2 6.3 0.2 6.4 0.2 6.4 0.2 6.4 0.1 6.4 0.2 6.3 0.2 6.4 0.2 6.4 0.2 6.4 0.2 6.4 0.1 6.3 0.2 6.4 0.2 6.4 0.2 6.4 0.2 6.4 0.3 6.3 0.2 6.4 0.2 6.4 0.2 6.4 0.3 6.4 0.3 6.3 0.3 6.4 0.3 6.4 0.3 6.4 0.4 6.3 0.4 6.4 0.5 6.4 0.6 6.4 0.6 6.4 0.7 6.3 0.9 6.4 1 6.4 1.1 6.4 1.4 6.4 1.6 6.3 1.9 6.4 2.3 6.4 2.8 6.4 3.2 6.4 3.9 6.3 4.5 6.4 5.5 6.4 6.4 6.4 7.6 6.3 8.8 6.4 10.3 6.4 12 6.4 13.6 6.4 15.5 6.3 17.3 6.4 19.2 6.4 20.9 6.4 22.2 6.4 23.8 6.3 23.7 6.4 28.8 6.4 42.1 6.4 43.8 6.4 36 6.3 30.5 6.4 23.9 6.4 18.6 6.4 13.9 6.4 10.2 6.3 7.4 6.4 5.3 6.4 3.8 6.4 2.6 6.3 1.9 6.4 1.2 6.4 1 6.4 0.6 6.4 0.5 6.3 0.3 6.4 0.2 6.4 0.1 7.2 0.2 5.6 0" fill="none" stroke="#00008B" stroke-width="3.3" stroke-linejoin="round"/>
<path d="M788.7 41.1a4 4 0 1 0 8 0a4 4 0 1 0 -8 0M801.5 41.4a4 4 0 1 0 8 0a4 4 0 1 0 -8 0M814.2 41.8a4 4 0 1 0 8 0a4 4 0 1 0 -8 0M827 42.1a4 4 0 1 0 8 0a4 4 0 1 0 -8 0M839.7 42.5a4 4 0 1 0 8 0a4 4 0 1 0 -8 0M852.5 42.9a4 4 0 1 0 8 0a4 4 0 1 0 -8 0M865.3 43.2a4 4 0 1 0 8 0a4 4 0 1 0 -8 0M878 43.6a4 4 0 1 0 8 0a4 4 0 1 0 -8 0M890.8 44a4 4 0 1 0 8 0a4 4 0 1 0 -8 0M903.5 44.3a4 4 0 1 0 8 0a4 4 0 1 0 -8 0M916.3 44.7a4 4 0 1 0 8 0a4 4 0 1 0 -8 0M929.1 45.2a4 4 0 1 0 8 0a4 4 0 1 0 -8 0M941.8 45.6a4 4 0 1 0 8 0a4 4 0 1 0 -8 0M954.6 46.1a4 4 0 1 0 8 0a4 4 0 1 0 -8 0M967.3 46.7a4 4 0 1 0 8 0a4 4 0 1 0 -8 0M980.1 47.3a4 4 0 1 0 8 0a4 4 0 1 0 -8 0M992.8 48.1a4 4 0 1 0 8 0a4 4 0 1 0 -8 0M1005.6 49.2a4 4 0 1 0 8 0a4 4 0 1 0 -8 0M1018.4 50.5a4 4 0 1 0 8 0a4 4 0 1 0 -8 0M1031.1 52.4a4 4 0 1 0 8 0a4 4 0 1 0 -8 0M1043.9 54.9a4 4 0 1 0 8 0a4 4 0 1 0 -8 0M1056.6 58.4a4 4 0 1 0 8 0a4 4 0 1 0 -8 0M1069.4 63.5a4 4 0 1 0 8 0a4 4 0 1 0 -8 0M1082.2 70.6a4 4 0 1 0 8 0a4 4 0 1 0 -8 0M1094.9 80.6a4 4 0 1 0 8 0a4 4 0 1 0 -8 0M1107.7 94.6a4 4 0 1 0 8 0a4 4 0 1 0 -8 0M1120.4 113.7a4 4 0 1 0 8 0a4 4 0 1 0 -8 0M1133.2 139.3a4 4 0 1 0 8 0a4 4 0 1 0 -8 0M1145.9 172.1a4 4 0 1 0 8 0a4 4 0 1 0 -8 0M1158.7 212.2a4 4 0 1 0 8 0a4 4 0 1 0 -8 0M1171.5 258.2a4 4 0 1 0 8 0a4 4 0 1 0 -8 0M1184.2 310.7a4 4 0 1 0 8 0a4 4 0 1 0 -8 0M1197 396.6a4 4 0 1 0 8 0a4 4 0 1 0 -8 0M1209.7 463.1a4 4 0 1 0 8 0a4 4 0 1 0 -8 0M1222.5 505.6a4 4 0 1 0 8 0a4 4 0 1 0 -8 0M1235.3 529.7a4 4 0 1 0 8 0a4 4 0 1 0 -8 0M1248 542.4a4 4 0 1 0 8 0a4 4 0 1 0 -8 0M1260.8 548.8a4 4 0 1 0 8 0a4 4 0 1 0 -8 0M1273.5 551.9a4 4 0 1 0 8 0a4 4 0 1 0 -8 0M1286.3 553.5a4 4 0 1 0 8 0a4 4 0 1 0 -8 0M1299 554.3a4 4 0 1 0 8 0a4 4 0 1 0 -8 0M1311.8 554.6a4 4 0 1 0 8 0a4 4 0 1 0 -8 0M1324.6 554.8a4 4 0 1 0 8 0a4 4 0 1 0 -8 0" fill="#00008B"/>
<path d="M792.7 38.9l5.6 0.2 7.2 0.3 6.4 0.2 6.3 0.2 6.4 0.2 6.4 0.2 6.4 0.3 6.3 0.2 6.4 0.2 6.4 0.2 6.4 0.2 6.4 0.3 6.3 0.2 6.4 0.2 6.4 0.2 6.4 0.3 6.4 0.2 6.3 0.2 6.4 0.3 6.4 0.2 6.4 0.3 6.4 0.3 6.3 0.2 6.4 0.3 6.4 0.3 6.4 0.3 6.4 0.4 6.3 0.3 6.4 0.4 6.4 0.5 6.4 0.5 6.3 0.5 6.4 0.6 6.4 0.7 6.4 0.8 6.4 1 6.3 1.1 6.4 1.3 6.4 1.6 6.4 1.8 6.4 2.2 6.3 2.6 6.4 3 6.4 3.7 6.4 4.4 6.4 5.3 6.3 6.2 6.4 7.3 6.4 8.6 6.4 10.1 6.3 11.8 6.4 13.5 6.4 15.5 6.4 17.3 6.4 19.3 6.3 21.2 6.4 22.6 6.4 24.2 6.4 23.3 6.4 29.4 6.3 46.5 6.4 48.6 6.4 38.4 6.4 31.7 6.4 23.8 6.3 17.6 6.4 12.7 6.4 8.7 6.4 6.2 6.4 4 6.3 2.9 6.4 1.9 6.4 1.3 6.4 0.8 6.3 0.6 6.4 0.4 6.4 0.3 6.4 0.1 6.4 0.2 6.3 0 6.4 0.1 6.4 0 7.2 0.1 5.6 0" fill="none" stroke="#9C9C1E" stroke-width="3.3" stroke-linejoin="round"/>
<path d="M792.7 34.5l4 7.6h-8zM805.5 35l4 7.6h-8zM818.2 35.4l4 7.6h-8zM831 35.8l4 7.6h-8zM843.7 36.3l4 7.6h-8zM856.5 36.7l4 7.6h-8zM869.3 37.2l4 7.6h-8zM882 37.6l4 7.6h-8zM894.8 38.1l4 7.6h-8zM907.5 38.5l4 7.6h-8zM920.3 39l4 7.6h-8zM933.1 39.6l4 7.6h-8zM945.8 40.1l4 7.6h-8zM958.6 40.7l4 7.6h-8zM971.3 41.4l4 7.6h-8zM984.1 42.3l4 7.6h-8zM996.8 43.3l4 7.6h-8zM1009.6 44.6l4 7.6h-8zM1022.4 46.4l4 7.6h-8zM1035.1 48.8l4 7.6h-8zM1047.9 52.2l4 7.6h-8zM1060.6 57l4 7.6h-8zM1073.4 63.7l4 7.6h-8zM1086.2 73.4l4 7.6h-8zM1098.9 86.9l4 7.6h-8zM1111.7 105.6l4 7.6h-8zM1124.4 130.9l4 7.6h-8zM1137.2 163.7l4 7.6h-8zM1149.9 204.2l4 7.6h-8zM1162.7 251l4 7.6h-8zM1175.5 303.7l4 7.6h-8zM1188.2 398.8l4 7.6h-8zM1201 468.9l4 7.6h-8zM1213.7 510.3l4 7.6h-8zM1226.5 531.7l4 7.6h-8zM1239.3 541.9l4 7.6h-8zM1252 546.7l4 7.6h-8zM1264.8 548.8l4 7.6h-8zM1277.5 549.8l4 7.6h-8zM1290.3 550.2l4 7.6h-8zM1303 550.4l4 7.6h-8zM1315.8 550.5l4 7.6h-8zM1328.6 550.6l4 7.6h-8z" fill="#9C9C1E"/>
<path d="M792.7 36.7l5.6 0.4 7.2 0.5 6.4 0.4 6.3 0.4 6.4 0.4 6.4 0.5 6.4 0.4 6.3 0.4 6.4 0.4 6.4 0.4 6.4 0.5 6.4 0.4 6.3 0.4 6.4 0.4 6.4 0.5 6.4 0.4 6.4 0.4 6.3 0.5 6.4 0.4 6.4 0.5 6.4 0.4 6.4 0.5 6.3 0.5 6.4 0.5 6.4 0.5 6.4 0.6 6.4 0.6 6.3 0.6 6.4 0.7 6.4 0.7 6.4 0.8 6.3 0.8 6.4 1 6.4 1.1 6.4 1.3 6.4 1.4 6.3 1.7 6.4 2 6.4 2.3 6.4 2.7 6.4 3.2 6.3 3.8 6.4 4.5 6.4 5.4 6.4 6.3 6.4 7.5 6.3 8.8 6.4 10.4 6.4 12 6.4 13.9 6.3 15.8 6.4 17.8 6.4 19.8 6.4 21.6 6.4 22.8 6.3 25.1 6.4 26.8 6.4 33.6 6.4 50.2 6.4 51 6.3 37.7 6.4 29.4 6.4 20.5 6.4 14.1 6.4 9.6 6.3 6.1 6.4 4.2 6.4 2.5 6.4 1.7 6.4 1 6.3 0.7 6.4 0.4 6.4 0.3 6.4 0.2 6.3 0.1 6.4 0.1 6.4 0 6.4 0 6.4 0.1 6.3 0 6.4 0 6.4 0 7.2 0 5.6 0" fill="none" stroke="#80208F" stroke-width="3.3" stroke-linejoin="round"/>
<path d="M788.7 32.7h8v8h-8zM801.5 33.6h8v8h-8zM814.2 34.4h8v8h-8zM827 35.3h8v8h-8zM839.7 36.1h8v8h-8zM852.5 36.9h8v8h-8zM865.3 37.8h8v8h-8zM878 38.6h8v8h-8zM890.8 39.5h8v8h-8zM903.5 40.4h8v8h-8zM916.3 41.3h8v8h-8zM929.1 42.2h8v8h-8zM941.8 43.2h8v8h-8zM954.6 44.3h8v8h-8zM967.3 45.5h8v8h-8zM980.1 46.9h8v8h-8zM992.8 48.5h8v8h-8zM1005.6 50.6h8v8h-8zM1018.4 53.3h8v8h-8zM1031.1 57h8v8h-8zM1043.9 62h8v8h-8zM1056.6 69h8v8h-8zM1069.4 78.9h8v8h-8zM1082.2 92.7h8v8h-8zM1094.9 111.9h8v8h-8zM1107.7 137.8h8v8h-8zM1120.4 171.4h8v8h-8zM1133.2 212.8h8v8h-8zM1145.9 260.7h8v8h-8zM1158.7 321.1h8v8h-8zM1171.5 422.3h8v8h-8zM1184.2 489.4h8v8h-8zM1197 524h8v8h-8zM1209.7 539.7h8v8h-8zM1222.5 546.4h8v8h-8zM1235.3 549.1h8v8h-8zM1248 550.2h8v8h-8zM1260.8 550.7h8v8h-8zM1273.5 550.9h8v8h-8zM1286.3 550.9h8v8h-8zM1299 551h8v8h-8zM1311.8 551h8v8h-8zM1324.6 551h8v8h-8z" fill="#80208F"/>
<line x1="768.3" y1="16" x2="768.3" y2="556" stroke="#222" stroke-width="1.7"/>
<line x1="768.3" y1="65" x2="777.3" y2="65" stroke="#222" stroke-width="1.7"/>
<text x="740.4" y="75.5" font-size="32" text-anchor="end" textLength="68" lengthAdjust="spacingAndGlyphs">0.040</text>
<line x1="768.3" y1="310" x2="777.3" y2="310" stroke="#222" stroke-width="1.7"/>
<text x="740.4" y="320.5" font-size="32" text-anchor="end" textLength="68" lengthAdjust="spacingAndGlyphs">0.020</text>
<line x1="768.3" y1="555" x2="777.3" y2="555" stroke="#222" stroke-width="1.7"/>
<text x="740.4" y="565.5" font-size="32" text-anchor="end" textLength="68" lengthAdjust="spacingAndGlyphs">0.000</text>
<text x="662.8" y="313" font-size="31" textLength="29" lengthAdjust="spacingAndGlyphs" transform="rotate(-90 662.8 313)">M&#8242;</text>
<text x="1038" y="289.3" font-size="27" textLength="85.6" lengthAdjust="spacingAndGlyphs">0.04 Hz</text>
<text x="1278" y="25.8" font-size="31" textLength="77" lengthAdjust="spacingAndGlyphs">1MHz</text>
<line x1="1129.8" y1="244.4" x2="1296" y2="26.7" stroke="#000" stroke-width="1.3"/>
<line x1="1296" y1="26.7" x2="1279" y2="32" stroke="#000" stroke-width="1.3"/>
<line x1="1296" y1="26.7" x2="1294" y2="44" stroke="#000" stroke-width="1.3"/>
<text x="911.7" y="594" font-size="35" textLength="43" lengthAdjust="spacingAndGlyphs">(<tspan font-weight="bold">b</tspan>)</text>
<line x1="768.3" y1="584" x2="768.3" y2="1172" stroke="#222" stroke-width="1.7"/>
<line x1="767.5" y1="1171" x2="1347" y2="1171" stroke="#222" stroke-width="1.7"/>
<line x1="768.3" y1="706" x2="777.3" y2="706" stroke="#222" stroke-width="1.7"/>
<text x="740.4" y="716.5" font-size="32" text-anchor="end" textLength="68" lengthAdjust="spacingAndGlyphs">0.015</text>
<line x1="768.3" y1="861" x2="777.3" y2="861" stroke="#222" stroke-width="1.7"/>
<text x="740.4" y="871.5" font-size="32" text-anchor="end" textLength="68" lengthAdjust="spacingAndGlyphs">0.010</text>
<line x1="768.3" y1="1016" x2="777.3" y2="1016" stroke="#222" stroke-width="1.7"/>
<text x="740.4" y="1026.5" font-size="32" text-anchor="end" textLength="68" lengthAdjust="spacingAndGlyphs">0.005</text>
<line x1="768.3" y1="1171" x2="777.3" y2="1171" stroke="#222" stroke-width="1.7"/>
<text x="740.4" y="1181.5" font-size="32" text-anchor="end" textLength="68" lengthAdjust="spacingAndGlyphs">0.000</text>
<path d="M792.7 1169.1l5.6 0 7.2 0 6.4 0 6.3 0 6.4 0 6.4 0 6.4 0 6.3 0 6.4 0 6.4 0 6.4 0 6.4 0 6.3 0 6.4 0 6.4 0 6.4 0 6.4 0 6.3 0 6.4 0 6.4 0 6.4 0 6.4 0 6.3 0 6.4 0 6.4 0 6.4 0 6.4 0 6.3 -0.1 6.4 0 6.4 0 6.4 0 6.3 0 6.4 0 6.4 0 6.4 0 6.4 0 6.3 0 6.4 0 6.4 0 6.4 -0.1 6.4 0 6.3 0 6.4 0 6.4 0 6.4 0 6.4 -0.1 6.3 0 6.4 0 6.4 0 6.4 0 6.3 -0.1 6.4 0 6.4 0 6.4 -0.1 6.4 0 6.3 0 6.4 -0.1 6.4 0 6.4 -0.1 6.4 0 6.3 -0.1 6.4 0 6.4 -0.1 6.4 0 6.4 -0.1 6.3 -0.1 6.4 -0.1 6.4 0 6.4 -0.1 6.4 -0.1 6.3 -0.1 6.4 -0.1 6.4 -0.1 6.4 -0.2 6.3 -0.1 6.4 -0.1 6.4 -0.2 6.4 -0.1 6.4 -0.2 6.3 -0.2 6.4 -0.2 6.4 -0.2 7.2 -0.2 5.6 -0.2" fill="none" stroke="#808000" stroke-width="3.3" stroke-linejoin="round"/>
<path d="M788.7 1169.1a4 4 0 1 0 8 0a4 4 0 1 0 -8 0M801.5 1169.1a4 4 0 1 0 8 0a4 4 0 1 0 -8 0M814.2 1169.1a4 4 0 1 0 8 0a4 4 0 1 0 -8 0M827 1169.1a4 4 0 1 0 8 0a4 4 0 1 0 -8 0M839.7 1169.1a4 4 0 1 0 8 0a4 4 0 1 0 -8 0M852.5 1169.1a4 4 0 1 0 8 0a4 4 0 1 0 -8 0M865.3 1169.1a4 4 0 1 0 8 0a4 4 0 1 0 -8 0M878 1169.1a4 4 0 1 0 8 0a4 4 0 1 0 -8 0M890.8 1169.1a4 4 0 1 0 8 0a4 4 0 1 0 -8 0M903.5 1169.1a4 4 0 1 0 8 0a4 4 0 1 0 -8 0M916.3 1169.1a4 4 0 1 0 8 0a4 4 0 1 0 -8 0M929.1 1169.1a4 4 0 1 0 8 0a4 4 0 1 0 -8 0M941.8 1169.1a4 4 0 1 0 8 0a4 4 0 1 0 -8 0M954.6 1169.1a4 4 0 1 0 8 0a4 4 0 1 0 -8 0M967.3 1169a4 4 0 1 0 8 0a4 4 0 1 0 -8 0M980.1 1169a4 4 0 1 0 8 0a4 4 0 1 0 -8 0M992.8 1169a4 4 0 1 0 8 0a4 4 0 1 0 -8 0M1005.6 1169a4 4 0 1 0 8 0a4 4 0 1 0 -8 0M1018.4 1169a4 4 0 1 0 8 0a4 4 0 1 0 -8 0M1031.1 1169a4 4 0 1 0 8 0a4 4 0 1 0 -8 0M1043.9 1168.9a4 4 0 1 0 8 0a4 4 0 1 0 -8 0M1056.6 1168.9a4 4 0 1 0 8 0a4 4 0 1 0 -8 0M1069.4 1168.9a4 4 0 1 0 8 0a4 4 0 1 0 -8 0M1082.2 1168.8a4 4 0 1 0 8 0a4 4 0 1 0 -8 0M1094.9 1168.8a4 4 0 1 0 8 0a4 4 0 1 0 -8 0M1107.7 1168.8a4 4 0 1 0 8 0a4 4 0 1 0 -8 0M1120.4 1168.7a4 4 0 1 0 8 0a4 4 0 1 0 -8 0M1133.2 1168.6a4 4 0 1 0 8 0a4 4 0 1 0 -8 0M1145.9 1168.6a4 4 0 1 0 8 0a4 4 0 1 0 -8 0M1158.7 1168.5a4 4 0 1 0 8 0a4 4 0 1 0 -8 0M1171.5 1168.4a4 4 0 1 0 8 0a4 4 0 1 0 -8 0M1184.2 1168.3a4 4 0 1 0 8 0a4 4 0 1 0 -8 0M1197 1168.2a4 4 0 1 0 8 0a4 4 0 1 0 -8 0M1209.7 1168a4 4 0 1 0 8 0a4 4 0 1 0 -8 0M1222.5 1167.9a4 4 0 1 0 8 0a4 4 0 1 0 -8 0M1235.3 1167.7a4 4 0 1 0 8 0a4 4 0 1 0 -8 0M1248 1167.5a4 4 0 1 0 8 0a4 4 0 1 0 -8 0M1260.8 1167.2a4 4 0 1 0 8 0a4 4 0 1 0 -8 0M1273.5 1167a4 4 0 1 0 8 0a4 4 0 1 0 -8 0M1286.3 1166.7a4 4 0 1 0 8 0a4 4 0 1 0 -8 0M1299 1166.3a4 4 0 1 0 8 0a4 4 0 1 0 -8 0M1311.8 1165.9a4 4 0 1 0 8 0a4 4 0 1 0 -8 0M1324.6 1165.5a4 4 0 1 0 8 0a4 4 0 1 0 -8 0" fill="#808000"/>
<path d="M792.7 1169.1l5.6 0 7.2 0 6.4 0 6.3 0 6.4 0 6.4 0 6.4 0 6.3 0 6.4 0 6.4 0 6.4 0 6.4 0 6.3 0 6.4 0 6.4 0 6.4 0 6.4 0 6.3 0 6.4 0 6.4 0 6.4 0 6.4 0 6.3 0 6.4 -0.1 6.4 0 6.4 0 6.4 0 6.3 0 6.4 0 6.4 0 6.4 0 6.3 0 6.4 0 6.4 0 6.4 -0.1 6.4 0 6.3 0 6.4 0 6.4 0 6.4 0 6.4 -0.1 6.3 0 6.4 0 6.4 0 6.4 0 6.4 -0.1 6.3 0 6.4 0 6.4 -0.1 6.4 0 6.3 0 6.4 -0.1 6.4 0 6.4 -0.1 6.4 0 6.3 -0.1 6.4 0 6.4 -0.1 6.4 -0.1 6.4 0 6.3 -0.1 6.4 -0.1 6.4 -0.1 6.4 -0.1 6.4 0 6.3 -0.2 6.4 -0.1 6.4 -0.1 6.4 -0.1 6.4 -0.1 6.3 -0.2 6.4 -0.1 6.4 -0.2 6.4 -0.2 6.3 -0.2 6.4 -0.2 6.4 -0.2 6.4 -0.2 6.4 -0.3 6.3 -0.3 6.4 -0.2 6.4 -0.3 7.2 -0.4 5.6 -0.3" fill="none" stroke="#FF0000" stroke-width="3.3" stroke-linejoin="round"/>
<path d="M788.7 1165.1l8 8m0 -8l-8 8M792.7 1165.1v8M801.5 1165.1l8 8m0 -8l-8 8M805.5 1165.1v8M814.2 1165.1l8 8m0 -8l-8 8M818.2 1165.1v8M827 1165.1l8 8m0 -8l-8 8M831 1165.1v8M839.7 1165.1l8 8m0 -8l-8 8M843.7 1165.1v8M852.5 1165.1l8 8m0 -8l-8 8M856.5 1165.1v8M865.3 1165.1l8 8m0 -8l-8 8M869.3 1165.1v8M878 1165.1l8 8m0 -8l-8 8M882 1165.1v8M890.8 1165.1l8 8m0 -8l-8 8M894.8 1165.1v8M903.5 1165.1l8 8m0 -8l-8 8M907.5 1165.1v8M916.3 1165.1l8 8m0 -8l-8 8M920.3 1165.1v8M929.1 1165.1l8 8m0 -8l-8 8M933.1 1165.1v8M941.8 1165l8 8m0 -8l-8 8M945.8 1165v8M954.6 1165l8 8m0 -8l-8 8M958.6 1165v8M967.3 1165l8 8m0 -8l-8 8M971.3 1165v8M980.1 1165l8 8m0 -8l-8 8M984.1 1165v8M992.8 1165l8 8m0 -8l-8 8M996.8 1165v8M1005.6 1165l8 8m0 -8l-8 8M1009.6 1165v8M1018.4 1164.9l8 8m0 -8l-8 8M1022.4 1164.9v8M1031.1 1164.9l8 8m0 -8l-8 8M1035.1 1164.9v8M1043.9 1164.9l8 8m0 -8l-8 8M1047.9 1164.9v8M1056.6 1164.8l8 8m0 -8l-8 8M1060.6 1164.8v8M1069.4 1164.8l8 8m0 -8l-8 8M1073.4 1164.8v8M1082.2 1164.7l8 8m0 -8l-8 8M1086.2 1164.7v8M1094.9 1164.7l8 8m0 -8l-8 8M1098.9 1164.7v8M1107.7 1164.6l8 8m0 -8l-8 8M1111.7 1164.6v8M1120.4 1164.5l8 8m0 -8l-8 8M1124.4 1164.5v8M1133.2 1164.4l8 8m0 -8l-8 8M1137.2 1164.4v8M1145.9 1164.3l8 8m0 -8l-8 8M1149.9 1164.3v8M1158.7 1164.2l8 8m0 -8l-8 8M1162.7 1164.2v8M1171.5 1164.1l8 8m0 -8l-8 8M1175.5 1164.1v8M1184.2 1163.9l8 8m0 -8l-8 8M1188.2 1163.9v8M1197 1163.7l8 8m0 -8l-8 8M1201 1163.7v8M1209.7 1163.5l8 8m0 -8l-8 8M1213.7 1163.5v8M1222.5 1163.3l8 8m0 -8l-8 8M1226.5 1163.3v8M1235.3 1163.1l8 8m0 -8l-8 8M1239.3 1163.1v8M1248 1162.8l8 8m0 -8l-8 8M1252 1162.8v8M1260.8 1162.4l8 8m0 -8l-8 8M1264.8 1162.4v8M1273.5 1162l8 8m0 -8l-8 8M1277.5 1162v8M1286.3 1161.6l8 8m0 -8l-8 8M1290.3 1161.6v8M1299 1161l8 8m0 -8l-8 8M1303 1161v8M1311.8 1160.5l8 8m0 -8l-8 8M1315.8 1160.5v8M1324.6 1159.8l8 8m0 -8l-8 8M1328.6 1159.8v8" stroke="#FF0000" stroke-width="1.4" fill="none"/>
<path d="M792.7 1169.1l5.6 0 7.2 0 6.4 0 6.3 0 6.4 0 6.4 0 6.4 0 6.3 0 6.4 0 6.4 0 6.4 0 6.4 0 6.3 0 6.4 0 6.4 0 6.4 0 6.4 0 6.3 0 6.4 0 6.4 -0.1 6.4 0 6.4 0 6.3 0 6.4 0 6.4 0 6.4 0 6.4 0 6.3 0 6.4 0 6.4 0 6.4 -0.1 6.3 0 6.4 0 6.4 0 6.4 0 6.4 0 6.3 -0.1 6.4 0 6.4 0 6.4 0 6.4 -0.1 6.3 0 6.4 0 6.4 -0.1 6.4 0 6.4 0 6.3 -0.1 6.4 0 6.4 -0.1 6.4 0 6.3 -0.1 6.4 0 6.4 -0.1 6.4 0 6.4 -0.1 6.3 -0.1 6.4 -0.1 6.4 -0.1 6.4 0 6.4 -0.1 6.3 -0.2 6.4 -0.1 6.4 -0.1 6.4 -0.1 6.4 -0.2 6.3 -0.1 6.4 -0.2 6.4 -0.1 6.4 -0.2 6.4 -0.2 6.3 -0.2 6.4 -0.3 6.4 -0.2 6.4 -0.3 6.3 -0.2 6.4 -0.3 6.4 -0.4 6.4 -0.3 6.4 -0.4 6.3 -0.3 6.4 -0.5 6.4 -0.4 7.2 -0.6 5.6 -0.4" fill="none" stroke="#000080" stroke-width="3.3" stroke-linejoin="round"/>
<path d="M788.7 1165.1l8 8m0 -8l-8 8M801.5 1165.1l8 8m0 -8l-8 8M814.2 1165.1l8 8m0 -8l-8 8M827 1165.1l8 8m0 -8l-8 8M839.7 1165.1l8 8m0 -8l-8 8M852.5 1165.1l8 8m0 -8l-8 8M865.3 1165.1l8 8m0 -8l-8 8M878 1165.1l8 8m0 -8l-8 8M890.8 1165.1l8 8m0 -8l-8 8M903.5 1165.1l8 8m0 -8l-8 8M916.3 1165l8 8m0 -8l-8 8M929.1 1165l8 8m0 -8l-8 8M941.8 1165l8 8m0 -8l-8 8M954.6 1165l8 8m0 -8l-8 8M967.3 1165l8 8m0 -8l-8 8M980.1 1165l8 8m0 -8l-8 8M992.8 1164.9l8 8m0 -8l-8 8M1005.6 1164.9l8 8m0 -8l-8 8M1018.4 1164.9l8 8m0 -8l-8 8M1031.1 1164.8l8 8m0 -8l-8 8M1043.9 1164.8l8 8m0 -8l-8 8M1056.6 1164.7l8 8m0 -8l-8 8M1069.4 1164.6l8 8m0 -8l-8 8M1082.2 1164.6l8 8m0 -8l-8 8M1094.9 1164.5l8 8m0 -8l-8 8M1107.7 1164.4l8 8m0 -8l-8 8M1120.4 1164.3l8 8m0 -8l-8 8M1133.2 1164.2l8 8m0 -8l-8 8M1145.9 1164l8 8m0 -8l-8 8M1158.7 1163.8l8 8m0 -8l-8 8M1171.5 1163.7l8 8m0 -8l-8 8M1184.2 1163.4l8 8m0 -8l-8 8M1197 1163.2l8 8m0 -8l-8 8M1209.7 1162.9l8 8m0 -8l-8 8M1222.5 1162.6l8 8m0 -8l-8 8M1235.3 1162.2l8 8m0 -8l-8 8M1248 1161.7l8 8m0 -8l-8 8M1260.8 1161.2l8 8m0 -8l-8 8M1273.5 1160.7l8 8m0 -8l-8 8M1286.3 1160l8 8m0 -8l-8 8M1299 1159.3l8 8m0 -8l-8 8M1311.8 1158.4l8 8m0 -8l-8 8M1324.6 1157.4l8 8m0 -8l-8 8" stroke="#000080" stroke-width="1.4" fill="none"/>
<path d="M792.7 1169.1l5.6 0 7.2 0 6.4 0 6.3 0 6.4 0 6.4 0 6.4 0 6.3 0 6.4 0 6.4 0 6.4 0 6.4 0 6.3 0 6.4 0 6.4 0 6.4 -0.1 6.4 0 6.3 0 6.4 0 6.4 0 6.4 0 6.4 0 6.3 0 6.4 0 6.4 0 6.4 0 6.4 -0.1 6.3 0 6.4 0 6.4 0 6.4 0 6.3 0 6.4 -0.1 6.4 0 6.4 0 6.4 0 6.3 -0.1 6.4 0 6.4 0 6.4 -0.1 6.4 0 6.3 0 6.4 -0.1 6.4 0 6.4 -0.1 6.4 0 6.3 -0.1 6.4 0 6.4 -0.1 6.4 -0.1 6.3 -0.1 6.4 0 6.4 -0.1 6.4 -0.1 6.4 -0.1 6.3 -0.1 6.4 -0.1 6.4 -0.1 6.4 -0.2 6.4 -0.1 6.3 -0.2 6.4 -0.1 6.4 -0.2 6.4 -0.2 6.4 -0.2 6.3 -0.2 6.4 -0.2 6.4 -0.3 6.4 -0.2 6.4 -0.3 6.3 -0.3 6.4 -0.3 6.4 -0.4 6.4 -0.3 6.3 -0.4 6.4 -0.5 6.4 -0.4 6.4 -0.5 6.4 -0.5 6.3 -0.6 6.4 -0.6 6.4 -0.7 7.2 -0.8 5.6 -0.6" fill="none" stroke="#008080" stroke-width="3.3" stroke-linejoin="round"/>
<path d="M792.7 1164.7l4 7.6h-8zM805.5 1164.7l4 7.6h-8zM818.2 1164.7l4 7.6h-8zM831 1164.7l4 7.6h-8zM843.7 1164.7l4 7.6h-8zM856.5 1164.7l4 7.6h-8zM869.3 1164.7l4 7.6h-8zM882 1164.7l4 7.6h-8zM894.8 1164.6l4 7.6h-8zM907.5 1164.6l4 7.6h-8zM920.3 1164.6l4 7.6h-8zM933.1 1164.6l4 7.6h-8zM945.8 1164.6l4 7.6h-8zM958.6 1164.6l4 7.6h-8zM971.3 1164.5l4 7.6h-8zM984.1 1164.5l4 7.6h-8zM996.8 1164.5l4 7.6h-8zM1009.6 1164.4l4 7.6h-8zM1022.4 1164.4l4 7.6h-8zM1035.1 1164.3l4 7.6h-8zM1047.9 1164.2l4 7.6h-8zM1060.6 1164.2l4 7.6h-8zM1073.4 1164.1l4 7.6h-8zM1086.2 1164l4 7.6h-8zM1098.9 1163.9l4 7.6h-8zM1111.7 1163.7l4 7.6h-8zM1124.4 1163.6l4 7.6h-8zM1137.2 1163.4l4 7.6h-8zM1149.9 1163.2l4 7.6h-8zM1162.7 1163l4 7.6h-8zM1175.5 1162.7l4 7.6h-8zM1188.2 1162.4l4 7.6h-8zM1201 1162l4 7.6h-8zM1213.7 1161.6l4 7.6h-8zM1226.5 1161.1l4 7.6h-8zM1239.3 1160.6l4 7.6h-8zM1252 1160l4 7.6h-8zM1264.8 1159.3l4 7.6h-8zM1277.5 1158.4l4 7.6h-8zM1290.3 1157.5l4 7.6h-8zM1303 1156.4l4 7.6h-8zM1315.8 1155.1l4 7.6h-8zM1328.6 1153.7l4 7.6h-8z" fill="#008080"/>
<path d="M792.7 1169.1l5.6 0 7.2 0 6.4 0 6.3 0 6.4 0 6.4 0 6.4 0 6.3 0 6.4 0 6.4 0 6.4 0 6.4 0 6.3 -0.1 6.4 0 6.4 0 6.4 0 6.4 0 6.3 0 6.4 0 6.4 0 6.4 0 6.4 0 6.3 -0.1 6.4 0 6.4 0 6.4 0 6.4 0 6.3 0 6.4 -0.1 6.4 0 6.4 0 6.3 0 6.4 -0.1 6.4 0 6.4 0 6.4 -0.1 6.3 0 6.4 0 6.4 -0.1 6.4 0 6.4 -0.1 6.3 0 6.4 -0.1 6.4 0 6.4 -0.1 6.4 -0.1 6.3 -0.1 6.4 0 6.4 -0.1 6.4 -0.1 6.3 -0.1 6.4 -0.1 6.4 -0.1 6.4 -0.2 6.4 -0.1 6.3 -0.2 6.4 -0.1 6.4 -0.2 6.4 -0.2 6.4 -0.1 6.3 -0.3 6.4 -0.2 6.4 -0.2 6.4 -0.3 6.4 -0.2 6.3 -0.3 6.4 -0.4 6.4 -0.3 6.4 -0.4 6.4 -0.4 6.3 -0.4 6.4 -0.4 6.4 -0.5 6.4 -0.5 6.3 -0.6 6.4 -0.6 6.4 -0.7 6.4 -0.7 6.4 -0.7 6.3 -0.8 6.4 -0.9 6.4 -0.9 7.2 -1.1 5.6 -1" fill="none" stroke="#FFC0CB" stroke-width="3.3" stroke-linejoin="round"/>
<path d="M788.7 1165.1h8v8h-8zM801.5 1165.1h8v8h-8zM814.2 1165.1h8v8h-8zM827 1165.1h8v8h-8zM839.7 1165.1h8v8h-8zM852.5 1165.1h8v8h-8zM865.3 1165.1h8v8h-8zM878 1165h8v8h-8zM890.8 1165h8v8h-8zM903.5 1165h8v8h-8zM916.3 1165h8v8h-8zM929.1 1165h8v8h-8zM941.8 1164.9h8v8h-8zM954.6 1164.9h8v8h-8zM967.3 1164.9h8v8h-8zM980.1 1164.8h8v8h-8zM992.8 1164.8h8v8h-8zM1005.6 1164.7h8v8h-8zM1018.4 1164.6h8v8h-8zM1031.1 1164.6h8v8h-8zM1043.9 1164.5h8v8h-8zM1056.6 1164.4h8v8h-8zM1069.4 1164.3h8v8h-8zM1082.2 1164.1h8v8h-8zM1094.9 1164h8v8h-8zM1107.7 1163.8h8v8h-8zM1120.4 1163.6h8v8h-8zM1133.2 1163.3h8v8h-8zM1145.9 1163h8v8h-8zM1158.7 1162.7h8v8h-8zM1171.5 1162.4h8v8h-8zM1184.2 1161.9h8v8h-8zM1197 1161.4h8v8h-8zM1209.7 1160.9h8v8h-8zM1222.5 1160.2h8v8h-8zM1235.3 1159.4h8v8h-8zM1248 1158.6h8v8h-8zM1260.8 1157.6h8v8h-8zM1273.5 1156.4h8v8h-8zM1286.3 1155h8v8h-8zM1299 1153.5h8v8h-8zM1311.8 1151.7h8v8h-8zM1324.6 1149.6h8v8h-8z" fill="#FFC0CB"/>
<path d="M792.7 1169.1l5.6 0 7.2 0 6.4 0 6.3 0 6.4 0 6.4 0 6.4 0 6.3 0 6.4 0 6.4 -0.1 6.4 0 6.4 0 6.3 0 6.4 0 6.4 0 6.4 0 6.4 0 6.3 0 6.4 0 6.4 -0.1 6.4 0 6.4 0 6.3 0 6.4 0 6.4 0 6.4 -0.1 6.4 0 6.3 0 6.4 0 6.4 -0.1 6.4 0 6.3 0 6.4 -0.1 6.4 0 6.4 -0.1 6.4 0 6.3 -0.1 6.4 0 6.4 -0.1 6.4 0 6.4 -0.1 6.3 -0.1 6.4 0 6.4 -0.1 6.4 -0.1 6.4 -0.1 6.3 -0.1 6.4 -0.1 6.4 -0.1 6.4 -0.2 6.3 -0.1 6.4 -0.1 6.4 -0.2 6.4 -0.2 6.4 -0.1 6.3 -0.2 6.4 -0.2 6.4 -0.3 6.4 -0.2 6.4 -0.3 6.3 -0.3 6.4 -0.3 6.4 -0.3 6.4 -0.3 6.4 -0.4 6.3 -0.4 6.4 -0.5 6.4 -0.4 6.4 -0.5 6.4 -0.6 6.3 -0.6 6.4 -0.6 6.4 -0.7 6.4 -0.7 6.3 -0.8 6.4 -0.8 6.4 -0.9 6.4 -1 6.4 -1 6.3 -1.2 6.4 -1.2 6.4 -1.3 7.2 -1.6 5.6 -1.3" fill="none" stroke="#800000" stroke-width="3.3" stroke-linejoin="round"/>
<path d="M792.7 1164.3l4.8 4.8l-4.8 4.8l-4.8 -4.8zM805.5 1164.3l4.8 4.8l-4.8 4.8l-4.8 -4.8zM818.2 1164.3l4.8 4.8l-4.8 4.8l-4.8 -4.8zM831 1164.3l4.8 4.8l-4.8 4.8l-4.8 -4.8zM843.7 1164.3l4.8 4.8l-4.8 4.8l-4.8 -4.8zM856.5 1164.2l4.8 4.8l-4.8 4.8l-4.8 -4.8zM869.3 1164.2l4.8 4.8l-4.8 4.8l-4.8 -4.8zM882 1164.2l4.8 4.8l-4.8 4.8l-4.8 -4.8zM894.8 1164.2l4.8 4.8l-4.8 4.8l-4.8 -4.8zM907.5 1164.2l4.8 4.8l-4.8 4.8l-4.8 -4.8zM920.3 1164.1l4.8 4.8l-4.8 4.8l-4.8 -4.8zM933.1 1164.1l4.8 4.8l-4.8 4.8l-4.8 -4.8zM945.8 1164.1l4.8 4.8l-4.8 4.8l-4.8 -4.8zM958.6 1164l4.8 4.8l-4.8 4.8l-4.8 -4.8zM971.3 1164l4.8 4.8l-4.8 4.8l-4.8 -4.8zM984.1 1163.9l4.8 4.8l-4.8 4.8l-4.8 -4.8zM996.8 1163.9l4.8 4.8l-4.8 4.8l-4.8 -4.8zM1009.6 1163.8l4.8 4.8l-4.8 4.8l-4.8 -4.8zM1022.4 1163.7l4.8 4.8l-4.8 4.8l-4.8 -4.8zM1035.1 1163.6l4.8 4.8l-4.8 4.8l-4.8 -4.8zM1047.9 1163.5l4.8 4.8l-4.8 4.8l-4.8 -4.8zM1060.6 1163.3l4.8 4.8l-4.8 4.8l-4.8 -4.8zM1073.4 1163.2l4.8 4.8l-4.8 4.8l-4.8 -4.8zM1086.2 1163l4.8 4.8l-4.8 4.8l-4.8 -4.8zM1098.9 1162.8l4.8 4.8l-4.8 4.8l-4.8 -4.8zM1111.7 1162.5l4.8 4.8l-4.8 4.8l-4.8 -4.8zM1124.4 1162.3l4.8 4.8l-4.8 4.8l-4.8 -4.8zM1137.2 1161.9l4.8 4.8l-4.8 4.8l-4.8 -4.8zM1149.9 1161.6l4.8 4.8l-4.8 4.8l-4.8 -4.8zM1162.7 1161.1l4.8 4.8l-4.8 4.8l-4.8 -4.8zM1175.5 1160.6l4.8 4.8l-4.8 4.8l-4.8 -4.8zM1188.2 1160l4.8 4.8l-4.8 4.8l-4.8 -4.8zM1201 1159.4l4.8 4.8l-4.8 4.8l-4.8 -4.8zM1213.7 1158.6l4.8 4.8l-4.8 4.8l-4.8 -4.8zM1226.5 1157.7l4.8 4.8l-4.8 4.8l-4.8 -4.8zM1239.3 1156.6l4.8 4.8l-4.8 4.8l-4.8 -4.8zM1252 1155.4l4.8 4.8l-4.8 4.8l-4.8 -4.8zM1264.8 1154l4.8 4.8l-4.8 4.8l-4.8 -4.8zM1277.5 1152.4l4.8 4.8l-4.8 4.8l-4.8 -4.8zM1290.3 1150.5l4.8 4.8l-4.8 4.8l-4.8 -4.8zM1303 1148.3l4.8 4.8l-4.8 4.8l-4.8 -4.8zM1315.8 1145.8l4.8 4.8l-4.8 4.8l-4.8 -4.8zM1328.6 1142.9l4.8 4.8l-4.8 4.8l-4.8 -4.8z" fill="#800000"/>
<path d="M792.7 1169.1l5.6 0 7.2 0 6.4 0 6.3 0 6.4 0 6.4 0 6.4 -0.1 6.3 0 6.4 0 6.4 0 6.4 0 6.4 0 6.3 0 6.4 0 6.4 0 6.4 0 6.4 -0.1 6.3 0 6.4 0 6.4 0 6.4 0 6.4 0 6.3 -0.1 6.4 0 6.4 0 6.4 0 6.4 -0.1 6.3 0 6.4 0 6.4 -0.1 6.4 0 6.3 -0.1 6.4 0 6.4 -0.1 6.4 0 6.4 -0.1 6.3 0 6.4 -0.1 6.4 -0.1 6.4 -0.1 6.4 0 6.3 -0.1 6.4 -0.1 6.4 -0.1 6.4 -0.2 6.4 -0.1 6.3 -0.1 6.4 -0.2 6.4 -0.1 6.4 -0.2 6.3 -0.2 6.4 -0.1 6.4 -0.3 6.4 -0.2 6.4 -0.2 6.3 -0.3 6.4 -0.3 6.4 -0.3 6.4 -0.3 6.4 -0.3 6.3 -0.4 6.4 -0.4 6.4 -0.5 6.4 -0.4 6.4 -0.5 6.3 -0.6 6.4 -0.6 6.4 -0.6 6.4 -0.7 6.4 -0.7 6.3 -0.8 6.4 -0.9 6.4 -0.9 6.4 -1 6.3 -1.1 6.4 -1.1 6.4 -1.3 6.4 -1.3 6.4 -1.4 6.3 -1.6 6.4 -1.7 6.4 -1.8 7.2 -2.2 5.6 -1.8" fill="none" stroke="#FF66CC" stroke-width="3.3" stroke-linejoin="round"/>
<path d="M788.7 1169.1a4 4 0 1 0 8 0a4 4 0 1 0 -8 0M801.5 1169.1a4 4 0 1 0 8 0a4 4 0 1 0 -8 0M814.2 1169.1a4 4 0 1 0 8 0a4 4 0 1 0 -8 0M827 1169.1a4 4 0 1 0 8 0a4 4 0 1 0 -8 0M839.7 1169a4 4 0 1 0 8 0a4 4 0 1 0 -8 0M852.5 1169a4 4 0 1 0 8 0a4 4 0 1 0 -8 0M865.3 1169a4 4 0 1 0 8 0a4 4 0 1 0 -8 0M878 1169a4 4 0 1 0 8 0a4 4 0 1 0 -8 0M890.8 1169a4 4 0 1 0 8 0a4 4 0 1 0 -8 0M903.5 1168.9a4 4 0 1 0 8 0a4 4 0 1 0 -8 0M916.3 1168.9a4 4 0 1 0 8 0a4 4 0 1 0 -8 0M929.1 1168.9a4 4 0 1 0 8 0a4 4 0 1 0 -8 0M941.8 1168.8a4 4 0 1 0 8 0a4 4 0 1 0 -8 0M954.6 1168.8a4 4 0 1 0 8 0a4 4 0 1 0 -8 0M967.3 1168.7a4 4 0 1 0 8 0a4 4 0 1 0 -8 0M980.1 1168.6a4 4 0 1 0 8 0a4 4 0 1 0 -8 0M992.8 1168.5a4 4 0 1 0 8 0a4 4 0 1 0 -8 0M1005.6 1168.4a4 4 0 1 0 8 0a4 4 0 1 0 -8 0M1018.4 1168.3a4 4 0 1 0 8 0a4 4 0 1 0 -8 0M1031.1 1168.2a4 4 0 1 0 8 0a4 4 0 1 0 -8 0M1043.9 1168a4 4 0 1 0 8 0a4 4 0 1 0 -8 0M1056.6 1167.9a4 4 0 1 0 8 0a4 4 0 1 0 -8 0M1069.4 1167.7a4 4 0 1 0 8 0a4 4 0 1 0 -8 0M1082.2 1167.4a4 4 0 1 0 8 0a4 4 0 1 0 -8 0M1094.9 1167.1a4 4 0 1 0 8 0a4 4 0 1 0 -8 0M1107.7 1166.8a4 4 0 1 0 8 0a4 4 0 1 0 -8 0M1120.4 1166.5a4 4 0 1 0 8 0a4 4 0 1 0 -8 0M1133.2 1166a4 4 0 1 0 8 0a4 4 0 1 0 -8 0M1145.9 1165.5a4 4 0 1 0 8 0a4 4 0 1 0 -8 0M1158.7 1164.9a4 4 0 1 0 8 0a4 4 0 1 0 -8 0M1171.5 1164.3a4 4 0 1 0 8 0a4 4 0 1 0 -8 0M1184.2 1163.5a4 4 0 1 0 8 0a4 4 0 1 0 -8 0M1197 1162.6a4 4 0 1 0 8 0a4 4 0 1 0 -8 0M1209.7 1161.5a4 4 0 1 0 8 0a4 4 0 1 0 -8 0M1222.5 1160.3a4 4 0 1 0 8 0a4 4 0 1 0 -8 0M1235.3 1158.9a4 4 0 1 0 8 0a4 4 0 1 0 -8 0M1248 1157.2a4 4 0 1 0 8 0a4 4 0 1 0 -8 0M1260.8 1155.3a4 4 0 1 0 8 0a4 4 0 1 0 -8 0M1273.5 1153.1a4 4 0 1 0 8 0a4 4 0 1 0 -8 0M1286.3 1150.5a4 4 0 1 0 8 0a4 4 0 1 0 -8 0M1299 1147.5a4 4 0 1 0 8 0a4 4 0 1 0 -8 0M1311.8 1144a4 4 0 1 0 8 0a4 4 0 1 0 -8 0M1324.6 1140a4 4 0 1 0 8 0a4 4 0 1 0 -8 0" fill="#FF66CC"/>
<path d="M792.7 1169.1l5.6 0 7.2 0 6.4 0 6.3 0 6.4 -0.1 6.4 0 6.4 0 6.3 0 6.4 0 6.4 0 6.4 0 6.4 0 6.3 0 6.4 0 6.4 -0.1 6.4 0 6.4 0 6.3 0 6.4 0 6.4 -0.1 6.4 0 6.4 0 6.3 0 6.4 -0.1 6.4 0 6.4 0 6.4 -0.1 6.3 0 6.4 -0.1 6.4 0 6.4 0 6.3 -0.1 6.4 -0.1 6.4 0 6.4 -0.1 6.4 -0.1 6.3 0 6.4 -0.1 6.4 -0.1 6.4 -0.1 6.4 -0.1 6.3 -0.2 6.4 -0.1 6.4 -0.1 6.4 -0.2 6.4 -0.1 6.3 -0.2 6.4 -0.2 6.4 -0.2 6.4 -0.2 6.3 -0.2 6.4 -0.3 6.4 -0.2 6.4 -0.3 6.4 -0.3 6.3 -0.4 6.4 -0.3 6.4 -0.4 6.4 -0.5 6.4 -0.4 6.3 -0.5 6.4 -0.6 6.4 -0.5 6.4 -0.7 6.4 -0.6 6.3 -0.8 6.4 -0.7 6.4 -0.9 6.4 -0.9 6.4 -1 6.3 -1 6.4 -1.2 6.4 -1.2 6.4 -1.4 6.3 -1.4 6.4 -1.5 6.4 -1.7 6.4 -1.8 6.4 -2 6.3 -2.1 6.4 -2.2 6.4 -2.5 7.2 -3 5.6 -2.5" fill="none" stroke="#00B0F0" stroke-width="3.3" stroke-linejoin="round"/>
<path d="M788.7 1165.1h8v8h-8zM801.5 1165.1h8v8h-8zM814.2 1165.1h8v8h-8zM827 1165h8v8h-8zM839.7 1165h8v8h-8zM852.5 1165h8v8h-8zM865.3 1165h8v8h-8zM878 1165h8v8h-8zM890.8 1164.9h8v8h-8zM903.5 1164.9h8v8h-8zM916.3 1164.8h8v8h-8zM929.1 1164.8h8v8h-8zM941.8 1164.7h8v8h-8zM954.6 1164.7h8v8h-8zM967.3 1164.6h8v8h-8zM980.1 1164.5h8v8h-8zM992.8 1164.4h8v8h-8zM1005.6 1164.3h8v8h-8zM1018.4 1164.1h8v8h-8zM1031.1 1164h8v8h-8zM1043.9 1163.8h8v8h-8zM1056.6 1163.5h8v8h-8zM1069.4 1163.3h8v8h-8zM1082.2 1163h8v8h-8zM1094.9 1162.6h8v8h-8zM1107.7 1162.2h8v8h-8zM1120.4 1161.7h8v8h-8zM1133.2 1161.2h8v8h-8zM1145.9 1160.5h8v8h-8zM1158.7 1159.8h8v8h-8zM1171.5 1158.9h8v8h-8zM1184.2 1157.8h8v8h-8zM1197 1156.6h8v8h-8zM1209.7 1155.2h8v8h-8zM1222.5 1153.6h8v8h-8zM1235.3 1151.7h8v8h-8zM1248 1149.5h8v8h-8zM1260.8 1146.9h8v8h-8zM1273.5 1144h8v8h-8zM1286.3 1140.5h8v8h-8zM1299 1136.4h8v8h-8zM1311.8 1131.7h8v8h-8zM1324.6 1126.2h8v8h-8z" fill="#00B0F0"/>
<path d="M792.7 1169.1l5.6 0 7.2 0 6.4 -0.1 6.3 0 6.4 0 6.4 0 6.4 0 6.3 0 6.4 0 6.4 0 6.4 0 6.4 0 6.3 -0.1 6.4 0 6.4 0 6.4 0 6.4 0 6.3 -0.1 6.4 0 6.4 0 6.4 0 6.4 -0.1 6.3 0 6.4 0 6.4 -0.1 6.4 0 6.4 -0.1 6.3 0 6.4 -0.1 6.4 0 6.4 -0.1 6.3 -0.1 6.4 0 6.4 -0.1 6.4 -0.1 6.4 -0.1 6.3 -0.1 6.4 -0.1 6.4 -0.1 6.4 -0.1 6.4 -0.2 6.3 -0.1 6.4 -0.2 6.4 -0.1 6.4 -0.2 6.4 -0.2 6.3 -0.2 6.4 -0.3 6.4 -0.2 6.4 -0.3 6.3 -0.3 6.4 -0.3 6.4 -0.3 6.4 -0.4 6.4 -0.4 6.3 -0.4 6.4 -0.5 6.4 -0.5 6.4 -0.6 6.4 -0.6 6.3 -0.6 6.4 -0.7 6.4 -0.7 6.4 -0.8 6.4 -0.9 6.3 -1 6.4 -1 6.4 -1.1 6.4 -1.2 6.4 -1.3 6.3 -1.3 6.4 -1.5 6.4 -1.7 6.4 -1.7 6.3 -1.9 6.4 -2.1 6.4 -2.2 6.4 -2.4 6.4 -2.6 6.3 -2.8 6.4 -3 6.4 -3.2 7.2 -4.1 5.6 -3.3" fill="none" stroke="#FF7F00" stroke-width="3.3" stroke-linejoin="round"/>
<path d="M792.7 1164.7l4 7.6h-8zM805.5 1164.7l4 7.6h-8zM818.2 1164.6l4 7.6h-8zM831 1164.6l4 7.6h-8zM843.7 1164.6l4 7.6h-8zM856.5 1164.6l4 7.6h-8zM869.3 1164.6l4 7.6h-8zM882 1164.5l4 7.6h-8zM894.8 1164.5l4 7.6h-8zM907.5 1164.4l4 7.6h-8zM920.3 1164.4l4 7.6h-8zM933.1 1164.3l4 7.6h-8zM945.8 1164.3l4 7.6h-8zM958.6 1164.2l4 7.6h-8zM971.3 1164.1l4 7.6h-8zM984.1 1164l4 7.6h-8zM996.8 1163.8l4 7.6h-8zM1009.6 1163.7l4 7.6h-8zM1022.4 1163.5l4 7.6h-8zM1035.1 1163.3l4 7.6h-8zM1047.9 1163.1l4 7.6h-8zM1060.6 1162.8l4 7.6h-8zM1073.4 1162.5l4 7.6h-8zM1086.2 1162.1l4 7.6h-8zM1098.9 1161.6l4 7.6h-8zM1111.7 1161.1l4 7.6h-8zM1124.4 1160.5l4 7.6h-8zM1137.2 1159.8l4 7.6h-8zM1149.9 1159l4 7.6h-8zM1162.7 1158l4 7.6h-8zM1175.5 1156.8l4 7.6h-8zM1188.2 1155.5l4 7.6h-8zM1201 1154l4 7.6h-8zM1213.7 1152.1l4 7.6h-8zM1226.5 1150l4 7.6h-8zM1239.3 1147.5l4 7.6h-8zM1252 1144.7l4 7.6h-8zM1264.8 1141.3l4 7.6h-8zM1277.5 1137.3l4 7.6h-8zM1290.3 1132.7l4 7.6h-8zM1303 1127.3l4 7.6h-8zM1315.8 1121.1l4 7.6h-8zM1328.6 1113.7l4 7.6h-8z" fill="#FF7F00"/>
<path d="M792.7 1169.1l5.6 0 7.2 -0.1 6.4 0 6.3 0 6.4 0 6.4 0 6.4 0 6.3 0 6.4 0 6.4 0 6.4 -0.1 6.4 0 6.3 0 6.4 0 6.4 0 6.4 -0.1 6.4 0 6.3 0 6.4 0 6.4 -0.1 6.4 0 6.4 0 6.3 -0.1 6.4 0 6.4 -0.1 6.4 0 6.4 -0.1 6.3 0 6.4 -0.1 6.4 -0.1 6.4 0 6.3 -0.1 6.4 -0.1 6.4 -0.1 6.4 -0.1 6.4 -0.1 6.3 -0.1 6.4 -0.2 6.4 -0.1 6.4 -0.1 6.4 -0.2 6.3 -0.2 6.4 -0.2 6.4 -0.2 6.4 -0.2 6.4 -0.3 6.3 -0.2 6.4 -0.3 6.4 -0.3 6.4 -0.4 6.3 -0.3 6.4 -0.4 6.4 -0.4 6.4 -0.5 6.4 -0.5 6.3 -0.5 6.4 -0.6 6.4 -0.7 6.4 -0.7 6.4 -0.7 6.3 -0.8 6.4 -0.9 6.4 -0.9 6.4 -1.1 6.4 -1.1 6.3 -1.2 6.4 -1.3 6.4 -1.4 6.4 -1.5 6.4 -1.6 6.3 -1.8 6.4 -2 6.4 -2 6.4 -2.3 6.3 -2.5 6.4 -2.6 6.4 -2.9 6.4 -3.1 6.4 -3.4 6.3 -3.6 6.4 -3.9 6.4 -4.3 7.2 -5.3 5.6 -4.3" fill="none" stroke="#8A1AA0" stroke-width="3.3" stroke-linejoin="round"/>
<path d="M792.7 1164.3l4.8 4.8l-4.8 4.8l-4.8 -4.8zM805.5 1164.2l4.8 4.8l-4.8 4.8l-4.8 -4.8zM818.2 1164.2l4.8 4.8l-4.8 4.8l-4.8 -4.8zM831 1164.2l4.8 4.8l-4.8 4.8l-4.8 -4.8zM843.7 1164.2l4.8 4.8l-4.8 4.8l-4.8 -4.8zM856.5 1164.2l4.8 4.8l-4.8 4.8l-4.8 -4.8zM869.3 1164.1l4.8 4.8l-4.8 4.8l-4.8 -4.8zM882 1164.1l4.8 4.8l-4.8 4.8l-4.8 -4.8zM894.8 1164l4.8 4.8l-4.8 4.8l-4.8 -4.8zM907.5 1164l4.8 4.8l-4.8 4.8l-4.8 -4.8zM920.3 1163.9l4.8 4.8l-4.8 4.8l-4.8 -4.8zM933.1 1163.9l4.8 4.8l-4.8 4.8l-4.8 -4.8zM945.8 1163.8l4.8 4.8l-4.8 4.8l-4.8 -4.8zM958.6 1163.7l4.8 4.8l-4.8 4.8l-4.8 -4.8zM971.3 1163.6l4.8 4.8l-4.8 4.8l-4.8 -4.8zM984.1 1163.4l4.8 4.8l-4.8 4.8l-4.8 -4.8zM996.8 1163.3l4.8 4.8l-4.8 4.8l-4.8 -4.8zM1009.6 1163.1l4.8 4.8l-4.8 4.8l-4.8 -4.8zM1022.4 1162.9l4.8 4.8l-4.8 4.8l-4.8 -4.8zM1035.1 1162.6l4.8 4.8l-4.8 4.8l-4.8 -4.8zM1047.9 1162.4l4.8 4.8l-4.8 4.8l-4.8 -4.8zM1060.6 1162l4.8 4.8l-4.8 4.8l-4.8 -4.8zM1073.4 1161.6l4.8 4.8l-4.8 4.8l-4.8 -4.8zM1086.2 1161.1l4.8 4.8l-4.8 4.8l-4.8 -4.8zM1098.9 1160.6l4.8 4.8l-4.8 4.8l-4.8 -4.8zM1111.7 1159.9l4.8 4.8l-4.8 4.8l-4.8 -4.8zM1124.4 1159.2l4.8 4.8l-4.8 4.8l-4.8 -4.8zM1137.2 1158.3l4.8 4.8l-4.8 4.8l-4.8 -4.8zM1149.9 1157.3l4.8 4.8l-4.8 4.8l-4.8 -4.8zM1162.7 1156l4.8 4.8l-4.8 4.8l-4.8 -4.8zM1175.5 1154.6l4.8 4.8l-4.8 4.8l-4.8 -4.8zM1188.2 1152.9l4.8 4.8l-4.8 4.8l-4.8 -4.8zM1201 1150.9l4.8 4.8l-4.8 4.8l-4.8 -4.8zM1213.7 1148.6l4.8 4.8l-4.8 4.8l-4.8 -4.8zM1226.5 1145.9l4.8 4.8l-4.8 4.8l-4.8 -4.8zM1239.3 1142.8l4.8 4.8l-4.8 4.8l-4.8 -4.8zM1252 1139l4.8 4.8l-4.8 4.8l-4.8 -4.8zM1264.8 1134.7l4.8 4.8l-4.8 4.8l-4.8 -4.8zM1277.5 1129.6l4.8 4.8l-4.8 4.8l-4.8 -4.8zM1290.3 1123.6l4.8 4.8l-4.8 4.8l-4.8 -4.8zM1303 1116.6l4.8 4.8l-4.8 4.8l-4.8 -4.8zM1315.8 1108.4l4.8 4.8l-4.8 4.8l-4.8 -4.8zM1328.6 1098.8l4.8 4.8l-4.8 4.8l-4.8 -4.8z" fill="#8A1AA0"/>
<path d="M792.7 1169.1l5.6 -0.1 7.2 0 6.4 0 6.3 0 6.4 0 6.4 0 6.4 0 6.3 0 6.4 0 6.4 -0.1 6.4 0 6.4 0 6.3 0 6.4 0 6.4 -0.1 6.4 0 6.4 0 6.3 0 6.4 -0.1 6.4 0 6.4 -0.1 6.4 0 6.3 0 6.4 -0.1 6.4 0 6.4 -0.1 6.4 -0.1 6.3 0 6.4 -0.1 6.4 -0.1 6.4 -0.1 6.3 -0.1 6.4 -0.1 6.4 -0.1 6.4 -0.1 6.4 -0.1 6.3 -0.2 6.4 -0.1 6.4 -0.2 6.4 -0.2 6.4 -0.2 6.3 -0.2 6.4 -0.2 6.4 -0.3 6.4 -0.2 6.4 -0.3 6.3 -0.3 6.4 -0.4 6.4 -0.4 6.4 -0.4 6.3 -0.4 6.4 -0.5 6.4 -0.5 6.4 -0.6 6.4 -0.6 6.3 -0.6 6.4 -0.8 6.4 -0.7 6.4 -0.9 6.4 -0.9 6.3 -1 6.4 -1.1 6.4 -1.1 6.4 -1.3 6.4 -1.4 6.3 -1.5 6.4 -1.6 6.4 -1.8 6.4 -1.9 6.4 -2 6.3 -2.3 6.4 -2.4 6.4 -2.6 6.4 -2.9 6.3 -3.1 6.4 -3.4 6.4 -3.6 6.4 -4 6.4 -4.2 6.3 -4.7 6.4 -5 6.4 -5.4 7.2 -6.8 5.6 -5.5" fill="none" stroke="#A8A8A8" stroke-width="3.3" stroke-linejoin="round"/>
<path d="M788.7 1169.1a4 4 0 1 0 8 0a4 4 0 1 0 -8 0M801.5 1169a4 4 0 1 0 8 0a4 4 0 1 0 -8 0M814.2 1169a4 4 0 1 0 8 0a4 4 0 1 0 -8 0M827 1169a4 4 0 1 0 8 0a4 4 0 1 0 -8 0M839.7 1169a4 4 0 1 0 8 0a4 4 0 1 0 -8 0M852.5 1168.9a4 4 0 1 0 8 0a4 4 0 1 0 -8 0M865.3 1168.9a4 4 0 1 0 8 0a4 4 0 1 0 -8 0M878 1168.9a4 4 0 1 0 8 0a4 4 0 1 0 -8 0M890.8 1168.8a4 4 0 1 0 8 0a4 4 0 1 0 -8 0M903.5 1168.8a4 4 0 1 0 8 0a4 4 0 1 0 -8 0M916.3 1168.7a4 4 0 1 0 8 0a4 4 0 1 0 -8 0M929.1 1168.6a4 4 0 1 0 8 0a4 4 0 1 0 -8 0M941.8 1168.5a4 4 0 1 0 8 0a4 4 0 1 0 -8 0M954.6 1168.4a4 4 0 1 0 8 0a4 4 0 1 0 -8 0M967.3 1168.3a4 4 0 1 0 8 0a4 4 0 1 0 -8 0M980.1 1168.1a4 4 0 1 0 8 0a4 4 0 1 0 -8 0M992.8 1167.9a4 4 0 1 0 8 0a4 4 0 1 0 -8 0M1005.6 1167.7a4 4 0 1 0 8 0a4 4 0 1 0 -8 0M1018.4 1167.5a4 4 0 1 0 8 0a4 4 0 1 0 -8 0M1031.1 1167.2a4 4 0 1 0 8 0a4 4 0 1 0 -8 0M1043.9 1166.8a4 4 0 1 0 8 0a4 4 0 1 0 -8 0M1056.6 1166.4a4 4 0 1 0 8 0a4 4 0 1 0 -8 0M1069.4 1165.9a4 4 0 1 0 8 0a4 4 0 1 0 -8 0M1082.2 1165.4a4 4 0 1 0 8 0a4 4 0 1 0 -8 0M1094.9 1164.7a4 4 0 1 0 8 0a4 4 0 1 0 -8 0M1107.7 1163.9a4 4 0 1 0 8 0a4 4 0 1 0 -8 0M1120.4 1163a4 4 0 1 0 8 0a4 4 0 1 0 -8 0M1133.2 1161.9a4 4 0 1 0 8 0a4 4 0 1 0 -8 0M1145.9 1160.7a4 4 0 1 0 8 0a4 4 0 1 0 -8 0M1158.7 1159.2a4 4 0 1 0 8 0a4 4 0 1 0 -8 0M1171.5 1157.4a4 4 0 1 0 8 0a4 4 0 1 0 -8 0M1184.2 1155.3a4 4 0 1 0 8 0a4 4 0 1 0 -8 0M1197 1152.9a4 4 0 1 0 8 0a4 4 0 1 0 -8 0M1209.7 1150a4 4 0 1 0 8 0a4 4 0 1 0 -8 0M1222.5 1146.6a4 4 0 1 0 8 0a4 4 0 1 0 -8 0M1235.3 1142.7a4 4 0 1 0 8 0a4 4 0 1 0 -8 0M1248 1138a4 4 0 1 0 8 0a4 4 0 1 0 -8 0M1260.8 1132.5a4 4 0 1 0 8 0a4 4 0 1 0 -8 0M1273.5 1126a4 4 0 1 0 8 0a4 4 0 1 0 -8 0M1286.3 1118.4a4 4 0 1 0 8 0a4 4 0 1 0 -8 0M1299 1109.5a4 4 0 1 0 8 0a4 4 0 1 0 -8 0M1311.8 1099.1a4 4 0 1 0 8 0a4 4 0 1 0 -8 0M1324.6 1086.8a4 4 0 1 0 8 0a4 4 0 1 0 -8 0" fill="#A8A8A8"/>
<path d="M792.7 1169l5.6 0 7.2 0 6.4 0 6.3 0 6.4 0 6.4 0 6.4 0 6.3 0 6.4 -0.1 6.4 0 6.4 0 6.4 0 6.3 0 6.4 -0.1 6.4 0 6.4 0 6.4 0 6.3 -0.1 6.4 0 6.4 -0.1 6.4 0 6.4 0 6.3 -0.1 6.4 0 6.4 -0.1 6.4 -0.1 6.4 0 6.3 -0.1 6.4 -0.1 6.4 -0.1 6.4 -0.1 6.3 -0.1 6.4 -0.1 6.4 -0.1 6.4 -0.2 6.4 -0.1 6.3 -0.2 6.4 -0.2 6.4 -0.2 6.4 -0.2 6.4 -0.2 6.3 -0.2 6.4 -0.3 6.4 -0.3 6.4 -0.3 6.4 -0.4 6.3 -0.3 6.4 -0.4 6.4 -0.5 6.4 -0.5 6.3 -0.5 6.4 -0.5 6.4 -0.7 6.4 -0.6 6.4 -0.8 6.3 -0.7 6.4 -0.9 6.4 -0.9 6.4 -1.1 6.4 -1.1 6.3 -1.2 6.4 -1.3 6.4 -1.4 6.4 -1.5 6.4 -1.7 6.3 -1.8 6.4 -2 6.4 -2.1 6.4 -2.3 6.4 -2.6 6.3 -2.7 6.4 -3 6.4 -3.3 6.4 -3.5 6.3 -3.8 6.4 -4.2 6.4 -4.5 6.4 -4.9 6.4 -5.3 6.3 -5.8 6.4 -6.2 6.4 -6.8 7.2 -8.4 5.6 -6.9" fill="none" stroke="#0A3C7C" stroke-width="3.3" stroke-linejoin="round"/>
<path d="M788.7 1169h8M792.7 1165v8M801.5 1169h8M805.5 1165v8M814.2 1169h8M818.2 1165v8M827 1169h8M831 1165v8M839.7 1169h8M843.7 1165v8M852.5 1168.9h8M856.5 1164.9v8M865.3 1168.9h8M869.3 1164.9v8M878 1168.8h8M882 1164.8v8M890.8 1168.8h8M894.8 1164.8v8M903.5 1168.7h8M907.5 1164.7v8M916.3 1168.6h8M920.3 1164.6v8M929.1 1168.6h8M933.1 1164.6v8M941.8 1168.5h8M945.8 1164.5v8M954.6 1168.3h8M958.6 1164.3v8M967.3 1168.2h8M971.3 1164.2v8M980.1 1168h8M984.1 1164v8M992.8 1167.8h8M996.8 1163.8v8M1005.6 1167.6h8M1009.6 1163.6v8M1018.4 1167.3h8M1022.4 1163.3v8M1031.1 1166.9h8M1035.1 1162.9v8M1043.9 1166.5h8M1047.9 1162.5v8M1056.6 1166.1h8M1060.6 1162.1v8M1069.4 1165.5h8M1073.4 1161.5v8M1082.2 1164.8h8M1086.2 1160.8v8M1094.9 1164.1h8M1098.9 1160.1v8M1107.7 1163.1h8M1111.7 1159.1v8M1120.4 1162.1h8M1124.4 1158.1v8M1133.2 1160.8h8M1137.2 1156.8v8M1145.9 1159.3h8M1149.9 1155.3v8M1158.7 1157.5h8M1162.7 1153.5v8M1171.5 1155.3h8M1175.5 1151.3v8M1184.2 1152.8h8M1188.2 1148.8v8M1197 1149.9h8M1201 1145.9v8M1209.7 1146.4h8M1213.7 1142.4v8M1222.5 1142.3h8M1226.5 1138.3v8M1235.3 1137.4h8M1239.3 1133.4v8M1248 1131.7h8M1252 1127.7v8M1260.8 1124.9h8M1264.8 1120.9v8M1273.5 1116.9h8M1277.5 1112.9v8M1286.3 1107.5h8M1290.3 1103.5v8M1299 1096.4h8M1303 1092.4v8M1311.8 1083.4h8M1315.8 1079.4v8M1324.6 1068.1h8M1328.6 1064.1v8" stroke="#0A3C7C" stroke-width="1.4" fill="none"/>
<path d="M792.7 1169l5.6 0 7.2 0 6.4 0 6.3 0 6.4 0 6.4 0 6.4 0 6.3 0 6.4 -0.1 6.4 0 6.4 0 6.4 0 6.3 0 6.4 -0.1 6.4 0 6.4 0 6.4 -0.1 6.3 0 6.4 0 6.4 -0.1 6.4 0 6.4 -0.1 6.3 0 6.4 -0.1 6.4 -0.1 6.4 0 6.4 -0.1 6.3 -0.1 6.4 -0.1 6.4 -0.1 6.4 -0.1 6.3 -0.1 6.4 -0.1 6.4 -0.2 6.4 -0.1 6.4 -0.2 6.3 -0.2 6.4 -0.2 6.4 -0.2 6.4 -0.2 6.4 -0.3 6.3 -0.3 6.4 -0.3 6.4 -0.3 6.4 -0.4 6.4 -0.3 6.3 -0.5 6.4 -0.4 6.4 -0.5 6.4 -0.6 6.3 -0.6 6.4 -0.6 6.4 -0.8 6.4 -0.7 6.4 -0.9 6.3 -0.9 6.4 -1 6.4 -1.1 6.4 -1.2 6.4 -1.3 6.3 -1.4 6.4 -1.5 6.4 -1.7 6.4 -1.8 6.4 -1.9 6.3 -2.2 6.4 -2.3 6.4 -2.6 6.4 -2.8 6.4 -3 6.3 -3.3 6.4 -3.6 6.4 -3.9 6.4 -4.2 6.3 -4.6 6.4 -5 6.4 -5.5 6.4 -5.9 6.4 -6.4 6.3 -7 6.4 -7.6 6.4 -8.2 7.2 -10.3 5.6 -8.3" fill="none" stroke="#33A070" stroke-width="3.3" stroke-linejoin="round"/>
<path d="M788.7 1169a4 4 0 1 0 8 0a4 4 0 1 0 -8 0M801.5 1169a4 4 0 1 0 8 0a4 4 0 1 0 -8 0M814.2 1169a4 4 0 1 0 8 0a4 4 0 1 0 -8 0M827 1169a4 4 0 1 0 8 0a4 4 0 1 0 -8 0M839.7 1169a4 4 0 1 0 8 0a4 4 0 1 0 -8 0M852.5 1168.9a4 4 0 1 0 8 0a4 4 0 1 0 -8 0M865.3 1168.9a4 4 0 1 0 8 0a4 4 0 1 0 -8 0M878 1168.8a4 4 0 1 0 8 0a4 4 0 1 0 -8 0M890.8 1168.8a4 4 0 1 0 8 0a4 4 0 1 0 -8 0M903.5 1168.7a4 4 0 1 0 8 0a4 4 0 1 0 -8 0M916.3 1168.6a4 4 0 1 0 8 0a4 4 0 1 0 -8 0M929.1 1168.5a4 4 0 1 0 8 0a4 4 0 1 0 -8 0M941.8 1168.4a4 4 0 1 0 8 0a4 4 0 1 0 -8 0M954.6 1168.3a4 4 0 1 0 8 0a4 4 0 1 0 -8 0M967.3 1168.1a4 4 0 1 0 8 0a4 4 0 1 0 -8 0M980.1 1167.9a4 4 0 1 0 8 0a4 4 0 1 0 -8 0M992.8 1167.7a4 4 0 1 0 8 0a4 4 0 1 0 -8 0M1005.6 1167.4a4 4 0 1 0 8 0a4 4 0 1 0 -8 0M1018.4 1167.1a4 4 0 1 0 8 0a4 4 0 1 0 -8 0M1031.1 1166.7a4 4 0 1 0 8 0a4 4 0 1 0 -8 0M1043.9 1166.3a4 4 0 1 0 8 0a4 4 0 1 0 -8 0M1056.6 1165.7a4 4 0 1 0 8 0a4 4 0 1 0 -8 0M1069.4 1165.1a4 4 0 1 0 8 0a4 4 0 1 0 -8 0M1082.2 1164.4a4 4 0 1 0 8 0a4 4 0 1 0 -8 0M1094.9 1163.5a4 4 0 1 0 8 0a4 4 0 1 0 -8 0M1107.7 1162.4a4 4 0 1 0 8 0a4 4 0 1 0 -8 0M1120.4 1161.2a4 4 0 1 0 8 0a4 4 0 1 0 -8 0M1133.2 1159.7a4 4 0 1 0 8 0a4 4 0 1 0 -8 0M1145.9 1157.9a4 4 0 1 0 8 0a4 4 0 1 0 -8 0M1158.7 1155.8a4 4 0 1 0 8 0a4 4 0 1 0 -8 0M1171.5 1153.3a4 4 0 1 0 8 0a4 4 0 1 0 -8 0M1184.2 1150.4a4 4 0 1 0 8 0a4 4 0 1 0 -8 0M1197 1146.9a4 4 0 1 0 8 0a4 4 0 1 0 -8 0M1209.7 1142.8a4 4 0 1 0 8 0a4 4 0 1 0 -8 0M1222.5 1137.9a4 4 0 1 0 8 0a4 4 0 1 0 -8 0M1235.3 1132.1a4 4 0 1 0 8 0a4 4 0 1 0 -8 0M1248 1125.2a4 4 0 1 0 8 0a4 4 0 1 0 -8 0M1260.8 1117.1a4 4 0 1 0 8 0a4 4 0 1 0 -8 0M1273.5 1107.5a4 4 0 1 0 8 0a4 4 0 1 0 -8 0M1286.3 1096.1a4 4 0 1 0 8 0a4 4 0 1 0 -8 0M1299 1082.7a4 4 0 1 0 8 0a4 4 0 1 0 -8 0M1311.8 1066.9a4 4 0 1 0 8 0a4 4 0 1 0 -8 0M1324.6 1048.3a4 4 0 1 0 8 0a4 4 0 1 0 -8 0" fill="#33A070"/>
<path d="M792.7 1169l5.6 0 7.2 0 6.4 0 6.3 0 6.4 0 6.4 0 6.4 0 6.3 0 6.4 -0.1 6.4 0 6.4 0 6.4 0 6.3 0 6.4 -0.1 6.4 0 6.4 0 6.4 -0.1 6.3 0 6.4 0 6.4 -0.1 6.4 0 6.4 -0.1 6.3 -0.1 6.4 0 6.4 -0.1 6.4 -0.1 6.4 0 6.3 -0.1 6.4 -0.1 6.4 -0.1 6.4 -0.2 6.3 -0.1 6.4 -0.1 6.4 -0.2 6.4 -0.1 6.4 -0.2 6.3 -0.2 6.4 -0.2 6.4 -0.3 6.4 -0.2 6.4 -0.3 6.3 -0.3 6.4 -0.3 6.4 -0.4 6.4 -0.4 6.4 -0.4 6.3 -0.5 6.4 -0.5 6.4 -0.6 6.4 -0.6 6.3 -0.7 6.4 -0.7 6.4 -0.8 6.4 -0.9 6.4 -0.9 6.3 -1 6.4 -1.2 6.4 -1.2 6.4 -1.4 6.4 -1.4 6.3 -1.6 6.4 -1.8 6.4 -1.9 6.4 -2.1 6.4 -2.3 6.3 -2.4 6.4 -2.7 6.4 -3 6.4 -3.2 6.4 -3.5 6.3 -3.8 6.4 -4.2 6.4 -4.6 6.4 -4.9 6.3 -5.4 6.4 -5.9 6.4 -6.4 6.4 -7 6.4 -7.6 6.3 -8.3 6.4 -8.9 6.4 -9.8 7.2 -12.1 5.6 -9.9" fill="none" stroke="#FF00FF" stroke-width="3.3" stroke-linejoin="round"/>
<path d="M788.7 1169h8M801.5 1169h8M814.2 1169h8M827 1169h8M839.7 1169h8M852.5 1168.9h8M865.3 1168.9h8M878 1168.8h8M890.8 1168.8h8M903.5 1168.7h8M916.3 1168.6h8M929.1 1168.5h8M941.8 1168.4h8M954.6 1168.2h8M967.3 1168.1h8M980.1 1167.9h8M992.8 1167.6h8M1005.6 1167.3h8M1018.4 1167h8M1031.1 1166.6h8M1043.9 1166.1h8M1056.6 1165.5h8M1069.4 1164.8h8M1082.2 1164h8M1094.9 1163h8M1107.7 1161.8h8M1120.4 1160.4h8M1133.2 1158.7h8M1145.9 1156.8h8M1158.7 1154.4h8M1171.5 1151.6h8M1184.2 1148.2h8M1197 1144.2h8M1209.7 1139.5h8M1222.5 1133.8h8M1235.3 1127.1h8M1248 1119.1h8M1260.8 1109.6h8M1273.5 1098.3h8M1286.3 1084.9h8M1299 1069h8M1311.8 1050.3h8M1324.6 1028.3h8" stroke="#FF00FF" stroke-width="1.4" fill="none"/>
<path d="M792.7 1169l5.6 0 7.2 0 6.4 0 6.3 0 6.4 0 6.4 0 6.4 0 6.3 0 6.4 -0.1 6.4 0 6.4 0 6.4 0 6.3 -0.1 6.4 0 6.4 0 6.4 0 6.4 -0.1 6.3 0 6.4 -0.1 6.4 0 6.4 -0.1 6.4 0 6.3 -0.1 6.4 0 6.4 -0.1 6.4 -0.1 6.4 -0.1 6.3 -0.1 6.4 -0.1 6.4 -0.1 6.4 -0.1 6.3 -0.2 6.4 -0.1 6.4 -0.2 6.4 -0.2 6.4 -0.1 6.3 -0.3 6.4 -0.2 6.4 -0.3 6.4 -0.2 6.4 -0.3 6.3 -0.4 6.4 -0.3 6.4 -0.4 6.4 -0.5 6.4 -0.5 6.3 -0.5 6.4 -0.6 6.4 -0.6 6.4 -0.7 6.3 -0.7 6.4 -0.9 6.4 -0.9 6.4 -0.9 6.4 -1.1 6.3 -1.2 6.4 -1.3 6.4 -1.4 6.4 -1.5 6.4 -1.7 6.3 -1.9 6.4 -2 6.4 -2.2 6.4 -2.4 6.4 -2.6 6.3 -2.9 6.4 -3.1 6.4 -3.5 6.4 -3.7 6.4 -4.1 6.3 -4.5 6.4 -4.9 6.4 -5.4 6.4 -5.8 6.3 -6.4 6.4 -7 6.4 -7.5 6.4 -8.3 6.4 -9 6.3 -9.8 6.4 -10.7 6.4 -11.5 7.2 -14.5 5.6 -11.7" fill="none" stroke="#3C3C00" stroke-width="3.3" stroke-linejoin="round"/>
<path d="M792.7 1164.2l4.8 4.8l-4.8 4.8l-4.8 -4.8zM805.5 1164.2l4.8 4.8l-4.8 4.8l-4.8 -4.8zM818.2 1164.2l4.8 4.8l-4.8 4.8l-4.8 -4.8zM831 1164.2l4.8 4.8l-4.8 4.8l-4.8 -4.8zM843.7 1164.2l4.8 4.8l-4.8 4.8l-4.8 -4.8zM856.5 1164.1l4.8 4.8l-4.8 4.8l-4.8 -4.8zM869.3 1164.1l4.8 4.8l-4.8 4.8l-4.8 -4.8zM882 1164l4.8 4.8l-4.8 4.8l-4.8 -4.8zM894.8 1164l4.8 4.8l-4.8 4.8l-4.8 -4.8zM907.5 1163.9l4.8 4.8l-4.8 4.8l-4.8 -4.8zM920.3 1163.8l4.8 4.8l-4.8 4.8l-4.8 -4.8zM933.1 1163.7l4.8 4.8l-4.8 4.8l-4.8 -4.8zM945.8 1163.6l4.8 4.8l-4.8 4.8l-4.8 -4.8zM958.6 1163.4l4.8 4.8l-4.8 4.8l-4.8 -4.8zM971.3 1163.2l4.8 4.8l-4.8 4.8l-4.8 -4.8zM984.1 1163l4.8 4.8l-4.8 4.8l-4.8 -4.8zM996.8 1162.7l4.8 4.8l-4.8 4.8l-4.8 -4.8zM1009.6 1162.4l4.8 4.8l-4.8 4.8l-4.8 -4.8zM1022.4 1162.1l4.8 4.8l-4.8 4.8l-4.8 -4.8zM1035.1 1161.6l4.8 4.8l-4.8 4.8l-4.8 -4.8zM1047.9 1161.1l4.8 4.8l-4.8 4.8l-4.8 -4.8zM1060.6 1160.4l4.8 4.8l-4.8 4.8l-4.8 -4.8zM1073.4 1159.7l4.8 4.8l-4.8 4.8l-4.8 -4.8zM1086.2 1158.7l4.8 4.8l-4.8 4.8l-4.8 -4.8zM1098.9 1157.6l4.8 4.8l-4.8 4.8l-4.8 -4.8zM1111.7 1156.3l4.8 4.8l-4.8 4.8l-4.8 -4.8zM1124.4 1154.7l4.8 4.8l-4.8 4.8l-4.8 -4.8zM1137.2 1152.9l4.8 4.8l-4.8 4.8l-4.8 -4.8zM1149.9 1150.6l4.8 4.8l-4.8 4.8l-4.8 -4.8zM1162.7 1147.9l4.8 4.8l-4.8 4.8l-4.8 -4.8zM1175.5 1144.7l4.8 4.8l-4.8 4.8l-4.8 -4.8zM1188.2 1140.8l4.8 4.8l-4.8 4.8l-4.8 -4.8zM1201 1136.2l4.8 4.8l-4.8 4.8l-4.8 -4.8zM1213.7 1130.7l4.8 4.8l-4.8 4.8l-4.8 -4.8zM1226.5 1124.1l4.8 4.8l-4.8 4.8l-4.8 -4.8zM1239.3 1116.3l4.8 4.8l-4.8 4.8l-4.8 -4.8zM1252 1106.9l4.8 4.8l-4.8 4.8l-4.8 -4.8zM1264.8 1095.7l4.8 4.8l-4.8 4.8l-4.8 -4.8zM1277.5 1082.3l4.8 4.8l-4.8 4.8l-4.8 -4.8zM1290.3 1066.5l4.8 4.8l-4.8 4.8l-4.8 -4.8zM1303 1047.7l4.8 4.8l-4.8 4.8l-4.8 -4.8zM1315.8 1025.5l4.8 4.8l-4.8 4.8l-4.8 -4.8zM1328.6 999.3l4.8 4.8l-4.8 4.8l-4.8 -4.8z" fill="#3C3C00"/>
<path d="M792.7 1169.1l5.6 -0.1 7.2 0 6.4 0 6.3 0 6.4 0 6.4 0 6.4 0 6.3 0 6.4 -0.1 6.4 0 6.4 0 6.4 0 6.3 0 6.4 -0.1 6.4 0 6.4 0 6.4 -0.1 6.3 0 6.4 -0.1 6.4 0 6.4 -0.1 6.4 0 6.3 -0.1 6.4 -0.1 6.4 0 6.4 -0.1 6.4 -0.1 6.3 -0.1 6.4 -0.1 6.4 -0.1 6.4 -0.2 6.3 -0.1 6.4 -0.2 6.4 -0.1 6.4 -0.2 6.4 -0.3 6.3 -0.2 6.4 -0.2 6.4 -0.3 6.4 -0.3 6.4 -0.3 6.3 -0.4 6.4 -0.4 6.4 -0.4 6.4 -0.5 6.4 -0.6 6.3 -0.5 6.4 -0.7 6.4 -0.7 6.4 -0.7 6.3 -0.9 6.4 -0.9 6.4 -1 6.4 -1.1 6.4 -1.2 6.3 -1.3 6.4 -1.4 6.4 -1.6 6.4 -1.8 6.4 -1.9 6.3 -2 6.4 -2.3 6.4 -2.5 6.4 -2.8 6.4 -3 6.3 -3.3 6.4 -3.6 6.4 -4 6.4 -4.3 6.4 -4.8 6.3 -5.2 6.4 -5.7 6.4 -6.2 6.4 -6.8 6.3 -7.4 6.4 -8.2 6.4 -8.9 6.4 -9.7 6.4 -10.5 6.3 -11.5 6.4 -12.5 6.4 -13.6 7.2 -16.9 5.6 -13.6" fill="none" stroke="#A0461E" stroke-width="3.3" stroke-linejoin="round"/>
<path d="M788.7 1165.1h8v8h-8zM801.5 1165h8v8h-8zM814.2 1165h8v8h-8zM827 1165h8v8h-8zM839.7 1165h8v8h-8zM852.5 1164.9h8v8h-8zM865.3 1164.9h8v8h-8zM878 1164.8h8v8h-8zM890.8 1164.8h8v8h-8zM903.5 1164.7h8v8h-8zM916.3 1164.6h8v8h-8zM929.1 1164.5h8v8h-8zM941.8 1164.3h8v8h-8zM954.6 1164.2h8v8h-8zM967.3 1164h8v8h-8zM980.1 1163.8h8v8h-8zM992.8 1163.5h8v8h-8zM1005.6 1163.2h8v8h-8zM1018.4 1162.7h8v8h-8zM1031.1 1162.3h8v8h-8zM1043.9 1161.7h8v8h-8zM1056.6 1161h8v8h-8zM1069.4 1160.2h8v8h-8zM1082.2 1159.1h8v8h-8zM1094.9 1157.9h8v8h-8zM1107.7 1156.5h8v8h-8zM1120.4 1154.7h8v8h-8zM1133.2 1152.6h8v8h-8zM1145.9 1150.1h8v8h-8zM1158.7 1147.1h8v8h-8zM1171.5 1143.4h8v8h-8zM1184.2 1139.1h8v8h-8zM1197 1133.8h8v8h-8zM1209.7 1127.5h8v8h-8zM1222.5 1119.9h8v8h-8zM1235.3 1110.8h8v8h-8zM1248 1099.9h8v8h-8zM1260.8 1086.9h8v8h-8zM1273.5 1071.3h8v8h-8zM1286.3 1052.7h8v8h-8zM1299 1030.7h8v8h-8zM1311.8 1004.6h8v8h-8zM1324.6 974.1h8v8h-8z" fill="#A0461E"/>
<path d="M792.7 1169l5.6 0 7.2 0 6.4 0 6.3 0 6.4 0 6.4 0 6.4 0 6.3 -0.1 6.4 0 6.4 0 6.4 0 6.4 -0.1 6.3 0 6.4 0 6.4 -0.1 6.4 0 6.4 0 6.3 -0.1 6.4 0 6.4 -0.1 6.4 -0.1 6.4 0 6.3 -0.1 6.4 -0.1 6.4 -0.1 6.4 -0.1 6.4 -0.1 6.3 -0.1 6.4 -0.1 6.4 -0.2 6.4 -0.1 6.3 -0.2 6.4 -0.2 6.4 -0.2 6.4 -0.3 6.4 -0.2 6.3 -0.3 6.4 -0.3 6.4 -0.3 6.4 -0.4 6.4 -0.4 6.3 -0.5 6.4 -0.5 6.4 -0.5 6.4 -0.6 6.4 -0.7 6.3 -0.7 6.4 -0.8 6.4 -0.9 6.4 -0.9 6.3 -1.1 6.4 -1.1 6.4 -1.3 6.4 -1.4 6.4 -1.6 6.3 -1.7 6.4 -1.8 6.4 -2.1 6.4 -2.2 6.4 -2.5 6.3 -2.7 6.4 -3 6.4 -3.2 6.4 -3.6 6.4 -4 6.3 -4.3 6.4 -4.7 6.4 -5.3 6.4 -5.7 6.4 -6.3 6.3 -6.8 6.4 -7.6 6.4 -8.2 6.4 -9.1 6.3 -9.9 6.4 -10.8 6.4 -11.8 6.4 -12.8 6.4 -14 6.3 -15.1 6.4 -16.4 6.4 -17.7 7.2 -21.9 5.6 -17.5" fill="none" stroke="#A3447A" stroke-width="3.3" stroke-linejoin="round"/>
<path d="M792.7 1164.6l4 7.6h-8zM805.5 1164.6l4 7.6h-8zM818.2 1164.6l4 7.6h-8zM831 1164.6l4 7.6h-8zM843.7 1164.5l4 7.6h-8zM856.5 1164.5l4 7.6h-8zM869.3 1164.4l4 7.6h-8zM882 1164.4l4 7.6h-8zM894.8 1164.3l4 7.6h-8zM907.5 1164.2l4 7.6h-8zM920.3 1164.1l4 7.6h-8zM933.1 1164l4 7.6h-8zM945.8 1163.8l4 7.6h-8zM958.6 1163.6l4 7.6h-8zM971.3 1163.4l4 7.6h-8zM984.1 1163.1l4 7.6h-8zM996.8 1162.8l4 7.6h-8zM1009.6 1162.4l4 7.6h-8zM1022.4 1161.9l4 7.6h-8zM1035.1 1161.3l4 7.6h-8zM1047.9 1160.6l4 7.6h-8zM1060.6 1159.7l4 7.6h-8zM1073.4 1158.7l4 7.6h-8zM1086.2 1157.4l4 7.6h-8zM1098.9 1155.9l4 7.6h-8zM1111.7 1154.1l4 7.6h-8zM1124.4 1151.9l4 7.6h-8zM1137.2 1149.2l4 7.6h-8zM1149.9 1145.9l4 7.6h-8zM1162.7 1142l4 7.6h-8zM1175.5 1137.3l4 7.6h-8zM1188.2 1131.6l4 7.6h-8zM1201 1124.8l4 7.6h-8zM1213.7 1116.5l4 7.6h-8zM1226.5 1106.5l4 7.6h-8zM1239.3 1094.5l4 7.6h-8zM1252 1080.1l4 7.6h-8zM1264.8 1062.8l4 7.6h-8zM1277.5 1042.1l4 7.6h-8zM1290.3 1017.5l4 7.6h-8zM1303 988.4l4 7.6h-8zM1315.8 954.3l4 7.6h-8zM1328.6 914.9l4 7.6h-8z" fill="#A3447A"/>
<path d="M792.7 1169l5.6 0 7.2 0 6.4 0 6.3 0 6.4 0 6.4 0 6.4 -0.1 6.3 0 6.4 0 6.4 0 6.4 -0.1 6.4 0 6.3 0 6.4 -0.1 6.4 0 6.4 0 6.4 -0.1 6.3 0 6.4 -0.1 6.4 -0.1 6.4 0 6.4 -0.1 6.3 -0.1 6.4 -0.1 6.4 -0.1 6.4 -0.1 6.4 -0.1 6.3 -0.2 6.4 -0.1 6.4 -0.2 6.4 -0.2 6.3 -0.2 6.4 -0.2 6.4 -0.3 6.4 -0.3 6.4 -0.3 6.3 -0.3 6.4 -0.4 6.4 -0.4 6.4 -0.5 6.4 -0.5 6.3 -0.5 6.4 -0.6 6.4 -0.7 6.4 -0.7 6.4 -0.8 6.3 -0.9 6.4 -1 6.4 -1.1 6.4 -1.2 6.3 -1.3 6.4 -1.4 6.4 -1.6 6.4 -1.8 6.4 -1.9 6.3 -2.1 6.4 -2.4 6.4 -2.6 6.4 -2.8 6.4 -3.1 6.3 -3.5 6.4 -3.8 6.4 -4.2 6.4 -4.6 6.4 -5.1 6.3 -5.5 6.4 -6.2 6.4 -6.7 6.4 -7.4 6.4 -8.2 6.3 -8.9 6.4 -9.8 6.4 -10.8 6.4 -11.7 6.3 -12.8 6.4 -14 6.4 -15.3 6.4 -16.5 6.4 -17.9 6.3 -19.3 6.4 -20.7 6.4 -22.1 7.2 -26.7 5.6 -21.3" fill="none" stroke="#4040A8" stroke-width="3.3" stroke-linejoin="round"/>
<path d="M788.7 1165l8 8m0 -8l-8 8M801.5 1165l8 8m0 -8l-8 8M814.2 1165l8 8m0 -8l-8 8M827 1165l8 8m0 -8l-8 8M839.7 1164.9l8 8m0 -8l-8 8M852.5 1164.9l8 8m0 -8l-8 8M865.3 1164.8l8 8m0 -8l-8 8M878 1164.7l8 8m0 -8l-8 8M890.8 1164.7l8 8m0 -8l-8 8M903.5 1164.6l8 8m0 -8l-8 8M916.3 1164.4l8 8m0 -8l-8 8M929.1 1164.3l8 8m0 -8l-8 8M941.8 1164.1l8 8m0 -8l-8 8M954.6 1163.9l8 8m0 -8l-8 8M967.3 1163.6l8 8m0 -8l-8 8M980.1 1163.3l8 8m0 -8l-8 8M992.8 1162.9l8 8m0 -8l-8 8M1005.6 1162.4l8 8m0 -8l-8 8M1018.4 1161.8l8 8m0 -8l-8 8M1031.1 1161.1l8 8m0 -8l-8 8M1043.9 1160.2l8 8m0 -8l-8 8M1056.6 1159.2l8 8m0 -8l-8 8M1069.4 1157.9l8 8m0 -8l-8 8M1082.2 1156.4l8 8m0 -8l-8 8M1094.9 1154.5l8 8m0 -8l-8 8M1107.7 1152.2l8 8m0 -8l-8 8M1120.4 1149.5l8 8m0 -8l-8 8M1133.2 1146.1l8 8m0 -8l-8 8M1145.9 1142.1l8 8m0 -8l-8 8M1158.7 1137.1l8 8m0 -8l-8 8M1171.5 1131.2l8 8m0 -8l-8 8M1184.2 1123.9l8 8m0 -8l-8 8M1197 1115.1l8 8m0 -8l-8 8M1209.7 1104.5l8 8m0 -8l-8 8M1222.5 1091.6l8 8m0 -8l-8 8M1235.3 1076l8 8m0 -8l-8 8M1248 1057.3l8 8m0 -8l-8 8M1260.8 1034.8l8 8m0 -8l-8 8M1273.5 1008l8 8m0 -8l-8 8M1286.3 976.2l8 8m0 -8l-8 8M1299 939l8 8m0 -8l-8 8M1311.8 896.2l8 8m0 -8l-8 8M1324.6 848.2l8 8m0 -8l-8 8" stroke="#4040A8" stroke-width="1.4" fill="none"/>
<path d="M792.7 1169l5.6 0 7.2 0 6.4 0 6.3 0 6.4 0 6.4 -0.1 6.4 0 6.3 0 6.4 0 6.4 0 6.4 -0.1 6.4 0 6.3 0 6.4 -0.1 6.4 0 6.4 -0.1 6.4 0 6.3 -0.1 6.4 -0.1 6.4 0 6.4 -0.1 6.4 -0.1 6.3 -0.1 6.4 -0.1 6.4 -0.1 6.4 -0.2 6.4 -0.1 6.3 -0.2 6.4 -0.2 6.4 -0.2 6.4 -0.2 6.3 -0.2 6.4 -0.3 6.4 -0.3 6.4 -0.3 6.4 -0.4 6.3 -0.4 6.4 -0.4 6.4 -0.5 6.4 -0.6 6.4 -0.6 6.3 -0.6 6.4 -0.8 6.4 -0.8 6.4 -0.9 6.4 -1 6.3 -1.1 6.4 -1.2 6.4 -1.3 6.4 -1.5 6.3 -1.6 6.4 -1.8 6.4 -2 6.4 -2.2 6.4 -2.4 6.3 -2.7 6.4 -2.9 6.4 -3.3 6.4 -3.6 6.4 -3.9 6.3 -4.4 6.4 -4.9 6.4 -5.3 6.4 -5.9 6.4 -6.5 6.3 -7.1 6.4 -7.9 6.4 -8.7 6.4 -9.6 6.4 -10.5 6.3 -11.5 6.4 -12.6 6.4 -13.8 6.4 -15.1 6.3 -16.5 6.4 -17.8 6.4 -19.4 6.4 -20.8 6.4 -22.3 6.3 -23.7 6.4 -25 6.4 -26.2 7.2 -30.4 5.6 -24" fill="none" stroke="#000000" stroke-width="3.3" stroke-linejoin="round"/>
<path d="M792.7 1164.2l4.8 4.8l-4.8 4.8l-4.8 -4.8zM805.5 1164.2l4.8 4.8l-4.8 4.8l-4.8 -4.8zM818.2 1164.2l4.8 4.8l-4.8 4.8l-4.8 -4.8zM831 1164.1l4.8 4.8l-4.8 4.8l-4.8 -4.8zM843.7 1164.1l4.8 4.8l-4.8 4.8l-4.8 -4.8zM856.5 1164.1l4.8 4.8l-4.8 4.8l-4.8 -4.8zM869.3 1164l4.8 4.8l-4.8 4.8l-4.8 -4.8zM882 1163.9l4.8 4.8l-4.8 4.8l-4.8 -4.8zM894.8 1163.8l4.8 4.8l-4.8 4.8l-4.8 -4.8zM907.5 1163.7l4.8 4.8l-4.8 4.8l-4.8 -4.8zM920.3 1163.6l4.8 4.8l-4.8 4.8l-4.8 -4.8zM933.1 1163.4l4.8 4.8l-4.8 4.8l-4.8 -4.8zM945.8 1163.2l4.8 4.8l-4.8 4.8l-4.8 -4.8zM958.6 1162.9l4.8 4.8l-4.8 4.8l-4.8 -4.8zM971.3 1162.6l4.8 4.8l-4.8 4.8l-4.8 -4.8zM984.1 1162.2l4.8 4.8l-4.8 4.8l-4.8 -4.8zM996.8 1161.8l4.8 4.8l-4.8 4.8l-4.8 -4.8zM1009.6 1161.2l4.8 4.8l-4.8 4.8l-4.8 -4.8zM1022.4 1160.5l4.8 4.8l-4.8 4.8l-4.8 -4.8zM1035.1 1159.7l4.8 4.8l-4.8 4.8l-4.8 -4.8zM1047.9 1158.6l4.8 4.8l-4.8 4.8l-4.8 -4.8zM1060.6 1157.4l4.8 4.8l-4.8 4.8l-4.8 -4.8zM1073.4 1155.8l4.8 4.8l-4.8 4.8l-4.8 -4.8zM1086.2 1153.9l4.8 4.8l-4.8 4.8l-4.8 -4.8zM1098.9 1151.6l4.8 4.8l-4.8 4.8l-4.8 -4.8zM1111.7 1148.8l4.8 4.8l-4.8 4.8l-4.8 -4.8zM1124.4 1145.4l4.8 4.8l-4.8 4.8l-4.8 -4.8zM1137.2 1141.2l4.8 4.8l-4.8 4.8l-4.8 -4.8zM1149.9 1136.1l4.8 4.8l-4.8 4.8l-4.8 -4.8zM1162.7 1129.9l4.8 4.8l-4.8 4.8l-4.8 -4.8zM1175.5 1122.4l4.8 4.8l-4.8 4.8l-4.8 -4.8zM1188.2 1113.1l4.8 4.8l-4.8 4.8l-4.8 -4.8zM1201 1101.9l4.8 4.8l-4.8 4.8l-4.8 -4.8zM1213.7 1088.3l4.8 4.8l-4.8 4.8l-4.8 -4.8zM1226.5 1071.7l4.8 4.8l-4.8 4.8l-4.8 -4.8zM1239.3 1051.6l4.8 4.8l-4.8 4.8l-4.8 -4.8zM1252 1027.5l4.8 4.8l-4.8 4.8l-4.8 -4.8zM1264.8 998.6l4.8 4.8l-4.8 4.8l-4.8 -4.8zM1277.5 964.3l4.8 4.8l-4.8 4.8l-4.8 -4.8zM1290.3 924.1l4.8 4.8l-4.8 4.8l-4.8 -4.8zM1303 878.1l4.8 4.8l-4.8 4.8l-4.8 -4.8zM1315.8 826.9l4.8 4.8l-4.8 4.8l-4.8 -4.8zM1328.6 772.5l4.8 4.8l-4.8 4.8l-4.8 -4.8z" fill="#000000"/>
<path d="M792.7 1169l5.6 0 7.2 0 6.4 0 6.3 0 6.4 -0.1 6.4 0 6.4 0 6.3 0 6.4 -0.1 6.4 0 6.4 0 6.4 -0.1 6.3 0 6.4 -0.1 6.4 0 6.4 -0.1 6.4 0 6.3 -0.1 6.4 -0.1 6.4 -0.1 6.4 -0.1 6.4 -0.1 6.3 -0.1 6.4 -0.1 6.4 -0.2 6.4 -0.1 6.4 -0.2 6.3 -0.2 6.4 -0.3 6.4 -0.2 6.4 -0.3 6.3 -0.3 6.4 -0.3 6.4 -0.4 6.4 -0.4 6.4 -0.5 6.3 -0.5 6.4 -0.5 6.4 -0.7 6.4 -0.7 6.4 -0.7 6.3 -0.9 6.4 -0.9 6.4 -1.1 6.4 -1.1 6.4 -1.3 6.3 -1.4 6.4 -1.6 6.4 -1.7 6.4 -2 6.3 -2.1 6.4 -2.4 6.4 -2.6 6.4 -2.9 6.4 -3.2 6.3 -3.6 6.4 -3.9 6.4 -4.4 6.4 -4.8 6.4 -5.4 6.3 -5.9 6.4 -6.5 6.4 -7.3 6.4 -7.9 6.4 -8.9 6.3 -9.7 6.4 -10.7 6.4 -11.8 6.4 -13 6.4 -14.3 6.3 -15.6 6.4 -17 6.4 -18.5 6.4 -20.1 6.3 -21.7 6.4 -23.2 6.4 -24.7 6.4 -26.1 6.4 -27.2 6.3 -27.9 6.4 -28.3 6.4 -28 7.2 -29.6 5.6 -22.7" fill="none" stroke="#800080" stroke-width="3.3" stroke-linejoin="round"/>
<path d="M788.7 1169a4 4 0 1 0 8 0a4 4 0 1 0 -8 0M801.5 1169a4 4 0 1 0 8 0a4 4 0 1 0 -8 0M814.2 1169a4 4 0 1 0 8 0a4 4 0 1 0 -8 0M827 1168.9a4 4 0 1 0 8 0a4 4 0 1 0 -8 0M839.7 1168.9a4 4 0 1 0 8 0a4 4 0 1 0 -8 0M852.5 1168.8a4 4 0 1 0 8 0a4 4 0 1 0 -8 0M865.3 1168.7a4 4 0 1 0 8 0a4 4 0 1 0 -8 0M878 1168.6a4 4 0 1 0 8 0a4 4 0 1 0 -8 0M890.8 1168.5a4 4 0 1 0 8 0a4 4 0 1 0 -8 0M903.5 1168.4a4 4 0 1 0 8 0a4 4 0 1 0 -8 0M916.3 1168.2a4 4 0 1 0 8 0a4 4 0 1 0 -8 0M929.1 1168a4 4 0 1 0 8 0a4 4 0 1 0 -8 0M941.8 1167.8a4 4 0 1 0 8 0a4 4 0 1 0 -8 0M954.6 1167.5a4 4 0 1 0 8 0a4 4 0 1 0 -8 0M967.3 1167.1a4 4 0 1 0 8 0a4 4 0 1 0 -8 0M980.1 1166.6a4 4 0 1 0 8 0a4 4 0 1 0 -8 0M992.8 1166a4 4 0 1 0 8 0a4 4 0 1 0 -8 0M1005.6 1165.3a4 4 0 1 0 8 0a4 4 0 1 0 -8 0M1018.4 1164.4a4 4 0 1 0 8 0a4 4 0 1 0 -8 0M1031.1 1163.4a4 4 0 1 0 8 0a4 4 0 1 0 -8 0M1043.9 1162a4 4 0 1 0 8 0a4 4 0 1 0 -8 0M1056.6 1160.4a4 4 0 1 0 8 0a4 4 0 1 0 -8 0M1069.4 1158.4a4 4 0 1 0 8 0a4 4 0 1 0 -8 0M1082.2 1156a4 4 0 1 0 8 0a4 4 0 1 0 -8 0M1094.9 1153a4 4 0 1 0 8 0a4 4 0 1 0 -8 0M1107.7 1149.3a4 4 0 1 0 8 0a4 4 0 1 0 -8 0M1120.4 1144.8a4 4 0 1 0 8 0a4 4 0 1 0 -8 0M1133.2 1139.3a4 4 0 1 0 8 0a4 4 0 1 0 -8 0M1145.9 1132.5a4 4 0 1 0 8 0a4 4 0 1 0 -8 0M1158.7 1124.2a4 4 0 1 0 8 0a4 4 0 1 0 -8 0M1171.5 1114a4 4 0 1 0 8 0a4 4 0 1 0 -8 0M1184.2 1101.6a4 4 0 1 0 8 0a4 4 0 1 0 -8 0M1197 1086.4a4 4 0 1 0 8 0a4 4 0 1 0 -8 0M1209.7 1067.8a4 4 0 1 0 8 0a4 4 0 1 0 -8 0M1222.5 1045.3a4 4 0 1 0 8 0a4 4 0 1 0 -8 0M1235.3 1018a4 4 0 1 0 8 0a4 4 0 1 0 -8 0M1248 985.4a4 4 0 1 0 8 0a4 4 0 1 0 -8 0M1260.8 946.8a4 4 0 1 0 8 0a4 4 0 1 0 -8 0M1273.5 901.9a4 4 0 1 0 8 0a4 4 0 1 0 -8 0M1286.3 851.1a4 4 0 1 0 8 0a4 4 0 1 0 -8 0M1299 796a4 4 0 1 0 8 0a4 4 0 1 0 -8 0M1311.8 739.7a4 4 0 1 0 8 0a4 4 0 1 0 -8 0M1324.6 687.4a4 4 0 1 0 8 0a4 4 0 1 0 -8 0" fill="#800080"/>
<path d="M792.7 1169l5.6 0 7.2 0 6.4 -0.1 6.3 0 6.4 0 6.4 0 6.4 -0.1 6.3 0 6.4 0 6.4 -0.1 6.4 0 6.4 -0.1 6.3 0 6.4 -0.1 6.4 0 6.4 -0.1 6.4 -0.1 6.3 -0.1 6.4 -0.1 6.4 -0.1 6.4 -0.1 6.4 -0.2 6.3 -0.1 6.4 -0.2 6.4 -0.2 6.4 -0.2 6.4 -0.3 6.3 -0.2 6.4 -0.3 6.4 -0.4 6.4 -0.3 6.3 -0.4 6.4 -0.5 6.4 -0.5 6.4 -0.6 6.4 -0.6 6.3 -0.7 6.4 -0.8 6.4 -0.8 6.4 -1 6.4 -1 6.3 -1.2 6.4 -1.3 6.4 -1.5 6.4 -1.6 6.4 -1.8 6.3 -2 6.4 -2.2 6.4 -2.5 6.4 -2.7 6.3 -3 6.4 -3.4 6.4 -3.8 6.4 -4.1 6.4 -4.7 6.3 -5.1 6.4 -5.7 6.4 -6.3 6.4 -7 6.4 -7.8 6.3 -8.6 6.4 -9.6 6.4 -10.5 6.4 -11.7 6.4 -12.8 6.3 -14.2 6.4 -15.5 6.4 -17 6.4 -18.7 6.4 -20.2 6.3 -21.9 6.4 -23.6 6.4 -25.2 6.4 -26.6 6.3 -27.9 6.4 -28.7 6.4 -29.1 6.4 -28.8 6.4 -27.9 6.3 -26 6.4 -23 6.4 -19.3 7.2 -14.5 5.6 -9.2" fill="none" stroke="#FF0000" stroke-width="3.3" stroke-linejoin="round"/>
<path d="M788.7 1165h8v8h-8zM801.5 1165h8v8h-8zM814.2 1164.9h8v8h-8zM827 1164.9h8v8h-8zM839.7 1164.8h8v8h-8zM852.5 1164.7h8v8h-8zM865.3 1164.6h8v8h-8zM878 1164.5h8v8h-8zM890.8 1164.4h8v8h-8zM903.5 1164.2h8v8h-8zM916.3 1164h8v8h-8zM929.1 1163.7h8v8h-8zM941.8 1163.4h8v8h-8zM954.6 1163h8v8h-8zM967.3 1162.5h8v8h-8zM980.1 1161.8h8v8h-8zM992.8 1161.1h8v8h-8zM1005.6 1160.1h8v8h-8zM1018.4 1158.9h8v8h-8zM1031.1 1157.4h8v8h-8zM1043.9 1155.6h8v8h-8zM1056.6 1153.4h8v8h-8zM1069.4 1150.6h8v8h-8zM1082.2 1147.2h8v8h-8zM1094.9 1143h8v8h-8zM1107.7 1137.8h8v8h-8zM1120.4 1131.4h8v8h-8zM1133.2 1123.5h8v8h-8zM1145.9 1113.7h8v8h-8zM1158.7 1101.7h8v8h-8zM1171.5 1086.9h8v8h-8zM1184.2 1068.7h8v8h-8zM1197 1046.5h8v8h-8zM1209.7 1019.5h8v8h-8zM1222.5 987h8v8h-8zM1235.3 948.1h8v8h-8zM1248 902.6h8v8h-8zM1260.8 850.8h8v8h-8zM1273.5 794.2h8v8h-8zM1286.3 736.3h8v8h-8zM1299 682.4h8v8h-8zM1311.8 640.1h8v8h-8zM1324.6 616.4h8v8h-8z" fill="#FF0000"/>
<path d="M792.7 1169l5.6 0 7.2 0 6.4 -0.1 6.3 0 6.4 0 6.4 -0.1 6.4 0 6.3 0 6.4 -0.1 6.4 0 6.4 -0.1 6.4 0 6.3 -0.1 6.4 -0.1 6.4 0 6.4 -0.1 6.4 -0.1 6.3 -0.1 6.4 -0.2 6.4 -0.1 6.4 -0.1 6.4 -0.2 6.3 -0.2 6.4 -0.2 6.4 -0.3 6.4 -0.2 6.4 -0.3 6.3 -0.3 6.4 -0.4 6.4 -0.4 6.4 -0.5 6.3 -0.5 6.4 -0.6 6.4 -0.6 6.4 -0.7 6.4 -0.8 6.3 -0.9 6.4 -0.9 6.4 -1.1 6.4 -1.2 6.4 -1.4 6.3 -1.5 6.4 -1.7 6.4 -1.9 6.4 -2.1 6.4 -2.3 6.3 -2.6 6.4 -2.9 6.4 -3.2 6.4 -3.6 6.3 -4 6.4 -4.5 6.4 -5 6.4 -5.5 6.4 -6.2 6.3 -6.8 6.4 -7.7 6.4 -8.5 6.4 -9.4 6.4 -10.5 6.3 -11.6 6.4 -12.8 6.4 -14.2 6.4 -15.6 6.4 -17.3 6.3 -18.8 6.4 -20.6 6.4 -22.4 6.4 -24.1 6.4 -25.8 6.3 -27.5 6.4 -28.6 6.4 -29.7 6.4 -29.9 6.3 -29.8 6.4 -28.5 6.4 -26.4 6.4 -23.2 6.4 -18.8 6.3 -13.8 6.4 -7.4 6.4 -1.7 7.2 5.6 5.6 6.9" fill="none" stroke="#008000" stroke-width="3.3" stroke-linejoin="round"/>
<path d="M788.7 1165l8 8m0 -8l-8 8M801.5 1165l8 8m0 -8l-8 8M814.2 1164.9l8 8m0 -8l-8 8M827 1164.8l8 8m0 -8l-8 8M839.7 1164.8l8 8m0 -8l-8 8M852.5 1164.7l8 8m0 -8l-8 8M865.3 1164.6l8 8m0 -8l-8 8M878 1164.4l8 8m0 -8l-8 8M890.8 1164.3l8 8m0 -8l-8 8M903.5 1164.1l8 8m0 -8l-8 8M916.3 1163.8l8 8m0 -8l-8 8M929.1 1163.5l8 8m0 -8l-8 8M941.8 1163.1l8 8m0 -8l-8 8M954.6 1162.6l8 8m0 -8l-8 8M967.3 1162l8 8m0 -8l-8 8M980.1 1161.2l8 8m0 -8l-8 8M992.8 1160.2l8 8m0 -8l-8 8M1005.6 1159l8 8m0 -8l-8 8M1018.4 1157.5l8 8m0 -8l-8 8M1031.1 1155.7l8 8m0 -8l-8 8M1043.9 1153.4l8 8m0 -8l-8 8M1056.6 1150.5l8 8m0 -8l-8 8M1069.4 1146.9l8 8m0 -8l-8 8M1082.2 1142.5l8 8m0 -8l-8 8M1094.9 1137l8 8m0 -8l-8 8M1107.7 1130.2l8 8m0 -8l-8 8M1120.4 1121.7l8 8m0 -8l-8 8M1133.2 1111.2l8 8m0 -8l-8 8M1145.9 1098.2l8 8m0 -8l-8 8M1158.7 1082l8 8m0 -8l-8 8M1171.5 1062.1l8 8m0 -8l-8 8M1184.2 1037.7l8 8m0 -8l-8 8M1197 1007.9l8 8m0 -8l-8 8M1209.7 971.8l8 8m0 -8l-8 8M1222.5 928.8l8 8m0 -8l-8 8M1235.3 878.9l8 8m0 -8l-8 8M1248 822.8l8 8m0 -8l-8 8M1260.8 763.2l8 8m0 -8l-8 8M1273.5 704.9l8 8m0 -8l-8 8M1286.3 655.3l8 8m0 -8l-8 8M1299 622.7l8 8m0 -8l-8 8M1311.8 613.6l8 8m0 -8l-8 8M1324.6 626.1l8 8m0 -8l-8 8" stroke="#008000" stroke-width="1.4" fill="none"/>
<path d="M792.7 1169l5.6 -0.1 7.2 0 6.4 0 6.3 0 6.4 -0.1 6.4 0 6.4 0 6.3 -0.1 6.4 0 6.4 -0.1 6.4 -0.1 6.4 0 6.3 -0.1 6.4 -0.1 6.4 -0.1 6.4 -0.1 6.4 -0.1 6.3 -0.2 6.4 -0.1 6.4 -0.2 6.4 -0.2 6.4 -0.2 6.3 -0.3 6.4 -0.2 6.4 -0.4 6.4 -0.3 6.4 -0.4 6.3 -0.4 6.4 -0.5 6.4 -0.5 6.4 -0.6 6.3 -0.7 6.4 -0.8 6.4 -0.8 6.4 -1 6.4 -1 6.3 -1.2 6.4 -1.3 6.4 -1.5 6.4 -1.7 6.4 -1.8 6.3 -2.1 6.4 -2.3 6.4 -2.6 6.4 -2.9 6.4 -3.3 6.3 -3.6 6.4 -4 6.4 -4.6 6.4 -5.1 6.3 -5.6 6.4 -6.4 6.4 -7 6.4 -7.9 6.4 -8.8 6.3 -9.8 6.4 -10.9 6.4 -12.2 6.4 -13.5 6.4 -14.9 6.3 -16.5 6.4 -18.2 6.4 -20 6.4 -21.8 6.4 -23.8 6.3 -25.6 6.4 -27.4 6.4 -28.8 6.4 -30.2 6.4 -30.8 6.3 -30.9 6.4 -30 6.4 -28.3 6.4 -25.2 6.3 -20.9 6.4 -15.9 6.4 -9.3 6.4 -3.2 6.4 2.9 6.3 8.1 6.4 12.8 6.4 16.7 7.2 23.5 5.6 19.7" fill="none" stroke="#0000FF" stroke-width="3.3" stroke-linejoin="round"/>
<path d="M788.7 1169a4 4 0 1 0 8 0a4 4 0 1 0 -8 0M801.5 1168.9a4 4 0 1 0 8 0a4 4 0 1 0 -8 0M814.2 1168.9a4 4 0 1 0 8 0a4 4 0 1 0 -8 0M827 1168.8a4 4 0 1 0 8 0a4 4 0 1 0 -8 0M839.7 1168.7a4 4 0 1 0 8 0a4 4 0 1 0 -8 0M852.5 1168.6a4 4 0 1 0 8 0a4 4 0 1 0 -8 0M865.3 1168.5a4 4 0 1 0 8 0a4 4 0 1 0 -8 0M878 1168.3a4 4 0 1 0 8 0a4 4 0 1 0 -8 0M890.8 1168.1a4 4 0 1 0 8 0a4 4 0 1 0 -8 0M903.5 1167.8a4 4 0 1 0 8 0a4 4 0 1 0 -8 0M916.3 1167.5a4 4 0 1 0 8 0a4 4 0 1 0 -8 0M929.1 1167.1a4 4 0 1 0 8 0a4 4 0 1 0 -8 0M941.8 1166.6a4 4 0 1 0 8 0a4 4 0 1 0 -8 0M954.6 1165.9a4 4 0 1 0 8 0a4 4 0 1 0 -8 0M967.3 1165.1a4 4 0 1 0 8 0a4 4 0 1 0 -8 0M980.1 1164.1a4 4 0 1 0 8 0a4 4 0 1 0 -8 0M992.8 1162.8a4 4 0 1 0 8 0a4 4 0 1 0 -8 0M1005.6 1161.2a4 4 0 1 0 8 0a4 4 0 1 0 -8 0M1018.4 1159.2a4 4 0 1 0 8 0a4 4 0 1 0 -8 0M1031.1 1156.7a4 4 0 1 0 8 0a4 4 0 1 0 -8 0M1043.9 1153.5a4 4 0 1 0 8 0a4 4 0 1 0 -8 0M1056.6 1149.6a4 4 0 1 0 8 0a4 4 0 1 0 -8 0M1069.4 1144.7a4 4 0 1 0 8 0a4 4 0 1 0 -8 0M1082.2 1138.5a4 4 0 1 0 8 0a4 4 0 1 0 -8 0M1094.9 1130.9a4 4 0 1 0 8 0a4 4 0 1 0 -8 0M1107.7 1121.2a4 4 0 1 0 8 0a4 4 0 1 0 -8 0M1120.4 1109.2a4 4 0 1 0 8 0a4 4 0 1 0 -8 0M1133.2 1094.3a4 4 0 1 0 8 0a4 4 0 1 0 -8 0M1145.9 1075.7a4 4 0 1 0 8 0a4 4 0 1 0 -8 0M1158.7 1052.6a4 4 0 1 0 8 0a4 4 0 1 0 -8 0M1171.5 1024.2a4 4 0 1 0 8 0a4 4 0 1 0 -8 0M1184.2 989.5a4 4 0 1 0 8 0a4 4 0 1 0 -8 0M1197 947.7a4 4 0 1 0 8 0a4 4 0 1 0 -8 0M1209.7 898.3a4 4 0 1 0 8 0a4 4 0 1 0 -8 0M1222.5 842.1a4 4 0 1 0 8 0a4 4 0 1 0 -8 0M1235.3 781.1a4 4 0 1 0 8 0a4 4 0 1 0 -8 0M1248 720.2a4 4 0 1 0 8 0a4 4 0 1 0 -8 0M1260.8 666.7a4 4 0 1 0 8 0a4 4 0 1 0 -8 0M1273.5 629.9a4 4 0 1 0 8 0a4 4 0 1 0 -8 0M1286.3 617.4a4 4 0 1 0 8 0a4 4 0 1 0 -8 0M1299 628.4a4 4 0 1 0 8 0a4 4 0 1 0 -8 0M1311.8 657.9a4 4 0 1 0 8 0a4 4 0 1 0 -8 0M1324.6 701.1a4 4 0 1 0 8 0a4 4 0 1 0 -8 0" fill="#0000FF"/>
<path d="M792.7 1169l5.6 0 7.2 -0.1 6.4 0 6.3 0 6.4 -0.1 6.4 0 6.4 0 6.3 -0.1 6.4 0 6.4 -0.1 6.4 -0.1 6.4 0 6.3 -0.1 6.4 -0.1 6.4 -0.1 6.4 -0.1 6.4 -0.2 6.3 -0.1 6.4 -0.2 6.4 -0.2 6.4 -0.2 6.4 -0.2 6.3 -0.3 6.4 -0.3 6.4 -0.3 6.4 -0.4 6.4 -0.4 6.3 -0.5 6.4 -0.5 6.4 -0.6 6.4 -0.7 6.3 -0.8 6.4 -0.8 6.4 -1 6.4 -1 6.4 -1.2 6.3 -1.4 6.4 -1.5 6.4 -1.7 6.4 -1.9 6.4 -2.2 6.3 -2.4 6.4 -2.7 6.4 -3 6.4 -3.4 6.4 -3.9 6.3 -4.3 6.4 -4.8 6.4 -5.4 6.4 -6.1 6.3 -6.8 6.4 -7.6 6.4 -8.5 6.4 -9.5 6.4 -10.7 6.3 -11.9 6.4 -13.3 6.4 -14.8 6.4 -16.4 6.4 -18.1 6.3 -20.1 6.4 -22 6.4 -24 6.4 -26 6.4 -28 6.3 -29.5 6.4 -31.1 6.4 -31.7 6.4 -32 6.4 -31 6.3 -29.1 6.4 -25.9 6.4 -21.3 6.4 -15.8 6.3 -8.6 6.4 -2.3 6.4 4.1 6.4 9.4 6.4 14.3 6.3 18.3 6.4 21.8 6.4 24.3 7.2 29.5 5.6 23.8" fill="none" stroke="#FFD700" stroke-width="3.3" stroke-linejoin="round"/>
<path d="M792.7 1164.2l4.8 4.8l-4.8 4.8l-4.8 -4.8zM805.5 1164.1l4.8 4.8l-4.8 4.8l-4.8 -4.8zM818.2 1164.1l4.8 4.8l-4.8 4.8l-4.8 -4.8zM831 1164l4.8 4.8l-4.8 4.8l-4.8 -4.8zM843.7 1163.9l4.8 4.8l-4.8 4.8l-4.8 -4.8zM856.5 1163.8l4.8 4.8l-4.8 4.8l-4.8 -4.8zM869.3 1163.7l4.8 4.8l-4.8 4.8l-4.8 -4.8zM882 1163.5l4.8 4.8l-4.8 4.8l-4.8 -4.8zM894.8 1163.3l4.8 4.8l-4.8 4.8l-4.8 -4.8zM907.5 1163l4.8 4.8l-4.8 4.8l-4.8 -4.8zM920.3 1162.6l4.8 4.8l-4.8 4.8l-4.8 -4.8zM933.1 1162.2l4.8 4.8l-4.8 4.8l-4.8 -4.8zM945.8 1161.6l4.8 4.8l-4.8 4.8l-4.8 -4.8zM958.6 1160.9l4.8 4.8l-4.8 4.8l-4.8 -4.8zM971.3 1160l4.8 4.8l-4.8 4.8l-4.8 -4.8zM984.1 1158.9l4.8 4.8l-4.8 4.8l-4.8 -4.8zM996.8 1157.4l4.8 4.8l-4.8 4.8l-4.8 -4.8zM1009.6 1155.6l4.8 4.8l-4.8 4.8l-4.8 -4.8zM1022.4 1153.4l4.8 4.8l-4.8 4.8l-4.8 -4.8zM1035.1 1150.5l4.8 4.8l-4.8 4.8l-4.8 -4.8zM1047.9 1146.9l4.8 4.8l-4.8 4.8l-4.8 -4.8zM1060.6 1142.3l4.8 4.8l-4.8 4.8l-4.8 -4.8zM1073.4 1136.6l4.8 4.8l-4.8 4.8l-4.8 -4.8zM1086.2 1129.3l4.8 4.8l-4.8 4.8l-4.8 -4.8zM1098.9 1120.2l4.8 4.8l-4.8 4.8l-4.8 -4.8zM1111.7 1108.7l4.8 4.8l-4.8 4.8l-4.8 -4.8zM1124.4 1094.3l4.8 4.8l-4.8 4.8l-4.8 -4.8zM1137.2 1076.3l4.8 4.8l-4.8 4.8l-4.8 -4.8zM1149.9 1053.7l4.8 4.8l-4.8 4.8l-4.8 -4.8zM1162.7 1025.6l4.8 4.8l-4.8 4.8l-4.8 -4.8zM1175.5 991.1l4.8 4.8l-4.8 4.8l-4.8 -4.8zM1188.2 949l4.8 4.8l-4.8 4.8l-4.8 -4.8zM1201 899l4.8 4.8l-4.8 4.8l-4.8 -4.8zM1213.7 841.5l4.8 4.8l-4.8 4.8l-4.8 -4.8zM1226.5 778.7l4.8 4.8l-4.8 4.8l-4.8 -4.8zM1239.3 715.7l4.8 4.8l-4.8 4.8l-4.8 -4.8zM1252 660.7l4.8 4.8l-4.8 4.8l-4.8 -4.8zM1264.8 623.6l4.8 4.8l-4.8 4.8l-4.8 -4.8zM1277.5 612.7l4.8 4.8l-4.8 4.8l-4.8 -4.8zM1290.3 626.2l4.8 4.8l-4.8 4.8l-4.8 -4.8zM1303 658.8l4.8 4.8l-4.8 4.8l-4.8 -4.8zM1315.8 704.9l4.8 4.8l-4.8 4.8l-4.8 -4.8zM1328.6 758.2l4.8 4.8l-4.8 4.8l-4.8 -4.8z" fill="#FFD700"/>
<path d="M792.7 1169l5.6 -0.1 7.2 0 6.4 0 6.3 -0.1 6.4 0 6.4 0 6.4 -0.1 6.3 0 6.4 -0.1 6.4 -0.1 6.4 0 6.4 -0.1 6.3 -0.1 6.4 -0.1 6.4 -0.2 6.4 -0.1 6.4 -0.2 6.3 -0.1 6.4 -0.2 6.4 -0.3 6.4 -0.2 6.4 -0.3 6.3 -0.3 6.4 -0.4 6.4 -0.4 6.4 -0.5 6.4 -0.5 6.3 -0.6 6.4 -0.7 6.4 -0.7 6.4 -0.8 6.3 -1 6.4 -1.1 6.4 -1.2 6.4 -1.4 6.4 -1.5 6.3 -1.7 6.4 -2 6.4 -2.2 6.4 -2.5 6.4 -2.8 6.3 -3.1 6.4 -3.6 6.4 -4 6.4 -4.5 6.4 -5.1 6.3 -5.8 6.4 -6.4 6.4 -7.3 6.4 -8.1 6.3 -9.2 6.4 -10.3 6.4 -11.6 6.4 -12.9 6.4 -14.5 6.3 -16.1 6.4 -18 6.4 -19.9 6.4 -22 6.4 -24 6.3 -26.3 6.4 -28.3 6.4 -30.3 6.4 -31.7 6.4 -32.9 6.3 -32.9 6.4 -32.3 6.4 -30.3 6.4 -26.9 6.4 -22.1 6.3 -15.8 6.4 -9.1 6.4 -1.4 6.4 5.1 6.3 10.5 6.4 15.4 6.4 19.7 6.4 23.1 6.4 25.6 6.3 27.3 6.4 28.1 6.4 28.3 7.2 30.9 5.6 23.9" fill="none" stroke="#FF00FF" stroke-width="3.3" stroke-linejoin="round"/>
<path d="M788.7 1165h8v8h-8zM801.5 1164.9h8v8h-8zM814.2 1164.8h8v8h-8zM827 1164.8h8v8h-8zM839.7 1164.7h8v8h-8zM852.5 1164.5h8v8h-8zM865.3 1164.4h8v8h-8zM878 1164.2h8v8h-8zM890.8 1163.9h8v8h-8zM903.5 1163.6h8v8h-8zM916.3 1163.1h8v8h-8zM929.1 1162.6h8v8h-8zM941.8 1161.9h8v8h-8zM954.6 1161h8v8h-8zM967.3 1159.9h8v8h-8zM980.1 1158.5h8v8h-8zM992.8 1156.7h8v8h-8zM1005.6 1154.4h8v8h-8zM1018.4 1151.5h8v8h-8zM1031.1 1147.8h8v8h-8zM1043.9 1143.1h8v8h-8zM1056.6 1137.2h8v8h-8zM1069.4 1129.6h8v8h-8zM1082.2 1120h8v8h-8zM1094.9 1107.8h8v8h-8zM1107.7 1092.4h8v8h-8zM1120.4 1072.9h8v8h-8zM1133.2 1048.4h8v8h-8zM1145.9 1017.8h8v8h-8zM1158.7 979.9h8v8h-8zM1171.5 933.9h8v8h-8zM1184.2 879.3h8v8h-8zM1197 817.3h8v8h-8zM1209.7 751.5h8v8h-8zM1222.5 688.9h8v8h-8zM1235.3 639.9h8v8h-8zM1248 615h8v8h-8zM1260.8 618.7h8v8h-8zM1273.5 644.6h8v8h-8zM1286.3 687.4h8v8h-8zM1299 740.3h8v8h-8zM1311.8 796.7h8v8h-8zM1324.6 851.5h8v8h-8z" fill="#FF00FF"/>
<path d="M792.7 1169l5.6 -0.1 7.2 0 6.4 0 6.3 -0.1 6.4 0 6.4 -0.1 6.4 0 6.3 -0.1 6.4 0 6.4 -0.1 6.4 -0.1 6.4 -0.1 6.3 -0.1 6.4 -0.1 6.4 -0.2 6.4 -0.1 6.4 -0.2 6.3 -0.2 6.4 -0.3 6.4 -0.2 6.4 -0.3 6.4 -0.4 6.3 -0.3 6.4 -0.5 6.4 -0.5 6.4 -0.5 6.4 -0.6 6.3 -0.7 6.4 -0.9 6.4 -0.9 6.4 -1 6.3 -1.2 6.4 -1.3 6.4 -1.5 6.4 -1.7 6.4 -1.9 6.3 -2.2 6.4 -2.4 6.4 -2.8 6.4 -3.1 6.4 -3.6 6.3 -4 6.4 -4.6 6.4 -5.1 6.4 -5.9 6.4 -6.6 6.3 -7.4 6.4 -8.4 6.4 -9.5 6.4 -10.7 6.3 -12 6.4 -13.6 6.4 -15.2 6.4 -17 6.4 -19 6.3 -21 6.4 -23.4 6.4 -25.6 6.4 -28 6.4 -30 6.3 -32.1 6.4 -33.3 6.4 -34.3 6.4 -33.8 6.4 -32.5 6.3 -29.4 6.4 -24.9 6.4 -19 6.4 -11 6.4 -3.9 6.3 3.5 6.4 9.8 6.4 15 6.4 19.6 6.3 23.5 6.4 26.1 6.4 28 6.4 29 6.4 29 6.3 28.7 6.4 27.7 6.4 26.6 7.2 27.6 5.6 20.8" fill="none" stroke="#000000" stroke-width="3.3" stroke-linejoin="round"/>
<path d="M792.7 1164.6l4 7.6h-8zM805.5 1164.5l4 7.6h-8zM818.2 1164.4l4 7.6h-8zM831 1164.3l4 7.6h-8zM843.7 1164.2l4 7.6h-8zM856.5 1164.1l4 7.6h-8zM869.3 1163.9l4 7.6h-8zM882 1163.7l4 7.6h-8zM894.8 1163.4l4 7.6h-8zM907.5 1163l4 7.6h-8zM920.3 1162.5l4 7.6h-8zM933.1 1161.8l4 7.6h-8zM945.8 1161l4 7.6h-8zM958.6 1160l4 7.6h-8zM971.3 1158.7l4 7.6h-8zM984.1 1156.9l4 7.6h-8zM996.8 1154.7l4 7.6h-8zM1009.6 1151.9l4 7.6h-8zM1022.4 1148.3l4 7.6h-8zM1035.1 1143.7l4 7.6h-8zM1047.9 1137.8l4 7.6h-8zM1060.6 1130.2l4 7.6h-8zM1073.4 1120.5l4 7.6h-8zM1086.2 1108l4 7.6h-8zM1098.9 1092.2l4 7.6h-8zM1111.7 1072l4 7.6h-8zM1124.4 1046.4l4 7.6h-8zM1137.2 1014.2l4 7.6h-8zM1149.9 974.2l4 7.6h-8zM1162.7 925.2l4 7.6h-8zM1175.5 867.2l4 7.6h-8zM1188.2 801.8l4 7.6h-8zM1201 733.7l4 7.6h-8zM1213.7 671.8l4 7.6h-8zM1226.5 627.9l4 7.6h-8zM1239.3 613l4 7.6h-8zM1252 626.3l4 7.6h-8zM1264.8 660.9l4 7.6h-8zM1277.5 710.5l4 7.6h-8zM1290.3 767.5l4 7.6h-8zM1303 825.2l4 7.6h-8zM1315.8 879.5l4 7.6h-8zM1328.6 927.9l4 7.6h-8z" fill="#000000"/>
<path d="M792.7 1169l5.6 -0.1 7.2 0 6.4 0 6.3 -0.1 6.4 0 6.4 -0.1 6.4 0 6.3 -0.1 6.4 -0.1 6.4 0 6.4 -0.1 6.4 -0.1 6.3 -0.2 6.4 -0.1 6.4 -0.2 6.4 -0.1 6.4 -0.2 6.3 -0.3 6.4 -0.2 6.4 -0.3 6.4 -0.4 6.4 -0.4 6.3 -0.4 6.4 -0.5 6.4 -0.6 6.4 -0.6 6.4 -0.7 6.3 -0.9 6.4 -0.9 6.4 -1.1 6.4 -1.2 6.3 -1.4 6.4 -1.6 6.4 -1.8 6.4 -2.1 6.4 -2.3 6.3 -2.7 6.4 -3 6.4 -3.4 6.4 -3.9 6.4 -4.4 6.3 -5.1 6.4 -5.7 6.4 -6.5 6.4 -7.3 6.4 -8.4 6.3 -9.5 6.4 -10.7 6.4 -12.2 6.4 -13.7 6.3 -15.4 6.4 -17.4 6.4 -19.5 6.4 -21.8 6.4 -24.2 6.3 -26.5 6.4 -29.2 6.4 -31.3 6.4 -33.5 6.4 -34.7 6.3 -35.5 6.4 -34.8 6.4 -33 6.4 -29.2 6.4 -23.7 6.3 -16.9 6.4 -7.9 6.4 -0.4 6.4 6.7 6.4 13 6.3 18.2 6.4 22.6 6.4 26 6.4 28.3 6.3 29.6 6.4 30 6.4 29.7 6.4 28.9 6.4 27.6 6.3 26.1 6.4 24.3 6.4 22.7 7.2 22.9 5.6 17" fill="none" stroke="#800000" stroke-width="3.3" stroke-linejoin="round"/>
<path d="M788.7 1165l8 8m0 -8l-8 8M801.5 1164.9l8 8m0 -8l-8 8M814.2 1164.8l8 8m0 -8l-8 8M827 1164.7l8 8m0 -8l-8 8M839.7 1164.6l8 8m0 -8l-8 8M852.5 1164.5l8 8m0 -8l-8 8M865.3 1164.3l8 8m0 -8l-8 8M878 1164l8 8m0 -8l-8 8M890.8 1163.7l8 8m0 -8l-8 8M903.5 1163.2l8 8m0 -8l-8 8M916.3 1162.7l8 8m0 -8l-8 8M929.1 1161.9l8 8m0 -8l-8 8M941.8 1161l8 8m0 -8l-8 8M954.6 1159.8l8 8m0 -8l-8 8M967.3 1158.2l8 8m0 -8l-8 8M980.1 1156.2l8 8m0 -8l-8 8M992.8 1153.6l8 8m0 -8l-8 8M1005.6 1150.2l8 8m0 -8l-8 8M1018.4 1145.8l8 8m0 -8l-8 8M1031.1 1140.1l8 8m0 -8l-8 8M1043.9 1132.8l8 8m0 -8l-8 8M1056.6 1123.3l8 8m0 -8l-8 8M1069.4 1111.1l8 8m0 -8l-8 8M1082.2 1095.4l8 8m0 -8l-8 8M1094.9 1075.2l8 8m0 -8l-8 8M1107.7 1049.3l8 8m0 -8l-8 8M1120.4 1016.5l8 8m0 -8l-8 8M1133.2 975.2l8 8m0 -8l-8 8M1145.9 924.5l8 8m0 -8l-8 8M1158.7 864l8 8m0 -8l-8 8M1171.5 795.8l8 8m0 -8l-8 8M1184.2 725.5l8 8m0 -8l-8 8M1197 663.3l8 8m0 -8l-8 8M1209.7 622.7l8 8m0 -8l-8 8M1222.5 614.4l8 8m0 -8l-8 8M1235.3 634.1l8 8m0 -8l-8 8M1248 674.9l8 8m0 -8l-8 8M1260.8 729.2l8 8m0 -8l-8 8M1273.5 788.8l8 8m0 -8l-8 8M1286.3 847.4l8 8m0 -8l-8 8M1299 901.1l8 8m0 -8l-8 8M1311.8 948.1l8 8m0 -8l-8 8M1324.6 988l8 8m0 -8l-8 8" stroke="#800000" stroke-width="1.4" fill="none"/>
<path d="M792.7 1168.9l5.6 0 7.2 0 6.4 -0.1 6.3 0 6.4 0 6.4 -0.1 6.4 -0.1 6.3 0 6.4 -0.1 6.4 -0.1 6.4 -0.1 6.4 -0.1 6.3 -0.2 6.4 -0.2 6.4 -0.1 6.4 -0.2 6.4 -0.3 6.3 -0.3 6.4 -0.3 6.4 -0.3 6.4 -0.4 6.4 -0.5 6.3 -0.6 6.4 -0.6 6.4 -0.7 6.4 -0.8 6.4 -0.9 6.3 -1 6.4 -1.2 6.4 -1.4 6.4 -1.5 6.3 -1.8 6.4 -2.1 6.4 -2.3 6.4 -2.7 6.4 -3 6.3 -3.5 6.4 -3.9 6.4 -4.5 6.4 -5.2 6.4 -5.9 6.3 -6.7 6.4 -7.7 6.4 -8.8 6.4 -9.9 6.4 -11.4 6.3 -12.8 6.4 -14.7 6.4 -16.5 6.4 -18.7 6.3 -21 6.4 -23.4 6.4 -26.2 6.4 -28.7 6.4 -31.4 6.3 -33.6 6.4 -35.7 6.4 -36.5 6.4 -36.7 6.4 -34.9 6.3 -31.6 6.4 -26.4 6.4 -18.7 6.4 -10.8 6.4 -1.2 6.3 6.5 6.4 12.9 6.4 18.5 6.4 23.3 6.4 26.8 6.3 29.2 6.4 30.7 6.4 30.9 6.4 30.6 6.3 29.5 6.4 28.2 6.4 26.5 6.4 24.7 6.4 22.7 6.3 21 6.4 19 6.4 17.4 7.2 17.2 5.6 12.7" fill="none" stroke="#FF0000" stroke-width="3.3" stroke-linejoin="round"/>
<path d="M792.7 1164.5l4 7.6h-8zM805.5 1164.5l4 7.6h-8zM818.2 1164.4l4 7.6h-8zM831 1164.3l4 7.6h-8zM843.7 1164.2l4 7.6h-8zM856.5 1164l4 7.6h-8zM869.3 1163.8l4 7.6h-8zM882 1163.4l4 7.6h-8zM894.8 1163.1l4 7.6h-8zM907.5 1162.5l4 7.6h-8zM920.3 1161.9l4 7.6h-8zM933.1 1161l4 7.6h-8zM945.8 1159.8l4 7.6h-8zM958.6 1158.3l4 7.6h-8zM971.3 1156.4l4 7.6h-8zM984.1 1153.8l4 7.6h-8zM996.8 1150.5l4 7.6h-8zM1009.6 1146.1l4 7.6h-8zM1022.4 1140.4l4 7.6h-8zM1035.1 1133l4 7.6h-8zM1047.9 1123.3l4 7.6h-8zM1060.6 1110.7l4 7.6h-8zM1073.4 1094.2l4 7.6h-8zM1086.2 1072.9l4 7.6h-8zM1098.9 1045.4l4 7.6h-8zM1111.7 1010.2l4 7.6h-8zM1124.4 965.8l4 7.6h-8zM1137.2 910.9l4 7.6h-8zM1149.9 845.9l4 7.6h-8zM1162.7 773.7l4 7.6h-8zM1175.5 702.1l4 7.6h-8zM1188.2 644.1l4 7.6h-8zM1201 614.6l4 7.6h-8zM1213.7 619.9l4 7.6h-8zM1226.5 651.3l4 7.6h-8zM1239.3 701.4l4 7.6h-8zM1252 761.3l4 7.6h-8zM1264.8 822.8l4 7.6h-8zM1277.5 880.5l4 7.6h-8zM1290.3 931.7l4 7.6h-8zM1303 975.4l4 7.6h-8zM1315.8 1011.8l4 7.6h-8zM1328.6 1041.7l4 7.6h-8z" fill="#FF0000"/>
<path d="M792.7 1168.9l5.6 0 7.2 0 6.4 -0.1 6.3 0 6.4 -0.1 6.4 0 6.4 -0.1 6.3 -0.1 6.4 -0.1 6.4 -0.1 6.4 -0.1 6.4 -0.2 6.3 -0.1 6.4 -0.2 6.4 -0.2 6.4 -0.3 6.4 -0.3 6.3 -0.3 6.4 -0.4 6.4 -0.4 6.4 -0.5 6.4 -0.6 6.3 -0.6 6.4 -0.8 6.4 -0.8 6.4 -1 6.4 -1.2 6.3 -1.3 6.4 -1.5 6.4 -1.7 6.4 -2 6.3 -2.3 6.4 -2.6 6.4 -3 6.4 -3.4 6.4 -4 6.3 -4.5 6.4 -5.3 6.4 -5.9 6.4 -6.9 6.4 -7.9 6.3 -9 6.4 -10.4 6.4 -11.8 6.4 -13.5 6.4 -15.3 6.3 -17.5 6.4 -19.8 6.4 -22.4 6.4 -25.1 6.3 -28 6.4 -30.7 6.4 -33.6 6.4 -35.8 6.4 -37.7 6.3 -38.1 6.4 -37.4 6.4 -34.6 6.4 -29.6 6.4 -22.8 6.3 -13.1 6.4 -4.4 6.4 4.7 6.4 12.1 6.4 18.3 6.3 23.3 6.4 27.4 6.4 30.1 6.4 31.5 6.4 32 6.3 31.5 6.4 30.5 6.4 28.9 6.4 27.2 6.3 25.2 6.4 23.1 6.4 21.2 6.4 19.3 6.4 17.4 6.3 15.7 6.4 14.1 6.4 12.7 7.2 12.5 5.6 9.1" fill="none" stroke="#00008B" stroke-width="3.3" stroke-linejoin="round"/>
<path d="M788.7 1168.9a4 4 0 1 0 8 0a4 4 0 1 0 -8 0M801.5 1168.9a4 4 0 1 0 8 0a4 4 0 1 0 -8 0M814.2 1168.8a4 4 0 1 0 8 0a4 4 0 1 0 -8 0M827 1168.7a4 4 0 1 0 8 0a4 4 0 1 0 -8 0M839.7 1168.5a4 4 0 1 0 8 0a4 4 0 1 0 -8 0M852.5 1168.3a4 4 0 1 0 8 0a4 4 0 1 0 -8 0M865.3 1168a4 4 0 1 0 8 0a4 4 0 1 0 -8 0M878 1167.7a4 4 0 1 0 8 0a4 4 0 1 0 -8 0M890.8 1167.2a4 4 0 1 0 8 0a4 4 0 1 0 -8 0M903.5 1166.6a4 4 0 1 0 8 0a4 4 0 1 0 -8 0M916.3 1165.8a4 4 0 1 0 8 0a4 4 0 1 0 -8 0M929.1 1164.7a4 4 0 1 0 8 0a4 4 0 1 0 -8 0M941.8 1163.3a4 4 0 1 0 8 0a4 4 0 1 0 -8 0M954.6 1161.5a4 4 0 1 0 8 0a4 4 0 1 0 -8 0M967.3 1159a4 4 0 1 0 8 0a4 4 0 1 0 -8 0M980.1 1155.8a4 4 0 1 0 8 0a4 4 0 1 0 -8 0M992.8 1151.5a4 4 0 1 0 8 0a4 4 0 1 0 -8 0M1005.6 1145.9a4 4 0 1 0 8 0a4 4 0 1 0 -8 0M1018.4 1138.5a4 4 0 1 0 8 0a4 4 0 1 0 -8 0M1031.1 1128.7a4 4 0 1 0 8 0a4 4 0 1 0 -8 0M1043.9 1115.9a4 4 0 1 0 8 0a4 4 0 1 0 -8 0M1056.6 1099a4 4 0 1 0 8 0a4 4 0 1 0 -8 0M1069.4 1076.8a4 4 0 1 0 8 0a4 4 0 1 0 -8 0M1082.2 1048a4 4 0 1 0 8 0a4 4 0 1 0 -8 0M1094.9 1010.7a4 4 0 1 0 8 0a4 4 0 1 0 -8 0M1107.7 963.2a4 4 0 1 0 8 0a4 4 0 1 0 -8 0M1120.4 904.5a4 4 0 1 0 8 0a4 4 0 1 0 -8 0M1133.2 835.1a4 4 0 1 0 8 0a4 4 0 1 0 -8 0M1145.9 759.3a4 4 0 1 0 8 0a4 4 0 1 0 -8 0M1158.7 687.3a4 4 0 1 0 8 0a4 4 0 1 0 -8 0M1171.5 634.9a4 4 0 1 0 8 0a4 4 0 1 0 -8 0M1184.2 617.4a4 4 0 1 0 8 0a4 4 0 1 0 -8 0M1197 634.2a4 4 0 1 0 8 0a4 4 0 1 0 -8 0M1209.7 675.8a4 4 0 1 0 8 0a4 4 0 1 0 -8 0M1222.5 733.3a4 4 0 1 0 8 0a4 4 0 1 0 -8 0M1235.3 796.8a4 4 0 1 0 8 0a4 4 0 1 0 -8 0M1248 858.8a4 4 0 1 0 8 0a4 4 0 1 0 -8 0M1260.8 914.9a4 4 0 1 0 8 0a4 4 0 1 0 -8 0M1273.5 963.2a4 4 0 1 0 8 0a4 4 0 1 0 -8 0M1286.3 1003.7a4 4 0 1 0 8 0a4 4 0 1 0 -8 0M1299 1036.8a4 4 0 1 0 8 0a4 4 0 1 0 -8 0M1311.8 1063.6a4 4 0 1 0 8 0a4 4 0 1 0 -8 0M1324.6 1085.2a4 4 0 1 0 8 0a4 4 0 1 0 -8 0" fill="#00008B"/>
<path d="M792.7 1168.9l5.6 0 7.2 0 6.4 -0.1 6.3 0 6.4 -0.1 6.4 0 6.4 -0.1 6.3 -0.1 6.4 -0.1 6.4 -0.1 6.4 -0.1 6.4 -0.2 6.3 -0.1 6.4 -0.2 6.4 -0.3 6.4 -0.2 6.4 -0.3 6.3 -0.4 6.4 -0.4 6.4 -0.4 6.4 -0.6 6.4 -0.6 6.3 -0.7 6.4 -0.9 6.4 -0.9 6.4 -1.1 6.4 -1.3 6.3 -1.5 6.4 -1.7 6.4 -2 6.4 -2.3 6.3 -2.6 6.4 -3.1 6.4 -3.5 6.4 -4.1 6.4 -4.7 6.3 -5.4 6.4 -6.2 6.4 -7.2 6.4 -8.4 6.4 -9.5 6.3 -11.1 6.4 -12.6 6.4 -14.6 6.4 -16.6 6.4 -19 6.3 -21.7 6.4 -24.4 6.4 -27.6 6.4 -30.5 6.3 -33.8 6.4 -36.2 6.4 -38.8 6.4 -39.5 6.4 -39.4 6.3 -36.8 6.4 -32.1 6.4 -25.1 6.4 -14.7 6.4 -5.5 6.3 4.4 6.4 12.5 6.4 19 6.4 24.4 6.4 28.6 6.3 31.4 6.4 32.6 6.4 33.1 6.4 32.4 6.4 31.2 6.3 29.3 6.4 27.5 6.4 25.2 6.4 23.2 6.3 21 6.4 19 6.4 17.1 6.4 15.4 6.4 13.7 6.3 12.3 6.4 11 6.4 9.8 7.2 9.5 5.6 6.9" fill="none" stroke="#9C9C1E" stroke-width="3.3" stroke-linejoin="round"/>
<path d="M792.7 1164.5l4 7.6h-8zM805.5 1164.5l4 7.6h-8zM818.2 1164.4l4 7.6h-8zM831 1164.3l4 7.6h-8zM843.7 1164.1l4 7.6h-8zM856.5 1163.9l4 7.6h-8zM869.3 1163.6l4 7.6h-8zM882 1163.3l4 7.6h-8zM894.8 1162.8l4 7.6h-8zM907.5 1162.1l4 7.6h-8zM920.3 1161.3l4 7.6h-8zM933.1 1160.1l4 7.6h-8zM945.8 1158.5l4 7.6h-8zM958.6 1156.5l4 7.6h-8zM971.3 1153.7l4 7.6h-8zM984.1 1150l4 7.6h-8zM996.8 1145.1l4 7.6h-8zM1009.6 1138.5l4 7.6h-8zM1022.4 1129.7l4 7.6h-8zM1035.1 1118.1l4 7.6h-8zM1047.9 1102.5l4 7.6h-8zM1060.6 1081.9l4 7.6h-8zM1073.4 1054.7l4 7.6h-8zM1086.2 1019.1l4 7.6h-8zM1098.9 973l4 7.6h-8zM1111.7 914.9l4 7.6h-8zM1124.4 844.9l4 7.6h-8zM1137.2 766.6l4 7.6h-8zM1149.9 690.4l4 7.6h-8zM1162.7 633.2l4 7.6h-8zM1175.5 613l4 7.6h-8zM1188.2 629.9l4 7.6h-8zM1201 673.3l4 7.6h-8zM1213.7 733.3l4 7.6h-8zM1226.5 799l4 7.6h-8zM1239.3 862.6l4 7.6h-8zM1252 919.4l4 7.6h-8zM1264.8 967.8l4 7.6h-8zM1277.5 1007.8l4 7.6h-8zM1290.3 1040.3l4 7.6h-8zM1303 1066.3l4 7.6h-8zM1315.8 1087.1l4 7.6h-8zM1328.6 1103.5l4 7.6h-8z" fill="#9C9C1E"/>
<path d="M792.7 1169l5.6 -0.1 7.2 0 6.4 -0.1 6.3 0 6.4 -0.1 6.4 0 6.4 -0.1 6.3 -0.1 6.4 -0.1 6.4 -0.1 6.4 -0.1 6.4 -0.2 6.3 -0.2 6.4 -0.2 6.4 -0.3 6.4 -0.2 6.4 -0.4 6.3 -0.4 6.4 -0.4 6.4 -0.6 6.4 -0.6 6.4 -0.7 6.3 -0.8 6.4 -1 6.4 -1.1 6.4 -1.3 6.4 -1.6 6.3 -1.7 6.4 -2.1 6.4 -2.4 6.4 -2.8 6.3 -3.2 6.4 -3.7 6.4 -4.4 6.4 -5 6.4 -5.9 6.3 -6.8 6.4 -8 6.4 -9.1 6.4 -10.7 6.4 -12.3 6.3 -14.2 6.4 -16.4 6.4 -18.8 6.4 -21.6 6.4 -24.6 6.3 -27.8 6.4 -31.2 6.4 -34.6 6.4 -37.5 6.3 -40.2 6.4 -41.2 6.4 -41.1 6.4 -38.2 6.4 -32.9 6.3 -25.1 6.4 -13.4 6.4 -3.6 6.4 6.7 6.4 14.8 6.3 21.6 6.4 27 6.4 30.8 6.4 33.3 6.4 34 6.3 34.1 6.4 32.8 6.4 31.3 6.4 29.2 6.4 27.1 6.3 24.6 6.4 22.4 6.4 20.3 6.4 18.1 6.3 16.3 6.4 14.5 6.4 12.9 6.4 11.4 6.4 10.2 6.3 9.1 6.4 8 6.4 7 7.2 6.9 5.6 4.9" fill="none" stroke="#80208F" stroke-width="3.3" stroke-linejoin="round"/>
<path d="M788.7 1165h8v8h-8zM801.5 1164.9h8v8h-8zM814.2 1164.8h8v8h-8zM827 1164.7h8v8h-8zM839.7 1164.5h8v8h-8zM852.5 1164.3h8v8h-8zM865.3 1164h8v8h-8zM878 1163.6h8v8h-8zM890.8 1163.1h8v8h-8zM903.5 1162.3h8v8h-8zM916.3 1161.3h8v8h-8zM929.1 1160h8v8h-8zM941.8 1158.2h8v8h-8zM954.6 1155.8h8v8h-8zM967.3 1152.5h8v8h-8zM980.1 1148h8v8h-8zM992.8 1142h8v8h-8zM1005.6 1133.9h8v8h-8zM1018.4 1123h8v8h-8zM1031.1 1108.2h8v8h-8zM1043.9 1088.4h8v8h-8zM1056.6 1061.9h8v8h-8zM1069.4 1026.7h8v8h-8zM1082.2 980.5h8v8h-8zM1094.9 921.5h8v8h-8zM1107.7 849.4h8v8h-8zM1120.4 768h8v8h-8zM1133.2 688.7h8v8h-8zM1145.9 630.7h8v8h-8zM1158.7 613.7h8v8h-8zM1171.5 635.2h8v8h-8zM1184.2 683.8h8v8h-8zM1197 747.9h8v8h-8zM1209.7 816h8v8h-8zM1222.5 880.1h8v8h-8zM1235.3 936.4h8v8h-8zM1248 983.4h8v8h-8zM1260.8 1021.8h8v8h-8zM1273.5 1052.6h8v8h-8zM1286.3 1076.9h8v8h-8zM1299 1096.2h8v8h-8zM1311.8 1111.2h8v8h-8zM1324.6 1123h8v8h-8z" fill="#80208F"/>
<text x="651.8" y="877" font-size="31.5" textLength="34.5" lengthAdjust="spacingAndGlyphs" transform="rotate(-90 651.8 877)">M&#8243;</text>
<text x="768" y="1218" font-size="31" text-anchor="middle">20</text>
<text x="896" y="1218" font-size="31" text-anchor="middle">70</text>
<text x="1024" y="1218" font-size="31" text-anchor="middle">120</text>
<text x="1153" y="1218" font-size="31" text-anchor="middle">170</text>
<text x="1282" y="1218" font-size="31" text-anchor="middle">220</text>
<text x="968.8" y="1267" font-size="32.5" textLength="217" lengthAdjust="spacingAndGlyphs">Temperature (<tspan font-size="20" dy="-12">o</tspan><tspan dy="12">C)</tspan></text>
<text x="1047.8" y="589.6" font-size="27" textLength="87.7" lengthAdjust="spacingAndGlyphs">0.04 Hz</text>
<text x="1290" y="595" font-size="31" textLength="71" lengthAdjust="spacingAndGlyphs">1MHz</text>
<line x1="1133.6" y1="604" x2="1312" y2="604" stroke="#000" stroke-width="1.3"/>
<line x1="1312" y1="604" x2="1297" y2="597" stroke="#000" stroke-width="1.3"/>
<line x1="1312" y1="604" x2="1297" y2="611" stroke="#000" stroke-width="1.3"/>
<line x1="178.5" y1="1342" x2="178.5" y2="1917" stroke="#000" stroke-width="2.3"/>
<line x1="177.5" y1="1916" x2="673" y2="1916" stroke="#000" stroke-width="2.3"/>
<line x1="178.5" y1="1343.4" x2="188.5" y2="1343.4" stroke="#000" stroke-width="2.3"/>
<text x="155.6" y="1354.4" font-size="33" text-anchor="end" textLength="33" lengthAdjust="spacingAndGlyphs">1.2</text>
<line x1="178.5" y1="1534.3" x2="188.5" y2="1534.3" stroke="#000" stroke-width="2.3"/>
<text x="155.6" y="1545.3" font-size="33" text-anchor="end" textLength="33" lengthAdjust="spacingAndGlyphs">0.8</text>
<line x1="178.5" y1="1725.1" x2="188.5" y2="1725.1" stroke="#000" stroke-width="2.3"/>
<text x="155.6" y="1736.1" font-size="33" text-anchor="end" textLength="33" lengthAdjust="spacingAndGlyphs">0.4</text>
<line x1="178.5" y1="1916" x2="188.5" y2="1916" stroke="#000" stroke-width="2.3"/>
<text x="155.6" y="1927" font-size="33" text-anchor="end" textLength="33" lengthAdjust="spacingAndGlyphs">0.0</text>
<text x="178.5" y="1977" font-size="33" text-anchor="middle">-2</text>
<line x1="277.2" y1="1916" x2="277.2" y2="1905" stroke="#000" stroke-width="2.3"/>
<text x="277.2" y="1977" font-size="33" text-anchor="middle">0</text>
<line x1="375.9" y1="1916" x2="375.9" y2="1905" stroke="#000" stroke-width="2.3"/>
<text x="375.9" y="1977" font-size="33" text-anchor="middle">2</text>
<line x1="474.6" y1="1916" x2="474.6" y2="1905" stroke="#000" stroke-width="2.3"/>
<text x="474.6" y="1977" font-size="33" text-anchor="middle">4</text>
<line x1="573.3" y1="1916" x2="573.3" y2="1905" stroke="#000" stroke-width="2.3"/>
<text x="573.3" y="1977" font-size="33" text-anchor="middle">6</text>
<line x1="672" y1="1916" x2="672" y2="1905" stroke="#000" stroke-width="2.3"/>
<text x="672" y="1977" font-size="33" text-anchor="middle">8</text>
<polyline points="188.4 1890 197.3 1878.7 206.1 1862.6 215 1839.8 223.9 1807.5 232.8 1762.6 241.7 1702.1 250.6 1625.7 259.4 1540.8 268.3 1468.6 277.2 1439.2 286.1 1472.9 295 1553.4 303.8 1644.1 312.7 1722 321.6 1781.1 330.5 1823.4 339.4 1852.8 348.3 1873 357.1 1886.7 366 1896.1 374.9 1902.5 383.8 1906.8 392.7 1909.8 401.6 1911.8 410.4 1913.1 419.3 1914 428.2 1914.7 437.1 1915.1 446 1915.4 454.9 1915.6 463.7 1915.7 472.6 1915.8 481.5 1915.9 490.4 1915.9 499.3 1915.9 508.2 1916 517 1916 525.9 1916 534.8 1916 543.7 1916 552.6 1916 561.5 1916 570.3 1916" fill="none" stroke="#000080" stroke-width="4.6" stroke-linejoin="round"/>
<path d="M181.4 1883h14v14h-14zM190.3 1871.7h14v14h-14zM199.1 1855.6h14v14h-14zM208 1832.8h14v14h-14zM216.9 1800.5h14v14h-14zM225.8 1755.6h14v14h-14zM234.7 1695.1h14v14h-14zM243.6 1618.7h14v14h-14zM252.4 1533.8h14v14h-14zM261.3 1461.6h14v14h-14zM270.2 1432.2h14v14h-14zM279.1 1465.9h14v14h-14zM288 1546.4h14v14h-14zM296.8 1637.1h14v14h-14zM305.7 1715h14v14h-14zM314.6 1774.1h14v14h-14zM323.5 1816.4h14v14h-14zM332.4 1845.8h14v14h-14zM341.3 1866h14v14h-14zM350.1 1879.7h14v14h-14zM359 1889.1h14v14h-14zM367.9 1895.5h14v14h-14zM376.8 1899.8h14v14h-14zM385.7 1902.8h14v14h-14zM394.6 1904.8h14v14h-14zM403.4 1906.1h14v14h-14zM412.3 1907h14v14h-14zM421.2 1907.7h14v14h-14zM430.1 1908.1h14v14h-14zM439 1908.4h14v14h-14zM447.9 1908.6h14v14h-14zM456.7 1908.7h14v14h-14zM465.6 1908.8h14v14h-14zM474.5 1908.9h14v14h-14zM483.4 1908.9h14v14h-14zM492.3 1908.9h14v14h-14zM501.2 1909h14v14h-14zM510 1909h14v14h-14zM518.9 1909h14v14h-14zM527.8 1909h14v14h-14zM536.7 1909h14v14h-14zM545.6 1909h14v14h-14zM554.5 1909h14v14h-14zM563.3 1909h14v14h-14z" fill="#000080"/>
<polyline points="188.4 1915.4 197.3 1914.8 206.1 1913.6 215 1911.4 223.9 1907.1 232.8 1898.9 241.7 1883.9 250.6 1857.2 259.4 1813.5 268.3 1750.2 277.2 1673.2 286.1 1600.1 295 1544.1 303.8 1506.1 312.7 1481.8 321.6 1466.7 330.5 1457.3 339.4 1451.4 348.3 1447.6 357.1 1445.1 366 1443.5 374.9 1442.4 383.8 1441.6 392.7 1441 401.6 1440.6 410.4 1440.3 419.3 1440.1 428.2 1439.9 437.1 1439.8 446 1439.7 454.9 1439.6 463.7 1439.6 472.6 1439.5 481.5 1439.5 490.4 1439.4 499.3 1439.4 508.2 1439.4 517 1439.4 525.9 1439.4 534.8 1439.3 543.7 1439.3 552.6 1439.3 561.5 1439.3 570.3 1439.3" fill="none" stroke="#000080" stroke-width="4.6" stroke-linejoin="round"/>
<path d="M188.4 1903.4l12 12l-12 12l-12 -12zM197.3 1902.8l12 12l-12 12l-12 -12zM206.1 1901.6l12 12l-12 12l-12 -12zM215 1899.4l12 12l-12 12l-12 -12zM223.9 1895.1l12 12l-12 12l-12 -12zM232.8 1886.9l12 12l-12 12l-12 -12zM241.7 1871.9l12 12l-12 12l-12 -12zM250.6 1845.2l12 12l-12 12l-12 -12zM259.4 1801.5l12 12l-12 12l-12 -12zM268.3 1738.2l12 12l-12 12l-12 -12zM277.2 1661.2l12 12l-12 12l-12 -12zM286.1 1588.1l12 12l-12 12l-12 -12zM295 1532.1l12 12l-12 12l-12 -12zM303.8 1494.1l12 12l-12 12l-12 -12zM312.7 1469.8l12 12l-12 12l-12 -12zM321.6 1454.7l12 12l-12 12l-12 -12zM330.5 1445.3l12 12l-12 12l-12 -12zM339.4 1439.4l12 12l-12 12l-12 -12zM348.3 1435.6l12 12l-12 12l-12 -12zM357.1 1433.1l12 12l-12 12l-12 -12zM366 1431.5l12 12l-12 12l-12 -12zM374.9 1430.4l12 12l-12 12l-12 -12zM383.8 1429.6l12 12l-12 12l-12 -12zM392.7 1429l12 12l-12 12l-12 -12zM401.6 1428.6l12 12l-12 12l-12 -12zM410.4 1428.3l12 12l-12 12l-12 -12zM419.3 1428.1l12 12l-12 12l-12 -12zM428.2 1427.9l12 12l-12 12l-12 -12zM437.1 1427.8l12 12l-12 12l-12 -12zM446 1427.7l12 12l-12 12l-12 -12zM454.9 1427.6l12 12l-12 12l-12 -12zM463.7 1427.6l12 12l-12 12l-12 -12zM472.6 1427.5l12 12l-12 12l-12 -12zM481.5 1427.5l12 12l-12 12l-12 -12zM490.4 1427.4l12 12l-12 12l-12 -12zM499.3 1427.4l12 12l-12 12l-12 -12zM508.2 1427.4l12 12l-12 12l-12 -12zM517 1427.4l12 12l-12 12l-12 -12zM525.9 1427.4l12 12l-12 12l-12 -12zM534.8 1427.3l12 12l-12 12l-12 -12zM543.7 1427.3l12 12l-12 12l-12 -12zM552.6 1427.3l12 12l-12 12l-12 -12zM561.5 1427.3l12 12l-12 12l-12 -12zM570.3 1427.3l12 12l-12 12l-12 -12z" fill="#000080"/>
<polyline points="197.3 1869.6 206.1 1850.9 215 1824.7 223.9 1788.7 232.8 1739.9 241.7 1676.4 250.6 1599.7 259.4 1519.7 268.3 1458 277.2 1440.2 286.1 1482.1 295 1564 303.8 1652 312.7 1726.7 321.6 1783.4 330.5 1824.2 339.4 1852.8 348.3 1872.6 357.1 1886.2 366 1895.6 374.9 1902 383.8 1906.4 392.7 1909.4 401.6 1911.5 410.4 1912.9 419.3 1913.9 428.2 1914.6 437.1 1915 446 1915.3 454.9 1915.5 463.7 1915.7 472.6 1915.8 481.5 1915.8 490.4 1915.9 499.3 1915.9 508.2 1916 517 1916 525.9 1916 534.8 1916 543.7 1916 552.6 1916 561.5 1916 570.3 1916" fill="none" stroke="#FF00FF" stroke-width="4.6" stroke-linejoin="round"/>
<path d="M197.3 1861.2l8.4 8.4l-8.4 8.4l-8.4 -8.4zM206.1 1842.5l8.4 8.4l-8.4 8.4l-8.4 -8.4zM215 1816.3l8.4 8.4l-8.4 8.4l-8.4 -8.4zM223.9 1780.3l8.4 8.4l-8.4 8.4l-8.4 -8.4zM232.8 1731.5l8.4 8.4l-8.4 8.4l-8.4 -8.4zM241.7 1668l8.4 8.4l-8.4 8.4l-8.4 -8.4zM250.6 1591.3l8.4 8.4l-8.4 8.4l-8.4 -8.4zM259.4 1511.3l8.4 8.4l-8.4 8.4l-8.4 -8.4zM268.3 1449.6l8.4 8.4l-8.4 8.4l-8.4 -8.4zM277.2 1431.8l8.4 8.4l-8.4 8.4l-8.4 -8.4zM286.1 1473.7l8.4 8.4l-8.4 8.4l-8.4 -8.4zM295 1555.6l8.4 8.4l-8.4 8.4l-8.4 -8.4zM303.8 1643.6l8.4 8.4l-8.4 8.4l-8.4 -8.4zM312.7 1718.3l8.4 8.4l-8.4 8.4l-8.4 -8.4zM321.6 1775l8.4 8.4l-8.4 8.4l-8.4 -8.4zM330.5 1815.8l8.4 8.4l-8.4 8.4l-8.4 -8.4zM339.4 1844.4l8.4 8.4l-8.4 8.4l-8.4 -8.4zM348.3 1864.2l8.4 8.4l-8.4 8.4l-8.4 -8.4zM357.1 1877.8l8.4 8.4l-8.4 8.4l-8.4 -8.4zM366 1887.2l8.4 8.4l-8.4 8.4l-8.4 -8.4zM374.9 1893.6l8.4 8.4l-8.4 8.4l-8.4 -8.4zM383.8 1898l8.4 8.4l-8.4 8.4l-8.4 -8.4zM392.7 1901l8.4 8.4l-8.4 8.4l-8.4 -8.4zM401.6 1903.1l8.4 8.4l-8.4 8.4l-8.4 -8.4zM410.4 1904.5l8.4 8.4l-8.4 8.4l-8.4 -8.4zM419.3 1905.5l8.4 8.4l-8.4 8.4l-8.4 -8.4zM428.2 1906.2l8.4 8.4l-8.4 8.4l-8.4 -8.4zM437.1 1906.6l8.4 8.4l-8.4 8.4l-8.4 -8.4zM446 1906.9l8.4 8.4l-8.4 8.4l-8.4 -8.4zM454.9 1907.1l8.4 8.4l-8.4 8.4l-8.4 -8.4zM463.7 1907.3l8.4 8.4l-8.4 8.4l-8.4 -8.4zM472.6 1907.4l8.4 8.4l-8.4 8.4l-8.4 -8.4zM481.5 1907.4l8.4 8.4l-8.4 8.4l-8.4 -8.4zM490.4 1907.5l8.4 8.4l-8.4 8.4l-8.4 -8.4zM499.3 1907.5l8.4 8.4l-8.4 8.4l-8.4 -8.4zM508.2 1907.6l8.4 8.4l-8.4 8.4l-8.4 -8.4zM517 1907.6l8.4 8.4l-8.4 8.4l-8.4 -8.4zM525.9 1907.6l8.4 8.4l-8.4 8.4l-8.4 -8.4zM534.8 1907.6l8.4 8.4l-8.4 8.4l-8.4 -8.4zM543.7 1907.6l8.4 8.4l-8.4 8.4l-8.4 -8.4zM552.6 1907.6l8.4 8.4l-8.4 8.4l-8.4 -8.4zM561.5 1907.6l8.4 8.4l-8.4 8.4l-8.4 -8.4zM570.3 1907.6l8.4 8.4l-8.4 8.4l-8.4 -8.4z" fill="#FF00FF"/>
<polyline points="197.3 1914.7 206.1 1913.4 215 1911 223.9 1906.4 232.8 1897.7 241.7 1881.6 250.6 1853.3 259.4 1807.4 268.3 1742.1 277.2 1664.5 286.1 1592.9 295 1539.1 303.8 1502.8 312.7 1479.8 321.6 1465.4 330.5 1456.5 339.4 1450.9 348.3 1447.3 357.1 1444.9 366 1443.3 374.9 1442.2 383.8 1441.5 392.7 1441 401.6 1440.6 410.4 1440.3 419.3 1440.1 428.2 1439.9 437.1 1439.8 446 1439.7 454.9 1439.6 463.7 1439.6 472.6 1439.5 481.5 1439.5 490.4 1439.4 499.3 1439.4 508.2 1439.4 517 1439.4 525.9 1439.4 534.8 1439.3 543.7 1439.3 552.6 1439.3 561.5 1439.3 570.3 1439.3" fill="none" stroke="#FF00FF" stroke-width="4.6" stroke-linejoin="round"/>
<path d="M197.3 1906.3l8.4 8.4l-8.4 8.4l-8.4 -8.4zM206.1 1905l8.4 8.4l-8.4 8.4l-8.4 -8.4zM215 1902.6l8.4 8.4l-8.4 8.4l-8.4 -8.4zM223.9 1898l8.4 8.4l-8.4 8.4l-8.4 -8.4zM232.8 1889.3l8.4 8.4l-8.4 8.4l-8.4 -8.4zM241.7 1873.2l8.4 8.4l-8.4 8.4l-8.4 -8.4zM250.6 1844.9l8.4 8.4l-8.4 8.4l-8.4 -8.4zM259.4 1799l8.4 8.4l-8.4 8.4l-8.4 -8.4zM268.3 1733.7l8.4 8.4l-8.4 8.4l-8.4 -8.4zM277.2 1656.1l8.4 8.4l-8.4 8.4l-8.4 -8.4zM286.1 1584.5l8.4 8.4l-8.4 8.4l-8.4 -8.4zM295 1530.7l8.4 8.4l-8.4 8.4l-8.4 -8.4zM303.8 1494.4l8.4 8.4l-8.4 8.4l-8.4 -8.4zM312.7 1471.4l8.4 8.4l-8.4 8.4l-8.4 -8.4zM321.6 1457l8.4 8.4l-8.4 8.4l-8.4 -8.4zM330.5 1448.1l8.4 8.4l-8.4 8.4l-8.4 -8.4zM339.4 1442.5l8.4 8.4l-8.4 8.4l-8.4 -8.4zM348.3 1438.9l8.4 8.4l-8.4 8.4l-8.4 -8.4zM357.1 1436.5l8.4 8.4l-8.4 8.4l-8.4 -8.4zM366 1434.9l8.4 8.4l-8.4 8.4l-8.4 -8.4zM374.9 1433.8l8.4 8.4l-8.4 8.4l-8.4 -8.4zM383.8 1433.1l8.4 8.4l-8.4 8.4l-8.4 -8.4zM392.7 1432.6l8.4 8.4l-8.4 8.4l-8.4 -8.4zM401.6 1432.2l8.4 8.4l-8.4 8.4l-8.4 -8.4zM410.4 1431.9l8.4 8.4l-8.4 8.4l-8.4 -8.4zM419.3 1431.7l8.4 8.4l-8.4 8.4l-8.4 -8.4zM428.2 1431.5l8.4 8.4l-8.4 8.4l-8.4 -8.4zM437.1 1431.4l8.4 8.4l-8.4 8.4l-8.4 -8.4zM446 1431.3l8.4 8.4l-8.4 8.4l-8.4 -8.4zM454.9 1431.2l8.4 8.4l-8.4 8.4l-8.4 -8.4zM463.7 1431.2l8.4 8.4l-8.4 8.4l-8.4 -8.4zM472.6 1431.1l8.4 8.4l-8.4 8.4l-8.4 -8.4zM481.5 1431.1l8.4 8.4l-8.4 8.4l-8.4 -8.4zM490.4 1431l8.4 8.4l-8.4 8.4l-8.4 -8.4zM499.3 1431l8.4 8.4l-8.4 8.4l-8.4 -8.4zM508.2 1431l8.4 8.4l-8.4 8.4l-8.4 -8.4zM517 1431l8.4 8.4l-8.4 8.4l-8.4 -8.4zM525.9 1431l8.4 8.4l-8.4 8.4l-8.4 -8.4zM534.8 1430.9l8.4 8.4l-8.4 8.4l-8.4 -8.4zM543.7 1430.9l8.4 8.4l-8.4 8.4l-8.4 -8.4zM552.6 1430.9l8.4 8.4l-8.4 8.4l-8.4 -8.4zM561.5 1430.9l8.4 8.4l-8.4 8.4l-8.4 -8.4zM570.3 1430.9l8.4 8.4l-8.4 8.4l-8.4 -8.4z" fill="#FF00FF"/>
<polyline points="215 1844.2 223.9 1813.6 232.8 1771.1 241.7 1713.3 250.6 1639.3 259.4 1554.8 268.3 1478.4 277.2 1440.1 286.1 1462 295 1534.6 303.8 1623.6 312.7 1703.8 321.6 1766.5 330.5 1812.1 339.4 1844.4 348.3 1866.8 357.1 1882.2 366 1892.8 374.9 1900.1 383.8 1905.1 392.7 1908.5 401.6 1910.9 410.4 1912.5 419.3 1913.6 428.2 1914.4 437.1 1914.9 446 1915.2 454.9 1915.5 463.7 1915.6 472.6 1915.8 481.5 1915.8 490.4 1915.9 499.3 1915.9 508.2 1915.9 517 1916 525.9 1916 534.8 1916 543.7 1916 552.6 1916 561.5 1916 570.3 1916" fill="none" stroke="#993300" stroke-width="4.6" stroke-linejoin="round"/>
<path d="M215 1835.8l8.4 8.4l-8.4 8.4l-8.4 -8.4zM223.9 1805.2l8.4 8.4l-8.4 8.4l-8.4 -8.4zM232.8 1762.7l8.4 8.4l-8.4 8.4l-8.4 -8.4zM241.7 1704.9l8.4 8.4l-8.4 8.4l-8.4 -8.4zM250.6 1630.9l8.4 8.4l-8.4 8.4l-8.4 -8.4zM259.4 1546.4l8.4 8.4l-8.4 8.4l-8.4 -8.4zM268.3 1470l8.4 8.4l-8.4 8.4l-8.4 -8.4zM277.2 1431.7l8.4 8.4l-8.4 8.4l-8.4 -8.4zM286.1 1453.6l8.4 8.4l-8.4 8.4l-8.4 -8.4zM295 1526.2l8.4 8.4l-8.4 8.4l-8.4 -8.4zM303.8 1615.2l8.4 8.4l-8.4 8.4l-8.4 -8.4zM312.7 1695.4l8.4 8.4l-8.4 8.4l-8.4 -8.4zM321.6 1758.1l8.4 8.4l-8.4 8.4l-8.4 -8.4zM330.5 1803.7l8.4 8.4l-8.4 8.4l-8.4 -8.4zM339.4 1836l8.4 8.4l-8.4 8.4l-8.4 -8.4zM348.3 1858.4l8.4 8.4l-8.4 8.4l-8.4 -8.4zM357.1 1873.8l8.4 8.4l-8.4 8.4l-8.4 -8.4zM366 1884.4l8.4 8.4l-8.4 8.4l-8.4 -8.4zM374.9 1891.7l8.4 8.4l-8.4 8.4l-8.4 -8.4zM383.8 1896.7l8.4 8.4l-8.4 8.4l-8.4 -8.4zM392.7 1900.1l8.4 8.4l-8.4 8.4l-8.4 -8.4zM401.6 1902.5l8.4 8.4l-8.4 8.4l-8.4 -8.4zM410.4 1904.1l8.4 8.4l-8.4 8.4l-8.4 -8.4zM419.3 1905.2l8.4 8.4l-8.4 8.4l-8.4 -8.4zM428.2 1906l8.4 8.4l-8.4 8.4l-8.4 -8.4zM437.1 1906.5l8.4 8.4l-8.4 8.4l-8.4 -8.4zM446 1906.8l8.4 8.4l-8.4 8.4l-8.4 -8.4zM454.9 1907.1l8.4 8.4l-8.4 8.4l-8.4 -8.4zM463.7 1907.2l8.4 8.4l-8.4 8.4l-8.4 -8.4zM472.6 1907.4l8.4 8.4l-8.4 8.4l-8.4 -8.4zM481.5 1907.4l8.4 8.4l-8.4 8.4l-8.4 -8.4zM490.4 1907.5l8.4 8.4l-8.4 8.4l-8.4 -8.4zM499.3 1907.5l8.4 8.4l-8.4 8.4l-8.4 -8.4zM508.2 1907.5l8.4 8.4l-8.4 8.4l-8.4 -8.4zM517 1907.6l8.4 8.4l-8.4 8.4l-8.4 -8.4zM525.9 1907.6l8.4 8.4l-8.4 8.4l-8.4 -8.4zM534.8 1907.6l8.4 8.4l-8.4 8.4l-8.4 -8.4zM543.7 1907.6l8.4 8.4l-8.4 8.4l-8.4 -8.4zM552.6 1907.6l8.4 8.4l-8.4 8.4l-8.4 -8.4zM561.5 1907.6l8.4 8.4l-8.4 8.4l-8.4 -8.4zM570.3 1907.6l8.4 8.4l-8.4 8.4l-8.4 -8.4z" fill="#993300"/>
<polyline points="215 1912.4 223.9 1909.1 232.8 1902.7 241.7 1890.8 250.6 1869.3 259.4 1832.8 268.3 1777 277.2 1704 286.1 1626.8 295 1563.6 303.8 1519 312.7 1489.9 321.6 1471.8 330.5 1460.5 339.4 1453.4 348.3 1448.9 357.1 1446 366 1444 374.9 1442.7 383.8 1441.8 392.7 1441.2 401.6 1440.7 410.4 1440.4 419.3 1440.2 428.2 1440 437.1 1439.8 446 1439.7 454.9 1439.7 463.7 1439.6 472.6 1439.5 481.5 1439.5 490.4 1439.5 499.3 1439.4 508.2 1439.4 517 1439.4 525.9 1439.4 534.8 1439.3 543.7 1439.3 552.6 1439.3 561.5 1439.3 570.3 1439.3" fill="none" stroke="#993300" stroke-width="4.6" stroke-linejoin="round"/>
<path d="M215 1904l8.4 8.4l-8.4 8.4l-8.4 -8.4zM223.9 1900.7l8.4 8.4l-8.4 8.4l-8.4 -8.4zM232.8 1894.3l8.4 8.4l-8.4 8.4l-8.4 -8.4zM241.7 1882.4l8.4 8.4l-8.4 8.4l-8.4 -8.4zM250.6 1860.9l8.4 8.4l-8.4 8.4l-8.4 -8.4zM259.4 1824.4l8.4 8.4l-8.4 8.4l-8.4 -8.4zM268.3 1768.6l8.4 8.4l-8.4 8.4l-8.4 -8.4zM277.2 1695.6l8.4 8.4l-8.4 8.4l-8.4 -8.4zM286.1 1618.4l8.4 8.4l-8.4 8.4l-8.4 -8.4zM295 1555.2l8.4 8.4l-8.4 8.4l-8.4 -8.4zM303.8 1510.6l8.4 8.4l-8.4 8.4l-8.4 -8.4zM312.7 1481.5l8.4 8.4l-8.4 8.4l-8.4 -8.4zM321.6 1463.4l8.4 8.4l-8.4 8.4l-8.4 -8.4zM330.5 1452.1l8.4 8.4l-8.4 8.4l-8.4 -8.4zM339.4 1445l8.4 8.4l-8.4 8.4l-8.4 -8.4zM348.3 1440.5l8.4 8.4l-8.4 8.4l-8.4 -8.4zM357.1 1437.6l8.4 8.4l-8.4 8.4l-8.4 -8.4zM366 1435.6l8.4 8.4l-8.4 8.4l-8.4 -8.4zM374.9 1434.3l8.4 8.4l-8.4 8.4l-8.4 -8.4zM383.8 1433.4l8.4 8.4l-8.4 8.4l-8.4 -8.4zM392.7 1432.8l8.4 8.4l-8.4 8.4l-8.4 -8.4zM401.6 1432.3l8.4 8.4l-8.4 8.4l-8.4 -8.4zM410.4 1432l8.4 8.4l-8.4 8.4l-8.4 -8.4zM419.3 1431.8l8.4 8.4l-8.4 8.4l-8.4 -8.4zM428.2 1431.6l8.4 8.4l-8.4 8.4l-8.4 -8.4zM437.1 1431.4l8.4 8.4l-8.4 8.4l-8.4 -8.4zM446 1431.3l8.4 8.4l-8.4 8.4l-8.4 -8.4zM454.9 1431.3l8.4 8.4l-8.4 8.4l-8.4 -8.4zM463.7 1431.2l8.4 8.4l-8.4 8.4l-8.4 -8.4zM472.6 1431.1l8.4 8.4l-8.4 8.4l-8.4 -8.4zM481.5 1431.1l8.4 8.4l-8.4 8.4l-8.4 -8.4zM490.4 1431.1l8.4 8.4l-8.4 8.4l-8.4 -8.4zM499.3 1431l8.4 8.4l-8.4 8.4l-8.4 -8.4zM508.2 1431l8.4 8.4l-8.4 8.4l-8.4 -8.4zM517 1431l8.4 8.4l-8.4 8.4l-8.4 -8.4zM525.9 1431l8.4 8.4l-8.4 8.4l-8.4 -8.4zM534.8 1430.9l8.4 8.4l-8.4 8.4l-8.4 -8.4zM543.7 1430.9l8.4 8.4l-8.4 8.4l-8.4 -8.4zM552.6 1430.9l8.4 8.4l-8.4 8.4l-8.4 -8.4zM561.5 1430.9l8.4 8.4l-8.4 8.4l-8.4 -8.4zM570.3 1430.9l8.4 8.4l-8.4 8.4l-8.4 -8.4z" fill="#993300"/>
<polyline points="223.9 1807.5 232.8 1762.6 241.7 1702.1 250.6 1625.7 259.4 1540.8 268.3 1468.6 277.2 1439.2 286.1 1471.4 295 1549.2 303.8 1638 312.7 1715.5 321.6 1775.2 330.5 1818.3 339.4 1848.7 348.3 1869.8 357.1 1884.3 366 1894.2 374.9 1901.1 383.8 1905.8 392.7 1909 401.6 1911.2 410.4 1912.7 419.3 1913.7 428.2 1914.5 437.1 1914.9 446 1915.3 454.9 1915.5 463.7 1915.7 472.6 1915.8 481.5 1915.8 490.4 1915.9 499.3 1915.9 508.2 1915.9 517 1916 525.9 1916 534.8 1916 543.7 1916 552.6 1916 561.5 1916 570.3 1916" fill="none" stroke="#FF0000" stroke-width="4.6" stroke-linejoin="round"/>
<path d="M223.9 1799.1l8.4 8.4l-8.4 8.4l-8.4 -8.4zM232.8 1754.2l8.4 8.4l-8.4 8.4l-8.4 -8.4zM241.7 1693.7l8.4 8.4l-8.4 8.4l-8.4 -8.4zM250.6 1617.3l8.4 8.4l-8.4 8.4l-8.4 -8.4zM259.4 1532.4l8.4 8.4l-8.4 8.4l-8.4 -8.4zM268.3 1460.2l8.4 8.4l-8.4 8.4l-8.4 -8.4zM277.2 1430.8l8.4 8.4l-8.4 8.4l-8.4 -8.4zM286.1 1463l8.4 8.4l-8.4 8.4l-8.4 -8.4zM295 1540.8l8.4 8.4l-8.4 8.4l-8.4 -8.4zM303.8 1629.6l8.4 8.4l-8.4 8.4l-8.4 -8.4zM312.7 1707.1l8.4 8.4l-8.4 8.4l-8.4 -8.4zM321.6 1766.8l8.4 8.4l-8.4 8.4l-8.4 -8.4zM330.5 1809.9l8.4 8.4l-8.4 8.4l-8.4 -8.4zM339.4 1840.3l8.4 8.4l-8.4 8.4l-8.4 -8.4zM348.3 1861.4l8.4 8.4l-8.4 8.4l-8.4 -8.4zM357.1 1875.9l8.4 8.4l-8.4 8.4l-8.4 -8.4zM366 1885.8l8.4 8.4l-8.4 8.4l-8.4 -8.4zM374.9 1892.7l8.4 8.4l-8.4 8.4l-8.4 -8.4zM383.8 1897.4l8.4 8.4l-8.4 8.4l-8.4 -8.4zM392.7 1900.6l8.4 8.4l-8.4 8.4l-8.4 -8.4zM401.6 1902.8l8.4 8.4l-8.4 8.4l-8.4 -8.4zM410.4 1904.3l8.4 8.4l-8.4 8.4l-8.4 -8.4zM419.3 1905.3l8.4 8.4l-8.4 8.4l-8.4 -8.4zM428.2 1906.1l8.4 8.4l-8.4 8.4l-8.4 -8.4zM437.1 1906.5l8.4 8.4l-8.4 8.4l-8.4 -8.4zM446 1906.9l8.4 8.4l-8.4 8.4l-8.4 -8.4zM454.9 1907.1l8.4 8.4l-8.4 8.4l-8.4 -8.4zM463.7 1907.3l8.4 8.4l-8.4 8.4l-8.4 -8.4zM472.6 1907.4l8.4 8.4l-8.4 8.4l-8.4 -8.4zM481.5 1907.4l8.4 8.4l-8.4 8.4l-8.4 -8.4zM490.4 1907.5l8.4 8.4l-8.4 8.4l-8.4 -8.4zM499.3 1907.5l8.4 8.4l-8.4 8.4l-8.4 -8.4zM508.2 1907.5l8.4 8.4l-8.4 8.4l-8.4 -8.4zM517 1907.6l8.4 8.4l-8.4 8.4l-8.4 -8.4zM525.9 1907.6l8.4 8.4l-8.4 8.4l-8.4 -8.4zM534.8 1907.6l8.4 8.4l-8.4 8.4l-8.4 -8.4zM543.7 1907.6l8.4 8.4l-8.4 8.4l-8.4 -8.4zM552.6 1907.6l8.4 8.4l-8.4 8.4l-8.4 -8.4zM561.5 1907.6l8.4 8.4l-8.4 8.4l-8.4 -8.4zM570.3 1907.6l8.4 8.4l-8.4 8.4l-8.4 -8.4z" fill="#FF0000"/>
<polyline points="223.9 1907.4 232.8 1899.5 241.7 1884.9 250.6 1859.1 259.4 1816.4 268.3 1754.2 277.2 1677.6 286.1 1603.8 295 1546.7 303.8 1507.8 312.7 1482.9 321.6 1467.4 330.5 1457.7 339.4 1451.7 348.3 1447.8 357.1 1445.2 366 1443.6 374.9 1442.4 383.8 1441.6 392.7 1441 401.6 1440.6 410.4 1440.3 419.3 1440.1 428.2 1439.9 437.1 1439.8 446 1439.7 454.9 1439.6 463.7 1439.6 472.6 1439.5 481.5 1439.5 490.4 1439.4 499.3 1439.4 508.2 1439.4 517 1439.4 525.9 1439.4 534.8 1439.3 543.7 1439.3 552.6 1439.3 561.5 1439.3 570.3 1439.3" fill="none" stroke="#FF0000" stroke-width="4.6" stroke-linejoin="round"/>
<path d="M223.9 1899l8.4 8.4l-8.4 8.4l-8.4 -8.4zM232.8 1891.1l8.4 8.4l-8.4 8.4l-8.4 -8.4zM241.7 1876.5l8.4 8.4l-8.4 8.4l-8.4 -8.4zM250.6 1850.7l8.4 8.4l-8.4 8.4l-8.4 -8.4zM259.4 1808l8.4 8.4l-8.4 8.4l-8.4 -8.4zM268.3 1745.8l8.4 8.4l-8.4 8.4l-8.4 -8.4zM277.2 1669.2l8.4 8.4l-8.4 8.4l-8.4 -8.4zM286.1 1595.4l8.4 8.4l-8.4 8.4l-8.4 -8.4zM295 1538.3l8.4 8.4l-8.4 8.4l-8.4 -8.4zM303.8 1499.4l8.4 8.4l-8.4 8.4l-8.4 -8.4zM312.7 1474.5l8.4 8.4l-8.4 8.4l-8.4 -8.4zM321.6 1459l8.4 8.4l-8.4 8.4l-8.4 -8.4zM330.5 1449.3l8.4 8.4l-8.4 8.4l-8.4 -8.4zM339.4 1443.3l8.4 8.4l-8.4 8.4l-8.4 -8.4zM348.3 1439.4l8.4 8.4l-8.4 8.4l-8.4 -8.4zM357.1 1436.8l8.4 8.4l-8.4 8.4l-8.4 -8.4zM366 1435.2l8.4 8.4l-8.4 8.4l-8.4 -8.4zM374.9 1434l8.4 8.4l-8.4 8.4l-8.4 -8.4zM383.8 1433.2l8.4 8.4l-8.4 8.4l-8.4 -8.4zM392.7 1432.6l8.4 8.4l-8.4 8.4l-8.4 -8.4zM401.6 1432.2l8.4 8.4l-8.4 8.4l-8.4 -8.4zM410.4 1431.9l8.4 8.4l-8.4 8.4l-8.4 -8.4zM419.3 1431.7l8.4 8.4l-8.4 8.4l-8.4 -8.4zM428.2 1431.5l8.4 8.4l-8.4 8.4l-8.4 -8.4zM437.1 1431.4l8.4 8.4l-8.4 8.4l-8.4 -8.4zM446 1431.3l8.4 8.4l-8.4 8.4l-8.4 -8.4zM454.9 1431.2l8.4 8.4l-8.4 8.4l-8.4 -8.4zM463.7 1431.2l8.4 8.4l-8.4 8.4l-8.4 -8.4zM472.6 1431.1l8.4 8.4l-8.4 8.4l-8.4 -8.4zM481.5 1431.1l8.4 8.4l-8.4 8.4l-8.4 -8.4zM490.4 1431l8.4 8.4l-8.4 8.4l-8.4 -8.4zM499.3 1431l8.4 8.4l-8.4 8.4l-8.4 -8.4zM508.2 1431l8.4 8.4l-8.4 8.4l-8.4 -8.4zM517 1431l8.4 8.4l-8.4 8.4l-8.4 -8.4zM525.9 1431l8.4 8.4l-8.4 8.4l-8.4 -8.4zM534.8 1430.9l8.4 8.4l-8.4 8.4l-8.4 -8.4zM543.7 1430.9l8.4 8.4l-8.4 8.4l-8.4 -8.4zM552.6 1430.9l8.4 8.4l-8.4 8.4l-8.4 -8.4zM561.5 1430.9l8.4 8.4l-8.4 8.4l-8.4 -8.4zM570.3 1430.9l8.4 8.4l-8.4 8.4l-8.4 -8.4z" fill="#FF0000"/>
<polyline points="232.8 1789.3 241.7 1737.7 250.6 1669.9 259.4 1588.1 268.3 1505.3 277.2 1448.6 286.1 1445.9 295 1502.4 303.8 1589 312.7 1674.5 321.6 1744.3 330.5 1796.2 339.4 1833.2 348.3 1859 357.1 1876.9 366 1889.2 374.9 1897.6 383.8 1903.4 392.7 1907.4 401.6 1910.1 410.4 1911.9 419.3 1913.2 428.2 1914.1 437.1 1914.7 446 1915.1 454.9 1915.4 463.7 1915.6 472.6 1915.7 481.5 1915.8 490.4 1915.9 499.3 1915.9 508.2 1915.9 517 1916 525.9 1916 534.8 1916 543.7 1916 552.6 1916 561.5 1916 570.3 1916 579.2 1916 588.1 1916 597 1916 605.9 1916 614.8 1916" fill="none" stroke="#008000" stroke-width="4.6" stroke-linejoin="round"/>
<path d="M232.8 1780.9l8.4 8.4l-8.4 8.4l-8.4 -8.4zM241.7 1729.3l8.4 8.4l-8.4 8.4l-8.4 -8.4zM250.6 1661.5l8.4 8.4l-8.4 8.4l-8.4 -8.4zM259.4 1579.7l8.4 8.4l-8.4 8.4l-8.4 -8.4zM268.3 1496.9l8.4 8.4l-8.4 8.4l-8.4 -8.4zM277.2 1440.2l8.4 8.4l-8.4 8.4l-8.4 -8.4zM286.1 1437.5l8.4 8.4l-8.4 8.4l-8.4 -8.4zM295 1494l8.4 8.4l-8.4 8.4l-8.4 -8.4zM303.8 1580.6l8.4 8.4l-8.4 8.4l-8.4 -8.4zM312.7 1666.1l8.4 8.4l-8.4 8.4l-8.4 -8.4zM321.6 1735.9l8.4 8.4l-8.4 8.4l-8.4 -8.4zM330.5 1787.8l8.4 8.4l-8.4 8.4l-8.4 -8.4zM339.4 1824.8l8.4 8.4l-8.4 8.4l-8.4 -8.4zM348.3 1850.6l8.4 8.4l-8.4 8.4l-8.4 -8.4zM357.1 1868.5l8.4 8.4l-8.4 8.4l-8.4 -8.4zM366 1880.8l8.4 8.4l-8.4 8.4l-8.4 -8.4zM374.9 1889.2l8.4 8.4l-8.4 8.4l-8.4 -8.4zM383.8 1895l8.4 8.4l-8.4 8.4l-8.4 -8.4zM392.7 1899l8.4 8.4l-8.4 8.4l-8.4 -8.4zM401.6 1901.7l8.4 8.4l-8.4 8.4l-8.4 -8.4zM410.4 1903.5l8.4 8.4l-8.4 8.4l-8.4 -8.4zM419.3 1904.8l8.4 8.4l-8.4 8.4l-8.4 -8.4zM428.2 1905.7l8.4 8.4l-8.4 8.4l-8.4 -8.4zM437.1 1906.3l8.4 8.4l-8.4 8.4l-8.4 -8.4zM446 1906.7l8.4 8.4l-8.4 8.4l-8.4 -8.4zM454.9 1907l8.4 8.4l-8.4 8.4l-8.4 -8.4zM463.7 1907.2l8.4 8.4l-8.4 8.4l-8.4 -8.4zM472.6 1907.3l8.4 8.4l-8.4 8.4l-8.4 -8.4zM481.5 1907.4l8.4 8.4l-8.4 8.4l-8.4 -8.4zM490.4 1907.5l8.4 8.4l-8.4 8.4l-8.4 -8.4zM499.3 1907.5l8.4 8.4l-8.4 8.4l-8.4 -8.4zM508.2 1907.5l8.4 8.4l-8.4 8.4l-8.4 -8.4zM517 1907.6l8.4 8.4l-8.4 8.4l-8.4 -8.4zM525.9 1907.6l8.4 8.4l-8.4 8.4l-8.4 -8.4zM534.8 1907.6l8.4 8.4l-8.4 8.4l-8.4 -8.4zM543.7 1907.6l8.4 8.4l-8.4 8.4l-8.4 -8.4zM552.6 1907.6l8.4 8.4l-8.4 8.4l-8.4 -8.4zM561.5 1907.6l8.4 8.4l-8.4 8.4l-8.4 -8.4zM570.3 1907.6l8.4 8.4l-8.4 8.4l-8.4 -8.4zM579.2 1907.6l8.4 8.4l-8.4 8.4l-8.4 -8.4zM588.1 1907.6l8.4 8.4l-8.4 8.4l-8.4 -8.4zM597 1907.6l8.4 8.4l-8.4 8.4l-8.4 -8.4zM605.9 1907.6l8.4 8.4l-8.4 8.4l-8.4 -8.4zM614.8 1907.6l8.4 8.4l-8.4 8.4l-8.4 -8.4z" fill="#008000"/>
<polyline points="232.8 1904.1 241.7 1893.3 250.6 1873.8 259.4 1840.2 268.3 1787.7 277.2 1717 286.1 1640.1 295 1575.3 303.8 1528.1 312.7 1496.6 321.6 1476.4 330.5 1463.7 339.4 1455.7 348.3 1450.5 357.1 1447.2 366 1444.9 374.9 1443.4 383.8 1442.3 392.7 1441.6 401.6 1441.1 410.4 1440.7 419.3 1440.4 428.2 1440.1 437.1 1440 446 1439.8 454.9 1439.7 463.7 1439.7 472.6 1439.6 481.5 1439.5 490.4 1439.5 499.3 1439.5 508.2 1439.4 517 1439.4 525.9 1439.4 534.8 1439.4 543.7 1439.4 552.6 1439.3 561.5 1439.3 570.3 1439.3 579.2 1439.3 588.1 1439.3 597 1439.3 605.9 1439.3 614.8 1439.3" fill="none" stroke="#008000" stroke-width="4.6" stroke-linejoin="round"/>
<path d="M232.8 1895.7l8.4 8.4l-8.4 8.4l-8.4 -8.4zM241.7 1884.9l8.4 8.4l-8.4 8.4l-8.4 -8.4zM250.6 1865.4l8.4 8.4l-8.4 8.4l-8.4 -8.4zM259.4 1831.8l8.4 8.4l-8.4 8.4l-8.4 -8.4zM268.3 1779.3l8.4 8.4l-8.4 8.4l-8.4 -8.4zM277.2 1708.6l8.4 8.4l-8.4 8.4l-8.4 -8.4zM286.1 1631.7l8.4 8.4l-8.4 8.4l-8.4 -8.4zM295 1566.9l8.4 8.4l-8.4 8.4l-8.4 -8.4zM303.8 1519.7l8.4 8.4l-8.4 8.4l-8.4 -8.4zM312.7 1488.2l8.4 8.4l-8.4 8.4l-8.4 -8.4zM321.6 1468l8.4 8.4l-8.4 8.4l-8.4 -8.4zM330.5 1455.3l8.4 8.4l-8.4 8.4l-8.4 -8.4zM339.4 1447.3l8.4 8.4l-8.4 8.4l-8.4 -8.4zM348.3 1442.1l8.4 8.4l-8.4 8.4l-8.4 -8.4zM357.1 1438.8l8.4 8.4l-8.4 8.4l-8.4 -8.4zM366 1436.5l8.4 8.4l-8.4 8.4l-8.4 -8.4zM374.9 1435l8.4 8.4l-8.4 8.4l-8.4 -8.4zM383.8 1433.9l8.4 8.4l-8.4 8.4l-8.4 -8.4zM392.7 1433.2l8.4 8.4l-8.4 8.4l-8.4 -8.4zM401.6 1432.7l8.4 8.4l-8.4 8.4l-8.4 -8.4zM410.4 1432.3l8.4 8.4l-8.4 8.4l-8.4 -8.4zM419.3 1432l8.4 8.4l-8.4 8.4l-8.4 -8.4zM428.2 1431.7l8.4 8.4l-8.4 8.4l-8.4 -8.4zM437.1 1431.6l8.4 8.4l-8.4 8.4l-8.4 -8.4zM446 1431.4l8.4 8.4l-8.4 8.4l-8.4 -8.4zM454.9 1431.3l8.4 8.4l-8.4 8.4l-8.4 -8.4zM463.7 1431.3l8.4 8.4l-8.4 8.4l-8.4 -8.4zM472.6 1431.2l8.4 8.4l-8.4 8.4l-8.4 -8.4zM481.5 1431.1l8.4 8.4l-8.4 8.4l-8.4 -8.4zM490.4 1431.1l8.4 8.4l-8.4 8.4l-8.4 -8.4zM499.3 1431.1l8.4 8.4l-8.4 8.4l-8.4 -8.4zM508.2 1431l8.4 8.4l-8.4 8.4l-8.4 -8.4zM517 1431l8.4 8.4l-8.4 8.4l-8.4 -8.4zM525.9 1431l8.4 8.4l-8.4 8.4l-8.4 -8.4zM534.8 1431l8.4 8.4l-8.4 8.4l-8.4 -8.4zM543.7 1431l8.4 8.4l-8.4 8.4l-8.4 -8.4zM552.6 1430.9l8.4 8.4l-8.4 8.4l-8.4 -8.4zM561.5 1430.9l8.4 8.4l-8.4 8.4l-8.4 -8.4zM570.3 1430.9l8.4 8.4l-8.4 8.4l-8.4 -8.4zM579.2 1430.9l8.4 8.4l-8.4 8.4l-8.4 -8.4zM588.1 1430.9l8.4 8.4l-8.4 8.4l-8.4 -8.4zM597 1430.9l8.4 8.4l-8.4 8.4l-8.4 -8.4zM605.9 1430.9l8.4 8.4l-8.4 8.4l-8.4 -8.4zM614.8 1430.9l8.4 8.4l-8.4 8.4l-8.4 -8.4z" fill="#008000"/>
<text x="90.4" y="1880" font-size="36" textLength="459" lengthAdjust="spacingAndGlyphs" transform="rotate(-90 90.4 1880)">Normailized electric moduli</text>
<text x="206.8" y="1406.8" font-size="33" textLength="117.5" lengthAdjust="spacingAndGlyphs">M&#8243;/M&#8243;<tspan font-size="24" dy="7">max</tspan></text>
<text x="515.6" y="1391" font-size="33" textLength="83.4" lengthAdjust="spacingAndGlyphs">M'/M'<tspan font-size="24" dy="7">&#8734;</tspan></text>
<text x="375.6" y="1541.5" font-size="33" font-weight="bold" textLength="30.2" lengthAdjust="spacingAndGlyphs">(c)</text>
<line x1="481.5" y1="1543.8" x2="546.7" y2="1543.8" stroke="#000080" stroke-width="7.5"/>
<rect x="507.5" y="1536.3" width="13" height="15" fill="#000080"/>
<text x="559" y="1552.2" font-size="35" textLength="78" lengthAdjust="spacingAndGlyphs">240 <tspan font-size="22" dy="-15">o</tspan><tspan dy="15">C</tspan></text>
<line x1="481.5" y1="1605" x2="546.7" y2="1605" stroke="#FF00FF" stroke-width="7.5"/>
<path d="M514 1596L517.5 1605L514 1614L510.5 1605Z" fill="#FF00FF"/>
<text x="559" y="1617.5" font-size="35" textLength="78" lengthAdjust="spacingAndGlyphs">230 <tspan font-size="22" dy="-15">o</tspan><tspan dy="15">C</tspan></text>
<line x1="481.5" y1="1666.2" x2="546.7" y2="1666.2" stroke="#993300" stroke-width="7.5"/>
<path d="M514 1657.2L517.5 1666.2L514 1675.2L510.5 1666.2Z" fill="#993300"/>
<text x="559" y="1674.3" font-size="35" textLength="78" lengthAdjust="spacingAndGlyphs">220 <tspan font-size="22" dy="-15">o</tspan><tspan dy="15">C</tspan></text>
<line x1="481.5" y1="1727.4" x2="546.7" y2="1727.4" stroke="#FF0000" stroke-width="7.5"/>
<path d="M514 1718.4L517.5 1727.4L514 1736.4L510.5 1727.4Z" fill="#FF0000"/>
<text x="559" y="1738" font-size="35" textLength="78" lengthAdjust="spacingAndGlyphs">210 <tspan font-size="22" dy="-15">o</tspan><tspan dy="15">C</tspan></text>
<line x1="481.5" y1="1788.6" x2="546.7" y2="1788.6" stroke="#008000" stroke-width="7.5"/>
<path d="M514 1779.6L517.5 1788.6L514 1797.6L510.5 1788.6Z" fill="#008000"/>
<text x="559" y="1791.7" font-size="35" textLength="78" lengthAdjust="spacingAndGlyphs">200 <tspan font-size="22" dy="-15">o</tspan><tspan dy="15">C</tspan></text>
<text x="345.4" y="2092" font-size="33" textLength="39.6" lengthAdjust="spacingAndGlyphs">(e)</text>
<text x="349.7" y="2027.7" font-size="41" textLength="159" lengthAdjust="spacingAndGlyphs">log(&#969;/&#969;<tspan font-size="28" dy="8">max</tspan><tspan dy="-8">)</tspan></text>
<line x1="862.5" y1="1342" x2="862.5" y2="1907.5" stroke="#000" stroke-width="2.3"/>
<line x1="861.5" y1="1906.4" x2="1359.7" y2="1906.4" stroke="#000" stroke-width="2.3"/>
<line x1="862.5" y1="1343.4" x2="872.5" y2="1343.4" stroke="#000" stroke-width="2.3"/>
<text x="839" y="1354.4" font-size="33" text-anchor="end" textLength="33" lengthAdjust="spacingAndGlyphs">1.2</text>
<line x1="862.5" y1="1531.1" x2="872.5" y2="1531.1" stroke="#000" stroke-width="2.3"/>
<text x="839" y="1542.1" font-size="33" text-anchor="end" textLength="33" lengthAdjust="spacingAndGlyphs">0.8</text>
<line x1="862.5" y1="1718.7" x2="872.5" y2="1718.7" stroke="#000" stroke-width="2.3"/>
<text x="839" y="1729.7" font-size="33" text-anchor="end" textLength="33" lengthAdjust="spacingAndGlyphs">0.4</text>
<line x1="862.5" y1="1906.4" x2="872.5" y2="1906.4" stroke="#000" stroke-width="2.3"/>
<text x="839" y="1917.4" font-size="33" text-anchor="end" textLength="33" lengthAdjust="spacingAndGlyphs">0.0</text>
<text x="862.5" y="1970" font-size="33" text-anchor="middle">-2</text>
<line x1="986.3" y1="1906.4" x2="986.3" y2="1895" stroke="#000" stroke-width="2.3"/>
<text x="986.3" y="1970" font-size="33" text-anchor="middle">0</text>
<line x1="1110.1" y1="1906.4" x2="1110.1" y2="1895" stroke="#000" stroke-width="2.3"/>
<text x="1110.1" y="1970" font-size="33" text-anchor="middle">2</text>
<line x1="1233.9" y1="1906.4" x2="1233.9" y2="1895" stroke="#000" stroke-width="2.3"/>
<text x="1233.9" y="1970" font-size="33" text-anchor="middle">4</text>
<line x1="1357.7" y1="1906.4" x2="1357.7" y2="1895" stroke="#000" stroke-width="2.3"/>
<text x="1357.7" y="1970" font-size="33" text-anchor="middle">6</text>
<polyline points="870.5 1889.2 881 1882.3 891.5 1872.4 902.1 1858 912.6 1837.2 923.1 1807.3 933.6 1765 944.1 1706.9 954.6 1631.9 965.1 1546.6 975.6 1472.3 986.1 1441.7 996.6 1456.5 1007.1 1508.1 1017.6 1574.9 1028.1 1641.8 1038.6 1700.5 1049.1 1748.4 1059.6 1785.8 1070.1 1814.5 1080.7 1836.1 1091.2 1852.3 1101.7 1864.3 1112.2 1873.3 1122.7 1880 1133.2 1885 1143.7 1888.7 1154.2 1891.4 1164.7 1893.5 1175.2 1895 1185.7 1896.1 1196.2 1896.9 1206.7 1897.6 1217.2 1898 1227.7 1898.4 1238.2 1898.6 1248.7 1898.8 1259.3 1899 1269.8 1899.1 1280.3 1899.1 1290.8 1899.2 1301.3 1899.2 1311.8 1899.3 1322.3 1899.3 1332.8 1899.3 1343.3 1899.3" fill="none" stroke="#000080" stroke-width="4.6" stroke-linejoin="round"/>
<path d="M863.5 1882.2h14v14h-14zM874 1875.3h14v14h-14zM884.5 1865.4h14v14h-14zM895.1 1851h14v14h-14zM905.6 1830.2h14v14h-14zM916.1 1800.3h14v14h-14zM926.6 1758h14v14h-14zM937.1 1699.9h14v14h-14zM947.6 1624.9h14v14h-14zM958.1 1539.6h14v14h-14zM968.6 1465.3h14v14h-14zM979.1 1434.7h14v14h-14zM989.6 1449.5h14v14h-14zM1000.1 1501.1h14v14h-14zM1010.6 1567.9h14v14h-14zM1021.1 1634.8h14v14h-14zM1031.6 1693.5h14v14h-14zM1042.1 1741.4h14v14h-14zM1052.6 1778.8h14v14h-14zM1063.1 1807.5h14v14h-14zM1073.7 1829.1h14v14h-14zM1084.2 1845.3h14v14h-14zM1094.7 1857.3h14v14h-14zM1105.2 1866.3h14v14h-14zM1115.7 1873h14v14h-14zM1126.2 1878h14v14h-14zM1136.7 1881.7h14v14h-14zM1147.2 1884.4h14v14h-14zM1157.7 1886.5h14v14h-14zM1168.2 1888h14v14h-14zM1178.7 1889.1h14v14h-14zM1189.2 1889.9h14v14h-14zM1199.7 1890.6h14v14h-14zM1210.2 1891h14v14h-14zM1220.7 1891.4h14v14h-14zM1231.2 1891.6h14v14h-14zM1241.7 1891.8h14v14h-14zM1252.3 1892h14v14h-14zM1262.8 1892.1h14v14h-14zM1273.3 1892.1h14v14h-14zM1283.8 1892.2h14v14h-14zM1294.3 1892.2h14v14h-14zM1304.8 1892.3h14v14h-14zM1315.3 1892.3h14v14h-14zM1325.8 1892.3h14v14h-14zM1336.3 1892.3h14v14h-14z" fill="#000080"/>
<polyline points="881 1904.3 891.5 1902.9 902.1 1900.6 912.6 1896.8 923.1 1890.6 933.6 1880.7 944.1 1865.1 954.6 1841.5 965.1 1807.4 975.6 1761.8 986.1 1706.6 996.6 1643.3 1007.1 1586.7 1017.6 1546.7 1028.1 1519.4 1038.6 1500.9 1049.1 1488.1 1059.6 1479 1070.1 1472.3 1080.7 1467.3 1091.2 1463.5 1101.7 1460.5 1112.2 1458.1 1122.7 1456.1 1133.2 1454.4 1143.7 1452.9 1154.2 1451.7 1164.7 1450.6 1175.2 1449.6 1185.7 1448.8 1196.2 1448 1206.7 1447.3 1217.2 1446.6 1227.7 1446 1238.2 1445.5 1248.7 1444.9 1259.3 1444.5 1269.8 1444 1280.3 1443.6 1290.8 1443.2 1301.3 1442.8 1311.8 1442.5 1322.3 1442.1 1332.8 1441.8 1343.3 1441.5" fill="none" stroke="#000080" stroke-width="4.6" stroke-linejoin="round"/>
<path d="M881 1892.3l12 12l-12 12l-12 -12zM891.5 1890.9l12 12l-12 12l-12 -12zM902.1 1888.6l12 12l-12 12l-12 -12zM912.6 1884.8l12 12l-12 12l-12 -12zM923.1 1878.6l12 12l-12 12l-12 -12zM933.6 1868.7l12 12l-12 12l-12 -12zM944.1 1853.1l12 12l-12 12l-12 -12zM954.6 1829.5l12 12l-12 12l-12 -12zM965.1 1795.4l12 12l-12 12l-12 -12zM975.6 1749.8l12 12l-12 12l-12 -12zM986.1 1694.6l12 12l-12 12l-12 -12zM996.6 1631.3l12 12l-12 12l-12 -12zM1007.1 1574.7l12 12l-12 12l-12 -12zM1017.6 1534.7l12 12l-12 12l-12 -12zM1028.1 1507.4l12 12l-12 12l-12 -12zM1038.6 1488.9l12 12l-12 12l-12 -12zM1049.1 1476.1l12 12l-12 12l-12 -12zM1059.6 1467l12 12l-12 12l-12 -12zM1070.1 1460.3l12 12l-12 12l-12 -12zM1080.7 1455.3l12 12l-12 12l-12 -12zM1091.2 1451.5l12 12l-12 12l-12 -12zM1101.7 1448.5l12 12l-12 12l-12 -12zM1112.2 1446.1l12 12l-12 12l-12 -12zM1122.7 1444.1l12 12l-12 12l-12 -12zM1133.2 1442.4l12 12l-12 12l-12 -12zM1143.7 1440.9l12 12l-12 12l-12 -12zM1154.2 1439.7l12 12l-12 12l-12 -12zM1164.7 1438.6l12 12l-12 12l-12 -12zM1175.2 1437.6l12 12l-12 12l-12 -12zM1185.7 1436.8l12 12l-12 12l-12 -12zM1196.2 1436l12 12l-12 12l-12 -12zM1206.7 1435.3l12 12l-12 12l-12 -12zM1217.2 1434.6l12 12l-12 12l-12 -12zM1227.7 1434l12 12l-12 12l-12 -12zM1238.2 1433.5l12 12l-12 12l-12 -12zM1248.7 1432.9l12 12l-12 12l-12 -12zM1259.3 1432.5l12 12l-12 12l-12 -12zM1269.8 1432l12 12l-12 12l-12 -12zM1280.3 1431.6l12 12l-12 12l-12 -12zM1290.8 1431.2l12 12l-12 12l-12 -12zM1301.3 1430.8l12 12l-12 12l-12 -12zM1311.8 1430.5l12 12l-12 12l-12 -12zM1322.3 1430.1l12 12l-12 12l-12 -12zM1332.8 1429.8l12 12l-12 12l-12 -12zM1343.3 1429.5l12 12l-12 12l-12 -12z" fill="#000080"/>
<polyline points="870.5 1887.7 881 1880.4 891.5 1869.9 902.1 1854.7 912.6 1833.1 923.1 1802.3 933.6 1759.3 944.1 1700.8 954.6 1626.3 965.1 1542.7 975.6 1471 986.1 1441.7 996.6 1459.9 1007.1 1519 1017.6 1592.5 1028.1 1663 1038.6 1722.4 1049.1 1768.9 1059.6 1804 1070.1 1829.9 1080.7 1849 1091.2 1862.8 1101.7 1872.9 1112.2 1880.2 1122.7 1885.5 1133.2 1889.3 1143.7 1892.1 1154.2 1894.1 1164.7 1895.5 1175.2 1896.6 1185.7 1897.4 1196.2 1897.9 1206.7 1898.3 1217.2 1898.6 1227.7 1898.8 1238.2 1899 1248.7 1899.1 1259.3 1899.1 1269.8 1899.2 1280.3 1899.2 1290.8 1899.3 1301.3 1899.3 1311.8 1899.3 1322.3 1899.3 1332.8 1899.3 1343.3 1899.3" fill="none" stroke="#FF00FF" stroke-width="4.6" stroke-linejoin="round"/>
<path d="M870.5 1879.3l8.4 8.4l-8.4 8.4l-8.4 -8.4zM881 1872l8.4 8.4l-8.4 8.4l-8.4 -8.4zM891.5 1861.5l8.4 8.4l-8.4 8.4l-8.4 -8.4zM902.1 1846.3l8.4 8.4l-8.4 8.4l-8.4 -8.4zM912.6 1824.7l8.4 8.4l-8.4 8.4l-8.4 -8.4zM923.1 1793.9l8.4 8.4l-8.4 8.4l-8.4 -8.4zM933.6 1750.9l8.4 8.4l-8.4 8.4l-8.4 -8.4zM944.1 1692.4l8.4 8.4l-8.4 8.4l-8.4 -8.4zM954.6 1617.9l8.4 8.4l-8.4 8.4l-8.4 -8.4zM965.1 1534.3l8.4 8.4l-8.4 8.4l-8.4 -8.4zM975.6 1462.6l8.4 8.4l-8.4 8.4l-8.4 -8.4zM986.1 1433.3l8.4 8.4l-8.4 8.4l-8.4 -8.4zM996.6 1451.5l8.4 8.4l-8.4 8.4l-8.4 -8.4zM1007.1 1510.6l8.4 8.4l-8.4 8.4l-8.4 -8.4zM1017.6 1584.1l8.4 8.4l-8.4 8.4l-8.4 -8.4zM1028.1 1654.6l8.4 8.4l-8.4 8.4l-8.4 -8.4zM1038.6 1714l8.4 8.4l-8.4 8.4l-8.4 -8.4zM1049.1 1760.5l8.4 8.4l-8.4 8.4l-8.4 -8.4zM1059.6 1795.6l8.4 8.4l-8.4 8.4l-8.4 -8.4zM1070.1 1821.5l8.4 8.4l-8.4 8.4l-8.4 -8.4zM1080.7 1840.6l8.4 8.4l-8.4 8.4l-8.4 -8.4zM1091.2 1854.4l8.4 8.4l-8.4 8.4l-8.4 -8.4zM1101.7 1864.5l8.4 8.4l-8.4 8.4l-8.4 -8.4zM1112.2 1871.8l8.4 8.4l-8.4 8.4l-8.4 -8.4zM1122.7 1877.1l8.4 8.4l-8.4 8.4l-8.4 -8.4zM1133.2 1880.9l8.4 8.4l-8.4 8.4l-8.4 -8.4zM1143.7 1883.7l8.4 8.4l-8.4 8.4l-8.4 -8.4zM1154.2 1885.7l8.4 8.4l-8.4 8.4l-8.4 -8.4zM1164.7 1887.1l8.4 8.4l-8.4 8.4l-8.4 -8.4zM1175.2 1888.2l8.4 8.4l-8.4 8.4l-8.4 -8.4zM1185.7 1889l8.4 8.4l-8.4 8.4l-8.4 -8.4zM1196.2 1889.5l8.4 8.4l-8.4 8.4l-8.4 -8.4zM1206.7 1889.9l8.4 8.4l-8.4 8.4l-8.4 -8.4zM1217.2 1890.2l8.4 8.4l-8.4 8.4l-8.4 -8.4zM1227.7 1890.4l8.4 8.4l-8.4 8.4l-8.4 -8.4zM1238.2 1890.6l8.4 8.4l-8.4 8.4l-8.4 -8.4zM1248.7 1890.7l8.4 8.4l-8.4 8.4l-8.4 -8.4zM1259.3 1890.7l8.4 8.4l-8.4 8.4l-8.4 -8.4zM1269.8 1890.8l8.4 8.4l-8.4 8.4l-8.4 -8.4zM1280.3 1890.8l8.4 8.4l-8.4 8.4l-8.4 -8.4zM1290.8 1890.9l8.4 8.4l-8.4 8.4l-8.4 -8.4zM1301.3 1890.9l8.4 8.4l-8.4 8.4l-8.4 -8.4zM1311.8 1890.9l8.4 8.4l-8.4 8.4l-8.4 -8.4zM1322.3 1890.9l8.4 8.4l-8.4 8.4l-8.4 -8.4zM1332.8 1890.9l8.4 8.4l-8.4 8.4l-8.4 -8.4zM1343.3 1890.9l8.4 8.4l-8.4 8.4l-8.4 -8.4z" fill="#FF00FF"/>
<polyline points="881 1903.9 891.5 1902.3 902.1 1899.7 912.6 1895.3 923.1 1888.2 933.6 1876.8 944.1 1859.1 954.6 1832.6 965.1 1795.2 975.6 1746.4 986.1 1689.2 996.6 1624.8 1007.1 1573.3 1017.6 1537.5 1028.1 1513.3 1038.6 1496.7 1049.1 1485.1 1059.6 1476.8 1070.1 1470.7 1080.7 1466.1 1091.2 1462.6 1101.7 1459.7 1112.2 1457.4 1122.7 1455.5 1133.2 1453.9 1143.7 1452.6 1154.2 1451.4 1164.7 1450.3 1175.2 1449.4 1185.7 1448.5 1196.2 1447.8 1206.7 1447.1 1217.2 1446.4 1227.7 1445.8 1238.2 1445.3 1248.7 1444.8 1259.3 1444.3 1269.8 1443.9 1280.3 1443.5 1290.8 1443.1 1301.3 1442.7 1311.8 1442.4 1322.3 1442 1332.8 1441.7 1343.3 1441.5" fill="none" stroke="#FF00FF" stroke-width="4.6" stroke-linejoin="round"/>
<path d="M881 1895.5l8.4 8.4l-8.4 8.4l-8.4 -8.4zM891.5 1893.9l8.4 8.4l-8.4 8.4l-8.4 -8.4zM902.1 1891.3l8.4 8.4l-8.4 8.4l-8.4 -8.4zM912.6 1886.9l8.4 8.4l-8.4 8.4l-8.4 -8.4zM923.1 1879.8l8.4 8.4l-8.4 8.4l-8.4 -8.4zM933.6 1868.4l8.4 8.4l-8.4 8.4l-8.4 -8.4zM944.1 1850.7l8.4 8.4l-8.4 8.4l-8.4 -8.4zM954.6 1824.2l8.4 8.4l-8.4 8.4l-8.4 -8.4zM965.1 1786.8l8.4 8.4l-8.4 8.4l-8.4 -8.4zM975.6 1738l8.4 8.4l-8.4 8.4l-8.4 -8.4zM986.1 1680.8l8.4 8.4l-8.4 8.4l-8.4 -8.4zM996.6 1616.4l8.4 8.4l-8.4 8.4l-8.4 -8.4zM1007.1 1564.9l8.4 8.4l-8.4 8.4l-8.4 -8.4zM1017.6 1529.1l8.4 8.4l-8.4 8.4l-8.4 -8.4zM1028.1 1504.9l8.4 8.4l-8.4 8.4l-8.4 -8.4zM1038.6 1488.3l8.4 8.4l-8.4 8.4l-8.4 -8.4zM1049.1 1476.7l8.4 8.4l-8.4 8.4l-8.4 -8.4zM1059.6 1468.4l8.4 8.4l-8.4 8.4l-8.4 -8.4zM1070.1 1462.3l8.4 8.4l-8.4 8.4l-8.4 -8.4zM1080.7 1457.7l8.4 8.4l-8.4 8.4l-8.4 -8.4zM1091.2 1454.2l8.4 8.4l-8.4 8.4l-8.4 -8.4zM1101.7 1451.3l8.4 8.4l-8.4 8.4l-8.4 -8.4zM1112.2 1449l8.4 8.4l-8.4 8.4l-8.4 -8.4zM1122.7 1447.1l8.4 8.4l-8.4 8.4l-8.4 -8.4zM1133.2 1445.5l8.4 8.4l-8.4 8.4l-8.4 -8.4zM1143.7 1444.2l8.4 8.4l-8.4 8.4l-8.4 -8.4zM1154.2 1443l8.4 8.4l-8.4 8.4l-8.4 -8.4zM1164.7 1441.9l8.4 8.4l-8.4 8.4l-8.4 -8.4zM1175.2 1441l8.4 8.4l-8.4 8.4l-8.4 -8.4zM1185.7 1440.1l8.4 8.4l-8.4 8.4l-8.4 -8.4zM1196.2 1439.4l8.4 8.4l-8.4 8.4l-8.4 -8.4zM1206.7 1438.7l8.4 8.4l-8.4 8.4l-8.4 -8.4zM1217.2 1438l8.4 8.4l-8.4 8.4l-8.4 -8.4zM1227.7 1437.4l8.4 8.4l-8.4 8.4l-8.4 -8.4zM1238.2 1436.9l8.4 8.4l-8.4 8.4l-8.4 -8.4zM1248.7 1436.4l8.4 8.4l-8.4 8.4l-8.4 -8.4zM1259.3 1435.9l8.4 8.4l-8.4 8.4l-8.4 -8.4zM1269.8 1435.5l8.4 8.4l-8.4 8.4l-8.4 -8.4zM1280.3 1435.1l8.4 8.4l-8.4 8.4l-8.4 -8.4zM1290.8 1434.7l8.4 8.4l-8.4 8.4l-8.4 -8.4zM1301.3 1434.3l8.4 8.4l-8.4 8.4l-8.4 -8.4zM1311.8 1434l8.4 8.4l-8.4 8.4l-8.4 -8.4zM1322.3 1433.6l8.4 8.4l-8.4 8.4l-8.4 -8.4zM1332.8 1433.3l8.4 8.4l-8.4 8.4l-8.4 -8.4zM1343.3 1433.1l8.4 8.4l-8.4 8.4l-8.4 -8.4z" fill="#FF00FF"/>
<polyline points="870.5 1884.1 881 1875 891.5 1862 902.1 1843.6 912.6 1817.4 923.1 1780.9 933.6 1730.7 944.1 1664.9 954.6 1585.6 965.1 1505.2 975.6 1449.2 986.1 1441.1 996.6 1483.6 1007.1 1554.3 1017.6 1630.5 1028.1 1698.1 1038.6 1752.2 1049.1 1793.3 1059.6 1823.8 1070.1 1846 1080.7 1862 1091.2 1873.6 1101.7 1881.9 1112.2 1887.9 1122.7 1892.2 1133.2 1895.3 1143.7 1897.5 1154.2 1899.1 1164.7 1900.2 1175.2 1901 1185.7 1901.6 1196.2 1902 1206.7 1902.3 1217.2 1902.6 1227.7 1902.7 1238.2 1902.8 1248.7 1902.9 1259.3 1903 1269.8 1903 1280.3 1903 1290.8 1903.1 1301.3 1903.1 1311.8 1903.1 1322.3 1903.1 1332.8 1903.1 1343.3 1903.1" fill="none" stroke="#FF0000" stroke-width="4.6" stroke-linejoin="round"/>
<path d="M870.5 1875.7l8.4 8.4l-8.4 8.4l-8.4 -8.4zM881 1866.6l8.4 8.4l-8.4 8.4l-8.4 -8.4zM891.5 1853.6l8.4 8.4l-8.4 8.4l-8.4 -8.4zM902.1 1835.2l8.4 8.4l-8.4 8.4l-8.4 -8.4zM912.6 1809l8.4 8.4l-8.4 8.4l-8.4 -8.4zM923.1 1772.5l8.4 8.4l-8.4 8.4l-8.4 -8.4zM933.6 1722.3l8.4 8.4l-8.4 8.4l-8.4 -8.4zM944.1 1656.5l8.4 8.4l-8.4 8.4l-8.4 -8.4zM954.6 1577.2l8.4 8.4l-8.4 8.4l-8.4 -8.4zM965.1 1496.8l8.4 8.4l-8.4 8.4l-8.4 -8.4zM975.6 1440.8l8.4 8.4l-8.4 8.4l-8.4 -8.4zM986.1 1432.7l8.4 8.4l-8.4 8.4l-8.4 -8.4zM996.6 1475.2l8.4 8.4l-8.4 8.4l-8.4 -8.4zM1007.1 1545.9l8.4 8.4l-8.4 8.4l-8.4 -8.4zM1017.6 1622.1l8.4 8.4l-8.4 8.4l-8.4 -8.4zM1028.1 1689.7l8.4 8.4l-8.4 8.4l-8.4 -8.4zM1038.6 1743.8l8.4 8.4l-8.4 8.4l-8.4 -8.4zM1049.1 1784.9l8.4 8.4l-8.4 8.4l-8.4 -8.4zM1059.6 1815.4l8.4 8.4l-8.4 8.4l-8.4 -8.4zM1070.1 1837.6l8.4 8.4l-8.4 8.4l-8.4 -8.4zM1080.7 1853.6l8.4 8.4l-8.4 8.4l-8.4 -8.4zM1091.2 1865.2l8.4 8.4l-8.4 8.4l-8.4 -8.4zM1101.7 1873.5l8.4 8.4l-8.4 8.4l-8.4 -8.4zM1112.2 1879.5l8.4 8.4l-8.4 8.4l-8.4 -8.4zM1122.7 1883.8l8.4 8.4l-8.4 8.4l-8.4 -8.4zM1133.2 1886.9l8.4 8.4l-8.4 8.4l-8.4 -8.4zM1143.7 1889.1l8.4 8.4l-8.4 8.4l-8.4 -8.4zM1154.2 1890.7l8.4 8.4l-8.4 8.4l-8.4 -8.4zM1164.7 1891.8l8.4 8.4l-8.4 8.4l-8.4 -8.4zM1175.2 1892.6l8.4 8.4l-8.4 8.4l-8.4 -8.4zM1185.7 1893.2l8.4 8.4l-8.4 8.4l-8.4 -8.4zM1196.2 1893.6l8.4 8.4l-8.4 8.4l-8.4 -8.4zM1206.7 1893.9l8.4 8.4l-8.4 8.4l-8.4 -8.4zM1217.2 1894.2l8.4 8.4l-8.4 8.4l-8.4 -8.4zM1227.7 1894.3l8.4 8.4l-8.4 8.4l-8.4 -8.4zM1238.2 1894.4l8.4 8.4l-8.4 8.4l-8.4 -8.4zM1248.7 1894.5l8.4 8.4l-8.4 8.4l-8.4 -8.4zM1259.3 1894.6l8.4 8.4l-8.4 8.4l-8.4 -8.4zM1269.8 1894.6l8.4 8.4l-8.4 8.4l-8.4 -8.4zM1280.3 1894.6l8.4 8.4l-8.4 8.4l-8.4 -8.4zM1290.8 1894.7l8.4 8.4l-8.4 8.4l-8.4 -8.4zM1301.3 1894.7l8.4 8.4l-8.4 8.4l-8.4 -8.4zM1311.8 1894.7l8.4 8.4l-8.4 8.4l-8.4 -8.4zM1322.3 1894.7l8.4 8.4l-8.4 8.4l-8.4 -8.4zM1332.8 1894.7l8.4 8.4l-8.4 8.4l-8.4 -8.4zM1343.3 1894.7l8.4 8.4l-8.4 8.4l-8.4 -8.4z" fill="#FF0000"/>
<polyline points="881 1905.3 891.5 1904.4 902.1 1902.8 912.6 1899.8 923.1 1894.3 933.6 1884.6 944.1 1867.8 954.6 1839.8 965.1 1796.7 975.6 1737.4 986.1 1666.7 996.6 1594.4 1007.1 1544.2 1017.6 1511.4 1028.1 1490 1038.6 1475.8 1049.1 1466 1059.6 1459.1 1070.1 1454.2 1080.7 1450.4 1091.2 1447.6 1101.7 1445.4 1112.2 1443.7 1122.7 1442.4 1133.2 1441.3 1143.7 1440.5 1154.2 1439.8 1164.7 1439.2 1175.2 1438.8 1185.7 1438.4 1196.2 1438.1 1206.7 1437.9 1217.2 1437.7 1227.7 1437.5 1238.2 1437.4 1248.7 1437.3 1259.3 1437.2 1269.8 1437.1 1280.3 1437.1 1290.8 1437 1301.3 1437 1311.8 1436.9 1322.3 1436.9 1332.8 1436.9 1343.3 1436.9" fill="none" stroke="#FF0000" stroke-width="4.6" stroke-linejoin="round"/>
<path d="M881 1896.9l8.4 8.4l-8.4 8.4l-8.4 -8.4zM891.5 1896l8.4 8.4l-8.4 8.4l-8.4 -8.4zM902.1 1894.4l8.4 8.4l-8.4 8.4l-8.4 -8.4zM912.6 1891.4l8.4 8.4l-8.4 8.4l-8.4 -8.4zM923.1 1885.9l8.4 8.4l-8.4 8.4l-8.4 -8.4zM933.6 1876.2l8.4 8.4l-8.4 8.4l-8.4 -8.4zM944.1 1859.4l8.4 8.4l-8.4 8.4l-8.4 -8.4zM954.6 1831.4l8.4 8.4l-8.4 8.4l-8.4 -8.4zM965.1 1788.3l8.4 8.4l-8.4 8.4l-8.4 -8.4zM975.6 1729l8.4 8.4l-8.4 8.4l-8.4 -8.4zM986.1 1658.3l8.4 8.4l-8.4 8.4l-8.4 -8.4zM996.6 1586l8.4 8.4l-8.4 8.4l-8.4 -8.4zM1007.1 1535.8l8.4 8.4l-8.4 8.4l-8.4 -8.4zM1017.6 1503l8.4 8.4l-8.4 8.4l-8.4 -8.4zM1028.1 1481.6l8.4 8.4l-8.4 8.4l-8.4 -8.4zM1038.6 1467.4l8.4 8.4l-8.4 8.4l-8.4 -8.4zM1049.1 1457.6l8.4 8.4l-8.4 8.4l-8.4 -8.4zM1059.6 1450.7l8.4 8.4l-8.4 8.4l-8.4 -8.4zM1070.1 1445.8l8.4 8.4l-8.4 8.4l-8.4 -8.4zM1080.7 1442l8.4 8.4l-8.4 8.4l-8.4 -8.4zM1091.2 1439.2l8.4 8.4l-8.4 8.4l-8.4 -8.4zM1101.7 1437l8.4 8.4l-8.4 8.4l-8.4 -8.4zM1112.2 1435.3l8.4 8.4l-8.4 8.4l-8.4 -8.4zM1122.7 1434l8.4 8.4l-8.4 8.4l-8.4 -8.4zM1133.2 1432.9l8.4 8.4l-8.4 8.4l-8.4 -8.4zM1143.7 1432.1l8.4 8.4l-8.4 8.4l-8.4 -8.4zM1154.2 1431.4l8.4 8.4l-8.4 8.4l-8.4 -8.4zM1164.7 1430.8l8.4 8.4l-8.4 8.4l-8.4 -8.4zM1175.2 1430.4l8.4 8.4l-8.4 8.4l-8.4 -8.4zM1185.7 1430l8.4 8.4l-8.4 8.4l-8.4 -8.4zM1196.2 1429.7l8.4 8.4l-8.4 8.4l-8.4 -8.4zM1206.7 1429.5l8.4 8.4l-8.4 8.4l-8.4 -8.4zM1217.2 1429.3l8.4 8.4l-8.4 8.4l-8.4 -8.4zM1227.7 1429.1l8.4 8.4l-8.4 8.4l-8.4 -8.4zM1238.2 1429l8.4 8.4l-8.4 8.4l-8.4 -8.4zM1248.7 1428.9l8.4 8.4l-8.4 8.4l-8.4 -8.4zM1259.3 1428.8l8.4 8.4l-8.4 8.4l-8.4 -8.4zM1269.8 1428.7l8.4 8.4l-8.4 8.4l-8.4 -8.4zM1280.3 1428.7l8.4 8.4l-8.4 8.4l-8.4 -8.4zM1290.8 1428.6l8.4 8.4l-8.4 8.4l-8.4 -8.4zM1301.3 1428.6l8.4 8.4l-8.4 8.4l-8.4 -8.4zM1311.8 1428.5l8.4 8.4l-8.4 8.4l-8.4 -8.4zM1322.3 1428.5l8.4 8.4l-8.4 8.4l-8.4 -8.4zM1332.8 1428.5l8.4 8.4l-8.4 8.4l-8.4 -8.4zM1343.3 1428.5l8.4 8.4l-8.4 8.4l-8.4 -8.4z" fill="#FF0000"/>
<polyline points="870.5 1887.6 881 1879.7 891.5 1868.4 902.1 1852.2 912.6 1828.9 923.1 1796 933.6 1750 944.1 1688.1 954.6 1610.6 965.1 1526.4 975.6 1459.5 986.1 1437.6 996.6 1468.6 1007.1 1532.3 1017.6 1606.9 1028.1 1676.4 1038.6 1733.9 1049.1 1778.6 1059.6 1812.2 1070.1 1837 1080.7 1855.1 1091.2 1868.3 1101.7 1877.9 1112.2 1884.9 1122.7 1889.9 1133.2 1893.5 1143.7 1896.2 1154.2 1898.1 1164.7 1899.5 1175.2 1900.5 1185.7 1901.2 1196.2 1901.7 1206.7 1902.1 1217.2 1902.4 1227.7 1902.6 1238.2 1902.7 1248.7 1902.8 1259.3 1902.9 1269.8 1903 1280.3 1903 1290.8 1903 1301.3 1903.1 1311.8 1903.1 1322.3 1903.1 1332.8 1903.1 1343.3 1903.1" fill="none" stroke="#008000" stroke-width="4.6" stroke-linejoin="round"/>
<path d="M870.5 1879.2l8.4 8.4l-8.4 8.4l-8.4 -8.4zM881 1871.3l8.4 8.4l-8.4 8.4l-8.4 -8.4zM891.5 1860l8.4 8.4l-8.4 8.4l-8.4 -8.4zM902.1 1843.8l8.4 8.4l-8.4 8.4l-8.4 -8.4zM912.6 1820.5l8.4 8.4l-8.4 8.4l-8.4 -8.4zM923.1 1787.6l8.4 8.4l-8.4 8.4l-8.4 -8.4zM933.6 1741.6l8.4 8.4l-8.4 8.4l-8.4 -8.4zM944.1 1679.7l8.4 8.4l-8.4 8.4l-8.4 -8.4zM954.6 1602.2l8.4 8.4l-8.4 8.4l-8.4 -8.4zM965.1 1518l8.4 8.4l-8.4 8.4l-8.4 -8.4zM975.6 1451.1l8.4 8.4l-8.4 8.4l-8.4 -8.4zM986.1 1429.2l8.4 8.4l-8.4 8.4l-8.4 -8.4zM996.6 1460.2l8.4 8.4l-8.4 8.4l-8.4 -8.4zM1007.1 1523.9l8.4 8.4l-8.4 8.4l-8.4 -8.4zM1017.6 1598.5l8.4 8.4l-8.4 8.4l-8.4 -8.4zM1028.1 1668l8.4 8.4l-8.4 8.4l-8.4 -8.4zM1038.6 1725.5l8.4 8.4l-8.4 8.4l-8.4 -8.4zM1049.1 1770.2l8.4 8.4l-8.4 8.4l-8.4 -8.4zM1059.6 1803.8l8.4 8.4l-8.4 8.4l-8.4 -8.4zM1070.1 1828.6l8.4 8.4l-8.4 8.4l-8.4 -8.4zM1080.7 1846.7l8.4 8.4l-8.4 8.4l-8.4 -8.4zM1091.2 1859.9l8.4 8.4l-8.4 8.4l-8.4 -8.4zM1101.7 1869.5l8.4 8.4l-8.4 8.4l-8.4 -8.4zM1112.2 1876.5l8.4 8.4l-8.4 8.4l-8.4 -8.4zM1122.7 1881.5l8.4 8.4l-8.4 8.4l-8.4 -8.4zM1133.2 1885.1l8.4 8.4l-8.4 8.4l-8.4 -8.4zM1143.7 1887.8l8.4 8.4l-8.4 8.4l-8.4 -8.4zM1154.2 1889.7l8.4 8.4l-8.4 8.4l-8.4 -8.4zM1164.7 1891.1l8.4 8.4l-8.4 8.4l-8.4 -8.4zM1175.2 1892.1l8.4 8.4l-8.4 8.4l-8.4 -8.4zM1185.7 1892.8l8.4 8.4l-8.4 8.4l-8.4 -8.4zM1196.2 1893.3l8.4 8.4l-8.4 8.4l-8.4 -8.4zM1206.7 1893.7l8.4 8.4l-8.4 8.4l-8.4 -8.4zM1217.2 1894l8.4 8.4l-8.4 8.4l-8.4 -8.4zM1227.7 1894.2l8.4 8.4l-8.4 8.4l-8.4 -8.4zM1238.2 1894.3l8.4 8.4l-8.4 8.4l-8.4 -8.4zM1248.7 1894.4l8.4 8.4l-8.4 8.4l-8.4 -8.4zM1259.3 1894.5l8.4 8.4l-8.4 8.4l-8.4 -8.4zM1269.8 1894.6l8.4 8.4l-8.4 8.4l-8.4 -8.4zM1280.3 1894.6l8.4 8.4l-8.4 8.4l-8.4 -8.4zM1290.8 1894.6l8.4 8.4l-8.4 8.4l-8.4 -8.4zM1301.3 1894.7l8.4 8.4l-8.4 8.4l-8.4 -8.4zM1311.8 1894.7l8.4 8.4l-8.4 8.4l-8.4 -8.4zM1322.3 1894.7l8.4 8.4l-8.4 8.4l-8.4 -8.4zM1332.8 1894.7l8.4 8.4l-8.4 8.4l-8.4 -8.4zM1343.3 1894.7l8.4 8.4l-8.4 8.4l-8.4 -8.4z" fill="#008000"/>
<polyline points="881 1905.5 891.5 1904.6 902.1 1903.1 912.6 1900.3 923.1 1895.1 933.6 1885.6 944.1 1868.8 954.6 1840.5 965.1 1796.4 975.6 1735.1 986.1 1661.9 996.6 1590.9 1007.1 1541.9 1017.6 1509.8 1028.1 1489 1038.6 1475.1 1049.1 1465.6 1059.6 1458.8 1070.1 1453.9 1080.7 1450.2 1091.2 1447.5 1101.7 1445.3 1112.2 1443.6 1122.7 1442.3 1133.2 1441.3 1143.7 1440.4 1154.2 1439.7 1164.7 1439.2 1175.2 1438.7 1185.7 1438.4 1196.2 1438.1 1206.7 1437.8 1217.2 1437.7 1227.7 1437.5 1238.2 1437.4 1248.7 1437.3 1259.3 1437.2 1269.8 1437.1 1280.3 1437.1 1290.8 1437 1301.3 1437 1311.8 1436.9 1322.3 1436.9 1332.8 1436.9 1343.3 1436.9" fill="none" stroke="#008000" stroke-width="4.6" stroke-linejoin="round"/>
<path d="M881 1897.1l8.4 8.4l-8.4 8.4l-8.4 -8.4zM891.5 1896.2l8.4 8.4l-8.4 8.4l-8.4 -8.4zM902.1 1894.7l8.4 8.4l-8.4 8.4l-8.4 -8.4zM912.6 1891.9l8.4 8.4l-8.4 8.4l-8.4 -8.4zM923.1 1886.7l8.4 8.4l-8.4 8.4l-8.4 -8.4zM933.6 1877.2l8.4 8.4l-8.4 8.4l-8.4 -8.4zM944.1 1860.4l8.4 8.4l-8.4 8.4l-8.4 -8.4zM954.6 1832.1l8.4 8.4l-8.4 8.4l-8.4 -8.4zM965.1 1788l8.4 8.4l-8.4 8.4l-8.4 -8.4zM975.6 1726.7l8.4 8.4l-8.4 8.4l-8.4 -8.4zM986.1 1653.5l8.4 8.4l-8.4 8.4l-8.4 -8.4zM996.6 1582.5l8.4 8.4l-8.4 8.4l-8.4 -8.4zM1007.1 1533.5l8.4 8.4l-8.4 8.4l-8.4 -8.4zM1017.6 1501.4l8.4 8.4l-8.4 8.4l-8.4 -8.4zM1028.1 1480.6l8.4 8.4l-8.4 8.4l-8.4 -8.4zM1038.6 1466.7l8.4 8.4l-8.4 8.4l-8.4 -8.4zM1049.1 1457.2l8.4 8.4l-8.4 8.4l-8.4 -8.4zM1059.6 1450.4l8.4 8.4l-8.4 8.4l-8.4 -8.4zM1070.1 1445.5l8.4 8.4l-8.4 8.4l-8.4 -8.4zM1080.7 1441.8l8.4 8.4l-8.4 8.4l-8.4 -8.4zM1091.2 1439.1l8.4 8.4l-8.4 8.4l-8.4 -8.4zM1101.7 1436.9l8.4 8.4l-8.4 8.4l-8.4 -8.4zM1112.2 1435.2l8.4 8.4l-8.4 8.4l-8.4 -8.4zM1122.7 1433.9l8.4 8.4l-8.4 8.4l-8.4 -8.4zM1133.2 1432.9l8.4 8.4l-8.4 8.4l-8.4 -8.4zM1143.7 1432l8.4 8.4l-8.4 8.4l-8.4 -8.4zM1154.2 1431.3l8.4 8.4l-8.4 8.4l-8.4 -8.4zM1164.7 1430.8l8.4 8.4l-8.4 8.4l-8.4 -8.4zM1175.2 1430.3l8.4 8.4l-8.4 8.4l-8.4 -8.4zM1185.7 1430l8.4 8.4l-8.4 8.4l-8.4 -8.4zM1196.2 1429.7l8.4 8.4l-8.4 8.4l-8.4 -8.4zM1206.7 1429.4l8.4 8.4l-8.4 8.4l-8.4 -8.4zM1217.2 1429.3l8.4 8.4l-8.4 8.4l-8.4 -8.4zM1227.7 1429.1l8.4 8.4l-8.4 8.4l-8.4 -8.4zM1238.2 1429l8.4 8.4l-8.4 8.4l-8.4 -8.4zM1248.7 1428.9l8.4 8.4l-8.4 8.4l-8.4 -8.4zM1259.3 1428.8l8.4 8.4l-8.4 8.4l-8.4 -8.4zM1269.8 1428.7l8.4 8.4l-8.4 8.4l-8.4 -8.4zM1280.3 1428.7l8.4 8.4l-8.4 8.4l-8.4 -8.4zM1290.8 1428.6l8.4 8.4l-8.4 8.4l-8.4 -8.4zM1301.3 1428.6l8.4 8.4l-8.4 8.4l-8.4 -8.4zM1311.8 1428.5l8.4 8.4l-8.4 8.4l-8.4 -8.4zM1322.3 1428.5l8.4 8.4l-8.4 8.4l-8.4 -8.4zM1332.8 1428.5l8.4 8.4l-8.4 8.4l-8.4 -8.4zM1343.3 1428.5l8.4 8.4l-8.4 8.4l-8.4 -8.4z" fill="#008000"/>
<polyline points="870.5 1888.7 881 1881.3 891.5 1870.7 902.1 1855.5 912.6 1833.6 923.1 1802.6 933.6 1759.2 944.1 1700.3 954.6 1625.2 965.1 1540.9 975.6 1468.6 986.1 1439.1 996.6 1460.1 1007.1 1519.6 1017.6 1593.8 1028.1 1664.9 1038.6 1724.7 1049.1 1771.6 1059.6 1806.9 1070.1 1833.1 1080.7 1852.3 1091.2 1866.3 1101.7 1876.4 1112.2 1883.8 1122.7 1889.1 1133.2 1893 1143.7 1895.8 1154.2 1897.8 1164.7 1899.3 1175.2 1900.3 1185.7 1901.1 1196.2 1901.7 1206.7 1902.1 1217.2 1902.3 1227.7 1902.6 1238.2 1902.7 1248.7 1902.8 1259.3 1902.9 1269.8 1903 1280.3 1903 1290.8 1903 1301.3 1903.1 1311.8 1903.1 1322.3 1903.1 1332.8 1903.1 1343.3 1903.1" fill="none" stroke="#993300" stroke-width="4.6" stroke-linejoin="round"/>
<path d="M870.5 1880.3l8.4 8.4l-8.4 8.4l-8.4 -8.4zM881 1872.9l8.4 8.4l-8.4 8.4l-8.4 -8.4zM891.5 1862.3l8.4 8.4l-8.4 8.4l-8.4 -8.4zM902.1 1847.1l8.4 8.4l-8.4 8.4l-8.4 -8.4zM912.6 1825.2l8.4 8.4l-8.4 8.4l-8.4 -8.4zM923.1 1794.2l8.4 8.4l-8.4 8.4l-8.4 -8.4zM933.6 1750.8l8.4 8.4l-8.4 8.4l-8.4 -8.4zM944.1 1691.9l8.4 8.4l-8.4 8.4l-8.4 -8.4zM954.6 1616.8l8.4 8.4l-8.4 8.4l-8.4 -8.4zM965.1 1532.5l8.4 8.4l-8.4 8.4l-8.4 -8.4zM975.6 1460.2l8.4 8.4l-8.4 8.4l-8.4 -8.4zM986.1 1430.7l8.4 8.4l-8.4 8.4l-8.4 -8.4zM996.6 1451.7l8.4 8.4l-8.4 8.4l-8.4 -8.4zM1007.1 1511.2l8.4 8.4l-8.4 8.4l-8.4 -8.4zM1017.6 1585.4l8.4 8.4l-8.4 8.4l-8.4 -8.4zM1028.1 1656.5l8.4 8.4l-8.4 8.4l-8.4 -8.4zM1038.6 1716.3l8.4 8.4l-8.4 8.4l-8.4 -8.4zM1049.1 1763.2l8.4 8.4l-8.4 8.4l-8.4 -8.4zM1059.6 1798.5l8.4 8.4l-8.4 8.4l-8.4 -8.4zM1070.1 1824.7l8.4 8.4l-8.4 8.4l-8.4 -8.4zM1080.7 1843.9l8.4 8.4l-8.4 8.4l-8.4 -8.4zM1091.2 1857.9l8.4 8.4l-8.4 8.4l-8.4 -8.4zM1101.7 1868l8.4 8.4l-8.4 8.4l-8.4 -8.4zM1112.2 1875.4l8.4 8.4l-8.4 8.4l-8.4 -8.4zM1122.7 1880.7l8.4 8.4l-8.4 8.4l-8.4 -8.4zM1133.2 1884.6l8.4 8.4l-8.4 8.4l-8.4 -8.4zM1143.7 1887.4l8.4 8.4l-8.4 8.4l-8.4 -8.4zM1154.2 1889.4l8.4 8.4l-8.4 8.4l-8.4 -8.4zM1164.7 1890.9l8.4 8.4l-8.4 8.4l-8.4 -8.4zM1175.2 1891.9l8.4 8.4l-8.4 8.4l-8.4 -8.4zM1185.7 1892.7l8.4 8.4l-8.4 8.4l-8.4 -8.4zM1196.2 1893.3l8.4 8.4l-8.4 8.4l-8.4 -8.4zM1206.7 1893.7l8.4 8.4l-8.4 8.4l-8.4 -8.4zM1217.2 1893.9l8.4 8.4l-8.4 8.4l-8.4 -8.4zM1227.7 1894.2l8.4 8.4l-8.4 8.4l-8.4 -8.4zM1238.2 1894.3l8.4 8.4l-8.4 8.4l-8.4 -8.4zM1248.7 1894.4l8.4 8.4l-8.4 8.4l-8.4 -8.4zM1259.3 1894.5l8.4 8.4l-8.4 8.4l-8.4 -8.4zM1269.8 1894.6l8.4 8.4l-8.4 8.4l-8.4 -8.4zM1280.3 1894.6l8.4 8.4l-8.4 8.4l-8.4 -8.4zM1290.8 1894.6l8.4 8.4l-8.4 8.4l-8.4 -8.4zM1301.3 1894.7l8.4 8.4l-8.4 8.4l-8.4 -8.4zM1311.8 1894.7l8.4 8.4l-8.4 8.4l-8.4 -8.4zM1322.3 1894.7l8.4 8.4l-8.4 8.4l-8.4 -8.4zM1332.8 1894.7l8.4 8.4l-8.4 8.4l-8.4 -8.4zM1343.3 1894.7l8.4 8.4l-8.4 8.4l-8.4 -8.4z" fill="#993300"/>
<polyline points="881 1905.4 891.5 1904.5 902.1 1902.9 912.6 1900 923.1 1894.8 933.6 1885.4 944.1 1869 954.6 1841.8 965.1 1799.7 975.6 1741.3 986.1 1671.6 996.6 1598.1 1007.1 1546.6 1017.6 1512.9 1028.1 1491 1038.6 1476.5 1049.1 1466.5 1059.6 1459.5 1070.1 1454.4 1080.7 1450.6 1091.2 1447.8 1101.7 1445.5 1112.2 1443.8 1122.7 1442.5 1133.2 1441.4 1143.7 1440.5 1154.2 1439.8 1164.7 1439.2 1175.2 1438.8 1185.7 1438.4 1196.2 1438.1 1206.7 1437.9 1217.2 1437.7 1227.7 1437.5 1238.2 1437.4 1248.7 1437.3 1259.3 1437.2 1269.8 1437.1 1280.3 1437.1 1290.8 1437 1301.3 1437 1311.8 1436.9 1322.3 1436.9 1332.8 1436.9 1343.3 1436.9" fill="none" stroke="#993300" stroke-width="4.6" stroke-linejoin="round"/>
<path d="M881 1897l8.4 8.4l-8.4 8.4l-8.4 -8.4zM891.5 1896.1l8.4 8.4l-8.4 8.4l-8.4 -8.4zM902.1 1894.5l8.4 8.4l-8.4 8.4l-8.4 -8.4zM912.6 1891.6l8.4 8.4l-8.4 8.4l-8.4 -8.4zM923.1 1886.4l8.4 8.4l-8.4 8.4l-8.4 -8.4zM933.6 1877l8.4 8.4l-8.4 8.4l-8.4 -8.4zM944.1 1860.6l8.4 8.4l-8.4 8.4l-8.4 -8.4zM954.6 1833.4l8.4 8.4l-8.4 8.4l-8.4 -8.4zM965.1 1791.3l8.4 8.4l-8.4 8.4l-8.4 -8.4zM975.6 1732.9l8.4 8.4l-8.4 8.4l-8.4 -8.4zM986.1 1663.2l8.4 8.4l-8.4 8.4l-8.4 -8.4zM996.6 1589.7l8.4 8.4l-8.4 8.4l-8.4 -8.4zM1007.1 1538.2l8.4 8.4l-8.4 8.4l-8.4 -8.4zM1017.6 1504.5l8.4 8.4l-8.4 8.4l-8.4 -8.4zM1028.1 1482.6l8.4 8.4l-8.4 8.4l-8.4 -8.4zM1038.6 1468.1l8.4 8.4l-8.4 8.4l-8.4 -8.4zM1049.1 1458.1l8.4 8.4l-8.4 8.4l-8.4 -8.4zM1059.6 1451.1l8.4 8.4l-8.4 8.4l-8.4 -8.4zM1070.1 1446l8.4 8.4l-8.4 8.4l-8.4 -8.4zM1080.7 1442.2l8.4 8.4l-8.4 8.4l-8.4 -8.4zM1091.2 1439.4l8.4 8.4l-8.4 8.4l-8.4 -8.4zM1101.7 1437.1l8.4 8.4l-8.4 8.4l-8.4 -8.4zM1112.2 1435.4l8.4 8.4l-8.4 8.4l-8.4 -8.4zM1122.7 1434.1l8.4 8.4l-8.4 8.4l-8.4 -8.4zM1133.2 1433l8.4 8.4l-8.4 8.4l-8.4 -8.4zM1143.7 1432.1l8.4 8.4l-8.4 8.4l-8.4 -8.4zM1154.2 1431.4l8.4 8.4l-8.4 8.4l-8.4 -8.4zM1164.7 1430.8l8.4 8.4l-8.4 8.4l-8.4 -8.4zM1175.2 1430.4l8.4 8.4l-8.4 8.4l-8.4 -8.4zM1185.7 1430l8.4 8.4l-8.4 8.4l-8.4 -8.4zM1196.2 1429.7l8.4 8.4l-8.4 8.4l-8.4 -8.4zM1206.7 1429.5l8.4 8.4l-8.4 8.4l-8.4 -8.4zM1217.2 1429.3l8.4 8.4l-8.4 8.4l-8.4 -8.4zM1227.7 1429.1l8.4 8.4l-8.4 8.4l-8.4 -8.4zM1238.2 1429l8.4 8.4l-8.4 8.4l-8.4 -8.4zM1248.7 1428.9l8.4 8.4l-8.4 8.4l-8.4 -8.4zM1259.3 1428.8l8.4 8.4l-8.4 8.4l-8.4 -8.4zM1269.8 1428.7l8.4 8.4l-8.4 8.4l-8.4 -8.4zM1280.3 1428.7l8.4 8.4l-8.4 8.4l-8.4 -8.4zM1290.8 1428.6l8.4 8.4l-8.4 8.4l-8.4 -8.4zM1301.3 1428.6l8.4 8.4l-8.4 8.4l-8.4 -8.4zM1311.8 1428.5l8.4 8.4l-8.4 8.4l-8.4 -8.4zM1322.3 1428.5l8.4 8.4l-8.4 8.4l-8.4 -8.4zM1332.8 1428.5l8.4 8.4l-8.4 8.4l-8.4 -8.4zM1343.3 1428.5l8.4 8.4l-8.4 8.4l-8.4 -8.4z" fill="#993300"/>
<text x="781.8" y="1834" font-size="36" textLength="460" lengthAdjust="spacingAndGlyphs" transform="rotate(-90 781.8 1834)">Normailized electric moduli</text>
<text x="927.4" y="1407.3" font-size="33" textLength="119" lengthAdjust="spacingAndGlyphs">M&#8243;/M&#8243;<tspan font-size="24" dy="7">max</tspan></text>
<text x="1244.4" y="1389.3" font-size="33" textLength="83.3" lengthAdjust="spacingAndGlyphs">M'/M'<tspan font-size="24" dy="7">&#8734;</tspan></text>
<text x="1087.7" y="1540.5" font-size="33" font-weight="bold" textLength="34.5" lengthAdjust="spacingAndGlyphs">(d)</text>
<line x1="1225.6" y1="1526.7" x2="1298.4" y2="1526.7" stroke="#000080" stroke-width="7.5"/>
<rect x="1255" y="1519.7" width="14" height="14" fill="#003366"/>
<text x="1305.4" y="1536" font-size="35" textLength="28" lengthAdjust="spacingAndGlyphs">C<tspan font-size="23" dy="7">2</tspan></text>
<line x1="1225.6" y1="1584.7" x2="1298.4" y2="1584.7" stroke="#FF00FF" stroke-width="7.5"/>
<path d="M1262 1575.7L1265.5 1584.7L1262 1593.7L1258.5 1584.7Z" fill="#FF00FF"/>
<text x="1305.4" y="1593.5" font-size="35" textLength="28" lengthAdjust="spacingAndGlyphs">C<tspan font-size="23" dy="7">4</tspan></text>
<line x1="1225.6" y1="1642.7" x2="1298.4" y2="1642.7" stroke="#FF0000" stroke-width="7.5"/>
<path d="M1262 1633.7L1265.5 1642.7L1262 1651.7L1258.5 1642.7Z" fill="#FF0000"/>
<text x="1305.4" y="1650" font-size="35" textLength="28" lengthAdjust="spacingAndGlyphs">C<tspan font-size="23" dy="7">6</tspan></text>
<line x1="1225.6" y1="1700.7" x2="1298.4" y2="1700.7" stroke="#008000" stroke-width="7.5"/>
<path d="M1262 1691.7L1265.5 1700.7L1262 1709.7L1258.5 1700.7Z" fill="#008000"/>
<text x="1305.4" y="1702" font-size="35" textLength="28" lengthAdjust="spacingAndGlyphs">C<tspan font-size="23" dy="7">8</tspan></text>
<line x1="1225.6" y1="1758.7" x2="1298.4" y2="1758.7" stroke="#993300" stroke-width="7.5"/>
<path d="M1262 1749.7L1265.5 1758.7L1262 1767.7L1258.5 1758.7Z" fill="#993300"/>
<text x="1305.4" y="1759.2" font-size="35" textLength="40" lengthAdjust="spacingAndGlyphs">C<tspan font-size="23" dy="7">10</tspan></text>
<text x="1074" y="2022.7" font-size="41" textLength="158.4" lengthAdjust="spacingAndGlyphs">log(&#969;/&#969;<tspan font-size="28" dy="8">max</tspan><tspan dy="-8">)</tspan></text>
<line x1="415.6" y1="2101.9" x2="415.6" y2="2621.5" stroke="#000" stroke-width="2.3"/>
<line x1="1152.2" y1="2101.9" x2="1152.2" y2="2621.5" stroke="#000" stroke-width="2.3"/>
<line x1="414.6" y1="2620.4" x2="1153.2" y2="2620.4" stroke="#000" stroke-width="2.3"/>
<line x1="415.6" y1="2158.3" x2="422.6" y2="2158.3" stroke="#000" stroke-width="2.3"/>
<line x1="1145.2" y1="2158.3" x2="1152.2" y2="2158.3" stroke="#000" stroke-width="2.3"/>
<text x="391" y="2166.8" font-size="25" text-anchor="end" textLength="44.5" lengthAdjust="spacingAndGlyphs">0.04</text>
<text x="1174" y="2166.8" font-size="25" textLength="45" lengthAdjust="spacingAndGlyphs">0.04</text>
<line x1="415.6" y1="2273.8" x2="422.6" y2="2273.8" stroke="#000" stroke-width="2.3"/>
<line x1="1145.2" y1="2273.8" x2="1152.2" y2="2273.8" stroke="#000" stroke-width="2.3"/>
<text x="391" y="2282.3" font-size="25" text-anchor="end" textLength="44.5" lengthAdjust="spacingAndGlyphs">0.03</text>
<text x="1174" y="2282.3" font-size="25" textLength="45" lengthAdjust="spacingAndGlyphs">0.03</text>
<line x1="415.6" y1="2389.3" x2="422.6" y2="2389.3" stroke="#000" stroke-width="2.3"/>
<line x1="1145.2" y1="2389.3" x2="1152.2" y2="2389.3" stroke="#000" stroke-width="2.3"/>
<text x="391" y="2397.8" font-size="25" text-anchor="end" textLength="44.5" lengthAdjust="spacingAndGlyphs">0.02</text>
<text x="1174" y="2397.8" font-size="25" textLength="45" lengthAdjust="spacingAndGlyphs">0.02</text>
<line x1="415.6" y1="2504.8" x2="422.6" y2="2504.8" stroke="#000" stroke-width="2.3"/>
<line x1="1145.2" y1="2504.8" x2="1152.2" y2="2504.8" stroke="#000" stroke-width="2.3"/>
<text x="391" y="2513.3" font-size="25" text-anchor="end" textLength="44.5" lengthAdjust="spacingAndGlyphs">0.01</text>
<text x="1174" y="2513.3" font-size="25" textLength="45" lengthAdjust="spacingAndGlyphs">0.01</text>
<line x1="415.6" y1="2620.3" x2="422.6" y2="2620.3" stroke="#000" stroke-width="2.3"/>
<line x1="1145.2" y1="2620.3" x2="1152.2" y2="2620.3" stroke="#000" stroke-width="2.3"/>
<text x="391" y="2628.8" font-size="25" text-anchor="end" textLength="44.5" lengthAdjust="spacingAndGlyphs">0.00</text>
<text x="1174" y="2628.8" font-size="25" textLength="45" lengthAdjust="spacingAndGlyphs">0.00</text>
<text x="404.5" y="2658.5" font-size="27" letter-spacing="1">10<tspan font-size="15" dy="-20">-1</tspan></text>
<text x="582.5" y="2658.5" font-size="27" letter-spacing="1">10<tspan font-size="15" dy="-20">0</tspan></text>
<text x="765" y="2658.5" font-size="27" letter-spacing="1">10<tspan font-size="15" dy="-20">1</tspan></text>
<text x="950.3" y="2658.5" font-size="27" letter-spacing="1">10<tspan font-size="15" dy="-20">2</tspan></text>
<text x="1132" y="2658.5" font-size="27" letter-spacing="1">10<tspan font-size="15" dy="-20">3</tspan></text>
<line x1="599.8" y1="2620.4" x2="599.8" y2="2613.5" stroke="#000" stroke-width="2.3"/>
<line x1="783.9" y1="2620.4" x2="783.9" y2="2613.5" stroke="#000" stroke-width="2.3"/>
<line x1="968" y1="2620.4" x2="968" y2="2613.5" stroke="#000" stroke-width="2.3"/>
<polyline points="415.6 2616.1 423 2615.3 430.3 2614.5 437.7 2613.5 445.1 2612.3 452.4 2610.9 459.8 2609.3 467.2 2607.4 474.5 2605.3 481.9 2602.7 489.3 2599.8 496.6 2596.4 504 2592.5 511.4 2588 518.7 2582.8 526.1 2576.9 533.5 2570.1 540.8 2562.5 548.2 2553.9 555.6 2544.2 562.9 2533.4 570.3 2521.5 577.7 2508.5 585 2494.3 592.4 2479 599.8 2462.7 607.1 2445.6 614.5 2427.7 621.8 2409.3 629.2 2390.6 636.6 2372.1 643.9 2354.3 651.3 2337.5 658.7 2321.8 666 2307.2 673.4 2293.7 680.8 2281.3 688.1 2270 695.5 2259.7 702.9 2250.3 710.2 2241.8 717.6 2234.1 725 2227.2 732.3 2220.9 739.7 2215.2 747.1 2210.1 754.4 2205.4 761.8 2201.2 769.2 2197.4 776.5 2194 783.9 2190.8 791.3 2188 798.6 2185.4 806 2183 813.4 2180.9 820.7 2178.9 828.1 2177.1 835.5 2175.5 842.8 2173.9 850.2 2172.5 857.6 2171.3 864.9 2170.1 872.3 2169 879.7 2168 887 2167 894.4 2166.2 901.8 2165.3 909.1 2164.6 916.5 2163.9 923.9 2163.2 931.2 2162.6 938.6 2162.1 946 2161.5 953.3 2161 960.7 2160.5 968.1 2160.1 975.4 2159.7 982.8 2159.3 990.1 2158.9 997.5 2158.6 1004.9 2158.3 1012.2 2158 1019.6 2157.7 1027 2157.4 1034.3 2157.1 1041.7 2156.9 1049.1 2156.6 1056.4 2156.4 1063.8 2156.2 1071.2 2156 1078.5 2155.8 1085.9 2155.6 1093.3 2155.5 1100.6 2155.3 1108 2155.1 1115.4 2155 1122.7 2154.9 1130.1 2154.7 1137.5 2154.6 1144.8 2154.5 1152.2 2154.3" fill="none" stroke="#8B0000" stroke-width="4.5" stroke-linejoin="round"/>
<polyline points="415.6 2581.8 423 2578.5 430.3 2574.9 437.7 2571.1 445.1 2566.9 452.4 2562.4 459.8 2557.6 467.2 2552.4 474.5 2546.9 481.9 2540.9 489.3 2534.6 496.6 2528 504 2520.9 511.4 2513.6 518.7 2505.9 526.1 2498 533.5 2489.8 540.8 2481.6 548.2 2473.4 555.6 2465.3 562.9 2457.5 570.3 2450.1 577.7 2443.3 585 2437.3 592.4 2432.2 599.8 2428.3 607.1 2425.6 614.5 2424.2 621.8 2424.2 629.2 2425.3 636.6 2427.6 643.9 2430.9 651.3 2435.2 658.7 2440.4 666 2446.2 673.4 2452.7 680.8 2459.6 688.1 2466.8 695.5 2474.2 702.9 2481.7 710.2 2489.3 717.6 2496.7 725 2504 732.3 2511.1 739.7 2517.9 747.1 2524.5 754.4 2530.8 761.8 2536.8 769.2 2542.4 776.5 2547.7 783.9 2552.8 791.3 2557.5 798.6 2561.9 806 2566.1 813.4 2570 820.7 2573.6 828.1 2576.9 835.5 2580.1 842.8 2583 850.2 2585.7 857.6 2588.3 864.9 2590.6 872.3 2592.8 879.7 2594.8 887 2596.7 894.4 2598.4 901.8 2600 909.1 2601.5 916.5 2602.9 923.9 2604.2 931.2 2605.4 938.6 2606.5 946 2607.5 953.3 2608.5 960.7 2609.4 968.1 2610.2 975.4 2610.9 982.8 2611.6 990.1 2612.3 997.5 2612.9 1004.9 2613.4 1012.2 2614 1019.6 2614.4 1027 2614.9 1034.3 2615.3 1041.7 2615.7 1049.1 2616 1056.4 2616.3 1063.8 2616.6 1071.2 2616.9 1078.5 2617.2 1085.9 2617.4 1093.3 2617.6 1100.6 2617.8 1108 2618 1115.4 2618.2 1122.7 2618.4 1130.1 2618.5 1137.5 2618.7 1144.8 2618.8 1152.2 2618.9" fill="none" stroke="#8B0000" stroke-width="4.5" stroke-linejoin="round"/>
<path d="M435 2613.1a5.5 5.5 0 1 0 11 0a5.5 5.5 0 1 0 -11 0M467.2 2605.8a5.5 5.5 0 1 0 11 0a5.5 5.5 0 1 0 -11 0M499.4 2592a5.5 5.5 0 1 0 11 0a5.5 5.5 0 1 0 -11 0M531.6 2566.4a5.5 5.5 0 1 0 11 0a5.5 5.5 0 1 0 -11 0M563.9 2523.1a5.5 5.5 0 1 0 11 0a5.5 5.5 0 1 0 -11 0M596.1 2458.5a5.5 5.5 0 1 0 11 0a5.5 5.5 0 1 0 -11 0M628.3 2379a5.5 5.5 0 1 0 11 0a5.5 5.5 0 1 0 -11 0M660.5 2307.2a5.5 5.5 0 1 0 11 0a5.5 5.5 0 1 0 -11 0M692.8 2256a5.5 5.5 0 1 0 11 0a5.5 5.5 0 1 0 -11 0M725 2222.4a5.5 5.5 0 1 0 11 0a5.5 5.5 0 1 0 -11 0M757.2 2200.7a5.5 5.5 0 1 0 11 0a5.5 5.5 0 1 0 -11 0M789.4 2186.7a5.5 5.5 0 1 0 11 0a5.5 5.5 0 1 0 -11 0M821.7 2177.3a5.5 5.5 0 1 0 11 0a5.5 5.5 0 1 0 -11 0M853.9 2171a5.5 5.5 0 1 0 11 0a5.5 5.5 0 1 0 -11 0M886.1 2166.5a5.5 5.5 0 1 0 11 0a5.5 5.5 0 1 0 -11 0M918.4 2163.2a5.5 5.5 0 1 0 11 0a5.5 5.5 0 1 0 -11 0M950.6 2160.8a5.5 5.5 0 1 0 11 0a5.5 5.5 0 1 0 -11 0M982.8 2159a5.5 5.5 0 1 0 11 0a5.5 5.5 0 1 0 -11 0M1015 2157.6a5.5 5.5 0 1 0 11 0a5.5 5.5 0 1 0 -11 0M1047.3 2156.5a5.5 5.5 0 1 0 11 0a5.5 5.5 0 1 0 -11 0M1079.5 2155.7a5.5 5.5 0 1 0 11 0a5.5 5.5 0 1 0 -11 0M1111.7 2155a5.5 5.5 0 1 0 11 0a5.5 5.5 0 1 0 -11 0M1143.9 2154.4a5.5 5.5 0 1 0 11 0a5.5 5.5 0 1 0 -11 0" fill="#8B0000"/>
<path d="M435 2569.5a5.5 5.5 0 1 0 11 0a5.5 5.5 0 1 0 -11 0M467.2 2548.3a5.5 5.5 0 1 0 11 0a5.5 5.5 0 1 0 -11 0M499.4 2520a5.5 5.5 0 1 0 11 0a5.5 5.5 0 1 0 -11 0M531.6 2485.7a5.5 5.5 0 1 0 11 0a5.5 5.5 0 1 0 -11 0M563.9 2451a5.5 5.5 0 1 0 11 0a5.5 5.5 0 1 0 -11 0M596.1 2427.5a5.5 5.5 0 1 0 11 0a5.5 5.5 0 1 0 -11 0M628.3 2426.6a5.5 5.5 0 1 0 11 0a5.5 5.5 0 1 0 -11 0M660.5 2446.2a5.5 5.5 0 1 0 11 0a5.5 5.5 0 1 0 -11 0M692.8 2477a5.5 5.5 0 1 0 11 0a5.5 5.5 0 1 0 -11 0M725 2509.3a5.5 5.5 0 1 0 11 0a5.5 5.5 0 1 0 -11 0M757.2 2537.5a5.5 5.5 0 1 0 11 0a5.5 5.5 0 1 0 -11 0M789.4 2559.8a5.5 5.5 0 1 0 11 0a5.5 5.5 0 1 0 -11 0M821.7 2576.5a5.5 5.5 0 1 0 11 0a5.5 5.5 0 1 0 -11 0M853.9 2588.9a5.5 5.5 0 1 0 11 0a5.5 5.5 0 1 0 -11 0M886.1 2597.8a5.5 5.5 0 1 0 11 0a5.5 5.5 0 1 0 -11 0M918.4 2604.2a5.5 5.5 0 1 0 11 0a5.5 5.5 0 1 0 -11 0M950.6 2608.8a5.5 5.5 0 1 0 11 0a5.5 5.5 0 1 0 -11 0M982.8 2612.1a5.5 5.5 0 1 0 11 0a5.5 5.5 0 1 0 -11 0M1015 2614.5a5.5 5.5 0 1 0 11 0a5.5 5.5 0 1 0 -11 0M1047.3 2616.2a5.5 5.5 0 1 0 11 0a5.5 5.5 0 1 0 -11 0M1079.5 2617.4a5.5 5.5 0 1 0 11 0a5.5 5.5 0 1 0 -11 0M1111.7 2618.2a5.5 5.5 0 1 0 11 0a5.5 5.5 0 1 0 -11 0M1143.9 2618.9a5.5 5.5 0 1 0 11 0a5.5 5.5 0 1 0 -11 0" fill="#8B0000"/>
<polyline points="415.6 2616.7 423 2616.1 430.3 2615.3 437.7 2614.5 445.1 2613.5 452.4 2612.3 459.8 2610.9 467.2 2609.3 474.5 2607.4 481.9 2605.2 489.3 2602.7 496.6 2599.8 504 2596.4 511.4 2592.5 518.7 2588 526.1 2582.8 533.5 2576.9 540.8 2570.2 548.2 2562.7 555.6 2554.1 562.9 2544.5 570.3 2533.9 577.7 2522.2 585 2509.3 592.4 2495.4 599.8 2480.4 607.1 2464.5 614.5 2447.8 621.8 2430.4 629.2 2412.6 636.6 2394.6 643.9 2376.9 651.3 2360 658.7 2344.1 666 2329.2 673.4 2315.4 680.8 2302.7 688.1 2291 695.5 2280.3 702.9 2270.6 710.2 2261.8 717.6 2253.9 725 2246.6 732.3 2240.1 739.7 2234.2 747.1 2228.9 754.4 2224.1 761.8 2219.7 769.2 2215.8 776.5 2212.2 783.9 2209 791.3 2206 798.6 2203.3 806 2200.9 813.4 2198.7 820.7 2196.6 828.1 2194.8 835.5 2193.1 842.8 2191.5 850.2 2190.1 857.6 2188.8 864.9 2187.6 872.3 2186.4 879.7 2185.4 887 2184.4 894.4 2183.6 901.8 2182.7 909.1 2182 916.5 2181.3 923.9 2180.6 931.2 2180 938.6 2179.4 946 2178.9 953.3 2178.3 960.7 2177.9 968.1 2177.4 975.4 2177 982.8 2176.6 990.1 2176.2 997.5 2175.9 1004.9 2175.6 1012.2 2175.3 1019.6 2175 1027 2174.7 1034.3 2174.4 1041.7 2174.2 1049.1 2173.9 1056.4 2173.7 1063.8 2173.5 1071.2 2173.3 1078.5 2173.1 1085.9 2172.9 1093.3 2172.8 1100.6 2172.6 1108 2172.4 1115.4 2172.3 1122.7 2172.2 1130.1 2172 1137.5 2171.9 1144.8 2171.8 1152.2 2171.7" fill="none" stroke="#FF0000" stroke-width="4.5" stroke-linejoin="round"/>
<polyline points="415.6 2589.2 423 2586.4 430.3 2583.4 437.7 2580.1 445.1 2576.6 452.4 2572.8 459.8 2568.7 467.2 2564.2 474.5 2559.4 481.9 2554.2 489.3 2548.6 496.6 2542.7 504 2536.3 511.4 2529.6 518.7 2522.4 526.1 2514.9 533.5 2507.1 540.8 2498.9 548.2 2490.6 555.6 2482.1 562.9 2473.5 570.3 2465.1 577.7 2456.9 585 2449.2 592.4 2442.1 599.8 2435.7 607.1 2430.4 614.5 2426.2 621.8 2423.4 629.2 2421.9 636.6 2421.9 643.9 2423 651.3 2425.3 658.7 2428.6 666 2432.8 673.4 2437.9 680.8 2443.7 688.1 2450.2 695.5 2457 702.9 2464.2 710.2 2471.7 717.6 2479.2 725 2486.7 732.3 2494.2 739.7 2501.5 747.1 2508.7 754.4 2515.6 761.8 2522.2 769.2 2528.5 776.5 2534.6 783.9 2540.3 791.3 2545.7 798.6 2550.8 806 2555.6 813.4 2560.1 820.7 2564.4 828.1 2568.3 835.5 2572 842.8 2575.4 850.2 2578.7 857.6 2581.7 864.9 2584.4 872.3 2587 879.7 2589.4 887 2591.7 894.4 2593.8 901.8 2595.7 909.1 2597.5 916.5 2599.2 923.9 2600.7 931.2 2602.1 938.6 2603.5 946 2604.7 953.3 2605.9 960.7 2606.9 968.1 2607.9 975.4 2608.8 982.8 2609.7 990.1 2610.4 997.5 2611.2 1004.9 2611.8 1012.2 2612.5 1019.6 2613.1 1027 2613.6 1034.3 2614.1 1041.7 2614.5 1049.1 2615 1056.4 2615.4 1063.8 2615.7 1071.2 2616.1 1078.5 2616.4 1085.9 2616.7 1093.3 2617 1100.6 2617.2 1108 2617.4 1115.4 2617.7 1122.7 2617.9 1130.1 2618 1137.5 2618.2 1144.8 2618.4 1152.2 2618.5" fill="none" stroke="#FF0000" stroke-width="4.5" stroke-linejoin="round"/>
<path d="M440.5 2607l6.5 12.3h-13zM472.7 2600.8l6.5 12.3h-13zM504.9 2588.8l6.5 12.3h-13zM537.1 2566.6l6.5 12.3h-13zM569.4 2528.1l6.5 12.3h-13zM601.6 2469.3l6.5 12.3h-13zM633.8 2394.2l6.5 12.3h-13zM666 2322.1l6.5 12.3h-13zM698.3 2269.4l6.5 12.3h-13zM730.5 2234.5l6.5 12.3h-13zM762.7 2212l6.5 12.3h-13zM794.9 2197.5l6.5 12.3h-13zM827.2 2187.9l6.5 12.3h-13zM859.4 2181.3l6.5 12.3h-13zM891.6 2176.7l6.5 12.3h-13zM923.9 2173.4l6.5 12.3h-13zM956.1 2171l6.5 12.3h-13zM988.3 2169.2l6.5 12.3h-13zM1020.5 2167.8l6.5 12.3h-13zM1052.8 2166.7l6.5 12.3h-13zM1085 2165.8l6.5 12.3h-13zM1117.2 2165.1l6.5 12.3h-13zM1149.4 2164.5l6.5 12.3h-13z" fill="#FF0000"/>
<path d="M440.5 2571.7l6.5 12.3h-13zM472.7 2553.5l6.5 12.3h-13zM504.9 2528.4l6.5 12.3h-13zM537.1 2495.9l6.5 12.3h-13zM569.4 2459l6.5 12.3h-13zM601.6 2427.2l6.5 12.3h-13zM633.8 2414.6l6.5 12.3h-13zM666 2425.7l6.5 12.3h-13zM698.3 2452.6l6.5 12.3h-13zM730.5 2485.2l6.5 12.3h-13zM762.7 2515.8l6.5 12.3h-13zM794.9 2541.1l6.5 12.3h-13zM827.2 2560.7l6.5 12.3h-13zM859.4 2575.2l6.5 12.3h-13zM891.6 2585.9l6.5 12.3h-13zM923.9 2593.6l6.5 12.3h-13zM956.1 2599.1l6.5 12.3h-13zM988.3 2603.1l6.5 12.3h-13zM1020.5 2606l6.5 12.3h-13zM1052.8 2608l6.5 12.3h-13zM1085 2609.5l6.5 12.3h-13zM1117.2 2610.6l6.5 12.3h-13zM1149.4 2611.3l6.5 12.3h-13z" fill="#FF0000"/>
<polyline points="415.6 2617 423 2616.5 430.3 2615.8 437.7 2615 445.1 2614.1 452.4 2613 459.8 2611.7 467.2 2610.3 474.5 2608.5 481.9 2606.5 489.3 2604.2 496.6 2601.5 504 2598.4 511.4 2594.8 518.7 2590.7 526.1 2585.9 533.5 2580.5 540.8 2574.3 548.2 2567.3 555.6 2559.3 562.9 2550.4 570.3 2540.4 577.7 2529.3 585 2517.2 592.4 2504 599.8 2489.7 607.1 2474.4 614.5 2458.3 621.8 2441.5 629.2 2424.1 636.6 2406.4 643.9 2388.7 651.3 2371.6 658.7 2355.4 666 2340.2 673.4 2326 680.8 2312.9 688.1 2300.9 695.5 2289.8 702.9 2279.8 710.2 2270.7 717.6 2262.4 725 2254.9 732.3 2248.1 739.7 2242 747.1 2236.5 754.4 2231.5 761.8 2226.9 769.2 2222.8 776.5 2219.1 783.9 2215.8 791.3 2212.7 798.6 2210 806 2207.4 813.4 2205.1 820.7 2203 828.1 2201.1 835.5 2199.4 842.8 2197.8 850.2 2196.3 857.6 2194.9 864.9 2193.7 872.3 2192.5 879.7 2191.5 887 2190.5 894.4 2189.6 901.8 2188.7 909.1 2187.9 916.5 2187.2 923.9 2186.5 931.2 2185.9 938.6 2185.3 946 2184.8 953.3 2184.2 960.7 2183.8 968.1 2183.3 975.4 2182.9 982.8 2182.5 990.1 2182.1 997.5 2181.8 1004.9 2181.4 1012.2 2181.1 1019.6 2180.8 1027 2180.5 1034.3 2180.3 1041.7 2180 1049.1 2179.8 1056.4 2179.5 1063.8 2179.3 1071.2 2179.1 1078.5 2178.9 1085.9 2178.8 1093.3 2178.6 1100.6 2178.4 1108 2178.3 1115.4 2178.1 1122.7 2178 1130.1 2177.8 1137.5 2177.7 1144.8 2177.6 1152.2 2177.4" fill="none" stroke="#FF00FF" stroke-width="4.5" stroke-linejoin="round"/>
<polyline points="415.6 2588.2 423 2585.4 430.3 2582.3 437.7 2579.1 445.1 2575.5 452.4 2571.7 459.8 2567.6 467.2 2563.1 474.5 2558.3 481.9 2553.1 489.3 2547.6 496.6 2541.7 504 2535.3 511.4 2528.6 518.7 2521.5 526.1 2513.9 533.5 2506 540.8 2497.8 548.2 2489.3 555.6 2480.6 562.9 2471.8 570.3 2463 577.7 2454.3 585 2446 592.4 2438.1 599.8 2430.8 607.1 2424.4 614.5 2419 621.8 2414.7 629.2 2411.8 636.6 2410.4 643.9 2410.3 651.3 2411.5 658.7 2413.9 666 2417.4 673.4 2421.9 680.8 2427.3 688.1 2433.5 695.5 2440.3 702.9 2447.5 710.2 2455.2 717.6 2463 725 2471 732.3 2479 739.7 2486.9 747.1 2494.6 754.4 2502.2 761.8 2509.5 769.2 2516.5 776.5 2523.2 783.9 2529.6 791.3 2535.6 798.6 2541.4 806 2546.8 813.4 2551.9 820.7 2556.6 828.1 2561.1 835.5 2565.3 842.8 2569.2 850.2 2572.8 857.6 2576.2 864.9 2579.4 872.3 2582.3 879.7 2585.1 887 2587.6 894.4 2590 901.8 2592.2 909.1 2594.3 916.5 2596.2 923.9 2597.9 931.2 2599.6 938.6 2601.1 946 2602.5 953.3 2603.8 960.7 2605 968.1 2606.1 975.4 2607.2 982.8 2608.1 990.1 2609 997.5 2609.9 1004.9 2610.6 1012.2 2611.3 1019.6 2612 1027 2612.6 1034.3 2613.2 1041.7 2613.7 1049.1 2614.2 1056.4 2614.7 1063.8 2615.1 1071.2 2615.5 1078.5 2615.8 1085.9 2616.2 1093.3 2616.5 1100.6 2616.8 1108 2617 1115.4 2617.3 1122.7 2617.5 1130.1 2617.7 1137.5 2617.9 1144.8 2618.1 1152.2 2618.3" fill="none" stroke="#FF00FF" stroke-width="4.5" stroke-linejoin="round"/>
<path d="M440.5 2607.2l7.5 7.5l-7.5 7.5l-7.5 -7.5zM472.7 2601.5l7.5 7.5l-7.5 7.5l-7.5 -7.5zM504.9 2590.5l7.5 7.5l-7.5 7.5l-7.5 -7.5zM537.1 2570l7.5 7.5l-7.5 7.5l-7.5 -7.5zM569.4 2534.2l7.5 7.5l-7.5 7.5l-7.5 -7.5zM601.6 2478.5l7.5 7.5l-7.5 7.5l-7.5 -7.5zM633.8 2405.6l7.5 7.5l-7.5 7.5l-7.5 -7.5zM666 2332.7l7.5 7.5l-7.5 7.5l-7.5 -7.5zM698.3 2278.5l7.5 7.5l-7.5 7.5l-7.5 -7.5zM730.5 2242.2l7.5 7.5l-7.5 7.5l-7.5 -7.5zM762.7 2218.9l7.5 7.5l-7.5 7.5l-7.5 -7.5zM794.9 2203.8l7.5 7.5l-7.5 7.5l-7.5 -7.5zM827.2 2193.9l7.5 7.5l-7.5 7.5l-7.5 -7.5zM859.4 2187.1l7.5 7.5l-7.5 7.5l-7.5 -7.5zM891.6 2182.4l7.5 7.5l-7.5 7.5l-7.5 -7.5zM923.9 2179l7.5 7.5l-7.5 7.5l-7.5 -7.5zM956.1 2176.6l7.5 7.5l-7.5 7.5l-7.5 -7.5zM988.3 2174.7l7.5 7.5l-7.5 7.5l-7.5 -7.5zM1020.5 2173.3l7.5 7.5l-7.5 7.5l-7.5 -7.5zM1052.8 2172.2l7.5 7.5l-7.5 7.5l-7.5 -7.5zM1085 2171.3l7.5 7.5l-7.5 7.5l-7.5 -7.5zM1117.2 2170.6l7.5 7.5l-7.5 7.5l-7.5 -7.5zM1149.4 2170l7.5 7.5l-7.5 7.5l-7.5 -7.5z" fill="#FF00FF"/>
<path d="M440.5 2570.3l7.5 7.5l-7.5 7.5l-7.5 -7.5zM472.7 2552l7.5 7.5l-7.5 7.5l-7.5 -7.5zM504.9 2527l7.5 7.5l-7.5 7.5l-7.5 -7.5zM537.1 2494.5l7.5 7.5l-7.5 7.5l-7.5 -7.5zM569.4 2456.6l7.5 7.5l-7.5 7.5l-7.5 -7.5zM601.6 2421.6l7.5 7.5l-7.5 7.5l-7.5 -7.5zM633.8 2403.3l7.5 7.5l-7.5 7.5l-7.5 -7.5zM666 2409.9l7.5 7.5l-7.5 7.5l-7.5 -7.5zM698.3 2435.4l7.5 7.5l-7.5 7.5l-7.5 -7.5zM730.5 2469.5l7.5 7.5l-7.5 7.5l-7.5 -7.5zM762.7 2502.9l7.5 7.5l-7.5 7.5l-7.5 -7.5zM794.9 2531l7.5 7.5l-7.5 7.5l-7.5 -7.5zM827.2 2553l7.5 7.5l-7.5 7.5l-7.5 -7.5zM859.4 2569.5l7.5 7.5l-7.5 7.5l-7.5 -7.5zM891.6 2581.6l7.5 7.5l-7.5 7.5l-7.5 -7.5zM923.9 2590.4l7.5 7.5l-7.5 7.5l-7.5 -7.5zM956.1 2596.8l7.5 7.5l-7.5 7.5l-7.5 -7.5zM988.3 2601.3l7.5 7.5l-7.5 7.5l-7.5 -7.5zM1020.5 2604.6l7.5 7.5l-7.5 7.5l-7.5 -7.5zM1052.8 2606.9l7.5 7.5l-7.5 7.5l-7.5 -7.5zM1085 2608.6l7.5 7.5l-7.5 7.5l-7.5 -7.5zM1117.2 2609.8l7.5 7.5l-7.5 7.5l-7.5 -7.5zM1149.4 2610.7l7.5 7.5l-7.5 7.5l-7.5 -7.5z" fill="#FF00FF"/>
<polyline points="415.6 2616.8 423 2616.2 430.3 2615.5 437.7 2614.6 445.1 2613.6 452.4 2612.5 459.8 2611.1 467.2 2609.5 474.5 2607.7 481.9 2605.6 489.3 2603.1 496.6 2600.3 504 2596.9 511.4 2593.1 518.7 2588.7 526.1 2583.7 533.5 2577.9 540.8 2571.4 548.2 2564 555.6 2555.6 562.9 2546.3 570.3 2535.9 577.7 2524.4 585 2511.9 592.4 2498.2 599.8 2483.6 607.1 2468.1 614.5 2451.7 621.8 2434.8 629.2 2417.4 636.6 2399.8 643.9 2382.5 651.3 2366 658.7 2350.5 666 2335.9 673.4 2322.4 680.8 2310 688.1 2298.6 695.5 2288.2 702.9 2278.7 710.2 2270.1 717.6 2262.3 725 2255.2 732.3 2248.9 739.7 2243.1 747.1 2237.9 754.4 2233.2 761.8 2228.9 769.2 2225.1 776.5 2221.6 783.9 2218.4 791.3 2215.5 798.6 2212.9 806 2210.5 813.4 2208.4 820.7 2206.4 828.1 2204.6 835.5 2202.9 842.8 2201.4 850.2 2200 857.6 2198.7 864.9 2197.5 872.3 2196.4 879.7 2195.4 887 2194.5 894.4 2193.6 901.8 2192.8 909.1 2192.1 916.5 2191.4 923.9 2190.7 931.2 2190.1 938.6 2189.5 946 2189 953.3 2188.5 960.7 2188.1 968.1 2187.6 975.4 2187.2 982.8 2186.8 990.1 2186.5 997.5 2186.1 1004.9 2185.8 1012.2 2185.5 1019.6 2185.2 1027 2185 1034.3 2184.7 1041.7 2184.5 1049.1 2184.2 1056.4 2184 1063.8 2183.8 1071.2 2183.6 1078.5 2183.4 1085.9 2183.2 1093.3 2183.1 1100.6 2182.9 1108 2182.8 1115.4 2182.6 1122.7 2182.5 1130.1 2182.3 1137.5 2182.2 1144.8 2182.1 1152.2 2182" fill="none" stroke="#800080" stroke-width="4.5" stroke-linejoin="round"/>
<polyline points="415.6 2591.7 423 2589.1 430.3 2586.4 437.7 2583.4 445.1 2580.1 452.4 2576.6 459.8 2572.8 467.2 2568.7 474.5 2564.2 481.9 2559.4 489.3 2554.3 496.6 2548.7 504 2542.8 511.4 2536.6 518.7 2529.9 526.1 2522.9 533.5 2515.5 540.8 2507.8 548.2 2499.9 555.6 2491.8 562.9 2483.6 570.3 2475.5 577.7 2467.5 585 2459.8 592.4 2452.7 599.8 2446.2 607.1 2440.6 614.5 2436 621.8 2432.6 629.2 2430.5 636.6 2429.8 643.9 2430.4 651.3 2432 658.7 2434.7 666 2438.3 673.4 2442.8 680.8 2448.1 688.1 2453.9 695.5 2460.3 702.9 2467.1 710.2 2474.1 717.6 2481.3 725 2488.6 732.3 2495.8 739.7 2502.9 747.1 2509.8 754.4 2516.5 761.8 2523 769.2 2529.3 776.5 2535.2 783.9 2540.8 791.3 2546.2 798.6 2551.2 806 2556 813.4 2560.5 820.7 2564.6 828.1 2568.6 835.5 2572.2 842.8 2575.6 850.2 2578.8 857.6 2581.8 864.9 2584.6 872.3 2587.2 879.7 2589.6 887 2591.8 894.4 2593.9 901.8 2595.8 909.1 2597.6 916.5 2599.2 923.9 2600.8 931.2 2602.2 938.6 2603.5 946 2604.8 953.3 2605.9 960.7 2607 968.1 2607.9 975.4 2608.9 982.8 2609.7 990.1 2610.5 997.5 2611.2 1004.9 2611.9 1012.2 2612.5 1019.6 2613.1 1027 2613.6 1034.3 2614.1 1041.7 2614.6 1049.1 2615 1056.4 2615.4 1063.8 2615.8 1071.2 2616.1 1078.5 2616.4 1085.9 2616.7 1093.3 2617 1100.6 2617.2 1108 2617.5 1115.4 2617.7 1122.7 2617.9 1130.1 2618.1 1137.5 2618.2 1144.8 2618.4 1152.2 2618.5" fill="none" stroke="#800080" stroke-width="4.5" stroke-linejoin="round"/>
<path d="M440.5 2606.8l7.5 7.5l-7.5 7.5l-7.5 -7.5zM472.7 2600.7l7.5 7.5l-7.5 7.5l-7.5 -7.5zM504.9 2589l7.5 7.5l-7.5 7.5l-7.5 -7.5zM537.1 2567.3l7.5 7.5l-7.5 7.5l-7.5 -7.5zM569.4 2529.7l7.5 7.5l-7.5 7.5l-7.5 -7.5zM601.6 2472.3l7.5 7.5l-7.5 7.5l-7.5 -7.5zM633.8 2398.9l7.5 7.5l-7.5 7.5l-7.5 -7.5zM666 2328.4l7.5 7.5l-7.5 7.5l-7.5 -7.5zM698.3 2277l7.5 7.5l-7.5 7.5l-7.5 -7.5zM730.5 2242.9l7.5 7.5l-7.5 7.5l-7.5 -7.5zM762.7 2220.9l7.5 7.5l-7.5 7.5l-7.5 -7.5zM794.9 2206.7l7.5 7.5l-7.5 7.5l-7.5 -7.5zM827.2 2197.3l7.5 7.5l-7.5 7.5l-7.5 -7.5zM859.4 2190.9l7.5 7.5l-7.5 7.5l-7.5 -7.5zM891.6 2186.4l7.5 7.5l-7.5 7.5l-7.5 -7.5zM923.9 2183.2l7.5 7.5l-7.5 7.5l-7.5 -7.5zM956.1 2180.8l7.5 7.5l-7.5 7.5l-7.5 -7.5zM988.3 2179.1l7.5 7.5l-7.5 7.5l-7.5 -7.5zM1020.5 2177.7l7.5 7.5l-7.5 7.5l-7.5 -7.5zM1052.8 2176.6l7.5 7.5l-7.5 7.5l-7.5 -7.5zM1085 2175.8l7.5 7.5l-7.5 7.5l-7.5 -7.5zM1117.2 2175.1l7.5 7.5l-7.5 7.5l-7.5 -7.5zM1149.4 2174.5l7.5 7.5l-7.5 7.5l-7.5 -7.5z" fill="#800080"/>
<path d="M440.5 2574.7l7.5 7.5l-7.5 7.5l-7.5 -7.5zM472.7 2557.9l7.5 7.5l-7.5 7.5l-7.5 -7.5zM504.9 2534.6l7.5 7.5l-7.5 7.5l-7.5 -7.5zM537.1 2504.2l7.5 7.5l-7.5 7.5l-7.5 -7.5zM569.4 2469l7.5 7.5l-7.5 7.5l-7.5 -7.5zM601.6 2437.2l7.5 7.5l-7.5 7.5l-7.5 -7.5zM633.8 2422.4l7.5 7.5l-7.5 7.5l-7.5 -7.5zM666 2430.8l7.5 7.5l-7.5 7.5l-7.5 -7.5zM698.3 2455.3l7.5 7.5l-7.5 7.5l-7.5 -7.5zM730.5 2486.5l7.5 7.5l-7.5 7.5l-7.5 -7.5zM762.7 2516.3l7.5 7.5l-7.5 7.5l-7.5 -7.5zM794.9 2541.2l7.5 7.5l-7.5 7.5l-7.5 -7.5zM827.2 2560.6l7.5 7.5l-7.5 7.5l-7.5 -7.5zM859.4 2575l7.5 7.5l-7.5 7.5l-7.5 -7.5zM891.6 2585.6l7.5 7.5l-7.5 7.5l-7.5 -7.5zM923.9 2593.3l7.5 7.5l-7.5 7.5l-7.5 -7.5zM956.1 2598.8l7.5 7.5l-7.5 7.5l-7.5 -7.5zM988.3 2602.8l7.5 7.5l-7.5 7.5l-7.5 -7.5zM1020.5 2605.6l7.5 7.5l-7.5 7.5l-7.5 -7.5zM1052.8 2607.7l7.5 7.5l-7.5 7.5l-7.5 -7.5zM1085 2609.2l7.5 7.5l-7.5 7.5l-7.5 -7.5zM1117.2 2610.2l7.5 7.5l-7.5 7.5l-7.5 -7.5zM1149.4 2611l7.5 7.5l-7.5 7.5l-7.5 -7.5z" fill="#800080"/>
<polyline points="415.6 2615.5 423 2614.7 430.3 2613.7 437.7 2612.6 445.1 2611.2 452.4 2609.7 459.8 2607.9 467.2 2605.8 474.5 2603.3 481.9 2600.5 489.3 2597.2 496.6 2593.4 504 2589 511.4 2584 518.7 2578.2 526.1 2571.7 533.5 2564.2 540.8 2555.8 548.2 2546.4 555.6 2535.8 562.9 2524.2 570.3 2511.3 577.7 2497.3 585 2482.2 592.4 2466.1 599.8 2449.1 607.1 2431.3 614.5 2412.9 621.8 2394.2 629.2 2375.4 636.6 2357.4 643.9 2340.3 651.3 2324.2 658.7 2309.2 666 2295.4 673.4 2282.6 680.8 2271 688.1 2260.4 695.5 2250.7 702.9 2242 710.2 2234.1 717.6 2226.9 725 2220.4 732.3 2214.6 739.7 2209.3 747.1 2204.5 754.4 2200.2 761.8 2196.3 769.2 2192.7 776.5 2189.5 783.9 2186.6 791.3 2183.9 798.6 2181.5 806 2179.3 813.4 2177.2 820.7 2175.4 828.1 2173.7 835.5 2172.1 842.8 2170.7 850.2 2169.4 857.6 2168.1 864.9 2167 872.3 2166 879.7 2165 887 2164.1 894.4 2163.3 901.8 2162.5 909.1 2161.8 916.5 2161.1 923.9 2160.5 931.2 2159.9 938.6 2159.4 946 2158.9 953.3 2158.4 960.7 2157.9 968.1 2157.5 975.4 2157.1 982.8 2156.8 990.1 2156.4 997.5 2156.1 1004.9 2155.8 1012.2 2155.5 1019.6 2155.2 1027 2154.9 1034.3 2154.7 1041.7 2154.4 1049.1 2154.2 1056.4 2154 1063.8 2153.8 1071.2 2153.6 1078.5 2153.4 1085.9 2153.2 1093.3 2153.1 1100.6 2152.9 1108 2152.7 1115.4 2152.6 1122.7 2152.5 1130.1 2152.3 1137.5 2152.2 1144.8 2152.1 1152.2 2152" fill="none" stroke="#2E8B57" stroke-width="4.5" stroke-linejoin="round"/>
<polyline points="415.6 2586.4 423 2583.4 430.3 2580.1 437.7 2576.6 445.1 2572.8 452.4 2568.7 459.8 2564.2 467.2 2559.4 474.5 2554.3 481.9 2548.7 489.3 2542.8 496.6 2536.6 504 2529.9 511.4 2522.9 518.7 2515.5 526.1 2507.8 533.5 2499.9 540.8 2491.8 548.2 2483.6 555.6 2475.5 562.9 2467.5 570.3 2459.8 577.7 2452.7 585 2446.2 592.4 2440.6 599.8 2436 607.1 2432.6 614.5 2430.5 621.8 2429.8 629.2 2430.4 636.6 2432.1 643.9 2434.9 651.3 2438.7 658.7 2443.5 666 2448.9 673.4 2455.1 680.8 2461.7 688.1 2468.8 695.5 2476 702.9 2483.4 710.2 2490.8 717.6 2498.2 725 2505.4 732.3 2512.5 739.7 2519.3 747.1 2525.9 754.4 2532.1 761.8 2538.1 769.2 2543.7 776.5 2549 783.9 2554 791.3 2558.7 798.6 2563.1 806 2567.2 813.4 2571.1 820.7 2574.7 828.1 2578 835.5 2581.1 842.8 2584 850.2 2586.7 857.6 2589.2 864.9 2591.5 872.3 2593.7 879.7 2595.6 887 2597.5 894.4 2599.2 901.8 2600.8 909.1 2602.2 916.5 2603.6 923.9 2604.9 931.2 2606 938.6 2607.1 946 2608.1 953.3 2609 960.7 2609.9 968.1 2610.7 975.4 2611.4 982.8 2612.1 990.1 2612.7 997.5 2613.3 1004.9 2613.8 1012.2 2614.3 1019.6 2614.8 1027 2615.2 1034.3 2615.6 1041.7 2615.9 1049.1 2616.3 1056.4 2616.6 1063.8 2616.9 1071.2 2617.1 1078.5 2617.4 1085.9 2617.6 1093.3 2617.8 1100.6 2618 1108 2618.2 1115.4 2618.4 1122.7 2618.5 1130.1 2618.6 1137.5 2618.8 1144.8 2618.9 1152.2 2619" fill="none" stroke="#2E8B57" stroke-width="4.5" stroke-linejoin="round"/>
<path d="M433.7 2605.3h13.5v13.5h-13.5zM465.9 2597.2h13.5v13.5h-13.5zM498.2 2581.7h13.5v13.5h-13.5zM530.4 2553.4h13.5v13.5h-13.5zM562.6 2506.2h13.5v13.5h-13.5zM594.8 2437.9h13.5v13.5h-13.5zM627.1 2357.3h13.5v13.5h-13.5zM659.3 2288.6h13.5v13.5h-13.5zM691.5 2240.6h13.5v13.5h-13.5zM723.7 2209.2h13.5v13.5h-13.5zM756 2189.1h13.5v13.5h-13.5zM788.2 2175.9h13.5v13.5h-13.5zM820.4 2167.1h13.5v13.5h-13.5zM852.7 2161.1h13.5v13.5h-13.5zM884.9 2156.9h13.5v13.5h-13.5zM917.1 2153.8h13.5v13.5h-13.5zM949.3 2151.5h13.5v13.5h-13.5zM981.6 2149.7h13.5v13.5h-13.5zM1013.8 2148.4h13.5v13.5h-13.5zM1046 2147.3h13.5v13.5h-13.5zM1078.2 2146.5h13.5v13.5h-13.5zM1110.5 2145.8h13.5v13.5h-13.5zM1142.7 2145.3h13.5v13.5h-13.5z" fill="#2E8B57"/>
<path d="M433.7 2568.5h13.5v13.5h-13.5zM465.9 2548.8h13.5v13.5h-13.5zM498.2 2522.3h13.5v13.5h-13.5zM530.4 2489.1h13.5v13.5h-13.5zM562.6 2454h13.5v13.5h-13.5zM594.8 2428.3h13.5v13.5h-13.5zM627.1 2424.6h13.5v13.5h-13.5zM659.3 2442.2h13.5v13.5h-13.5zM691.5 2472h13.5v13.5h-13.5zM723.7 2504h13.5v13.5h-13.5zM756 2532h13.5v13.5h-13.5zM788.2 2554.2h13.5v13.5h-13.5zM820.4 2570.9h13.5v13.5h-13.5zM852.7 2583h13.5v13.5h-13.5zM884.9 2591.8h13.5v13.5h-13.5zM917.1 2598.1h13.5v13.5h-13.5zM949.3 2602.6h13.5v13.5h-13.5zM981.6 2605.8h13.5v13.5h-13.5zM1013.8 2608.1h13.5v13.5h-13.5zM1046 2609.7h13.5v13.5h-13.5zM1078.2 2610.8h13.5v13.5h-13.5zM1110.5 2611.6h13.5v13.5h-13.5zM1142.7 2612.2h13.5v13.5h-13.5z" fill="#2E8B57"/>
<polyline points="415.6 2615.2 423 2614.3 430.3 2613.2 437.7 2612 445.1 2610.6 452.4 2608.9 459.8 2607 467.2 2604.7 474.5 2602.1 481.9 2599.1 489.3 2595.6 496.6 2591.6 504 2586.9 511.4 2581.6 518.7 2575.5 526.1 2568.6 533.5 2560.7 540.8 2551.8 548.2 2541.9 555.6 2530.9 562.9 2518.7 570.3 2505.3 577.7 2490.8 585 2475.2 592.4 2458.6 599.8 2441.2 607.1 2423 614.5 2404.4 621.8 2385.5 629.2 2366.9 636.6 2349.1 643.9 2332.3 651.3 2316.6 658.7 2302 666 2288.5 673.4 2276.2 680.8 2264.9 688.1 2254.6 695.5 2245.3 702.9 2236.8 710.2 2229.2 717.6 2222.3 725 2216 732.3 2210.4 739.7 2205.3 747.1 2200.7 754.4 2196.5 761.8 2192.7 769.2 2189.3 776.5 2186.2 783.9 2183.3 791.3 2180.8 798.6 2178.4 806 2176.3 813.4 2174.3 820.7 2172.5 828.1 2170.8 835.5 2169.3 842.8 2167.9 850.2 2166.7 857.6 2165.5 864.9 2164.4 872.3 2163.4 879.7 2162.4 887 2161.5 894.4 2160.7 901.8 2160 909.1 2159.3 916.5 2158.6 923.9 2158 931.2 2157.5 938.6 2156.9 946 2156.4 953.3 2155.9 960.7 2155.5 968.1 2155.1 975.4 2154.7 982.8 2154.3 990.1 2154 997.5 2153.7 1004.9 2153.4 1012.2 2153.1 1019.6 2152.8 1027 2152.5 1034.3 2152.3 1041.7 2152 1049.1 2151.8 1056.4 2151.6 1063.8 2151.4 1071.2 2151.2 1078.5 2151 1085.9 2150.9 1093.3 2150.7 1100.6 2150.5 1108 2150.4 1115.4 2150.2 1122.7 2150.1 1130.1 2150 1137.5 2149.9 1144.8 2149.7 1152.2 2149.6" fill="none" stroke="#000080" stroke-width="4.5" stroke-linejoin="round"/>
<polyline points="415.6 2581.1 423 2577.7 430.3 2573.9 437.7 2569.9 445.1 2565.5 452.4 2560.8 459.8 2555.7 467.2 2550.3 474.5 2544.4 481.9 2538.1 489.3 2531.5 496.6 2524.4 504 2517 511.4 2509.1 518.7 2501 526.1 2492.6 533.5 2484 540.8 2475.3 548.2 2466.7 555.6 2458.2 562.9 2450.1 570.3 2442.5 577.7 2435.6 585 2429.7 592.4 2424.8 599.8 2421.2 607.1 2419 614.5 2418.3 621.8 2418.9 629.2 2420.6 636.6 2423.5 643.9 2427.5 651.3 2432.3 658.7 2438 666 2444.3 673.4 2451.2 680.8 2458.5 688.1 2466.1 695.5 2473.8 702.9 2481.5 710.2 2489.3 717.6 2496.8 725 2504.3 732.3 2511.4 739.7 2518.3 747.1 2525 754.4 2531.3 761.8 2537.2 769.2 2542.9 776.5 2548.2 783.9 2553.3 791.3 2558 798.6 2562.4 806 2566.5 813.4 2570.4 820.7 2574 828.1 2577.3 835.5 2580.4 842.8 2583.3 850.2 2586 857.6 2588.5 864.9 2590.9 872.3 2593 879.7 2595 887 2596.9 894.4 2598.6 901.8 2600.2 909.1 2601.7 916.5 2603.1 923.9 2604.4 931.2 2605.5 938.6 2606.6 946 2607.7 953.3 2608.6 960.7 2609.5 968.1 2610.3 975.4 2611 982.8 2611.7 990.1 2612.4 997.5 2613 1004.9 2613.5 1012.2 2614 1019.6 2614.5 1027 2614.9 1034.3 2615.3 1041.7 2615.7 1049.1 2616 1056.4 2616.4 1063.8 2616.7 1071.2 2616.9 1078.5 2617.2 1085.9 2617.4 1093.3 2617.7 1100.6 2617.9 1108 2618 1115.4 2618.2 1122.7 2618.4 1130.1 2618.5 1137.5 2618.7 1144.8 2618.8 1152.2 2618.9" fill="none" stroke="#000080" stroke-width="4.5" stroke-linejoin="round"/>
<path d="M433.7 2604.8h13.5v13.5h-13.5zM465.9 2596.1h13.5v13.5h-13.5zM498.2 2579.5h13.5v13.5h-13.5zM530.4 2549.6h13.5v13.5h-13.5zM562.6 2500.3h13.5v13.5h-13.5zM594.8 2429.9h13.5v13.5h-13.5zM627.1 2348.9h13.5v13.5h-13.5zM659.3 2281.8h13.5v13.5h-13.5zM691.5 2235.3h13.5v13.5h-13.5zM723.7 2205h13.5v13.5h-13.5zM756 2185.5h13.5v13.5h-13.5zM788.2 2172.8h13.5v13.5h-13.5zM820.4 2164.3h13.5v13.5h-13.5zM852.7 2158.4h13.5v13.5h-13.5zM884.9 2154.3h13.5v13.5h-13.5zM917.1 2151.3h13.5v13.5h-13.5zM949.3 2149h13.5v13.5h-13.5zM981.6 2147.3h13.5v13.5h-13.5zM1013.8 2146h13.5v13.5h-13.5zM1046 2145h13.5v13.5h-13.5zM1078.2 2144.1h13.5v13.5h-13.5zM1110.5 2143.5h13.5v13.5h-13.5zM1142.7 2142.9h13.5v13.5h-13.5z" fill="#000080"/>
<path d="M433.7 2561.5h13.5v13.5h-13.5zM465.9 2539.2h13.5v13.5h-13.5zM498.2 2509.3h13.5v13.5h-13.5zM530.4 2472.9h13.5v13.5h-13.5zM562.6 2436.7h13.5v13.5h-13.5zM594.8 2413.8h13.5v13.5h-13.5zM627.1 2415.6h13.5v13.5h-13.5zM659.3 2437.6h13.5v13.5h-13.5zM691.5 2469.9h13.5v13.5h-13.5zM723.7 2502.9h13.5v13.5h-13.5zM756 2531.2h13.5v13.5h-13.5zM788.2 2553.5h13.5v13.5h-13.5zM820.4 2570.2h13.5v13.5h-13.5zM852.7 2582.4h13.5v13.5h-13.5zM884.9 2591.2h13.5v13.5h-13.5zM917.1 2597.6h13.5v13.5h-13.5zM949.3 2602.2h13.5v13.5h-13.5zM981.6 2605.5h13.5v13.5h-13.5zM1013.8 2607.8h13.5v13.5h-13.5zM1046 2609.5h13.5v13.5h-13.5zM1078.2 2610.7h13.5v13.5h-13.5zM1110.5 2611.5h13.5v13.5h-13.5zM1142.7 2612.1h13.5v13.5h-13.5z" fill="#000080"/>
<text x="699" y="2694.6" font-size="25" textLength="167.4" lengthAdjust="spacingAndGlyphs">Frequency (Hz)</text>
<text x="334.5" y="2391.4" font-size="26" transform="rotate(-90 334.5 2391.4)">M&#8242;</text>
<text x="1234" y="2393" font-size="26" transform="rotate(90 1234 2393)">M&#8243;</text>
<line x1="476" y1="2129.5" x2="518" y2="2129.5" stroke="#000080" stroke-width="3"/>
<path d="M491.5 2124h11v11h-11z" fill="#000080"/>
<text x="529.5" y="2135" font-size="25" textLength="27" lengthAdjust="spacingAndGlyphs">C<tspan font-size="17" dy="5">0</tspan></text>
<line x1="476" y1="2167.5" x2="518" y2="2167.5" stroke="#FF00FF" stroke-width="3"/>
<path d="M497 2160.9l6.6 6.6l-6.6 6.6l-6.6 -6.6z" fill="#FF00FF"/>
<text x="529.5" y="2173" font-size="25" textLength="27" lengthAdjust="spacingAndGlyphs">C<tspan font-size="17" dy="5">2</tspan></text>
<line x1="476" y1="2205" x2="518" y2="2205" stroke="#FF0000" stroke-width="3"/>
<path d="M497 2198.9l5.5 10.4h-11z" fill="#FF0000"/>
<text x="529.5" y="2210.5" font-size="25" textLength="27" lengthAdjust="spacingAndGlyphs">C<tspan font-size="17" dy="5">4</tspan></text>
<line x1="476" y1="2240.7" x2="518" y2="2240.7" stroke="#8B0000" stroke-width="3"/>
<path d="M491.5 2240.7a5.5 5.5 0 1 0 11 0a5.5 5.5 0 1 0 -11 0" fill="#8B0000"/>
<text x="534" y="2246.2" font-size="25" textLength="27" lengthAdjust="spacingAndGlyphs">C<tspan font-size="17" dy="5">6</tspan></text>
<line x1="476" y1="2274" x2="518" y2="2274" stroke="#2E8B57" stroke-width="3"/>
<path d="M491.5 2268.5h11v11h-11z" fill="#2E8B57"/>
<text x="529.5" y="2279.5" font-size="25" textLength="27" lengthAdjust="spacingAndGlyphs">C<tspan font-size="17" dy="5">8</tspan></text>
<line x1="476" y1="2309.8" x2="518" y2="2309.8" stroke="#800080" stroke-width="3"/>
<path d="M497 2303.2l6.6 6.6l-6.6 6.6l-6.6 -6.6z" fill="#800080"/>
<text x="529.5" y="2315.3" font-size="25" textLength="34" lengthAdjust="spacingAndGlyphs">C<tspan font-size="17" dy="5">10</tspan></text>
<line x1="614.7" y1="2389.9" x2="455" y2="2393.5" stroke="#000" stroke-width="2"/>
<path d="M445.8 2393.7L458 2388.5L458 2399Z" fill="#000"/>
<line x1="894.8" y1="2586" x2="1130" y2="2579.8" stroke="#000" stroke-width="2"/>
<path d="M1141.4 2579.5L1129 2574.5L1129 2585Z" fill="#000"/>
<polyline points="819.9 2463.9 822.3 2465.3 824.7 2466.6 827.1 2467.8 829.6 2468.9 832 2469.8 834.4 2470.5 836.8 2470.8 839.2 2470.8 841.6 2470.5 844 2469.9 846.4 2468.9 848.9 2467.6 851.3 2466.1 853.7 2464.3 856.1 2462.3 858.5 2460.1 860.9 2457.7 863.3 2455.1 865.8 2452.4 868.2 2449.6 870.6 2446.6 873 2443.5 875.4 2440.4 877.8 2437.2 880.2 2434 882.6 2430.8 885.1 2427.6 887.5 2424.4 889.9 2421.3 892.3 2418.2 894.7 2415.3 897.1 2412.4 899.5 2409.5 902 2406.8 904.4 2404.1 906.8 2401.4 909.2 2398.8 911.6 2396.2 914 2393.7 916.4 2391.2 918.9 2388.7 921.3 2386.3 923.7 2383.8 926.1 2381.4 928.5 2378.9 930.9 2376.4 933.3 2374 935.7 2371.5 938.2 2368.9 940.6 2366.4 943 2363.8 945.4 2361.1 947.8 2358.4 950.2 2355.7 952.6 2352.8 955.1 2350 957.5 2347 959.9 2343.9 962.3 2340.8 964.7 2337.6 967.1 2334.3 969.5 2330.9 971.9 2327.4 974.4 2323.9 976.8 2320.4 979.2 2316.9 981.6 2313.4 984 2310 986.4 2306.6 988.8 2303.2 991.3 2300 993.7 2296.8 996.1 2293.8 998.5 2290.8 1000.9 2288.1 1003.3 2285.5 1005.7 2283.1 1008.1 2280.9 1010.6 2278.9 1013 2277.2 1015.4 2275.7 1017.8 2274.5 1020.2 2273.6 1022.6 2273 1025 2272.7 1027.5 2272.7 1029.9 2273.1 1032.3 2273.9 1034.7 2275 1037.1 2276.5 1039.5 2278.4 1041.9 2280.7 1044.4 2283.3 1046.8 2286.3 1049.2 2289.6 1051.6 2293.2 1054 2297.1 1056.4 2301.2 1058.8 2305.7 1061.2 2310.4 1063.7 2315.4 1066.1 2320.6 1068.5 2326 1070.9 2331.6 1073.3 2337.5 1075.7 2343.5 1078.1 2349.7 1080.6 2356 1083 2362.5 1085.4 2369.1 1087.8 2375.8 1090.2 2382.6 1092.6 2389.6 1095 2396.6 1097.4 2403.6 1099.9 2410.8 1102.3 2417.9 1104.7 2425.1 1107.1 2432.3" fill="none" stroke="#000080" stroke-width="4.2" stroke-linejoin="round"/>
<path d="M819.9 2456.1l7.8 7.8l-7.8 7.8l-7.8 -7.8zM891.7 2411.2l7.8 7.8l-7.8 7.8l-7.8 -7.8zM963.5 2331.4l7.8 7.8l-7.8 7.8l-7.8 -7.8zM1035.3 2267.6l7.8 7.8l-7.8 7.8l-7.8 -7.8zM1107.1 2424.5l7.8 7.8l-7.8 7.8l-7.8 -7.8z" fill="#FF0000"/>
<line x1="819.9" y1="2205" x2="819.9" y2="2473.2" stroke="#000" stroke-width="2.3"/>
<line x1="818.9" y1="2472.2" x2="1108" y2="2472.2" stroke="#000" stroke-width="2.3"/>
<line x1="819.9" y1="2206" x2="825.9" y2="2206" stroke="#000" stroke-width="2.3"/>
<text x="808.5" y="2215" font-size="26" text-anchor="end" textLength="36.5" lengthAdjust="spacingAndGlyphs">180</text>
<line x1="819.9" y1="2272.6" x2="825.9" y2="2272.6" stroke="#000" stroke-width="2.3"/>
<text x="808.5" y="2281.6" font-size="26" text-anchor="end" textLength="36.5" lengthAdjust="spacingAndGlyphs">160</text>
<line x1="819.9" y1="2339.1" x2="825.9" y2="2339.1" stroke="#000" stroke-width="2.3"/>
<text x="808.5" y="2348.1" font-size="26" text-anchor="end" textLength="36.5" lengthAdjust="spacingAndGlyphs">140</text>
<line x1="819.9" y1="2405.7" x2="825.9" y2="2405.7" stroke="#000" stroke-width="2.3"/>
<text x="808.5" y="2414.7" font-size="26" text-anchor="end" textLength="36.5" lengthAdjust="spacingAndGlyphs">120</text>
<line x1="819.9" y1="2472.2" x2="825.9" y2="2472.2" stroke="#000" stroke-width="2.3"/>
<text x="808.5" y="2481.2" font-size="26" text-anchor="end" textLength="36.5" lengthAdjust="spacingAndGlyphs">100</text>
<text x="819.9" y="2512.6" font-size="26" text-anchor="middle">0.2</text>
<line x1="891.7" y1="2472.2" x2="891.7" y2="2465.2" stroke="#000" stroke-width="2.3"/>
<text x="891.7" y="2512.6" font-size="26" text-anchor="middle">0.4</text>
<line x1="963.5" y1="2472.2" x2="963.5" y2="2465.2" stroke="#000" stroke-width="2.3"/>
<text x="963.5" y="2512.6" font-size="26" text-anchor="middle">0.6</text>
<line x1="1035.3" y1="2472.2" x2="1035.3" y2="2465.2" stroke="#000" stroke-width="2.3"/>
<text x="1035.3" y="2512.6" font-size="26" text-anchor="middle">0.8</text>
<line x1="1107.1" y1="2472.2" x2="1107.1" y2="2465.2" stroke="#000" stroke-width="2.3"/>
<text x="1107.1" y="2512.6" font-size="26" text-anchor="middle">1.0</text>
<text x="860.2" y="2543" font-size="25" textLength="205" lengthAdjust="spacingAndGlyphs">Conc. CuO (mol%)</text>
<text x="764.3" y="2387.6" font-size="26" textLength="77" lengthAdjust="spacingAndGlyphs" transform="rotate(-90 764.3 2387.6)">&#964; (ms)</text>
</svg>
</body></html>
